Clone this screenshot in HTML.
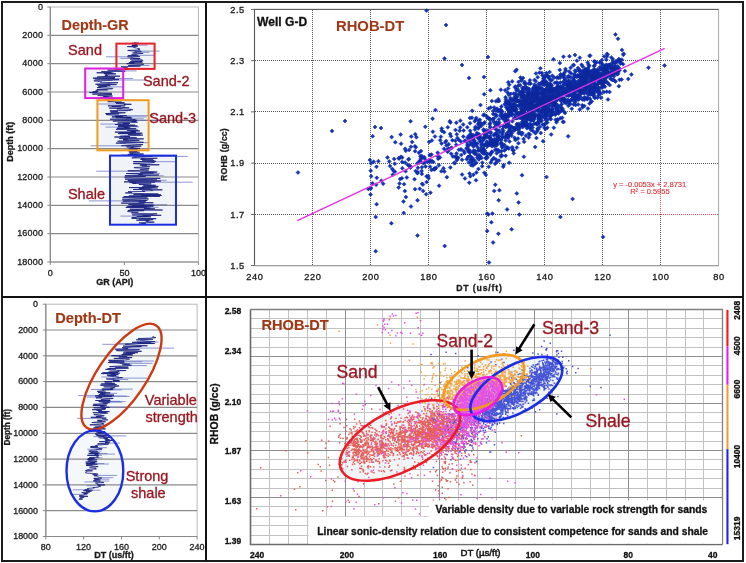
<!DOCTYPE html>
<html><head><meta charset="utf-8"><style>
html,body{margin:0;padding:0;background:#fff;}
body{width:746px;height:563px;overflow:hidden;}
svg{display:block;font-family:'Liberation Sans', Arial, sans-serif;}
text{paint-order:stroke;}
</style></head><body>
<svg width="746" height="563" viewBox="0 0 746 563">
<rect x="50.3" y="7.0" width="148.1" height="255.0" fill="#fff" stroke="#b8b8b8" stroke-width="1"/>
<rect x="116.4" y="43.6" width="38.2" height="25.3" fill="#f0f4f8"/>
<rect x="85.2" y="68.5" width="38" height="29.6" fill="#f0f4f8"/>
<rect x="97.4" y="100.2" width="51.2" height="50.1" fill="#f0f4f8"/>
<rect x="110.0" y="155.6" width="66" height="69.1" fill="#f0f4f8"/>
<line x1="50.3" y1="35.3" x2="198.4" y2="35.3" stroke="#8a8a8a" stroke-width="1.2"/>
<line x1="50.3" y1="63.7" x2="198.4" y2="63.7" stroke="#8a8a8a" stroke-width="1.2"/>
<line x1="50.3" y1="92" x2="198.4" y2="92" stroke="#8a8a8a" stroke-width="1.2"/>
<line x1="50.3" y1="120.3" x2="198.4" y2="120.3" stroke="#8a8a8a" stroke-width="1.2"/>
<line x1="50.3" y1="148.7" x2="198.4" y2="148.7" stroke="#8a8a8a" stroke-width="1.2"/>
<line x1="50.3" y1="177" x2="198.4" y2="177" stroke="#8a8a8a" stroke-width="1.2"/>
<line x1="50.3" y1="205.3" x2="198.4" y2="205.3" stroke="#8a8a8a" stroke-width="1.2"/>
<line x1="50.3" y1="233.7" x2="198.4" y2="233.7" stroke="#8a8a8a" stroke-width="1.2"/>
<line x1="50.3" y1="7.0" x2="50.3" y2="262.0" stroke="#888" stroke-width="1.2"/>
<line x1="50.3" y1="262.0" x2="198.4" y2="262.0" stroke="#888" stroke-width="1.2"/>
<line x1="47.3" y1="7" x2="50.3" y2="7" stroke="#888" stroke-width="1"/>
<text x="43.2" y="9.6" font-size="9" fill="#1a1a1a" stroke="#1a1a1a" stroke-width="0.3" text-anchor="end" letter-spacing="0.2">0</text>
<line x1="47.3" y1="35.3" x2="50.3" y2="35.3" stroke="#888" stroke-width="1"/>
<text x="43.2" y="37.9" font-size="9" fill="#1a1a1a" stroke="#1a1a1a" stroke-width="0.3" text-anchor="end" letter-spacing="0.2">2000</text>
<line x1="47.3" y1="63.7" x2="50.3" y2="63.7" stroke="#888" stroke-width="1"/>
<text x="43.2" y="66.3" font-size="9" fill="#1a1a1a" stroke="#1a1a1a" stroke-width="0.3" text-anchor="end" letter-spacing="0.2">4000</text>
<line x1="47.3" y1="92" x2="50.3" y2="92" stroke="#888" stroke-width="1"/>
<text x="43.2" y="94.6" font-size="9" fill="#1a1a1a" stroke="#1a1a1a" stroke-width="0.3" text-anchor="end" letter-spacing="0.2">6000</text>
<line x1="47.3" y1="120.3" x2="50.3" y2="120.3" stroke="#888" stroke-width="1"/>
<text x="43.2" y="122.9" font-size="9" fill="#1a1a1a" stroke="#1a1a1a" stroke-width="0.3" text-anchor="end" letter-spacing="0.2">8000</text>
<line x1="47.3" y1="148.7" x2="50.3" y2="148.7" stroke="#888" stroke-width="1"/>
<text x="43.2" y="151.3" font-size="9" fill="#1a1a1a" stroke="#1a1a1a" stroke-width="0.3" text-anchor="end" letter-spacing="0.2">10000</text>
<line x1="47.3" y1="177" x2="50.3" y2="177" stroke="#888" stroke-width="1"/>
<text x="43.2" y="179.6" font-size="9" fill="#1a1a1a" stroke="#1a1a1a" stroke-width="0.3" text-anchor="end" letter-spacing="0.2">12000</text>
<line x1="47.3" y1="205.3" x2="50.3" y2="205.3" stroke="#888" stroke-width="1"/>
<text x="43.2" y="207.9" font-size="9" fill="#1a1a1a" stroke="#1a1a1a" stroke-width="0.3" text-anchor="end" letter-spacing="0.2">14000</text>
<line x1="47.3" y1="233.7" x2="50.3" y2="233.7" stroke="#888" stroke-width="1"/>
<text x="43.2" y="236.3" font-size="9" fill="#1a1a1a" stroke="#1a1a1a" stroke-width="0.3" text-anchor="end" letter-spacing="0.2">16000</text>
<line x1="47.3" y1="262" x2="50.3" y2="262" stroke="#888" stroke-width="1"/>
<text x="43.2" y="264.6" font-size="9" fill="#1a1a1a" stroke="#1a1a1a" stroke-width="0.3" text-anchor="end" letter-spacing="0.2">18000</text>
<line x1="50.3" y1="262.0" x2="50.3" y2="265.0" stroke="#888" stroke-width="1"/>
<text x="50.3" y="276.2" font-size="9" fill="#1a1a1a" stroke="#1a1a1a" stroke-width="0.3" text-anchor="middle">0</text>
<line x1="124.4" y1="262.0" x2="124.4" y2="265.0" stroke="#888" stroke-width="1"/>
<text x="124.4" y="276.2" font-size="9" fill="#1a1a1a" stroke="#1a1a1a" stroke-width="0.3" text-anchor="middle">50</text>
<line x1="198.4" y1="262.0" x2="198.4" y2="265.0" stroke="#888" stroke-width="1"/>
<text x="198.4" y="276.2" font-size="9" fill="#1a1a1a" stroke="#1a1a1a" stroke-width="0.3" text-anchor="middle">100</text>
<text x="114.7" y="285" font-size="9" font-weight="bold" fill="#1a1a1a" stroke="#1a1a1a" stroke-width="0.3" text-anchor="middle">GR (API)</text>
<text x="13.2" y="141.7" font-size="9" font-weight="bold" fill="#1a1a1a" stroke="#1a1a1a" stroke-width="0.3" text-anchor="middle" transform="rotate(-90 13.2 141.7)">Depth (ft)</text>
<path fill="none" stroke="#5664b8" stroke-width="0.8" opacity="0.85" d="M136 42.8H132M131.9 45.1H147.4M141 51.1H159.6M136.2 52.3H149.2M137.6 55.3H154.5M127.3 56.8H106M140.2 58.4H120.4M128.3 65.6H149.3M121.4 70.9H136.5M114.8 78.5H133.1M113.7 80H146.7M98.3 86.9H122.9M117.2 100.2H133.1M126.1 104H96.9M109.9 110.8H128M126.9 115.7H153.9M111.9 116.9H146.7M125.8 118.8H143.7M137 120.3H161.6M129 124.1H100.4M117.9 126.8H139M128.6 127.1H105.5M120 142.7H148.1M121.4 145.8H90.7M143.6 154.1H127.2M138.4 154.9H121.4M133.4 156H163.1M152.6 156.4H187.7M133.2 161.7H176.2M135 171.2H96.2M126.2 173.5H160M124.9 175.8H163.7M127.8 180.3H166.5M155 182.2H192.7M129.6 200.9H88.9M128.5 204.7H167.2M125.8 207.3H158.5M148.5 216.1H120.3"/><polyline fill="none" stroke="#151d7c" stroke-width="0.8" stroke-linejoin="bevel" points="134.3,42.4 136,42.8 138.8,43.2 137.9,43.5 136.1,43.9 134.9,44.3 137.3,44.7 131.9,45.1 136.8,45.4 131.9,45.8 138,46.2 127.3,46.6 135.4,47 133.6,47.3 134.6,47.7 136.8,48.1 137.6,48.5 139.7,48.9 137.9,49.2 139.7,49.6 140.2,50 127.7,50.4 131,50.8 141,51.1 141.2,51.5 134.5,51.9 136.2,52.3 136.7,52.7 132.5,53 143.1,53.4 138.1,53.8 136.8,54.2 135.1,54.6 131.4,54.9 137.6,55.3 127.8,55.7 138.8,56.1 139.7,56.5 127.3,56.8 130.8,57.2 132.7,57.6 132.7,58 140.2,58.4 132.1,58.7 130,59.1 139.4,59.5 141.9,59.9 142.9,60.3 143.1,60.6 131.3,61 142.1,61.4 130.2,61.8 142.5,62.2 128.9,62.5 133.3,62.9 134.4,63.3 126.7,63.7 143.7,64.1 143.6,64.4 140.7,64.8 131.3,65.2 128.3,65.6 140.4,66 139.4,66.3 121,66.7 122.4,67.1 125.5,67.5 127.7,67.9 123.8,68.2 121.2,68.6 115.4,69 128.7,69.4 121.5,69.8 107.5,70.1 113.9,70.5 121.4,70.9 125.2,71.3 101.3,71.7 106.1,72 111.4,72.4 96.7,72.8 113.6,73.2 103.9,73.6 116,73.9 106,74.3 106.8,74.7 104.8,75.1 107.6,75.5 105.2,75.8 119.9,76.2 101.9,76.6 97.1,77 115,77.4 112.1,77.7 92.9,78.1 114.8,78.5 94.5,78.9 97,79.3 119,79.6 113.7,80 112.5,80.4 93.9,80.8 97.8,81.2 97.9,81.5 101.4,81.9 100.6,82.3 118,82.7 112.7,83.1 110.6,83.4 104.8,83.8 95.5,84.2 116.5,84.6 97.2,85 98,85.3 110.3,85.7 100.7,86.1 106.8,86.5 98.3,86.9 101.1,87.2 97.1,87.6 104.1,88 112.9,88.4 112.6,88.8 109.6,89.1 96.9,89.5 107.7,89.9 96.1,90.3 95.6,90.7 98,91 98.2,91.4 92.8,91.8 97.2,92.2 89.5,92.6 99.4,92.9 111.9,93.3 102.9,93.7 92.4,94.1 112,94.5 109,94.8 98,95.2 97.7,95.6 112.5,96 103.3,96.4 108.4,96.7 107.5,97.1 99.9,97.5 113.5,97.9 104.4,98.3 109.7,98.6 105.5,99 113.2,99.4 114.2,99.8 117.2,100.2 117,100.5 113.8,100.9 111.5,101.3 107.7,101.7 121.6,102.1 115.2,102.4 124.5,102.8 116,103.2 119.3,103.6 126.1,104 131.4,104.3 123.8,104.7 125.4,105.1 123.8,105.5 107.9,105.9 121,106.2 111.8,106.6 124.6,107 122.8,107.4 129.1,107.8 109.2,108.1 122.3,108.5 116.8,108.9 131.2,109.3 132.8,109.7 129.6,110 130.5,110.4 109.9,110.8 110.6,111.2 117.8,111.6 113.8,111.9 110.6,112.3 125.4,112.7 121.6,113.1 105.5,113.5 119,113.8 111.5,114.2 106,114.6 110.6,115 119.2,115.4 126.9,115.7 114.9,116.1 122.7,116.5 111.9,116.9 130.9,117.3 115.8,117.6 132.1,118 128.1,118.4 125.8,118.8 110.1,119.2 135.2,119.5 133.2,119.9 137,120.3 118.3,120.7 112.9,121.1 136.2,121.4 131.7,121.8 137.5,122.2 121.7,122.6 117.6,123 130,123.3 123,123.7 129,124.1 115.1,124.5 126.9,124.9 135.2,125.2 118.2,125.6 137.4,126 126.5,126.4 117.9,126.8 128.6,127.1 123.9,127.5 130.3,127.9 116.9,128.3 136.2,128.7 119.4,129 116,129.4 132.1,129.8 137.8,130.2 127.2,130.6 139.8,130.9 130.7,131.3 135.8,131.7 114.9,132.1 136,132.5 119.2,132.8 142.4,133.2 118.1,133.6 140.4,134 132.3,134.4 128.1,134.7 142.8,135.1 136.6,135.5 123.4,135.9 119.8,136.3 129.9,136.6 114.4,137 123.6,137.4 136.7,137.8 126.9,138.2 119.2,138.5 143.7,138.9 123,139.3 127.5,139.7 123.4,140.1 139.3,140.4 122.4,140.8 117.5,141.2 129.6,141.6 137.1,142 143.5,142.3 120,142.7 115.9,143.1 122.3,143.5 127.7,143.9 134.5,144.2 143,144.6 138.3,145 131.3,145.4 121.4,145.8 141.2,146.1 137.8,146.5 126.5,146.9 133.5,147.3 130.8,147.7 136.2,148 140,148.4 128.5,148.8 137.3,149.2 132.5,149.6 131,149.9 124.6,150.3 128.5,150.7 133.7,151.1 137.1,151.5 128.8,151.8 139.6,152.2 129.7,152.6 130.1,153 129.9,153.4 136.7,153.7 143.6,154.1 128.2,154.5 138.4,154.9 130.1,155.3 143.9,155.6 133.4,156 152.6,156.4 141.5,156.8 137.4,157.2 134.9,157.5 131.8,157.9 157.3,158.3 141.2,158.7 144.7,159.1 140.4,159.4 153.2,159.8 142.2,160.2 154.1,160.6 153.2,161 155.9,161.3 133.2,161.7 154.7,162.1 154.2,162.5 151,162.9 146.4,163.2 133.3,163.6 140.2,164 140.7,164.4 159.3,164.8 139.8,165.1 146.8,165.5 141.7,165.9 144.9,166.3 149.8,166.7 147.5,167 134,167.4 134.2,167.8 144,168.2 149.3,168.6 145.5,168.9 140.3,169.3 143,169.7 148.7,170.1 133.4,170.5 127.8,170.8 135,171.2 154.1,171.6 157.2,172 156,172.4 140.4,172.7 153.8,173.1 126.2,173.5 133.9,173.9 142.5,174.3 138.6,174.6 158.9,175 151.3,175.4 124.9,175.8 136.9,176.2 145.5,176.5 126.1,176.9 124.5,177.3 125.2,177.7 140.4,178.1 160.2,178.4 141.7,178.8 125,179.2 147.1,179.6 157,180 127.8,180.3 129.2,180.7 160.9,181.1 131.9,181.5 124,181.9 155,182.2 129.5,182.6 135.9,183 132.5,183.4 151.2,183.8 149.6,184.1 138.9,184.5 148.7,184.9 155.7,185.3 143.4,185.7 151,186 158.4,186.4 142.3,186.8 154.6,187.2 129,187.6 157.7,187.9 138.9,188.3 144,188.7 151.5,189.1 133.1,189.5 162.3,189.8 151.4,190.2 152.5,190.6 141.9,191 145.1,191.4 128,191.7 129.6,192.1 131.9,192.5 125.3,192.9 130.8,193.3 144.6,193.6 158.4,194 133.5,194.4 160.9,194.8 140.9,195.2 161.6,195.5 128.9,195.9 160,196.3 123.6,196.7 147.5,197.1 127.8,197.4 122.3,197.8 130.6,198.2 146.7,198.6 148.6,199 137.3,199.3 122.4,199.7 124.5,200.1 147.4,200.5 129.6,200.9 122.7,201.2 145.6,201.6 138.6,202 141,202.4 153.3,202.8 121.1,203.1 139,203.5 144.4,203.9 132.3,204.3 128.5,204.7 153.5,205 153.9,205.4 131.8,205.8 153.3,206.2 127.3,206.6 146.8,206.9 125.8,207.3 146.3,207.7 150.4,208.1 144.2,208.5 154.8,208.8 129.8,209.2 141.8,209.6 162.5,210 127.8,210.4 144.2,210.7 128.1,211.1 127.5,211.5 130.6,211.9 138.3,212.3 132.1,212.6 131.4,213 137.3,213.4 157.1,213.8 152.9,214.2 153,214.5 132.1,214.9 161.2,215.3 142.6,215.7 148.5,216.1 136.9,216.4 151,216.8 137,217.2 131.9,217.6 136.8,218 131.6,218.3 156.2,218.7 138.9,219.1 153.2,219.5 152.6,219.9 136.3,220.2 149.5,220.6 145.5,221 146.3,221.4 149.1,221.8 154.3,222.1 149.8,222.5 138.9,222.9 145.9,223.3 141.3,223.7"/>
<rect x="116.4" y="43.6" width="38.2" height="25.3" fill="none" stroke="#e8202a" stroke-width="2"/>
<rect x="85.2" y="68.5" width="38" height="29.6" fill="none" stroke="#e020e0" stroke-width="2"/>
<rect x="97.4" y="100.2" width="51.2" height="50.1" fill="none" stroke="#f39a1e" stroke-width="2"/>
<rect x="110.0" y="155.6" width="66" height="69.1" fill="none" stroke="#1c2fe0" stroke-width="2"/>
<text x="61.5" y="29.9" font-size="14.4" font-weight="bold" fill="#a03814" stroke="#a03814" stroke-width="0.15">Depth-GR</text>
<text x="68.1" y="54.8" font-size="14.5" fill="#9a1520" stroke="#9a1520" stroke-width="0.3">Sand</text>
<text x="142.9" y="86.2" font-size="14.5" fill="#9a1520" stroke="#9a1520" stroke-width="0.3">Sand-2</text>
<text x="149.3" y="123.1" font-size="14.5" fill="#9a1520" stroke="#9a1520" stroke-width="0.3">Sand-3</text>
<text x="67.9" y="198.6" font-size="14.5" fill="#9a1520" stroke="#9a1520" stroke-width="0.3">Shale</text>
<rect x="45.8" y="304.2" width="151.3" height="232.3" fill="#fff" stroke="#b8b8b8" stroke-width="1"/>
<ellipse cx="121.5" cy="376.6" rx="61.8" ry="24.0" transform="rotate(-55.8 121.5 376.6)" fill="#f5f8fb"/>
<ellipse cx="94.9" cy="470.9" rx="28.4" ry="40.5" transform="rotate(0 94.9 470.9)" fill="#f5f8fb"/>
<line x1="45.8" y1="330" x2="197.1" y2="330" stroke="#8a8a8a" stroke-width="1.2"/>
<line x1="45.8" y1="355.8" x2="197.1" y2="355.8" stroke="#8a8a8a" stroke-width="1.2"/>
<line x1="45.8" y1="381.6" x2="197.1" y2="381.6" stroke="#8a8a8a" stroke-width="1.2"/>
<line x1="45.8" y1="407.4" x2="197.1" y2="407.4" stroke="#8a8a8a" stroke-width="1.2"/>
<line x1="45.8" y1="433.3" x2="197.1" y2="433.3" stroke="#8a8a8a" stroke-width="1.2"/>
<line x1="45.8" y1="459.1" x2="197.1" y2="459.1" stroke="#8a8a8a" stroke-width="1.2"/>
<line x1="45.8" y1="484.9" x2="197.1" y2="484.9" stroke="#8a8a8a" stroke-width="1.2"/>
<line x1="45.8" y1="510.7" x2="197.1" y2="510.7" stroke="#8a8a8a" stroke-width="1.2"/>
<line x1="45.8" y1="304.2" x2="45.8" y2="536.5" stroke="#888" stroke-width="1.2"/>
<line x1="45.8" y1="536.5" x2="197.1" y2="536.5" stroke="#888" stroke-width="1.2"/>
<line x1="42.8" y1="304.2" x2="45.8" y2="304.2" stroke="#888" stroke-width="1"/>
<text x="37.9" y="307" font-size="8.9" fill="#1a1a1a" stroke="#1a1a1a" stroke-width="0.3" text-anchor="end">0</text>
<line x1="42.8" y1="330" x2="45.8" y2="330" stroke="#888" stroke-width="1"/>
<text x="37.9" y="332.8" font-size="8.9" fill="#1a1a1a" stroke="#1a1a1a" stroke-width="0.3" text-anchor="end">2000</text>
<line x1="42.8" y1="355.8" x2="45.8" y2="355.8" stroke="#888" stroke-width="1"/>
<text x="37.9" y="358.6" font-size="8.9" fill="#1a1a1a" stroke="#1a1a1a" stroke-width="0.3" text-anchor="end">4000</text>
<line x1="42.8" y1="381.6" x2="45.8" y2="381.6" stroke="#888" stroke-width="1"/>
<text x="37.9" y="384.4" font-size="8.9" fill="#1a1a1a" stroke="#1a1a1a" stroke-width="0.3" text-anchor="end">6000</text>
<line x1="42.8" y1="407.4" x2="45.8" y2="407.4" stroke="#888" stroke-width="1"/>
<text x="37.9" y="410.2" font-size="8.9" fill="#1a1a1a" stroke="#1a1a1a" stroke-width="0.3" text-anchor="end">8000</text>
<line x1="42.8" y1="433.3" x2="45.8" y2="433.3" stroke="#888" stroke-width="1"/>
<text x="37.9" y="436.1" font-size="8.9" fill="#1a1a1a" stroke="#1a1a1a" stroke-width="0.3" text-anchor="end">10000</text>
<line x1="42.8" y1="459.1" x2="45.8" y2="459.1" stroke="#888" stroke-width="1"/>
<text x="37.9" y="461.9" font-size="8.9" fill="#1a1a1a" stroke="#1a1a1a" stroke-width="0.3" text-anchor="end">12000</text>
<line x1="42.8" y1="484.9" x2="45.8" y2="484.9" stroke="#888" stroke-width="1"/>
<text x="37.9" y="487.7" font-size="8.9" fill="#1a1a1a" stroke="#1a1a1a" stroke-width="0.3" text-anchor="end">14000</text>
<line x1="42.8" y1="510.7" x2="45.8" y2="510.7" stroke="#888" stroke-width="1"/>
<text x="37.9" y="513.5" font-size="8.9" fill="#1a1a1a" stroke="#1a1a1a" stroke-width="0.3" text-anchor="end">16000</text>
<line x1="42.8" y1="536.5" x2="45.8" y2="536.5" stroke="#888" stroke-width="1"/>
<text x="37.9" y="539.3" font-size="8.9" fill="#1a1a1a" stroke="#1a1a1a" stroke-width="0.3" text-anchor="end">18000</text>
<line x1="45.8" y1="536.5" x2="45.8" y2="539.5" stroke="#888" stroke-width="1"/>
<text x="45.8" y="549.6" font-size="9" fill="#1a1a1a" stroke="#1a1a1a" stroke-width="0.3" text-anchor="middle">80</text>
<line x1="83.6" y1="536.5" x2="83.6" y2="539.5" stroke="#888" stroke-width="1"/>
<text x="83.6" y="549.6" font-size="9" fill="#1a1a1a" stroke="#1a1a1a" stroke-width="0.3" text-anchor="middle">120</text>
<line x1="121.5" y1="536.5" x2="121.5" y2="539.5" stroke="#888" stroke-width="1"/>
<text x="121.5" y="549.6" font-size="9" fill="#1a1a1a" stroke="#1a1a1a" stroke-width="0.3" text-anchor="middle">160</text>
<line x1="159.3" y1="536.5" x2="159.3" y2="539.5" stroke="#888" stroke-width="1"/>
<text x="159.3" y="549.6" font-size="9" fill="#1a1a1a" stroke="#1a1a1a" stroke-width="0.3" text-anchor="middle">200</text>
<line x1="197.1" y1="536.5" x2="197.1" y2="539.5" stroke="#888" stroke-width="1"/>
<text x="197.1" y="549.6" font-size="9" fill="#1a1a1a" stroke="#1a1a1a" stroke-width="0.3" text-anchor="middle">240</text>
<text x="114" y="558.4" font-size="9" font-weight="bold" fill="#1a1a1a" stroke="#1a1a1a" stroke-width="0.3" text-anchor="middle">DT (us/ft)</text>
<text x="10.2" y="427.2" font-size="8.2" font-weight="bold" fill="#1a1a1a" stroke="#1a1a1a" stroke-width="0.3" text-anchor="middle" transform="rotate(-90 10.2 427.2)">Depth (ft)</text>
<path fill="none" stroke="#5664b8" stroke-width="0.8" opacity="0.85" d="M136.5 342H158.2M154.5 343.5H117M124.8 344.3H102.4M123.2 348.1H174M124.1 361H153.9M112.8 361.8H142.3M119.8 363.3H152.6M129.1 365.6H146.9M118.5 377H101.3M116.7 378.1H146.9M113.9 379.6H128.2M101.8 389.1H133M113.1 389.5H91M106.6 389.9H121.9M100.2 393.3H117.2M114 395.2H100.7M102.1 395.6H78.2M95.2 396H126.6M112.3 396.4H129.6M99.6 397.1H86.7M98.9 401.3H119.8M98.9 401.7H125.5M101.5 402.1H122M92.9 405.5H106.7M105.7 407H127.2M102 418.4H77M93.6 427.9H105.4M105.1 431.7H85.4M107.3 435.9H126.3M104.3 436.6H93.2M107.7 438.5H99.3M109.1 443.1H119.8M94.5 447.7H106.8M101.8 449.2H87.3M88.8 451.1H101.7M88.7 453.4H107.4M98.4 454.1H114.9M87.4 455.3H102M89.2 457.9H102.3M85.9 463.6H104.2M96.5 464H108.8M97.2 475.4H117.2M99.6 477.7H113.4M94.5 479.2H109.3M93.8 481.1H109.2M100 481.9H84.5M97.6 485.7H86.6M84.7 489.8H72.8M92.7 490.2H100.3M84.9 494.4H72"/><polyline fill="none" stroke="#151d7c" stroke-width="0.8" stroke-linejoin="bevel" points="154,336.7 152.4,337.1 156,337.5 155.2,337.8 148.2,338.2 138.2,338.6 151.5,339 152.9,339.4 136.3,339.7 139.6,340.1 141.7,340.5 146.3,340.9 149.6,341.3 155.1,341.6 136.5,342 132.1,342.4 151.2,342.8 137.8,343.2 154.5,343.5 127,343.9 124.8,344.3 129.9,344.7 134.9,345.1 138.6,345.4 147.4,345.8 123.1,346.2 141.5,346.6 132.5,347 130.4,347.3 122.1,347.7 123.2,348.1 127.9,348.5 128,348.9 114.9,349.2 139.5,349.6 136.2,350 116.4,350.4 116.6,350.8 141.4,351.1 141.4,351.5 125.5,351.9 123.4,352.3 137.8,352.7 126.2,353 134.8,353.4 122.9,353.8 131.5,354.2 121.7,354.6 132.9,354.9 120.2,355.3 111.4,355.7 117.3,356.1 127.1,356.5 119,356.8 118.9,357.2 132.1,357.6 124.1,358 113.9,358.4 129.1,358.7 129.6,359.1 127.8,359.5 125.5,359.9 108.3,360.3 118.7,360.6 124.1,361 109.4,361.4 112.8,361.8 124.4,362.2 107.9,362.5 116.6,362.9 119.8,363.3 124.7,363.7 129.8,364.1 128.4,364.4 122.3,364.8 131.5,365.2 129.1,365.6 121.4,366 114.2,366.3 109.5,366.7 128.2,367.1 119,367.5 115.2,367.9 128.6,368.2 107.6,368.6 115.8,369 105.6,369.4 110.4,369.8 110.2,370.1 126.1,370.5 117.6,370.9 119.2,371.3 114.4,371.7 108.6,372 117.9,372.4 102.4,372.8 119.8,373.2 101.2,373.6 115.5,373.9 111,374.3 118.4,374.7 106.9,375.1 116.2,375.5 107.8,375.8 111.9,376.2 111.9,376.6 118.5,377 118.4,377.4 122.6,377.7 116.7,378.1 115.9,378.5 106.2,378.9 109.1,379.3 113.9,379.6 113,380 119.1,380.4 112.9,380.8 119.9,381.2 104.5,381.5 111.9,381.9 106,382.3 105.5,382.7 104.7,383.1 114.9,383.4 101.4,383.8 100.8,384.2 116.5,384.6 105.1,385 100.4,385.3 118.7,385.7 119.1,386.1 116.1,386.5 103.6,386.9 110.8,387.2 114.9,387.6 114.5,388 110.4,388.4 112.8,388.8 101.8,389.1 113.1,389.5 106.6,389.9 104.2,390.3 101.9,390.7 99.7,391 97.1,391.4 104.4,391.8 106.1,392.2 98,392.6 110.2,392.9 100.2,393.3 102.2,393.7 105.2,394.1 98.8,394.5 108.2,394.8 114,395.2 102.1,395.6 95.2,396 112.3,396.4 98.4,396.7 99.6,397.1 101.8,397.5 95.9,397.9 113.3,398.3 112.3,398.6 105.2,399 102.8,399.4 100.9,399.8 110.2,400.2 95.4,400.5 110.4,400.9 98.9,401.3 98.9,401.7 101.5,402.1 109.2,402.4 109.7,402.8 102.8,403.2 107.5,403.6 97.3,404 93.3,404.3 97.3,404.7 106.8,405.1 92.9,405.5 104.7,405.9 100.2,406.2 103.1,406.6 105.7,407 109.5,407.4 93.6,407.8 100,408.1 105.9,408.5 101.4,408.9 105.3,409.3 92.1,409.7 100.8,410 96.6,410.4 102.1,410.8 98.1,411.2 109.4,411.6 98.9,411.9 106.3,412.3 92.8,412.7 107.8,413.1 103.8,413.5 102.1,413.8 99.9,414.2 93.8,414.6 96.1,415 99.2,415.4 104.3,415.7 102.9,416.1 96,416.5 101.6,416.9 90.8,417.3 100,417.6 106.3,418 102,418.4 102.5,418.8 103.1,419.2 106,419.5 107.8,419.9 97.3,420.3 101.9,420.7 97.6,421.1 102.4,421.4 105.6,421.8 95,422.2 91.8,422.6 101.6,423 103.3,423.3 101.7,423.7 104.2,424.1 93.8,424.5 89.8,424.9 98.9,425.2 99.8,425.6 101.8,426 104.8,426.4 96.6,426.8 94.8,427.1 104,427.5 93.6,427.9 93.3,428.3 104.3,428.7 105.5,429 92.6,429.4 91.8,429.8 101,430.2 93,430.6 93.6,430.9 97.6,431.3 105.1,431.7 96.4,432.1 102.6,432.5 98.2,432.8 103.7,433.2 97.5,433.6 94.9,434 97.5,434.4 96.3,434.7 108.9,435.1 96.6,435.5 107.3,435.9 103.1,436.3 104.3,436.6 98.4,437 110.7,437.4 103.3,437.8 104.2,438.2 107.7,438.5 104.6,438.9 104.8,439.3 109.5,439.7 105.6,440.1 113.3,440.4 105.4,440.8 107.7,441.2 99.2,441.6 110.2,442 108.7,442.3 105,442.7 109.1,443.1 100.2,443.5 97.5,443.9 108.5,444.2 103.5,444.6 99.2,445 96,445.4 95.3,445.8 97.7,446.1 90.6,446.5 97.9,446.9 90.4,447.3 94.5,447.7 98.6,448 98.9,448.4 102.3,448.8 101.8,449.2 96.3,449.6 96.7,449.9 90.7,450.3 90.9,450.7 88.8,451.1 91.8,451.5 97.9,451.8 93.1,452.2 90.5,452.6 99.5,453 88.7,453.4 98,453.7 98.4,454.1 94.6,454.5 98.6,454.9 87.4,455.3 98.4,455.6 98.1,456 96.9,456.4 96.8,456.8 98.7,457.2 90,457.5 89.2,457.9 94.7,458.3 87.9,458.7 93.5,459.1 87.2,459.4 97,459.8 93.7,460.2 88.8,460.6 87.7,461 92.9,461.3 97.2,461.7 85.6,462.1 95.3,462.5 90,462.9 94.8,463.2 85.9,463.6 96.5,464 97.3,464.4 86.2,464.8 92.4,465.1 86.2,465.5 91.8,465.9 95.4,466.3 98.2,466.7 90.6,467 89.5,467.4 90.5,467.8 95.7,468.2 94.6,468.6 96.5,468.9 89.9,469.3 87.4,469.7 86.9,470.1 85.4,470.5 92.6,470.8 86,471.2 86.2,471.6 86.6,472 85.6,472.4 85.3,472.7 87,473.1 93.9,473.5 97.7,473.9 97.9,474.3 92.6,474.6 96,475 97.2,475.4 93.9,475.8 96.9,476.2 97.6,476.5 98.5,476.9 98.7,477.3 99.6,477.7 101.7,478.1 93.6,478.4 98.6,478.8 94.5,479.2 96.8,479.6 100.4,480 97.2,480.3 93.2,480.7 93.8,481.1 98.6,481.5 100,481.9 101.3,482.2 103.9,482.6 95.4,483 96.7,483.4 97.6,483.8 96.9,484.1 99.2,484.5 104.9,484.9 101.5,485.3 97.6,485.7 99.8,486 100.6,486.4 98.6,486.8 98.5,487.2 92.9,487.6 94.4,487.9 88.9,488.3 87.2,488.7 88.9,489.1 85.9,489.5 84.7,489.8 92.7,490.2 83.4,490.6 90.7,491 91.3,491.4 85.9,491.7 89.7,492.1 81.6,492.5 83.4,492.9 88.2,493.3 83.6,493.6 87,494 84.9,494.4 84.5,494.8 83.5,495.2 79.4,495.5 81.1,495.9 88,496.3 79.3,496.7 81.5,497.1 84.2,497.4 80.6,497.8 81.3,498.2 79.5,498.6 82.7,499 81.8,499.3 78.8,499.7"/>
<ellipse cx="121.5" cy="376.6" rx="61.8" ry="24.0" transform="rotate(-55.8 121.5 376.6)" fill="none" stroke="#cc3a14" stroke-width="2.4"/>
<ellipse cx="94.9" cy="470.9" rx="28.4" ry="40.5" transform="rotate(0 94.9 470.9)" fill="none" stroke="#1c2fe0" stroke-width="2.4"/>
<text x="55.3" y="322.8" font-size="14.6" font-weight="bold" fill="#a03814" stroke="#a03814" stroke-width="0.15">Depth-DT</text>
<text x="144.8" y="405" font-size="14.5" fill="#9a1520" stroke="#9a1520" stroke-width="0.3">Variable</text>
<text x="145.4" y="422.4" font-size="14.5" fill="#9a1520" stroke="#9a1520" stroke-width="0.3">strength</text>
<text x="125.7" y="481.1" font-size="14.5" fill="#9a1520" stroke="#9a1520" stroke-width="0.3">Strong</text>
<text x="131" y="498" font-size="14.5" fill="#9a1520" stroke="#9a1520" stroke-width="0.3">shale</text>
<rect x="254.5" y="9.4" width="464.1" height="256.2" fill="#fff" stroke="#a8a8a8" stroke-width="1"/>
<path d="M312.5 10V265.6M370.5 10V265.6M428.5 10V265.6M486.5 10V265.6M544.5 10V265.6M602.5 10V265.6M660.5 10V265.6M255 60.5H718.6M255 111.5H718.6M255 163.5H718.6M255 214.5H718.6" stroke="#585858" stroke-width="1" stroke-dasharray="1 1" fill="none"/>
<path d="M254.5 9.4H718.6" stroke="#555" stroke-width="1" fill="none"/>
<path d="M254.5 265.6H718.6" stroke="#a0a0a0" stroke-width="1.2" fill="none"/>
<path d="M254.5 9.4V265.6" stroke="#555" stroke-width="1.1" fill="none"/>
<text x="244.8" y="12.7" font-size="9.3" fill="#1a1a1a" stroke="#1a1a1a" stroke-width="0.3" text-anchor="end" letter-spacing="0.55">2.5</text>
<text x="244.8" y="63.94" font-size="9.3" fill="#1a1a1a" stroke="#1a1a1a" stroke-width="0.3" text-anchor="end" letter-spacing="0.55">2.3</text>
<text x="244.8" y="115.18" font-size="9.3" fill="#1a1a1a" stroke="#1a1a1a" stroke-width="0.3" text-anchor="end" letter-spacing="0.55">2.1</text>
<text x="244.8" y="166.42" font-size="9.3" fill="#1a1a1a" stroke="#1a1a1a" stroke-width="0.3" text-anchor="end" letter-spacing="0.55">1.9</text>
<text x="244.8" y="217.66" font-size="9.3" fill="#1a1a1a" stroke="#1a1a1a" stroke-width="0.3" text-anchor="end" letter-spacing="0.55">1.7</text>
<text x="244.8" y="268.9" font-size="9.3" fill="#1a1a1a" stroke="#1a1a1a" stroke-width="0.3" text-anchor="end" letter-spacing="0.55">1.5</text>
<text x="254.8" y="279.8" font-size="9.3" fill="#1a1a1a" stroke="#1a1a1a" stroke-width="0.3" text-anchor="middle" letter-spacing="0.55">240</text>
<text x="312.81" y="279.8" font-size="9.3" fill="#1a1a1a" stroke="#1a1a1a" stroke-width="0.3" text-anchor="middle" letter-spacing="0.55">220</text>
<text x="370.82" y="279.8" font-size="9.3" fill="#1a1a1a" stroke="#1a1a1a" stroke-width="0.3" text-anchor="middle" letter-spacing="0.55">200</text>
<text x="428.84" y="279.8" font-size="9.3" fill="#1a1a1a" stroke="#1a1a1a" stroke-width="0.3" text-anchor="middle" letter-spacing="0.55">180</text>
<text x="486.85" y="279.8" font-size="9.3" fill="#1a1a1a" stroke="#1a1a1a" stroke-width="0.3" text-anchor="middle" letter-spacing="0.55">160</text>
<text x="544.86" y="279.8" font-size="9.3" fill="#1a1a1a" stroke="#1a1a1a" stroke-width="0.3" text-anchor="middle" letter-spacing="0.55">140</text>
<text x="602.88" y="279.8" font-size="9.3" fill="#1a1a1a" stroke="#1a1a1a" stroke-width="0.3" text-anchor="middle" letter-spacing="0.55">120</text>
<text x="660.89" y="279.8" font-size="9.3" fill="#1a1a1a" stroke="#1a1a1a" stroke-width="0.3" text-anchor="middle" letter-spacing="0.55">100</text>
<text x="718.9" y="279.8" font-size="9.3" fill="#1a1a1a" stroke="#1a1a1a" stroke-width="0.3" text-anchor="middle" letter-spacing="0.55">80</text>
<path d="M251 9.4H254.5M251 60.64H254.5M251 111.88H254.5M251 163.12H254.5M251 214.36H254.5M251 265.6H254.5" stroke="#666" stroke-width="1" fill="none"/>
<text x="479.5" y="290.5" font-size="8.7" font-weight="bold" fill="#1a1a1a" stroke="#1a1a1a" stroke-width="0.3" text-anchor="middle" letter-spacing="0.85">DT (us/ft)</text>
<text x="227.4" y="154.5" font-size="8.7" font-weight="bold" fill="#1a1a1a" stroke="#1a1a1a" stroke-width="0.3" text-anchor="middle" transform="rotate(-90 227.4 154.5)" letter-spacing="0.15">ROHB (g/cc)</text>
<text x="257.0" y="26.1" font-size="12.1" font-weight="bold" fill="#111" stroke="#111" stroke-width="0.3">Well G-D</text>
<text x="336" y="30.5" font-size="14.8" font-weight="bold" fill="#a03814" stroke="#a03814" stroke-width="0.05">RHOB-DT</text>
<path d="M514.73 116.19l2 2-2 2-2-2zM552.19 86.32l2 2-2 2-2-2zM510.38 112.11l2 2-2 2-2-2zM550.92 109.17l2 2-2 2-2-2zM506.02 97.21l2 2-2 2-2-2zM551.94 100.07l2 2-2 2-2-2zM570.38 98.44l2 2-2 2-2-2zM532.61 98.8l2 2-2 2-2-2zM583.34 74.81l2 2-2 2-2-2zM515.03 95.12l2 2-2 2-2-2zM538.59 101.79l2 2-2 2-2-2zM529.11 103.37l2 2-2 2-2-2zM544.87 106.4l2 2-2 2-2-2zM557.97 93.59l2 2-2 2-2-2zM505.7 124.9l2 2-2 2-2-2zM508.1 111.72l2 2-2 2-2-2zM507.99 114.16l2 2-2 2-2-2zM522.33 110.36l2 2-2 2-2-2zM598.49 71.02l2 2-2 2-2-2zM544.99 78.51l2 2-2 2-2-2zM534.04 111.07l2 2-2 2-2-2zM536.2 106.02l2 2-2 2-2-2zM532.62 88.69l2 2-2 2-2-2zM542.41 86.78l2 2-2 2-2-2zM568.91 78.59l2 2-2 2-2-2zM549.06 94.91l2 2-2 2-2-2zM550.91 85.69l2 2-2 2-2-2zM554.33 90.69l2 2-2 2-2-2zM563.33 96.8l2 2-2 2-2-2zM534.55 90.91l2 2-2 2-2-2zM553.08 99.45l2 2-2 2-2-2zM565.22 82.09l2 2-2 2-2-2zM549.24 101.8l2 2-2 2-2-2zM542.49 100.84l2 2-2 2-2-2zM536.29 92.6l2 2-2 2-2-2zM514.61 105.56l2 2-2 2-2-2zM555.25 112.83l2 2-2 2-2-2zM560.17 104.21l2 2-2 2-2-2zM554.49 101.97l2 2-2 2-2-2zM543.58 108.1l2 2-2 2-2-2zM567.98 81.48l2 2-2 2-2-2zM533.21 129.37l2 2-2 2-2-2zM545.81 109.81l2 2-2 2-2-2zM546.59 80.35l2 2-2 2-2-2zM591.69 99.4l2 2-2 2-2-2zM543.36 107.94l2 2-2 2-2-2zM533.72 89.86l2 2-2 2-2-2zM535.85 106.23l2 2-2 2-2-2zM560.98 99.08l2 2-2 2-2-2zM544.32 115.8l2 2-2 2-2-2zM525.74 116.76l2 2-2 2-2-2zM555.6 87.78l2 2-2 2-2-2zM497.14 106.71l2 2-2 2-2-2zM543.31 104.86l2 2-2 2-2-2zM560.11 75.83l2 2-2 2-2-2zM539.48 108.32l2 2-2 2-2-2zM520.42 75.59l2 2-2 2-2-2zM563.61 119.98l2 2-2 2-2-2zM550.23 81.66l2 2-2 2-2-2zM529.34 107.19l2 2-2 2-2-2zM586.6 85.79l2 2-2 2-2-2zM546.43 117.61l2 2-2 2-2-2zM544.33 122.79l2 2-2 2-2-2zM520.46 101.73l2 2-2 2-2-2zM557.27 110.69l2 2-2 2-2-2zM550.03 98.58l2 2-2 2-2-2zM497.58 109.18l2 2-2 2-2-2zM521.56 100.41l2 2-2 2-2-2zM545.37 91.98l2 2-2 2-2-2zM551.41 94.91l2 2-2 2-2-2zM530.3 105.3l2 2-2 2-2-2zM548.71 106.89l2 2-2 2-2-2zM525.69 102.62l2 2-2 2-2-2zM518.59 131.31l2 2-2 2-2-2zM562.65 86.03l2 2-2 2-2-2zM520.35 91.28l2 2-2 2-2-2zM540.33 101.82l2 2-2 2-2-2zM578.79 84.33l2 2-2 2-2-2zM508.24 80.27l2 2-2 2-2-2zM563.8 90.58l2 2-2 2-2-2zM506.36 117.39l2 2-2 2-2-2zM523.89 154.73l2 2-2 2-2-2zM560.31 97.5l2 2-2 2-2-2zM521.31 78.35l2 2-2 2-2-2zM525.35 84.53l2 2-2 2-2-2zM535.98 71.48l2 2-2 2-2-2zM525.21 122.9l2 2-2 2-2-2zM560.99 72.97l2 2-2 2-2-2zM511.5 124.63l2 2-2 2-2-2zM546.98 82.23l2 2-2 2-2-2zM519.12 99.34l2 2-2 2-2-2zM509.78 103.91l2 2-2 2-2-2zM563.44 97.65l2 2-2 2-2-2zM574.64 81.69l2 2-2 2-2-2zM528.21 91.09l2 2-2 2-2-2zM526.68 87.24l2 2-2 2-2-2zM505.91 124.74l2 2-2 2-2-2zM567.82 97.63l2 2-2 2-2-2zM562.67 91.98l2 2-2 2-2-2zM522.8 108.38l2 2-2 2-2-2zM522.99 91.76l2 2-2 2-2-2zM495.95 99.31l2 2-2 2-2-2zM536.69 102.75l2 2-2 2-2-2zM534.56 121.4l2 2-2 2-2-2zM542.5 106l2 2-2 2-2-2zM554.82 80.85l2 2-2 2-2-2zM502.54 127.08l2 2-2 2-2-2zM529.87 121.98l2 2-2 2-2-2zM547.76 109.38l2 2-2 2-2-2zM539.48 70.64l2 2-2 2-2-2zM546.1 86.97l2 2-2 2-2-2zM519.31 102.82l2 2-2 2-2-2zM555.3 104.16l2 2-2 2-2-2zM546.42 73.2l2 2-2 2-2-2zM512.16 79.38l2 2-2 2-2-2zM537.25 108.7l2 2-2 2-2-2zM522.77 110.58l2 2-2 2-2-2zM545.75 110.34l2 2-2 2-2-2zM515.98 98.94l2 2-2 2-2-2zM530.79 127.64l2 2-2 2-2-2zM556.08 89.88l2 2-2 2-2-2zM540.9 100.28l2 2-2 2-2-2zM538.75 96.83l2 2-2 2-2-2zM522.98 89.76l2 2-2 2-2-2zM532.56 125.4l2 2-2 2-2-2zM546.55 96.95l2 2-2 2-2-2zM532.25 103.62l2 2-2 2-2-2zM539.29 90.54l2 2-2 2-2-2zM541.01 101.97l2 2-2 2-2-2zM517.58 98.75l2 2-2 2-2-2zM511.36 97.87l2 2-2 2-2-2zM540.39 66.35l2 2-2 2-2-2zM527.68 96.46l2 2-2 2-2-2zM524.73 107.63l2 2-2 2-2-2zM557.85 91.81l2 2-2 2-2-2zM530.08 95.32l2 2-2 2-2-2zM538.39 112.47l2 2-2 2-2-2zM522.42 91.54l2 2-2 2-2-2zM506.09 99.75l2 2-2 2-2-2zM515.41 125.83l2 2-2 2-2-2zM541.49 95.15l2 2-2 2-2-2zM560.26 80.54l2 2-2 2-2-2zM554.57 103.35l2 2-2 2-2-2zM498.34 97.17l2 2-2 2-2-2zM523.18 119.53l2 2-2 2-2-2zM554.13 75.55l2 2-2 2-2-2zM553.9 87.32l2 2-2 2-2-2zM525.59 98.27l2 2-2 2-2-2zM520.19 83.31l2 2-2 2-2-2zM510.41 95.94l2 2-2 2-2-2zM556.41 120.27l2 2-2 2-2-2zM586.15 72.83l2 2-2 2-2-2zM501.11 111.74l2 2-2 2-2-2zM528.67 131.82l2 2-2 2-2-2zM542.99 87.66l2 2-2 2-2-2zM556.64 98.72l2 2-2 2-2-2zM502.28 109.48l2 2-2 2-2-2zM531.55 103.35l2 2-2 2-2-2zM536.71 95.98l2 2-2 2-2-2zM536.5 92.67l2 2-2 2-2-2zM527 126.15l2 2-2 2-2-2zM545.18 102.75l2 2-2 2-2-2zM504.79 113.34l2 2-2 2-2-2zM544.72 79.08l2 2-2 2-2-2zM554.81 86.8l2 2-2 2-2-2zM542.95 95.9l2 2-2 2-2-2zM546.54 112.67l2 2-2 2-2-2zM536.63 122.3l2 2-2 2-2-2zM516.19 97.43l2 2-2 2-2-2zM543.86 82.6l2 2-2 2-2-2zM533.77 114.57l2 2-2 2-2-2zM549.59 70.12l2 2-2 2-2-2zM555.62 117.81l2 2-2 2-2-2zM557.45 87.63l2 2-2 2-2-2zM523.01 103l2 2-2 2-2-2zM512.68 108.29l2 2-2 2-2-2zM531.67 101.02l2 2-2 2-2-2zM557.26 87.85l2 2-2 2-2-2zM513.86 125.89l2 2-2 2-2-2zM513.23 105.5l2 2-2 2-2-2zM531.63 98.3l2 2-2 2-2-2zM515.61 107.13l2 2-2 2-2-2zM574.31 74.66l2 2-2 2-2-2zM539.37 114.94l2 2-2 2-2-2zM554.21 103l2 2-2 2-2-2zM541.95 71.04l2 2-2 2-2-2zM520.25 110.16l2 2-2 2-2-2zM552.35 111.2l2 2-2 2-2-2zM543.66 94.12l2 2-2 2-2-2zM535.63 98.26l2 2-2 2-2-2zM544.28 106.43l2 2-2 2-2-2zM525.22 94.82l2 2-2 2-2-2zM525.57 121.04l2 2-2 2-2-2zM565.62 100.81l2 2-2 2-2-2zM556.71 102.79l2 2-2 2-2-2zM539.48 108.53l2 2-2 2-2-2zM514.92 108.08l2 2-2 2-2-2zM525.91 115.77l2 2-2 2-2-2zM524.4 104.95l2 2-2 2-2-2zM550.8 112.76l2 2-2 2-2-2zM515.96 97.44l2 2-2 2-2-2zM545.67 81.19l2 2-2 2-2-2zM541.58 90.51l2 2-2 2-2-2zM524.33 81.33l2 2-2 2-2-2zM546.91 88.98l2 2-2 2-2-2zM529.94 132.52l2 2-2 2-2-2zM568.16 134.36l2 2-2 2-2-2zM541.91 93.42l2 2-2 2-2-2zM546.58 118.22l2 2-2 2-2-2zM537.88 106.34l2 2-2 2-2-2zM540.99 86.09l2 2-2 2-2-2zM535.78 94.16l2 2-2 2-2-2zM516.95 121.97l2 2-2 2-2-2zM549.05 95.91l2 2-2 2-2-2zM508.1 86.39l2 2-2 2-2-2zM544.71 95.56l2 2-2 2-2-2zM503.67 115.33l2 2-2 2-2-2zM506.94 114.26l2 2-2 2-2-2zM540.6 103.74l2 2-2 2-2-2zM541.03 101l2 2-2 2-2-2zM512.29 106.82l2 2-2 2-2-2zM525.03 102.89l2 2-2 2-2-2zM544.42 105.6l2 2-2 2-2-2zM553.45 57.35l2 2-2 2-2-2zM542.57 95.18l2 2-2 2-2-2zM584.23 91.27l2 2-2 2-2-2zM506.7 120.28l2 2-2 2-2-2zM531.37 116.89l2 2-2 2-2-2zM515.39 109.26l2 2-2 2-2-2zM532.99 101.08l2 2-2 2-2-2zM515.14 85.41l2 2-2 2-2-2zM550.06 108.2l2 2-2 2-2-2zM529.3 90.1l2 2-2 2-2-2zM542.86 105.59l2 2-2 2-2-2zM532.59 102.41l2 2-2 2-2-2zM556.85 75.78l2 2-2 2-2-2zM515.28 84.41l2 2-2 2-2-2zM518.77 98.87l2 2-2 2-2-2zM514.06 101.71l2 2-2 2-2-2zM569.12 82.76l2 2-2 2-2-2zM545.49 126.9l2 2-2 2-2-2zM525.64 81.92l2 2-2 2-2-2zM538.69 86.8l2 2-2 2-2-2zM560.55 72.29l2 2-2 2-2-2zM516.44 88l2 2-2 2-2-2zM532.46 88.64l2 2-2 2-2-2zM532.76 97.32l2 2-2 2-2-2zM529.35 117.14l2 2-2 2-2-2zM554.12 93.36l2 2-2 2-2-2zM513.2 96.91l2 2-2 2-2-2zM553.82 125.65l2 2-2 2-2-2zM523.15 96.19l2 2-2 2-2-2zM516.93 94.82l2 2-2 2-2-2zM516.43 107.35l2 2-2 2-2-2zM563.26 88.2l2 2-2 2-2-2zM517.72 87.28l2 2-2 2-2-2zM539.91 98.8l2 2-2 2-2-2zM506.91 99.64l2 2-2 2-2-2zM540.57 112.83l2 2-2 2-2-2zM549.01 97.74l2 2-2 2-2-2zM531.55 107.51l2 2-2 2-2-2zM547.3 125.7l2 2-2 2-2-2zM512.52 106.93l2 2-2 2-2-2zM558.7 86.69l2 2-2 2-2-2zM562.86 87.8l2 2-2 2-2-2zM536.8 95.51l2 2-2 2-2-2zM504.6 102.32l2 2-2 2-2-2zM581.54 88.55l2 2-2 2-2-2zM552.58 106.39l2 2-2 2-2-2zM552.25 107.49l2 2-2 2-2-2zM529.76 100.84l2 2-2 2-2-2zM552.83 88.24l2 2-2 2-2-2zM509.5 110.31l2 2-2 2-2-2zM528.9 112.8l2 2-2 2-2-2zM516.68 95.41l2 2-2 2-2-2zM537.93 121.54l2 2-2 2-2-2zM535.94 103.25l2 2-2 2-2-2zM537.74 104.26l2 2-2 2-2-2zM561.06 108.52l2 2-2 2-2-2zM511.96 131.07l2 2-2 2-2-2zM534.23 97.4l2 2-2 2-2-2zM580.7 77.7l2 2-2 2-2-2zM578.11 94.61l2 2-2 2-2-2zM519.02 115.71l2 2-2 2-2-2zM549.34 93.01l2 2-2 2-2-2zM489.91 117.86l2 2-2 2-2-2zM526.48 90.17l2 2-2 2-2-2zM569.42 81.95l2 2-2 2-2-2zM526.93 101.12l2 2-2 2-2-2zM516.98 99.2l2 2-2 2-2-2zM539.45 103.71l2 2-2 2-2-2zM525.87 104.5l2 2-2 2-2-2zM512.34 119.3l2 2-2 2-2-2zM522.89 110.12l2 2-2 2-2-2zM516.02 103.25l2 2-2 2-2-2zM533.66 85.37l2 2-2 2-2-2zM582.76 78.57l2 2-2 2-2-2zM530.72 93.34l2 2-2 2-2-2zM573.68 102.47l2 2-2 2-2-2zM534.43 82.85l2 2-2 2-2-2zM529.68 112.47l2 2-2 2-2-2zM519.98 92.17l2 2-2 2-2-2zM509.33 102.86l2 2-2 2-2-2zM532.82 93.54l2 2-2 2-2-2zM551.17 132.44l2 2-2 2-2-2zM564.2 73.45l2 2-2 2-2-2zM542.99 98.92l2 2-2 2-2-2zM538.91 114.04l2 2-2 2-2-2zM527.96 100.28l2 2-2 2-2-2zM528.34 103.21l2 2-2 2-2-2zM564.57 98.32l2 2-2 2-2-2zM508.15 107.96l2 2-2 2-2-2zM525.17 117.35l2 2-2 2-2-2zM544.99 109.07l2 2-2 2-2-2zM524.69 79.95l2 2-2 2-2-2zM545.78 99.55l2 2-2 2-2-2zM538.75 81.73l2 2-2 2-2-2zM533.9 92.49l2 2-2 2-2-2zM524.81 111.13l2 2-2 2-2-2zM537.97 87.76l2 2-2 2-2-2zM490.32 88.27l2 2-2 2-2-2zM531.02 118.83l2 2-2 2-2-2zM523 76.01l2 2-2 2-2-2zM521.84 113.46l2 2-2 2-2-2zM574 99.3l2 2-2 2-2-2zM544.02 99.96l2 2-2 2-2-2zM513.46 105.33l2 2-2 2-2-2zM525.56 95.21l2 2-2 2-2-2zM535.12 95.99l2 2-2 2-2-2zM550.02 114.22l2 2-2 2-2-2zM552.31 99.12l2 2-2 2-2-2zM523.36 85.95l2 2-2 2-2-2zM536.72 108.17l2 2-2 2-2-2zM523.48 124.18l2 2-2 2-2-2zM531.63 108.19l2 2-2 2-2-2zM523.09 89.72l2 2-2 2-2-2zM569.15 69.42l2 2-2 2-2-2zM550.51 86.52l2 2-2 2-2-2zM537.03 89.39l2 2-2 2-2-2zM532.97 115.13l2 2-2 2-2-2zM568.5 74.07l2 2-2 2-2-2zM541.22 111.63l2 2-2 2-2-2zM527.78 114.67l2 2-2 2-2-2zM524.28 114.83l2 2-2 2-2-2zM550.73 110.82l2 2-2 2-2-2zM536.58 84.26l2 2-2 2-2-2zM542.79 82.61l2 2-2 2-2-2zM558.29 111.4l2 2-2 2-2-2zM544.39 89.43l2 2-2 2-2-2zM559.56 92.27l2 2-2 2-2-2zM510.44 108.09l2 2-2 2-2-2zM561.37 84.91l2 2-2 2-2-2zM536.5 96.03l2 2-2 2-2-2zM501.24 110.25l2 2-2 2-2-2zM543.88 100.17l2 2-2 2-2-2zM521.36 78.39l2 2-2 2-2-2zM563.05 98.25l2 2-2 2-2-2zM562.36 106.59l2 2-2 2-2-2zM524.33 98.13l2 2-2 2-2-2zM550.86 117.14l2 2-2 2-2-2zM502.73 113.43l2 2-2 2-2-2zM525.37 113.71l2 2-2 2-2-2zM562.27 84.59l2 2-2 2-2-2zM512.67 112.62l2 2-2 2-2-2zM522.39 86.08l2 2-2 2-2-2zM550.05 87.18l2 2-2 2-2-2zM542.01 80.02l2 2-2 2-2-2zM549.2 74.91l2 2-2 2-2-2zM546.41 71.11l2 2-2 2-2-2zM560.25 84.45l2 2-2 2-2-2zM505.17 112.21l2 2-2 2-2-2zM537.16 86.78l2 2-2 2-2-2zM528.05 108.45l2 2-2 2-2-2zM516.52 67.82l2 2-2 2-2-2zM530.09 109.66l2 2-2 2-2-2zM547.01 109.77l2 2-2 2-2-2zM536.43 136.05l2 2-2 2-2-2zM552.87 97.4l2 2-2 2-2-2zM561.7 102.13l2 2-2 2-2-2zM534.65 93.07l2 2-2 2-2-2zM557.72 96.66l2 2-2 2-2-2zM494.16 105.38l2 2-2 2-2-2zM545.46 98.06l2 2-2 2-2-2zM544.73 105.77l2 2-2 2-2-2zM547.17 117.62l2 2-2 2-2-2zM522.67 101.74l2 2-2 2-2-2zM546.09 106.56l2 2-2 2-2-2zM558.87 110.81l2 2-2 2-2-2zM533.13 118.46l2 2-2 2-2-2zM539.36 85.03l2 2-2 2-2-2zM544.46 125.83l2 2-2 2-2-2zM548.44 88.68l2 2-2 2-2-2zM486.49 114.06l2 2-2 2-2-2zM523.05 108.14l2 2-2 2-2-2zM583.89 88.84l2 2-2 2-2-2zM536.99 87.63l2 2-2 2-2-2zM512.34 109.23l2 2-2 2-2-2zM543.07 139.2l2 2-2 2-2-2zM525.05 97.63l2 2-2 2-2-2zM557.87 91.81l2 2-2 2-2-2zM519.37 126.6l2 2-2 2-2-2zM523.01 88.74l2 2-2 2-2-2zM544.7 103.66l2 2-2 2-2-2zM533.28 111.91l2 2-2 2-2-2zM546.92 83.7l2 2-2 2-2-2zM484.18 92.27l2 2-2 2-2-2zM540.09 116.06l2 2-2 2-2-2zM562.45 107.81l2 2-2 2-2-2zM571.37 84.63l2 2-2 2-2-2zM547.96 74.28l2 2-2 2-2-2zM551.19 99.3l2 2-2 2-2-2zM531.86 96.84l2 2-2 2-2-2zM515.53 112.54l2 2-2 2-2-2zM558.34 85.46l2 2-2 2-2-2zM542.57 88.74l2 2-2 2-2-2zM535.48 87.34l2 2-2 2-2-2zM542.04 95.16l2 2-2 2-2-2zM538.78 91.32l2 2-2 2-2-2zM511.89 107.77l2 2-2 2-2-2zM564.09 109.63l2 2-2 2-2-2zM534.07 112.94l2 2-2 2-2-2zM552.51 98.68l2 2-2 2-2-2zM508.22 118.5l2 2-2 2-2-2zM523.81 122.96l2 2-2 2-2-2zM554.26 100.96l2 2-2 2-2-2zM491.08 130.64l2 2-2 2-2-2zM542.52 80.3l2 2-2 2-2-2zM554.85 93.2l2 2-2 2-2-2zM528.73 94.56l2 2-2 2-2-2zM514.34 105.17l2 2-2 2-2-2zM595.75 75.78l2 2-2 2-2-2zM536.52 91.81l2 2-2 2-2-2zM521.33 100.26l2 2-2 2-2-2zM523.79 118.81l2 2-2 2-2-2zM535.45 113.21l2 2-2 2-2-2zM518.97 121.81l2 2-2 2-2-2zM539.03 108.79l2 2-2 2-2-2zM529.31 91.88l2 2-2 2-2-2zM556.7 85.28l2 2-2 2-2-2zM528.5 92.29l2 2-2 2-2-2zM537.82 94.77l2 2-2 2-2-2zM543.19 102.38l2 2-2 2-2-2zM515.42 91.18l2 2-2 2-2-2zM549.1 107.53l2 2-2 2-2-2zM543.16 81.83l2 2-2 2-2-2zM549.54 99.96l2 2-2 2-2-2zM543.67 103.33l2 2-2 2-2-2zM530.98 106.32l2 2-2 2-2-2zM550.94 87.02l2 2-2 2-2-2zM508.07 112.65l2 2-2 2-2-2zM529.94 78.37l2 2-2 2-2-2zM526.26 113.7l2 2-2 2-2-2zM533.64 103.39l2 2-2 2-2-2zM516.87 122.49l2 2-2 2-2-2zM568.3 83.09l2 2-2 2-2-2zM515.93 94.43l2 2-2 2-2-2zM553.49 94.24l2 2-2 2-2-2zM527.34 121.82l2 2-2 2-2-2zM553.74 101.01l2 2-2 2-2-2zM501.99 115.52l2 2-2 2-2-2zM541.4 81.56l2 2-2 2-2-2zM561.25 108.91l2 2-2 2-2-2zM551.82 83.62l2 2-2 2-2-2zM527.54 117.97l2 2-2 2-2-2zM561.43 106.05l2 2-2 2-2-2zM558.3 89.16l2 2-2 2-2-2zM518.36 83.66l2 2-2 2-2-2zM562.99 119.77l2 2-2 2-2-2zM524.67 99.75l2 2-2 2-2-2zM550.32 99.45l2 2-2 2-2-2zM506.15 105.13l2 2-2 2-2-2zM525.86 133.67l2 2-2 2-2-2zM526.89 117.06l2 2-2 2-2-2zM582.52 105.34l2 2-2 2-2-2zM571.76 106.73l2 2-2 2-2-2zM510.68 108.1l2 2-2 2-2-2zM520.62 104.21l2 2-2 2-2-2zM576.93 58.63l2 2-2 2-2-2zM540.05 82.03l2 2-2 2-2-2zM568.35 103.77l2 2-2 2-2-2zM537.25 128.99l2 2-2 2-2-2zM544.34 115.08l2 2-2 2-2-2zM538.95 91.89l2 2-2 2-2-2zM528.14 103.06l2 2-2 2-2-2zM548.41 96.92l2 2-2 2-2-2zM579.85 77.77l2 2-2 2-2-2zM523.31 97.02l2 2-2 2-2-2zM513.59 91.63l2 2-2 2-2-2zM522.08 120.04l2 2-2 2-2-2zM536.24 98.52l2 2-2 2-2-2zM548.33 109.96l2 2-2 2-2-2zM551.81 104.26l2 2-2 2-2-2zM523.97 103.03l2 2-2 2-2-2zM520.72 106.83l2 2-2 2-2-2zM518.48 104.07l2 2-2 2-2-2zM531.53 100.11l2 2-2 2-2-2zM528.33 97.81l2 2-2 2-2-2zM559.09 85.45l2 2-2 2-2-2zM517.8 112.21l2 2-2 2-2-2zM509.59 98.57l2 2-2 2-2-2zM528.75 81.38l2 2-2 2-2-2zM476.32 132.97l2 2-2 2-2-2zM546.8 72.86l2 2-2 2-2-2zM522 115.53l2 2-2 2-2-2zM493.58 108.82l2 2-2 2-2-2zM512.06 109.49l2 2-2 2-2-2zM503.24 128.72l2 2-2 2-2-2zM534.87 105.71l2 2-2 2-2-2zM518.5 79.92l2 2-2 2-2-2zM525.99 87.19l2 2-2 2-2-2zM531.67 91.26l2 2-2 2-2-2zM528.86 101.44l2 2-2 2-2-2zM554.75 102.79l2 2-2 2-2-2zM516.8 109.77l2 2-2 2-2-2zM566.37 93.58l2 2-2 2-2-2zM521.49 106.13l2 2-2 2-2-2zM534.39 114.75l2 2-2 2-2-2zM538.63 104.95l2 2-2 2-2-2zM570.73 65.68l2 2-2 2-2-2zM507.53 90.44l2 2-2 2-2-2zM510.27 124.91l2 2-2 2-2-2zM550.21 116.85l2 2-2 2-2-2zM493.78 108.63l2 2-2 2-2-2zM568.91 99.77l2 2-2 2-2-2zM557.45 102.97l2 2-2 2-2-2zM536.56 100.59l2 2-2 2-2-2zM541.08 110.25l2 2-2 2-2-2zM534.61 106.08l2 2-2 2-2-2zM557.66 75.3l2 2-2 2-2-2zM524.74 114.08l2 2-2 2-2-2zM530.16 101.57l2 2-2 2-2-2zM578.1 87l2 2-2 2-2-2zM533.89 117.15l2 2-2 2-2-2zM577.98 66l2 2-2 2-2-2zM523.88 108.29l2 2-2 2-2-2zM535.43 131.24l2 2-2 2-2-2zM543.88 91.8l2 2-2 2-2-2zM541.1 87.62l2 2-2 2-2-2zM525.06 107.59l2 2-2 2-2-2zM569.46 54.24l2 2-2 2-2-2zM551.16 112.54l2 2-2 2-2-2zM560.28 116.16l2 2-2 2-2-2zM545.34 98.64l2 2-2 2-2-2zM528.96 92.48l2 2-2 2-2-2zM560.81 73.03l2 2-2 2-2-2zM530.87 96.17l2 2-2 2-2-2zM509.28 82.85l2 2-2 2-2-2zM529.47 105.96l2 2-2 2-2-2zM543.21 109.28l2 2-2 2-2-2zM529.51 95.19l2 2-2 2-2-2zM545.38 105.78l2 2-2 2-2-2zM510.75 91.86l2 2-2 2-2-2zM522.12 122.11l2 2-2 2-2-2zM550.28 82.06l2 2-2 2-2-2zM542.57 109.5l2 2-2 2-2-2zM557.77 81.7l2 2-2 2-2-2zM538.92 119.09l2 2-2 2-2-2zM589.96 96.81l2 2-2 2-2-2zM516.69 116.25l2 2-2 2-2-2zM530.01 103l2 2-2 2-2-2zM520.85 101.48l2 2-2 2-2-2zM545.38 121.5l2 2-2 2-2-2zM551.56 99.59l2 2-2 2-2-2zM532.52 92.26l2 2-2 2-2-2zM538.22 117.07l2 2-2 2-2-2zM562.21 115.83l2 2-2 2-2-2zM540.85 98.45l2 2-2 2-2-2zM507.34 119.93l2 2-2 2-2-2zM511.32 133.63l2 2-2 2-2-2zM524.03 106.62l2 2-2 2-2-2zM507.68 107.43l2 2-2 2-2-2zM524.3 122.11l2 2-2 2-2-2zM534.46 85.43l2 2-2 2-2-2zM498.92 117.45l2 2-2 2-2-2zM520.85 92.77l2 2-2 2-2-2zM546.23 93.64l2 2-2 2-2-2zM534.98 93.32l2 2-2 2-2-2zM522.72 100.88l2 2-2 2-2-2zM508.86 122.42l2 2-2 2-2-2zM534.52 77.9l2 2-2 2-2-2zM544.07 113.15l2 2-2 2-2-2zM547.38 113.55l2 2-2 2-2-2zM530.91 103.41l2 2-2 2-2-2zM506.49 102.34l2 2-2 2-2-2zM496.59 107.13l2 2-2 2-2-2zM543.4 104.7l2 2-2 2-2-2zM558.81 92.1l2 2-2 2-2-2zM519.47 114.7l2 2-2 2-2-2zM542.7 122.49l2 2-2 2-2-2zM578.33 94.4l2 2-2 2-2-2zM511.61 105.19l2 2-2 2-2-2zM535.84 91.24l2 2-2 2-2-2zM549.6 104.09l2 2-2 2-2-2zM553.15 96.11l2 2-2 2-2-2zM514.73 99.35l2 2-2 2-2-2zM540.7 117.12l2 2-2 2-2-2zM571.13 98.03l2 2-2 2-2-2zM546.48 105.41l2 2-2 2-2-2zM558.5 108.29l2 2-2 2-2-2zM544.12 75.99l2 2-2 2-2-2zM556.17 96.86l2 2-2 2-2-2zM530.05 111.05l2 2-2 2-2-2zM541.2 97.82l2 2-2 2-2-2zM504.48 117.32l2 2-2 2-2-2zM546.33 95.49l2 2-2 2-2-2zM508.23 120.35l2 2-2 2-2-2zM550.64 96.63l2 2-2 2-2-2zM542.23 93.22l2 2-2 2-2-2zM526.27 112.8l2 2-2 2-2-2zM530.22 106.23l2 2-2 2-2-2zM601.68 80.03l2 2-2 2-2-2zM529.97 81.44l2 2-2 2-2-2zM541.86 108.72l2 2-2 2-2-2zM521.34 104.59l2 2-2 2-2-2zM496.09 127.38l2 2-2 2-2-2zM528.31 114.05l2 2-2 2-2-2zM561.09 87.01l2 2-2 2-2-2zM556.05 95.06l2 2-2 2-2-2zM530.62 99.65l2 2-2 2-2-2zM526.63 123.12l2 2-2 2-2-2zM547.4 81.77l2 2-2 2-2-2zM548.14 85.23l2 2-2 2-2-2zM513.75 127.99l2 2-2 2-2-2zM517.96 125.82l2 2-2 2-2-2zM544.58 109.43l2 2-2 2-2-2zM551.86 109.5l2 2-2 2-2-2zM545.68 104.45l2 2-2 2-2-2zM546.54 111.18l2 2-2 2-2-2zM533.95 115.99l2 2-2 2-2-2zM564.31 86.85l2 2-2 2-2-2zM541.64 91.26l2 2-2 2-2-2zM531.9 106.52l2 2-2 2-2-2zM524.8 94.03l2 2-2 2-2-2zM536.45 103.43l2 2-2 2-2-2zM545.91 106.16l2 2-2 2-2-2zM509.77 132.81l2 2-2 2-2-2zM528.64 93.79l2 2-2 2-2-2zM531.29 109.31l2 2-2 2-2-2zM550.61 89.09l2 2-2 2-2-2zM530.53 81.54l2 2-2 2-2-2zM538.63 98.22l2 2-2 2-2-2zM532.51 114.87l2 2-2 2-2-2zM575.57 96.7l2 2-2 2-2-2zM529.25 125.26l2 2-2 2-2-2zM529.44 103.51l2 2-2 2-2-2zM527.39 111.33l2 2-2 2-2-2zM547.29 97.71l2 2-2 2-2-2zM531.25 101.25l2 2-2 2-2-2zM533.54 115.56l2 2-2 2-2-2zM525.33 103.97l2 2-2 2-2-2zM528.05 94.4l2 2-2 2-2-2zM523.91 86.46l2 2-2 2-2-2zM546.62 103.48l2 2-2 2-2-2zM538.54 121.22l2 2-2 2-2-2zM523.38 114.57l2 2-2 2-2-2zM542.23 90.71l2 2-2 2-2-2zM536.14 113.19l2 2-2 2-2-2zM538.66 103.64l2 2-2 2-2-2zM563.66 91.02l2 2-2 2-2-2zM500.46 107.56l2 2-2 2-2-2zM551.13 92.13l2 2-2 2-2-2zM505.13 88.3l2 2-2 2-2-2zM550.06 115.04l2 2-2 2-2-2zM500.84 87.7l2 2-2 2-2-2zM542.56 90.5l2 2-2 2-2-2zM528.74 99.97l2 2-2 2-2-2zM521.27 113.96l2 2-2 2-2-2zM555.3 96.95l2 2-2 2-2-2zM530.97 117.63l2 2-2 2-2-2zM536.98 108.51l2 2-2 2-2-2zM521.81 116.68l2 2-2 2-2-2zM556.86 108.91l2 2-2 2-2-2zM538.88 105.74l2 2-2 2-2-2zM529.79 116.03l2 2-2 2-2-2zM556.37 106.27l2 2-2 2-2-2zM522.32 90.7l2 2-2 2-2-2zM533.65 99.27l2 2-2 2-2-2zM525.14 114.38l2 2-2 2-2-2zM555.94 97.06l2 2-2 2-2-2zM559.04 95.63l2 2-2 2-2-2zM514.58 103.06l2 2-2 2-2-2zM532.97 111.81l2 2-2 2-2-2zM554.09 94.4l2 2-2 2-2-2zM550.78 82.85l2 2-2 2-2-2zM541.75 118.75l2 2-2 2-2-2zM549.87 108.79l2 2-2 2-2-2zM491.83 98.96l2 2-2 2-2-2zM525.09 119.86l2 2-2 2-2-2zM563.32 79.79l2 2-2 2-2-2zM512.25 98.34l2 2-2 2-2-2zM522.22 115.06l2 2-2 2-2-2zM539.99 124.75l2 2-2 2-2-2zM546 87.02l2 2-2 2-2-2zM539.67 97.21l2 2-2 2-2-2zM555.62 104.17l2 2-2 2-2-2zM534.21 114.02l2 2-2 2-2-2zM546.28 95.04l2 2-2 2-2-2zM544.42 106.35l2 2-2 2-2-2zM526.58 96.28l2 2-2 2-2-2zM559.86 89.91l2 2-2 2-2-2zM527.37 111.36l2 2-2 2-2-2zM508.77 114.57l2 2-2 2-2-2zM508.39 108.19l2 2-2 2-2-2zM498.99 108.65l2 2-2 2-2-2zM551.87 91.14l2 2-2 2-2-2zM522.46 130.99l2 2-2 2-2-2zM532.07 123.04l2 2-2 2-2-2zM518.64 89.34l2 2-2 2-2-2zM568.33 80.05l2 2-2 2-2-2zM556.51 107.6l2 2-2 2-2-2zM511.95 113.32l2 2-2 2-2-2zM528.54 112.78l2 2-2 2-2-2zM529.29 87.09l2 2-2 2-2-2zM541.18 108.99l2 2-2 2-2-2zM533.56 109.84l2 2-2 2-2-2zM525.93 105.1l2 2-2 2-2-2zM543.39 99.55l2 2-2 2-2-2zM564.75 100.44l2 2-2 2-2-2zM555.61 101.65l2 2-2 2-2-2zM533 86.76l2 2-2 2-2-2zM564.99 111.02l2 2-2 2-2-2zM539.03 96.24l2 2-2 2-2-2zM541.76 114.72l2 2-2 2-2-2zM536.39 87.62l2 2-2 2-2-2zM528.97 94.02l2 2-2 2-2-2zM527.77 92.86l2 2-2 2-2-2zM527.61 125.08l2 2-2 2-2-2zM547.32 74.04l2 2-2 2-2-2zM515.61 104.63l2 2-2 2-2-2zM521.76 89.1l2 2-2 2-2-2zM544.32 75.42l2 2-2 2-2-2zM552.72 102.67l2 2-2 2-2-2zM525.95 96.96l2 2-2 2-2-2zM538.07 102.13l2 2-2 2-2-2zM490.68 105.44l2 2-2 2-2-2zM545.49 95.18l2 2-2 2-2-2zM523.31 93.65l2 2-2 2-2-2zM519.12 98.71l2 2-2 2-2-2zM581.6 62.79l2 2-2 2-2-2zM567.18 92.95l2 2-2 2-2-2zM541.18 101.32l2 2-2 2-2-2zM537.46 122.12l2 2-2 2-2-2zM545.5 96.26l2 2-2 2-2-2zM534.95 104.3l2 2-2 2-2-2zM513.32 107.44l2 2-2 2-2-2zM527.81 113.32l2 2-2 2-2-2zM537.69 75.15l2 2-2 2-2-2zM537.19 113.9l2 2-2 2-2-2zM506 99.22l2 2-2 2-2-2zM554.12 90.87l2 2-2 2-2-2zM521.51 91.51l2 2-2 2-2-2zM536.48 93.38l2 2-2 2-2-2zM542.36 103.88l2 2-2 2-2-2zM547.59 91.31l2 2-2 2-2-2zM526.59 105.93l2 2-2 2-2-2zM535.26 103.78l2 2-2 2-2-2zM525.12 103.01l2 2-2 2-2-2zM522.25 99.62l2 2-2 2-2-2zM545.09 112.42l2 2-2 2-2-2zM529.27 112.15l2 2-2 2-2-2zM543.19 99.22l2 2-2 2-2-2zM545.92 88.93l2 2-2 2-2-2zM548.23 99.41l2 2-2 2-2-2zM473.13 135.39l2 2-2 2-2-2zM557.49 117.42l2 2-2 2-2-2zM516.96 111.34l2 2-2 2-2-2zM537.7 87.22l2 2-2 2-2-2zM560.86 95.53l2 2-2 2-2-2zM515.15 94.7l2 2-2 2-2-2zM540.75 130.94l2 2-2 2-2-2zM563.47 54.75l2 2-2 2-2-2zM505.77 124.32l2 2-2 2-2-2zM530.89 94.92l2 2-2 2-2-2zM547.94 96.81l2 2-2 2-2-2zM542.92 101.45l2 2-2 2-2-2zM522.76 125.11l2 2-2 2-2-2zM533.52 117.59l2 2-2 2-2-2zM549.27 95.4l2 2-2 2-2-2zM538.54 99.29l2 2-2 2-2-2zM500.2 113.5l2 2-2 2-2-2zM535.79 79.37l2 2-2 2-2-2zM514.02 126.03l2 2-2 2-2-2zM543.22 76.78l2 2-2 2-2-2zM544.52 96.44l2 2-2 2-2-2zM552.71 88.87l2 2-2 2-2-2zM528.12 94.62l2 2-2 2-2-2zM538.87 98.03l2 2-2 2-2-2zM522.14 102.9l2 2-2 2-2-2zM525.34 114.55l2 2-2 2-2-2zM508.78 92.76l2 2-2 2-2-2zM523.8 121.51l2 2-2 2-2-2zM530.05 112.66l2 2-2 2-2-2zM547.24 88.9l2 2-2 2-2-2zM552.92 100.02l2 2-2 2-2-2zM531.66 93.54l2 2-2 2-2-2zM528.31 87.26l2 2-2 2-2-2zM527.96 96.96l2 2-2 2-2-2zM546.13 100.98l2 2-2 2-2-2zM528.65 116.28l2 2-2 2-2-2zM558.8 91.27l2 2-2 2-2-2zM524.92 113.14l2 2-2 2-2-2zM487.34 115.94l2 2-2 2-2-2zM557.51 118.23l2 2-2 2-2-2zM530.3 124.54l2 2-2 2-2-2zM589.63 101.58l2 2-2 2-2-2zM497.66 134.03l2 2-2 2-2-2zM545.03 110.65l2 2-2 2-2-2zM529.56 95.71l2 2-2 2-2-2zM539.71 119.8l2 2-2 2-2-2zM550.36 90.33l2 2-2 2-2-2zM547.82 107.32l2 2-2 2-2-2zM546.54 95.54l2 2-2 2-2-2zM519.85 98.5l2 2-2 2-2-2zM525 98.67l2 2-2 2-2-2zM498.99 99.1l2 2-2 2-2-2zM546.72 80.72l2 2-2 2-2-2zM511.18 112.1l2 2-2 2-2-2zM569.97 102.37l2 2-2 2-2-2zM522.87 93.06l2 2-2 2-2-2zM521.19 95.54l2 2-2 2-2-2zM528.25 111.25l2 2-2 2-2-2zM511.91 101.65l2 2-2 2-2-2zM531.03 102.99l2 2-2 2-2-2zM517.44 98.92l2 2-2 2-2-2zM510.78 102.56l2 2-2 2-2-2zM544.65 93.64l2 2-2 2-2-2zM480.63 135.45l2 2-2 2-2-2zM530.17 91.8l2 2-2 2-2-2zM515.28 69.22l2 2-2 2-2-2zM510.94 128.77l2 2-2 2-2-2zM587.92 106.62l2 2-2 2-2-2zM522.35 107.97l2 2-2 2-2-2zM544.3 80.25l2 2-2 2-2-2zM565.24 77.38l2 2-2 2-2-2zM536.65 84.9l2 2-2 2-2-2zM542.88 97.57l2 2-2 2-2-2zM550.44 78.36l2 2-2 2-2-2zM545.48 121.61l2 2-2 2-2-2zM515.28 115.59l2 2-2 2-2-2zM541.72 91.5l2 2-2 2-2-2zM538.44 119.35l2 2-2 2-2-2zM560.67 97.26l2 2-2 2-2-2zM535.11 85.81l2 2-2 2-2-2zM547.26 120.45l2 2-2 2-2-2zM548.81 76.27l2 2-2 2-2-2zM493.13 111.96l2 2-2 2-2-2zM536.24 93.3l2 2-2 2-2-2zM532.01 107.61l2 2-2 2-2-2zM554.17 95.39l2 2-2 2-2-2zM552.25 73.74l2 2-2 2-2-2zM547.17 101.64l2 2-2 2-2-2zM514.36 128.45l2 2-2 2-2-2zM497.96 98.89l2 2-2 2-2-2zM593.69 91.84l2 2-2 2-2-2zM550.39 112.98l2 2-2 2-2-2zM551.9 77.95l2 2-2 2-2-2zM552.68 112.57l2 2-2 2-2-2zM533.36 103.26l2 2-2 2-2-2zM531.08 113.47l2 2-2 2-2-2zM522.34 99.29l2 2-2 2-2-2zM507.7 101.44l2 2-2 2-2-2zM542.72 104.4l2 2-2 2-2-2zM523.04 92.56l2 2-2 2-2-2zM544.41 102.03l2 2-2 2-2-2zM557.68 83.97l2 2-2 2-2-2zM530.88 110.52l2 2-2 2-2-2zM564.89 86.77l2 2-2 2-2-2zM529.45 91.07l2 2-2 2-2-2zM533.85 115.15l2 2-2 2-2-2zM558.25 106.07l2 2-2 2-2-2zM509.13 125.25l2 2-2 2-2-2zM521.51 116.05l2 2-2 2-2-2zM490.2 121.14l2 2-2 2-2-2zM525.93 123.43l2 2-2 2-2-2zM545.3 114.73l2 2-2 2-2-2zM538.13 127.36l2 2-2 2-2-2zM537.66 126.62l2 2-2 2-2-2zM521.45 94.2l2 2-2 2-2-2zM551.09 88.39l2 2-2 2-2-2zM527.72 86.18l2 2-2 2-2-2zM530.05 105.39l2 2-2 2-2-2zM524.6 111.81l2 2-2 2-2-2zM496.74 131.87l2 2-2 2-2-2zM536.07 121.47l2 2-2 2-2-2zM525.79 96.66l2 2-2 2-2-2zM528.89 108.21l2 2-2 2-2-2zM544.99 90.36l2 2-2 2-2-2zM523.05 113.11l2 2-2 2-2-2zM542.54 73.62l2 2-2 2-2-2zM512.29 102.76l2 2-2 2-2-2zM575.46 99.69l2 2-2 2-2-2zM554.02 99.47l2 2-2 2-2-2zM520.56 123.94l2 2-2 2-2-2zM523.26 95.9l2 2-2 2-2-2zM565.48 66.98l2 2-2 2-2-2zM563.73 90.84l2 2-2 2-2-2zM519.29 111.36l2 2-2 2-2-2zM520.84 110.74l2 2-2 2-2-2zM517.27 93.23l2 2-2 2-2-2zM584.48 71.28l2 2-2 2-2-2zM603.25 71.41l2 2-2 2-2-2zM593.98 64.22l2 2-2 2-2-2zM559.84 61.1l2 2-2 2-2-2zM605.3 75.13l2 2-2 2-2-2zM572.77 94.12l2 2-2 2-2-2zM607.99 97.47l2 2-2 2-2-2zM595.09 84.41l2 2-2 2-2-2zM600.44 80.53l2 2-2 2-2-2zM586.16 75.94l2 2-2 2-2-2zM603.64 83.44l2 2-2 2-2-2zM565.71 78.66l2 2-2 2-2-2zM593.99 93.33l2 2-2 2-2-2zM578.61 67.28l2 2-2 2-2-2zM603.41 78.98l2 2-2 2-2-2zM619.06 66.28l2 2-2 2-2-2zM616.15 58.98l2 2-2 2-2-2zM602.66 73.45l2 2-2 2-2-2zM568.47 85.57l2 2-2 2-2-2zM612.89 77.99l2 2-2 2-2-2zM586.24 90.41l2 2-2 2-2-2zM605.43 79.4l2 2-2 2-2-2zM593.67 79.28l2 2-2 2-2-2zM574.96 84.51l2 2-2 2-2-2zM587.31 72.36l2 2-2 2-2-2zM584.21 82.39l2 2-2 2-2-2zM595.28 85.67l2 2-2 2-2-2zM570.63 83.43l2 2-2 2-2-2zM590.91 74.08l2 2-2 2-2-2zM591.56 72.93l2 2-2 2-2-2zM605.64 68.6l2 2-2 2-2-2zM573.13 93.14l2 2-2 2-2-2zM606.99 51.84l2 2-2 2-2-2zM586.34 80.49l2 2-2 2-2-2zM609.65 83.11l2 2-2 2-2-2zM579.95 68.02l2 2-2 2-2-2zM602.19 81.96l2 2-2 2-2-2zM595.63 76.23l2 2-2 2-2-2zM584.36 103.91l2 2-2 2-2-2zM563.93 76.03l2 2-2 2-2-2zM604.37 74.1l2 2-2 2-2-2zM599.87 76.88l2 2-2 2-2-2zM619.56 77.79l2 2-2 2-2-2zM583.21 90.82l2 2-2 2-2-2zM563.58 74.32l2 2-2 2-2-2zM605.28 66.88l2 2-2 2-2-2zM554.64 94.52l2 2-2 2-2-2zM579.64 87.79l2 2-2 2-2-2zM584.42 73.44l2 2-2 2-2-2zM579.82 90.17l2 2-2 2-2-2zM574.14 86.78l2 2-2 2-2-2zM574.4 89.72l2 2-2 2-2-2zM617.94 70.42l2 2-2 2-2-2zM607.13 74.38l2 2-2 2-2-2zM572.06 83.68l2 2-2 2-2-2zM590.83 81.9l2 2-2 2-2-2zM580.99 88.17l2 2-2 2-2-2zM577.18 84.75l2 2-2 2-2-2zM583.77 70.13l2 2-2 2-2-2zM603.91 72.08l2 2-2 2-2-2zM589.7 77.97l2 2-2 2-2-2zM550.29 83.46l2 2-2 2-2-2zM577.84 93.24l2 2-2 2-2-2zM581.39 87.93l2 2-2 2-2-2zM569.06 79.95l2 2-2 2-2-2zM584.7 90.65l2 2-2 2-2-2zM561.75 89.71l2 2-2 2-2-2zM594.94 77.1l2 2-2 2-2-2zM590.71 85.18l2 2-2 2-2-2zM588.94 69.08l2 2-2 2-2-2zM595.14 68.32l2 2-2 2-2-2zM588.13 92.75l2 2-2 2-2-2zM631.38 72.48l2 2-2 2-2-2zM591.92 69.86l2 2-2 2-2-2zM582.39 97.47l2 2-2 2-2-2zM588.23 65.82l2 2-2 2-2-2zM614.64 72.07l2 2-2 2-2-2zM610.08 72.55l2 2-2 2-2-2zM551.97 88.99l2 2-2 2-2-2zM585.31 78.74l2 2-2 2-2-2zM609.15 62.79l2 2-2 2-2-2zM586.39 79.28l2 2-2 2-2-2zM582.94 71.63l2 2-2 2-2-2zM559.75 67.9l2 2-2 2-2-2zM592.55 75.01l2 2-2 2-2-2zM587.44 69.34l2 2-2 2-2-2zM584.63 71.43l2 2-2 2-2-2zM573.64 88.98l2 2-2 2-2-2zM600.11 78.89l2 2-2 2-2-2zM586.05 76.32l2 2-2 2-2-2zM614.33 78.49l2 2-2 2-2-2zM574.32 75.18l2 2-2 2-2-2zM595.04 78.78l2 2-2 2-2-2zM582.26 103.34l2 2-2 2-2-2zM552.66 87.74l2 2-2 2-2-2zM595.48 84.92l2 2-2 2-2-2zM557.77 89.11l2 2-2 2-2-2zM615.5 79.47l2 2-2 2-2-2zM584.33 81.13l2 2-2 2-2-2zM575.82 88.5l2 2-2 2-2-2zM564.47 70.87l2 2-2 2-2-2zM564.7 90.5l2 2-2 2-2-2zM571.68 97.2l2 2-2 2-2-2zM611.66 77.4l2 2-2 2-2-2zM602.38 83.04l2 2-2 2-2-2zM595.38 83.81l2 2-2 2-2-2zM598.23 81.67l2 2-2 2-2-2zM569.97 81.28l2 2-2 2-2-2zM575.66 92.69l2 2-2 2-2-2zM593.1 69.21l2 2-2 2-2-2zM570.7 81.71l2 2-2 2-2-2zM601.23 71.78l2 2-2 2-2-2zM581.87 75.4l2 2-2 2-2-2zM592.07 92.26l2 2-2 2-2-2zM576.16 81.27l2 2-2 2-2-2zM617.07 72.24l2 2-2 2-2-2zM574.43 95.73l2 2-2 2-2-2zM570.59 92.51l2 2-2 2-2-2zM545.33 89.66l2 2-2 2-2-2zM600.17 67.72l2 2-2 2-2-2zM577.09 84.68l2 2-2 2-2-2zM586.46 75.36l2 2-2 2-2-2zM584.18 97.86l2 2-2 2-2-2zM612.48 70.7l2 2-2 2-2-2zM568.37 83.27l2 2-2 2-2-2zM585.4 84.89l2 2-2 2-2-2zM611.08 63.32l2 2-2 2-2-2zM588.86 74.6l2 2-2 2-2-2zM587.82 72.64l2 2-2 2-2-2zM598.21 85.24l2 2-2 2-2-2zM580.81 79.34l2 2-2 2-2-2zM585.15 67.98l2 2-2 2-2-2zM611.34 55.46l2 2-2 2-2-2zM579.36 74.76l2 2-2 2-2-2zM609.62 64.33l2 2-2 2-2-2zM587.17 97.32l2 2-2 2-2-2zM583.45 73.85l2 2-2 2-2-2zM588.75 80.55l2 2-2 2-2-2zM575.91 83.01l2 2-2 2-2-2zM587.52 86.13l2 2-2 2-2-2zM603.07 79.89l2 2-2 2-2-2zM589.14 86.08l2 2-2 2-2-2zM589.07 89.53l2 2-2 2-2-2zM592.86 72.77l2 2-2 2-2-2zM601.74 58.32l2 2-2 2-2-2zM570.23 79.87l2 2-2 2-2-2zM581.64 70.43l2 2-2 2-2-2zM562.65 73.11l2 2-2 2-2-2zM587.12 72.22l2 2-2 2-2-2zM624.91 69.07l2 2-2 2-2-2zM575.21 97.54l2 2-2 2-2-2zM593.7 86.58l2 2-2 2-2-2zM575.15 96.06l2 2-2 2-2-2zM603.65 67.8l2 2-2 2-2-2zM573.61 82.25l2 2-2 2-2-2zM600.98 95.74l2 2-2 2-2-2zM621.61 77.48l2 2-2 2-2-2zM583.56 78.06l2 2-2 2-2-2zM592.85 74.2l2 2-2 2-2-2zM580.15 80.79l2 2-2 2-2-2zM600.99 72.34l2 2-2 2-2-2zM590.88 75.24l2 2-2 2-2-2zM583.93 77.86l2 2-2 2-2-2zM608.55 71.63l2 2-2 2-2-2zM610.67 66.83l2 2-2 2-2-2zM599.59 60.58l2 2-2 2-2-2zM581.69 81.46l2 2-2 2-2-2zM577.92 82.71l2 2-2 2-2-2zM573.24 84.45l2 2-2 2-2-2zM577.8 83.82l2 2-2 2-2-2zM579.94 73.41l2 2-2 2-2-2zM581.92 82.19l2 2-2 2-2-2zM568.79 88.99l2 2-2 2-2-2zM606.67 68.17l2 2-2 2-2-2zM598.89 79.84l2 2-2 2-2-2zM580.55 95.04l2 2-2 2-2-2zM623.29 52.84l2 2-2 2-2-2zM618.8 57.94l2 2-2 2-2-2zM604.15 54.39l2 2-2 2-2-2zM606.24 71.82l2 2-2 2-2-2zM565.32 81.93l2 2-2 2-2-2zM568.65 79.65l2 2-2 2-2-2zM593.35 74.87l2 2-2 2-2-2zM548.21 94.79l2 2-2 2-2-2zM595.69 76.3l2 2-2 2-2-2zM607.64 52.52l2 2-2 2-2-2zM592.02 77.48l2 2-2 2-2-2zM594.46 63.4l2 2-2 2-2-2zM567.29 87.18l2 2-2 2-2-2zM582.75 64.43l2 2-2 2-2-2zM593.78 76.31l2 2-2 2-2-2zM590.03 53.47l2 2-2 2-2-2zM592.68 68.49l2 2-2 2-2-2zM583.59 88.51l2 2-2 2-2-2zM614.86 67.91l2 2-2 2-2-2zM591.2 89.92l2 2-2 2-2-2zM573.74 84.3l2 2-2 2-2-2zM576.75 75.06l2 2-2 2-2-2zM598.54 93.37l2 2-2 2-2-2zM593.79 81.07l2 2-2 2-2-2zM591.74 87.96l2 2-2 2-2-2zM587.73 70.87l2 2-2 2-2-2zM594.9 89.41l2 2-2 2-2-2zM591.18 88.91l2 2-2 2-2-2zM594.41 95.21l2 2-2 2-2-2zM594.88 82.03l2 2-2 2-2-2zM586.68 87.58l2 2-2 2-2-2zM579.26 69.2l2 2-2 2-2-2zM588.45 67.46l2 2-2 2-2-2zM613.92 74.4l2 2-2 2-2-2zM590.9 84.21l2 2-2 2-2-2zM553.58 109.71l2 2-2 2-2-2zM580.52 88.91l2 2-2 2-2-2zM621.96 47.89l2 2-2 2-2-2zM582.96 84.66l2 2-2 2-2-2zM588.51 62.87l2 2-2 2-2-2zM579.11 97.28l2 2-2 2-2-2zM580.84 87.66l2 2-2 2-2-2zM563.63 81.89l2 2-2 2-2-2zM560.91 94.33l2 2-2 2-2-2zM606.4 71.33l2 2-2 2-2-2zM584.78 82.86l2 2-2 2-2-2zM594.33 73.36l2 2-2 2-2-2zM603.82 90.1l2 2-2 2-2-2zM620.49 58.42l2 2-2 2-2-2zM575.57 103l2 2-2 2-2-2zM607.77 81.29l2 2-2 2-2-2zM596.7 72.86l2 2-2 2-2-2zM607.34 80.57l2 2-2 2-2-2zM602.42 62.06l2 2-2 2-2-2zM602.83 68.81l2 2-2 2-2-2zM583.9 84.34l2 2-2 2-2-2zM591.2 99.46l2 2-2 2-2-2zM597.86 76.99l2 2-2 2-2-2zM586.12 82.32l2 2-2 2-2-2zM586.72 85.19l2 2-2 2-2-2zM604.58 79.23l2 2-2 2-2-2zM567.53 85.55l2 2-2 2-2-2zM585.05 68.93l2 2-2 2-2-2zM593.51 75.15l2 2-2 2-2-2zM590.46 81.54l2 2-2 2-2-2zM584.19 95.57l2 2-2 2-2-2zM602.23 67.23l2 2-2 2-2-2zM598.1 81.37l2 2-2 2-2-2zM575.06 81.8l2 2-2 2-2-2zM589.63 53.96l2 2-2 2-2-2zM568.97 91.12l2 2-2 2-2-2zM594.44 67.33l2 2-2 2-2-2zM609.51 89.92l2 2-2 2-2-2zM591.28 77.17l2 2-2 2-2-2zM585.6 70.66l2 2-2 2-2-2zM597.38 76.39l2 2-2 2-2-2zM604.9 84.65l2 2-2 2-2-2zM589.43 80.14l2 2-2 2-2-2zM599.56 90.1l2 2-2 2-2-2zM565.64 89.56l2 2-2 2-2-2zM578.96 84.54l2 2-2 2-2-2zM601.34 73.5l2 2-2 2-2-2zM600.28 75.12l2 2-2 2-2-2zM574.79 79.07l2 2-2 2-2-2zM567.64 90.77l2 2-2 2-2-2zM585.18 88.37l2 2-2 2-2-2zM599.96 65.14l2 2-2 2-2-2zM573.61 91.58l2 2-2 2-2-2zM575.39 87l2 2-2 2-2-2zM596.25 71.6l2 2-2 2-2-2zM612.95 60.09l2 2-2 2-2-2zM593.31 72.73l2 2-2 2-2-2zM543.04 98.58l2 2-2 2-2-2zM587.88 84.64l2 2-2 2-2-2zM583.52 74.32l2 2-2 2-2-2zM579.14 80.4l2 2-2 2-2-2zM598.95 71.38l2 2-2 2-2-2zM610.4 76.69l2 2-2 2-2-2zM580.5 92.37l2 2-2 2-2-2zM553.33 95.63l2 2-2 2-2-2zM572.72 85.35l2 2-2 2-2-2zM606.07 70.64l2 2-2 2-2-2zM590.28 90.11l2 2-2 2-2-2zM573.45 78.12l2 2-2 2-2-2zM605.52 76.68l2 2-2 2-2-2zM566.69 90.53l2 2-2 2-2-2zM599.71 72.09l2 2-2 2-2-2zM582.48 82.98l2 2-2 2-2-2zM588.96 72.02l2 2-2 2-2-2zM595.44 60.75l2 2-2 2-2-2zM594.82 96.07l2 2-2 2-2-2zM571.69 86.4l2 2-2 2-2-2zM550.08 89.08l2 2-2 2-2-2zM570.64 87.83l2 2-2 2-2-2zM587.25 96.78l2 2-2 2-2-2zM573.85 85.47l2 2-2 2-2-2zM593.91 82.4l2 2-2 2-2-2zM596.38 60.45l2 2-2 2-2-2zM620.97 60.74l2 2-2 2-2-2zM571.17 71.49l2 2-2 2-2-2zM574.93 68.52l2 2-2 2-2-2zM588.9 73.03l2 2-2 2-2-2zM590.36 70.56l2 2-2 2-2-2zM597.38 95.66l2 2-2 2-2-2zM606.86 71.76l2 2-2 2-2-2zM578.27 97.43l2 2-2 2-2-2zM556.9 80.37l2 2-2 2-2-2zM606.03 64.99l2 2-2 2-2-2zM611.09 73.66l2 2-2 2-2-2zM628.27 77.02l2 2-2 2-2-2zM594.92 69.9l2 2-2 2-2-2zM602.4 85.55l2 2-2 2-2-2zM579.82 55.66l2 2-2 2-2-2zM580.99 78.9l2 2-2 2-2-2zM585.98 76.72l2 2-2 2-2-2zM601.19 60.95l2 2-2 2-2-2zM587.74 60.5l2 2-2 2-2-2zM550.9 86.93l2 2-2 2-2-2zM573.29 77.52l2 2-2 2-2-2zM579.49 88.81l2 2-2 2-2-2zM597.33 75.42l2 2-2 2-2-2zM588.64 72.21l2 2-2 2-2-2zM567.73 75.17l2 2-2 2-2-2zM577.58 73.26l2 2-2 2-2-2zM585.69 86.94l2 2-2 2-2-2zM601.35 85.27l2 2-2 2-2-2zM565.74 68.79l2 2-2 2-2-2zM578.14 102.41l2 2-2 2-2-2zM597.25 70.55l2 2-2 2-2-2zM606.94 66.24l2 2-2 2-2-2zM612.37 63.8l2 2-2 2-2-2zM584.31 87.31l2 2-2 2-2-2zM569.78 86.01l2 2-2 2-2-2zM619.49 68.36l2 2-2 2-2-2zM570.11 85.04l2 2-2 2-2-2zM584.87 73.35l2 2-2 2-2-2zM598.88 85.65l2 2-2 2-2-2zM591.96 85.49l2 2-2 2-2-2zM593.06 77.93l2 2-2 2-2-2zM579.91 91.86l2 2-2 2-2-2zM607.24 65.75l2 2-2 2-2-2zM576.38 89.36l2 2-2 2-2-2zM593.67 86.94l2 2-2 2-2-2zM595.12 74.44l2 2-2 2-2-2zM568.87 93.81l2 2-2 2-2-2zM584.95 68.52l2 2-2 2-2-2zM558.44 75.68l2 2-2 2-2-2zM596 71.14l2 2-2 2-2-2zM533.59 96.24l2 2-2 2-2-2zM577.77 82.74l2 2-2 2-2-2zM587.3 76.13l2 2-2 2-2-2zM603.12 81.54l2 2-2 2-2-2zM590.23 92.78l2 2-2 2-2-2zM582.91 73.24l2 2-2 2-2-2zM585.18 66.84l2 2-2 2-2-2zM579.52 73l2 2-2 2-2-2zM582.05 83.63l2 2-2 2-2-2zM551.6 99.75l2 2-2 2-2-2zM591.21 75.44l2 2-2 2-2-2zM600.24 76.47l2 2-2 2-2-2zM578.72 73.89l2 2-2 2-2-2zM601.99 79.55l2 2-2 2-2-2zM562.58 84.04l2 2-2 2-2-2zM572.71 93.95l2 2-2 2-2-2zM574.56 73.51l2 2-2 2-2-2zM612.85 71.6l2 2-2 2-2-2zM592.44 79.19l2 2-2 2-2-2zM585.31 80.55l2 2-2 2-2-2zM603.34 75.94l2 2-2 2-2-2zM581.2 83.06l2 2-2 2-2-2zM614.81 61.17l2 2-2 2-2-2zM567.98 89.43l2 2-2 2-2-2zM579.8 107.52l2 2-2 2-2-2zM599.66 79l2 2-2 2-2-2zM600.71 91.54l2 2-2 2-2-2zM572 85.97l2 2-2 2-2-2zM566.61 100.67l2 2-2 2-2-2zM593.11 93.2l2 2-2 2-2-2zM579.83 72.94l2 2-2 2-2-2zM579.92 90.3l2 2-2 2-2-2zM576.09 86.96l2 2-2 2-2-2zM574.11 78.73l2 2-2 2-2-2zM585.09 95.61l2 2-2 2-2-2zM572.39 89.28l2 2-2 2-2-2zM597.59 67.4l2 2-2 2-2-2zM570.02 101.53l2 2-2 2-2-2zM613.78 64.47l2 2-2 2-2-2zM572.43 94.43l2 2-2 2-2-2zM584.25 72.9l2 2-2 2-2-2zM573.17 63.3l2 2-2 2-2-2zM570.78 75.5l2 2-2 2-2-2zM569.51 93.09l2 2-2 2-2-2zM598.09 90.19l2 2-2 2-2-2zM543.8 93.34l2 2-2 2-2-2zM579.55 95.38l2 2-2 2-2-2zM604.27 72.39l2 2-2 2-2-2zM586.44 72.49l2 2-2 2-2-2zM578.11 79.3l2 2-2 2-2-2zM555.52 112.04l2 2-2 2-2-2zM606.71 89.8l2 2-2 2-2-2zM608.69 73.85l2 2-2 2-2-2zM594.5 59.82l2 2-2 2-2-2zM575.1 92.97l2 2-2 2-2-2zM575.91 69.22l2 2-2 2-2-2zM582.83 69.08l2 2-2 2-2-2zM593.4 91.14l2 2-2 2-2-2zM568.42 83.76l2 2-2 2-2-2zM596.15 74.76l2 2-2 2-2-2zM587.47 71.08l2 2-2 2-2-2zM573.72 62.94l2 2-2 2-2-2zM589.57 90.27l2 2-2 2-2-2zM569.54 85.72l2 2-2 2-2-2zM603.13 83.32l2 2-2 2-2-2zM602.51 63.6l2 2-2 2-2-2zM587.55 95.7l2 2-2 2-2-2zM581.42 84.62l2 2-2 2-2-2zM572.07 80.03l2 2-2 2-2-2zM539.43 96.4l2 2-2 2-2-2zM549.67 87.15l2 2-2 2-2-2zM577.26 96.69l2 2-2 2-2-2zM600.97 76.54l2 2-2 2-2-2zM574.43 71.94l2 2-2 2-2-2zM592.01 69.03l2 2-2 2-2-2zM589.22 87.18l2 2-2 2-2-2zM584.5 80.16l2 2-2 2-2-2zM575.87 94.43l2 2-2 2-2-2zM598.41 80.63l2 2-2 2-2-2zM606.93 54.43l2 2-2 2-2-2zM590.28 83.81l2 2-2 2-2-2zM593.84 78.94l2 2-2 2-2-2zM589.21 63.63l2 2-2 2-2-2zM590.55 88.64l2 2-2 2-2-2zM585.95 77.85l2 2-2 2-2-2zM594.3 59.16l2 2-2 2-2-2zM599.24 87.94l2 2-2 2-2-2zM580.52 74.42l2 2-2 2-2-2zM594.05 71.6l2 2-2 2-2-2zM575.33 86.27l2 2-2 2-2-2zM564.06 96.36l2 2-2 2-2-2zM566.8 83.46l2 2-2 2-2-2zM598.7 73.44l2 2-2 2-2-2zM596.59 87.83l2 2-2 2-2-2zM618.85 84.16l2 2-2 2-2-2zM582.27 90.18l2 2-2 2-2-2zM564.63 97.34l2 2-2 2-2-2zM605.19 63.78l2 2-2 2-2-2zM597.81 82.14l2 2-2 2-2-2zM582.67 75.19l2 2-2 2-2-2zM606.2 57.66l2 2-2 2-2-2zM593.55 85.23l2 2-2 2-2-2zM596.96 89.62l2 2-2 2-2-2zM612.33 71.81l2 2-2 2-2-2zM617.92 71.87l2 2-2 2-2-2zM567.1 85.47l2 2-2 2-2-2zM592.44 78.51l2 2-2 2-2-2zM605.86 79.54l2 2-2 2-2-2zM600.81 66.54l2 2-2 2-2-2zM616.01 65.37l2 2-2 2-2-2zM623.05 62.18l2 2-2 2-2-2zM616.47 67.53l2 2-2 2-2-2zM605.86 63.44l2 2-2 2-2-2zM611.59 71.12l2 2-2 2-2-2zM613.14 71.44l2 2-2 2-2-2zM610.57 70.43l2 2-2 2-2-2zM614.45 68.99l2 2-2 2-2-2zM613.23 66.69l2 2-2 2-2-2zM611.97 71.98l2 2-2 2-2-2zM613.46 67.93l2 2-2 2-2-2zM615.47 60.75l2 2-2 2-2-2zM607.43 68.33l2 2-2 2-2-2zM619.2 58.27l2 2-2 2-2-2zM604.59 65.43l2 2-2 2-2-2zM608.48 63.25l2 2-2 2-2-2zM608.49 70.39l2 2-2 2-2-2zM605.83 69.24l2 2-2 2-2-2zM604.93 68.8l2 2-2 2-2-2zM612.73 57.07l2 2-2 2-2-2zM613.57 66.65l2 2-2 2-2-2zM612.9 67.11l2 2-2 2-2-2zM613.27 59.98l2 2-2 2-2-2zM613.17 68.73l2 2-2 2-2-2zM618.8 57.1l2 2-2 2-2-2zM606.68 62.77l2 2-2 2-2-2zM610.89 62.13l2 2-2 2-2-2zM607.87 71.78l2 2-2 2-2-2zM623.71 51.68l2 2-2 2-2-2zM621.83 57.68l2 2-2 2-2-2zM617.84 65.23l2 2-2 2-2-2zM620.42 61.52l2 2-2 2-2-2zM607.43 68.26l2 2-2 2-2-2zM616.38 60.35l2 2-2 2-2-2zM615.47 64.74l2 2-2 2-2-2zM614.03 65.49l2 2-2 2-2-2zM618.11 67.13l2 2-2 2-2-2zM610.4 65.57l2 2-2 2-2-2zM597.6 69.23l2 2-2 2-2-2zM604.26 73.05l2 2-2 2-2-2zM604.76 66.68l2 2-2 2-2-2zM617.96 68.04l2 2-2 2-2-2zM619.2 59.21l2 2-2 2-2-2zM616.24 69.19l2 2-2 2-2-2zM607.05 67.71l2 2-2 2-2-2zM603.97 67.31l2 2-2 2-2-2zM617.57 64.2l2 2-2 2-2-2zM609.58 65.05l2 2-2 2-2-2zM517.97 136.57l2 2-2 2-2-2zM476.01 178.31l2 2-2 2-2-2zM477.2 141.55l2 2-2 2-2-2zM473.27 136.83l2 2-2 2-2-2zM488.68 115.93l2 2-2 2-2-2zM484.29 135.5l2 2-2 2-2-2zM519.9 130l2 2-2 2-2-2zM496.8 142.95l2 2-2 2-2-2zM497.29 136.43l2 2-2 2-2-2zM443.49 166.36l2 2-2 2-2-2zM484.07 151.7l2 2-2 2-2-2zM488.09 130.31l2 2-2 2-2-2zM463.3 134.61l2 2-2 2-2-2zM490.27 136.17l2 2-2 2-2-2zM467.33 142.88l2 2-2 2-2-2zM488.11 128.46l2 2-2 2-2-2zM479.76 133.27l2 2-2 2-2-2zM438.92 163.33l2 2-2 2-2-2zM491.72 149.8l2 2-2 2-2-2zM505.15 119.54l2 2-2 2-2-2zM498.19 138.28l2 2-2 2-2-2zM492.11 149.89l2 2-2 2-2-2zM494.1 116.31l2 2-2 2-2-2zM511.61 125.07l2 2-2 2-2-2zM469.44 136.83l2 2-2 2-2-2zM474.91 127.54l2 2-2 2-2-2zM508.15 136.12l2 2-2 2-2-2zM474.24 158.18l2 2-2 2-2-2zM490.54 138.98l2 2-2 2-2-2zM502.73 130.56l2 2-2 2-2-2zM484.01 148.61l2 2-2 2-2-2zM445.18 140.31l2 2-2 2-2-2zM501.38 149.29l2 2-2 2-2-2zM455.16 154.51l2 2-2 2-2-2zM471.98 142.03l2 2-2 2-2-2zM505.63 153.86l2 2-2 2-2-2zM523.55 136.97l2 2-2 2-2-2zM498.28 136.33l2 2-2 2-2-2zM454.11 160.95l2 2-2 2-2-2zM457.39 135.94l2 2-2 2-2-2zM478.51 118.82l2 2-2 2-2-2zM521.6 132.51l2 2-2 2-2-2zM495.29 143.01l2 2-2 2-2-2zM490.56 138.73l2 2-2 2-2-2zM494.63 125.38l2 2-2 2-2-2zM491.74 139.78l2 2-2 2-2-2zM493.35 119.3l2 2-2 2-2-2zM489.5 136.22l2 2-2 2-2-2zM500.49 141.46l2 2-2 2-2-2zM491.9 144.26l2 2-2 2-2-2zM502.01 153.55l2 2-2 2-2-2zM494.56 144.17l2 2-2 2-2-2zM467.59 145.31l2 2-2 2-2-2zM506.06 146.78l2 2-2 2-2-2zM467.78 147.78l2 2-2 2-2-2zM481.18 142.97l2 2-2 2-2-2zM474.52 138.68l2 2-2 2-2-2zM485.43 142.08l2 2-2 2-2-2zM499.22 120.46l2 2-2 2-2-2zM473.03 158.19l2 2-2 2-2-2zM493.79 133.31l2 2-2 2-2-2zM471.11 163.21l2 2-2 2-2-2zM473.01 163.53l2 2-2 2-2-2zM489.45 135.95l2 2-2 2-2-2zM487.59 151.82l2 2-2 2-2-2zM475.63 117.78l2 2-2 2-2-2zM460.3 118.64l2 2-2 2-2-2zM498.58 148.32l2 2-2 2-2-2zM496.5 114.06l2 2-2 2-2-2zM535.21 145l2 2-2 2-2-2zM471.94 115.65l2 2-2 2-2-2zM476.19 160.67l2 2-2 2-2-2zM520.14 115.52l2 2-2 2-2-2zM446.52 143.39l2 2-2 2-2-2zM520.55 123.61l2 2-2 2-2-2zM447.81 125.3l2 2-2 2-2-2zM502.15 144.77l2 2-2 2-2-2zM475.91 141.51l2 2-2 2-2-2zM485.16 134.96l2 2-2 2-2-2zM472.39 137.32l2 2-2 2-2-2zM482.36 160.66l2 2-2 2-2-2zM499.14 149.56l2 2-2 2-2-2zM505.58 95.25l2 2-2 2-2-2zM490.29 152.69l2 2-2 2-2-2zM478.32 134.19l2 2-2 2-2-2zM489.82 129.85l2 2-2 2-2-2zM468.66 143.22l2 2-2 2-2-2zM486.82 139.62l2 2-2 2-2-2zM502.22 132.56l2 2-2 2-2-2zM495.29 182.72l2 2-2 2-2-2zM480.02 138.48l2 2-2 2-2-2zM478.98 132.3l2 2-2 2-2-2zM458.3 155.86l2 2-2 2-2-2zM501.42 104.41l2 2-2 2-2-2zM474.56 151.81l2 2-2 2-2-2zM476.55 152.47l2 2-2 2-2-2zM478.32 126.38l2 2-2 2-2-2zM478.77 135.23l2 2-2 2-2-2zM480.49 103.09l2 2-2 2-2-2zM501.17 153.37l2 2-2 2-2-2zM489.91 141.7l2 2-2 2-2-2zM478.07 148.78l2 2-2 2-2-2zM475.45 124.94l2 2-2 2-2-2zM450.43 120.59l2 2-2 2-2-2zM494.66 138.46l2 2-2 2-2-2zM507.05 133.95l2 2-2 2-2-2zM490.34 117.02l2 2-2 2-2-2zM448.47 148.59l2 2-2 2-2-2zM481.94 147.35l2 2-2 2-2-2zM482.35 138.98l2 2-2 2-2-2zM488.03 142.82l2 2-2 2-2-2zM491.3 142.29l2 2-2 2-2-2zM476.09 143.05l2 2-2 2-2-2zM452.41 138.31l2 2-2 2-2-2zM483.37 147.73l2 2-2 2-2-2zM463.66 128.5l2 2-2 2-2-2zM498.14 121.22l2 2-2 2-2-2zM448.74 142.27l2 2-2 2-2-2zM449.82 119.31l2 2-2 2-2-2zM488.78 164.66l2 2-2 2-2-2zM467.38 135.85l2 2-2 2-2-2zM507.01 131.34l2 2-2 2-2-2zM491.97 158.1l2 2-2 2-2-2zM463.97 149.23l2 2-2 2-2-2zM496.11 138.22l2 2-2 2-2-2zM458.95 138.12l2 2-2 2-2-2zM517.44 123.62l2 2-2 2-2-2zM487.37 155.87l2 2-2 2-2-2zM452.94 154.5l2 2-2 2-2-2zM462.1 172.62l2 2-2 2-2-2zM468.45 149.8l2 2-2 2-2-2zM469.82 149.43l2 2-2 2-2-2zM491.57 137.37l2 2-2 2-2-2zM481.48 145.83l2 2-2 2-2-2zM478.42 135.61l2 2-2 2-2-2zM502.28 145.44l2 2-2 2-2-2zM455.32 138.68l2 2-2 2-2-2zM473.47 150.3l2 2-2 2-2-2zM469.6 171.59l2 2-2 2-2-2zM487.5 141.57l2 2-2 2-2-2zM497.18 123.08l2 2-2 2-2-2zM494.97 141.97l2 2-2 2-2-2zM502.97 115.7l2 2-2 2-2-2zM514.47 135.78l2 2-2 2-2-2zM496.73 151.34l2 2-2 2-2-2zM480.2 139.66l2 2-2 2-2-2zM498.92 128.43l2 2-2 2-2-2zM513.62 148.2l2 2-2 2-2-2zM490.89 140.4l2 2-2 2-2-2zM468.74 133.87l2 2-2 2-2-2zM505.83 114.71l2 2-2 2-2-2zM489.23 143.01l2 2-2 2-2-2zM465.69 138.98l2 2-2 2-2-2zM485.83 172.81l2 2-2 2-2-2zM500.95 154.44l2 2-2 2-2-2zM528.77 135.57l2 2-2 2-2-2zM507.22 123.26l2 2-2 2-2-2zM482.19 164.21l2 2-2 2-2-2zM506.45 114.72l2 2-2 2-2-2zM508.53 134.07l2 2-2 2-2-2zM506.28 145.47l2 2-2 2-2-2zM516.79 116.01l2 2-2 2-2-2zM493.7 155.98l2 2-2 2-2-2zM484.77 149.14l2 2-2 2-2-2zM474.77 119.19l2 2-2 2-2-2zM481.51 155.91l2 2-2 2-2-2zM467.31 125.22l2 2-2 2-2-2zM477.83 145.59l2 2-2 2-2-2zM497.15 140.1l2 2-2 2-2-2zM489.62 122.24l2 2-2 2-2-2zM470.92 135.46l2 2-2 2-2-2zM481.05 149.38l2 2-2 2-2-2zM509.1 125.82l2 2-2 2-2-2zM512.18 145.14l2 2-2 2-2-2zM460.89 139.48l2 2-2 2-2-2zM481.02 121.33l2 2-2 2-2-2zM509.16 100.5l2 2-2 2-2-2zM468.94 160.36l2 2-2 2-2-2zM477.23 155.4l2 2-2 2-2-2zM474.97 161.81l2 2-2 2-2-2zM480.3 154.19l2 2-2 2-2-2zM495.8 112.64l2 2-2 2-2-2zM460.16 125.47l2 2-2 2-2-2zM472 161.13l2 2-2 2-2-2zM491.05 151.09l2 2-2 2-2-2zM518.43 141.15l2 2-2 2-2-2zM497.14 128.54l2 2-2 2-2-2zM481.53 147.44l2 2-2 2-2-2zM508.79 146.5l2 2-2 2-2-2zM490.34 133.9l2 2-2 2-2-2zM495.14 161.79l2 2-2 2-2-2zM503.65 163.06l2 2-2 2-2-2zM479.03 157.25l2 2-2 2-2-2zM495.19 147.92l2 2-2 2-2-2zM475.18 150.77l2 2-2 2-2-2zM483.95 137.16l2 2-2 2-2-2zM456.82 132.36l2 2-2 2-2-2zM484.01 149.89l2 2-2 2-2-2zM492.93 140.99l2 2-2 2-2-2zM484.64 120.35l2 2-2 2-2-2zM506.43 132.03l2 2-2 2-2-2zM470.04 139.6l2 2-2 2-2-2zM505.83 134.21l2 2-2 2-2-2zM469.29 180.78l2 2-2 2-2-2zM470.32 174.34l2 2-2 2-2-2zM496.26 120.29l2 2-2 2-2-2zM516.79 145.54l2 2-2 2-2-2zM509.58 139.54l2 2-2 2-2-2zM494.04 140.14l2 2-2 2-2-2zM478.91 148.13l2 2-2 2-2-2zM509.36 128.02l2 2-2 2-2-2zM513.24 103.91l2 2-2 2-2-2zM478.75 121.15l2 2-2 2-2-2zM456.79 158.23l2 2-2 2-2-2zM477.8 135.92l2 2-2 2-2-2zM466.47 146.16l2 2-2 2-2-2zM456.61 151.41l2 2-2 2-2-2zM470.05 128.85l2 2-2 2-2-2zM483.39 113.2l2 2-2 2-2-2zM496.3 139.92l2 2-2 2-2-2zM497.27 137.39l2 2-2 2-2-2zM499.77 130.15l2 2-2 2-2-2zM469.69 154.12l2 2-2 2-2-2zM470.63 142.28l2 2-2 2-2-2zM483.66 127.44l2 2-2 2-2-2zM495.62 112.48l2 2-2 2-2-2zM508.86 129.42l2 2-2 2-2-2zM524.15 139.83l2 2-2 2-2-2zM500.92 138.15l2 2-2 2-2-2zM480.95 121.84l2 2-2 2-2-2zM471.36 133.03l2 2-2 2-2-2zM473.38 144.58l2 2-2 2-2-2zM473.5 148.66l2 2-2 2-2-2zM479.6 136.45l2 2-2 2-2-2zM496.8 142.74l2 2-2 2-2-2zM460.99 147.54l2 2-2 2-2-2zM539.75 115.65l2 2-2 2-2-2zM490.05 125.11l2 2-2 2-2-2zM513.69 151.31l2 2-2 2-2-2zM496.69 133.59l2 2-2 2-2-2zM476.3 116.03l2 2-2 2-2-2zM495.87 131.3l2 2-2 2-2-2zM496.34 141.52l2 2-2 2-2-2zM503.24 164.87l2 2-2 2-2-2zM499.71 124.18l2 2-2 2-2-2zM501.73 142.98l2 2-2 2-2-2zM496.04 157.62l2 2-2 2-2-2zM470.03 121.21l2 2-2 2-2-2zM470.07 154.05l2 2-2 2-2-2zM470.09 150.44l2 2-2 2-2-2zM462.07 157.77l2 2-2 2-2-2zM477 130.88l2 2-2 2-2-2zM475.39 141.45l2 2-2 2-2-2zM504.84 135.45l2 2-2 2-2-2zM484.23 143.9l2 2-2 2-2-2zM505.74 138.54l2 2-2 2-2-2zM514.26 116.29l2 2-2 2-2-2zM502.5 134.81l2 2-2 2-2-2zM479.16 153.01l2 2-2 2-2-2zM507.79 145.46l2 2-2 2-2-2zM490.49 125.05l2 2-2 2-2-2zM492.32 143.56l2 2-2 2-2-2zM517.65 127.66l2 2-2 2-2-2zM498.97 158.55l2 2-2 2-2-2zM485.51 133.98l2 2-2 2-2-2zM496.7 147.46l2 2-2 2-2-2zM479.86 117.79l2 2-2 2-2-2zM485.69 156.18l2 2-2 2-2-2zM478.76 157.19l2 2-2 2-2-2zM485.36 128.7l2 2-2 2-2-2zM488.69 106.46l2 2-2 2-2-2zM440.21 138.29l2 2-2 2-2-2zM494.88 132.24l2 2-2 2-2-2zM497.88 133.87l2 2-2 2-2-2zM486.25 132.48l2 2-2 2-2-2zM485.71 155.93l2 2-2 2-2-2zM492.94 116.96l2 2-2 2-2-2zM509.23 160.76l2 2-2 2-2-2zM495.03 121.94l2 2-2 2-2-2zM501.63 136.64l2 2-2 2-2-2zM487 155.07l2 2-2 2-2-2zM505.96 123.3l2 2-2 2-2-2zM486.88 134.2l2 2-2 2-2-2zM496.46 160.15l2 2-2 2-2-2zM482.6 150.96l2 2-2 2-2-2zM492.14 139.05l2 2-2 2-2-2zM470.51 157.44l2 2-2 2-2-2zM471.62 158.48l2 2-2 2-2-2zM486.21 142.66l2 2-2 2-2-2zM473.73 133.32l2 2-2 2-2-2zM468.7 148.92l2 2-2 2-2-2zM487.18 144.45l2 2-2 2-2-2zM486.39 152.27l2 2-2 2-2-2zM490.29 140.49l2 2-2 2-2-2zM482.57 141.98l2 2-2 2-2-2zM494.53 125.93l2 2-2 2-2-2zM467.76 155.09l2 2-2 2-2-2zM494.69 137l2 2-2 2-2-2zM483.69 121.85l2 2-2 2-2-2zM469.63 148.28l2 2-2 2-2-2zM479.13 124.93l2 2-2 2-2-2zM484.14 112.52l2 2-2 2-2-2zM502.98 116.65l2 2-2 2-2-2zM470.86 131.82l2 2-2 2-2-2zM461.07 147.45l2 2-2 2-2-2zM451.2 151.8l2 2-2 2-2-2zM488.21 135.03l2 2-2 2-2-2zM478.09 122.31l2 2-2 2-2-2zM446.22 139.07l2 2-2 2-2-2zM507.64 135.23l2 2-2 2-2-2zM464.96 176.43l2 2-2 2-2-2zM504.48 148.43l2 2-2 2-2-2zM512.52 147.95l2 2-2 2-2-2zM457.21 155.23l2 2-2 2-2-2zM484.37 170.78l2 2-2 2-2-2zM499.09 134.35l2 2-2 2-2-2zM469.98 115.91l2 2-2 2-2-2zM483.78 128.82l2 2-2 2-2-2zM515.41 138.04l2 2-2 2-2-2zM483.17 135.9l2 2-2 2-2-2zM503.45 124.27l2 2-2 2-2-2zM507.66 133.54l2 2-2 2-2-2zM483.9 147.16l2 2-2 2-2-2zM508.62 105.56l2 2-2 2-2-2zM504.53 143.12l2 2-2 2-2-2zM490.82 160.59l2 2-2 2-2-2zM501.99 141.37l2 2-2 2-2-2zM472.27 155.78l2 2-2 2-2-2zM466.78 157.26l2 2-2 2-2-2zM519.95 110.94l2 2-2 2-2-2zM455.53 127.97l2 2-2 2-2-2zM434.93 167.04l2 2-2 2-2-2zM400.08 177.05l2 2-2 2-2-2zM408.52 157.62l2 2-2 2-2-2zM446.5 148.59l2 2-2 2-2-2zM437.75 154.31l2 2-2 2-2-2zM446.86 175.13l2 2-2 2-2-2zM429.86 153.06l2 2-2 2-2-2zM434.05 167.46l2 2-2 2-2-2zM425.32 124.81l2 2-2 2-2-2zM430.11 164.69l2 2-2 2-2-2zM481.19 123.92l2 2-2 2-2-2zM415.83 145.37l2 2-2 2-2-2zM416.38 135.16l2 2-2 2-2-2zM410.44 165.46l2 2-2 2-2-2zM394.91 169.68l2 2-2 2-2-2zM422.16 181.87l2 2-2 2-2-2zM476.41 170.4l2 2-2 2-2-2zM436.17 165.69l2 2-2 2-2-2zM475.7 125.62l2 2-2 2-2-2zM459.64 128.78l2 2-2 2-2-2zM441.78 126.51l2 2-2 2-2-2zM419.18 159.49l2 2-2 2-2-2zM411.25 134.57l2 2-2 2-2-2zM429.78 152.96l2 2-2 2-2-2zM464.49 150.97l2 2-2 2-2-2zM383.15 181.69l2 2-2 2-2-2zM451.21 146.07l2 2-2 2-2-2zM405.09 146.87l2 2-2 2-2-2zM415.07 149.19l2 2-2 2-2-2zM420.96 156.53l2 2-2 2-2-2zM450.2 131.98l2 2-2 2-2-2zM429.14 140.01l2 2-2 2-2-2zM441.33 169.18l2 2-2 2-2-2zM409.15 147.91l2 2-2 2-2-2zM429.81 158.06l2 2-2 2-2-2zM417.82 170.21l2 2-2 2-2-2zM434.7 166.46l2 2-2 2-2-2zM404.05 182.13l2 2-2 2-2-2zM450.93 134.31l2 2-2 2-2-2zM472.99 141.22l2 2-2 2-2-2zM394.16 156.88l2 2-2 2-2-2zM408.74 156.88l2 2-2 2-2-2zM425.63 164.51l2 2-2 2-2-2zM422.46 155.86l2 2-2 2-2-2zM395.22 140.29l2 2-2 2-2-2zM405.8 148.73l2 2-2 2-2-2zM432.58 116.64l2 2-2 2-2-2zM435.42 108.06l2 2-2 2-2-2zM424.66 160.28l2 2-2 2-2-2zM398.68 156.19l2 2-2 2-2-2zM440.86 134.68l2 2-2 2-2-2zM427.09 159.64l2 2-2 2-2-2zM434.97 134.45l2 2-2 2-2-2zM456.24 142.71l2 2-2 2-2-2zM441.73 128.79l2 2-2 2-2-2zM451.76 145.8l2 2-2 2-2-2zM441.59 141.6l2 2-2 2-2-2zM447.65 149.82l2 2-2 2-2-2zM403.68 210.99l2 2-2 2-2-2zM417.38 171.13l2 2-2 2-2-2zM421.74 153.95l2 2-2 2-2-2zM426.56 174.29l2 2-2 2-2-2zM454.88 161.14l2 2-2 2-2-2zM398.72 185.61l2 2-2 2-2-2zM410.96 204.56l2 2-2 2-2-2zM444.34 169.54l2 2-2 2-2-2zM429.61 160.02l2 2-2 2-2-2zM426.12 192.26l2 2-2 2-2-2zM428.63 176.24l2 2-2 2-2-2zM410.35 164.32l2 2-2 2-2-2zM419.69 160.57l2 2-2 2-2-2zM421.83 171.89l2 2-2 2-2-2zM432.88 129.67l2 2-2 2-2-2zM410.96 144.78l2 2-2 2-2-2zM444.08 130.2l2 2-2 2-2-2zM439.95 155.38l2 2-2 2-2-2zM415.26 132.26l2 2-2 2-2-2zM464.72 138.86l2 2-2 2-2-2zM450.29 165.49l2 2-2 2-2-2zM400.87 154.83l2 2-2 2-2-2zM478.45 166.91l2 2-2 2-2-2zM410.52 165.35l2 2-2 2-2-2zM448.52 146.43l2 2-2 2-2-2zM461.28 152.88l2 2-2 2-2-2zM431.53 167.95l2 2-2 2-2-2zM426.61 180.08l2 2-2 2-2-2zM422.88 182.57l2 2-2 2-2-2zM472.2 108.82l2 2-2 2-2-2zM456.33 120.71l2 2-2 2-2-2zM439.07 183.69l2 2-2 2-2-2zM456.74 156.22l2 2-2 2-2-2zM438.16 156.7l2 2-2 2-2-2zM437.69 150.73l2 2-2 2-2-2zM414.93 144.28l2 2-2 2-2-2zM466.66 140.09l2 2-2 2-2-2zM475.03 148.82l2 2-2 2-2-2zM431.85 138.57l2 2-2 2-2-2zM423.63 161.35l2 2-2 2-2-2zM424.39 155.24l2 2-2 2-2-2zM376.79 175.86l2 2-2 2-2-2zM420.42 154.13l2 2-2 2-2-2zM412.14 140.1l2 2-2 2-2-2zM419.78 186.87l2 2-2 2-2-2zM405.12 160.6l2 2-2 2-2-2zM409.95 164.32l2 2-2 2-2-2zM430.45 190.64l2 2-2 2-2-2zM415.03 187.16l2 2-2 2-2-2zM421.61 168.99l2 2-2 2-2-2zM484.04 132.09l2 2-2 2-2-2zM410.59 119.25l2 2-2 2-2-2zM420.18 158.51l2 2-2 2-2-2zM433.31 160.01l2 2-2 2-2-2zM399.16 156.54l2 2-2 2-2-2zM444.03 146.66l2 2-2 2-2-2zM434.09 166.79l2 2-2 2-2-2zM432.37 159.13l2 2-2 2-2-2zM405.6 169.19l2 2-2 2-2-2zM403.47 199.52l2 2-2 2-2-2zM423.12 188.88l2 2-2 2-2-2zM417.49 161.37l2 2-2 2-2-2zM458.89 147.71l2 2-2 2-2-2zM431.46 152.6l2 2-2 2-2-2zM418.89 150.76l2 2-2 2-2-2zM401.06 141.7l2 2-2 2-2-2zM420.95 149.02l2 2-2 2-2-2zM473.45 172.66l2 2-2 2-2-2zM463.21 122.51l2 2-2 2-2-2zM420.65 160.07l2 2-2 2-2-2zM405.88 195.07l2 2-2 2-2-2zM407.55 162.78l2 2-2 2-2-2zM425.45 157.69l2 2-2 2-2-2zM393.69 169.08l2 2-2 2-2-2zM392.71 172.86l2 2-2 2-2-2zM381.41 178.69l2 2-2 2-2-2zM389.25 159.45l2 2-2 2-2-2zM390.03 164.12l2 2-2 2-2-2zM376.13 182.66l2 2-2 2-2-2zM404.83 189.1l2 2-2 2-2-2zM401.87 176.33l2 2-2 2-2-2zM394.78 161.74l2 2-2 2-2-2zM376.49 164.84l2 2-2 2-2-2zM372.65 134.19l2 2-2 2-2-2zM387.44 155.47l2 2-2 2-2-2zM406.83 175.48l2 2-2 2-2-2zM399.55 181.49l2 2-2 2-2-2zM417.9 165.87l2 2-2 2-2-2zM392.25 166.94l2 2-2 2-2-2zM428.31 174.02l2 2-2 2-2-2zM400.68 132.57l2 2-2 2-2-2zM376.59 202.15l2 2-2 2-2-2zM414.5 177.22l2 2-2 2-2-2zM402.12 155.61l2 2-2 2-2-2zM402.15 159.88l2 2-2 2-2-2zM421.96 165.34l2 2-2 2-2-2zM378.38 159.14l2 2-2 2-2-2zM415.67 168.97l2 2-2 2-2-2zM402.33 166.29l2 2-2 2-2-2zM373.7 159.76l2 2-2 2-2-2zM391.67 135.11l2 2-2 2-2-2zM371.05 161.32l2 2-2 2-2-2zM371.15 174.17l2 2-2 2-2-2zM372.48 181.22l2 2-2 2-2-2zM370.86 185.91l2 2-2 2-2-2zM368.3 186.89l2 2-2 2-2-2zM370.66 186.68l2 2-2 2-2-2zM370.74 168.78l2 2-2 2-2-2zM369.84 158.08l2 2-2 2-2-2zM370.6 192.5l2 2-2 2-2-2zM375.7 215l2 2-2 2-2-2zM391.4 221.3l2 2-2 2-2-2zM417.5 233.5l2 2-2 2-2-2zM375.7 249.2l2 2-2 2-2-2zM444.7 244l2 2-2 2-2-2zM487.2 211.6l2 2-2 2-2-2zM488.3 212.6l2 2-2 2-2-2zM492.4 211.6l2 2-2 2-2-2zM491.4 220.3l2 2-2 2-2-2zM487.2 229l2 2-2 2-2-2zM498.4 231.8l2 2-2 2-2-2zM493.1 240.5l2 2-2 2-2-2zM489 260.4l2 2-2 2-2-2zM511.6 227.3l2 2-2 2-2-2zM519.3 212.6l2 2-2 2-2-2zM507.1 207.4l2 2-2 2-2-2zM518.6 200.4l2 2-2 2-2-2zM516.8 191.4l2 2-2 2-2-2zM498.7 198.3l2 2-2 2-2-2zM499.4 188.2l2 2-2 2-2-2zM494.2 188.9l2 2-2 2-2-2zM417.5 198.3l2 2-2 2-2-2zM560.4 215l2 2-2 2-2-2zM572.6 196.9l2 2-2 2-2-2zM603 234.9l2 2-2 2-2-2zM546.5 175l2 2-2 2-2-2zM522 173.2l2 2-2 2-2-2zM446 23l2 2-2 2-2-2zM488 55l2 2-2 2-2-2zM462 63l2 2-2 2-2-2zM469 76l2 2-2 2-2-2zM484 75l2 2-2 2-2-2zM575 53l2 2-2 2-2-2zM615.4 32.4l2 2-2 2-2-2zM618 36.8l2 2-2 2-2-2zM426.5 8.6l2 2-2 2-2-2zM298 170.5l2 2-2 2-2-2zM332 129l2 2-2 2-2-2zM345 119l2 2-2 2-2-2zM375 125l2 2-2 2-2-2zM381 126l2 2-2 2-2-2zM444.5 56.5l2 2-2 2-2-2zM648.5 65.7l2 2-2 2-2-2zM664.5 63.5l2 2-2 2-2-2z" fill="#1336c0" stroke="#0c2696" stroke-width="0.5"/>
<line x1="297.3" y1="220.7" x2="664.7" y2="48.4" stroke="#e82ee8" stroke-width="1.3"/>
<text x="649.7" y="187.2" font-size="7.5" fill="#e02a30" stroke="#e02a30" stroke-width="0.1" text-anchor="middle">y = -0.0053x + 2.8731</text>
<path d="M660.5 190V214M625 214.5H718" stroke="#e85050" stroke-width="1" stroke-dasharray="1 1" fill="none"/>
<text x="649.9" y="194.4" font-size="7.5" fill="#e02a30" stroke="#e02a30" stroke-width="0.1" text-anchor="middle">R² = 0.5955</text>
<rect x="250.5" y="309.5" width="472.0" height="235.0" fill="#fff"/>
<path d="M269.5 309.5V544.5M288.5 309.5V544.5M307.5 309.5V544.5M326.5 309.5V544.5M364.5 309.5V544.5M382.5 309.5V544.5M401.5 309.5V544.5M420.5 309.5V544.5M458.5 309.5V544.5M477.5 309.5V544.5M496.5 309.5V544.5M515.5 309.5V544.5M552.5 309.5V544.5M571.5 309.5V544.5M590.5 309.5V544.5M609.5 309.5V544.5M647.5 309.5V544.5M666.5 309.5V544.5M685.5 309.5V544.5M703.5 309.5V544.5M250.5 318.5H722.5M250.5 328.5H722.5M250.5 337.5H722.5M250.5 347.5H722.5M250.5 365.5H722.5M250.5 375.5H722.5M250.5 384.5H722.5M250.5 394.5H722.5M250.5 412.5H722.5M250.5 422.5H722.5M250.5 431.5H722.5M250.5 441.5H722.5M250.5 459.5H722.5M250.5 469.5H722.5M250.5 478.5H722.5M250.5 488.5H722.5M250.5 506.5H722.5M250.5 516.5H722.5M250.5 525.5H722.5M250.5 535.5H722.5" stroke="#c2c2c2" stroke-width="1" fill="none"/>
<path d="M345.5 309.5V544.5M439.5 309.5V544.5M534.5 309.5V544.5M628.5 309.5V544.5M250.5 356.5H722.5M250.5 403.5H722.5M250.5 450.5H722.5M250.5 497.5H722.5" stroke="#8e8e8e" stroke-width="1" fill="none"/>
<path d="M250.5 309.5H722.5V544.5" stroke="#808080" stroke-width="1.3" fill="none"/>
<path d="M250.5 309.5V544.5H722.5" stroke="#6a6a6a" stroke-width="1.6" fill="none"/>
<ellipse cx="399.9" cy="440.5" rx="65.5" ry="30.5" transform="rotate(-27 399.9 440.5)" fill="#eef2f6" opacity="0.8"/>
<ellipse cx="483.8" cy="382.3" rx="43.6" ry="22.2" transform="rotate(-26.1 483.8 382.3)" fill="#eef2f6" opacity="0.8"/>
<ellipse cx="516.3" cy="389.0" rx="50.8" ry="23.5" transform="rotate(-29 516.3 389.0)" fill="#eef2f6" opacity="0.8"/>
<ellipse cx="477.9" cy="396.2" rx="26.6" ry="15.3" transform="rotate(-30.8 477.9 396.2)" fill="#eef2f6" opacity="0.8"/>
<ellipse cx="477.9" cy="396.2" rx="26.6" ry="15.3" transform="rotate(-30.8 477.9 396.2)" fill="#ec8cea" opacity="0.8"/>
<path d="M362.9 433.8h1.5v1.5h-1.5zM405.8 453.9h1.5v1.5h-1.5zM428.1 429h1.5v1.5h-1.5zM379.3 443.3h1.5v1.5h-1.5zM418.7 440.3h1.5v1.5h-1.5zM376 447h1.5v1.5h-1.5zM446.2 404.1h1.5v1.5h-1.5zM417.5 434.8h1.5v1.5h-1.5zM413.1 451h1.5v1.5h-1.5zM396.7 454.2h1.5v1.5h-1.5zM366.9 441.4h1.5v1.5h-1.5zM407.3 445.5h1.5v1.5h-1.5zM379.3 447.9h1.5v1.5h-1.5zM374.1 437.5h1.5v1.5h-1.5zM451.5 413h1.5v1.5h-1.5zM420.9 423.8h1.5v1.5h-1.5zM357.6 451.8h1.5v1.5h-1.5zM376.6 433.8h1.5v1.5h-1.5zM392.2 448.1h1.5v1.5h-1.5zM394.3 438.7h1.5v1.5h-1.5zM361.9 456.9h1.5v1.5h-1.5zM447.1 425.2h1.5v1.5h-1.5zM405.2 428.8h1.5v1.5h-1.5zM406.6 430.7h1.5v1.5h-1.5zM373.7 453h1.5v1.5h-1.5zM444.8 437h1.5v1.5h-1.5zM384.3 444.1h1.5v1.5h-1.5zM431.7 419.2h1.5v1.5h-1.5zM411.8 414.6h1.5v1.5h-1.5zM442.6 443.3h1.5v1.5h-1.5zM438.7 415.6h1.5v1.5h-1.5zM400.4 442.9h1.5v1.5h-1.5zM441.4 429.8h1.5v1.5h-1.5zM430.4 417.6h1.5v1.5h-1.5zM439.3 429.6h1.5v1.5h-1.5zM379.6 446.1h1.5v1.5h-1.5zM359.1 467.4h1.5v1.5h-1.5zM447.5 413h1.5v1.5h-1.5zM380.9 439.4h1.5v1.5h-1.5zM427.9 431.3h1.5v1.5h-1.5zM433.1 408.1h1.5v1.5h-1.5zM409.2 441.2h1.5v1.5h-1.5zM438.4 439.2h1.5v1.5h-1.5zM379.2 441.6h1.5v1.5h-1.5zM421.3 431.2h1.5v1.5h-1.5zM402.8 420.9h1.5v1.5h-1.5zM412.9 444.6h1.5v1.5h-1.5zM449 421.3h1.5v1.5h-1.5zM362.4 448.9h1.5v1.5h-1.5zM405.6 452.1h1.5v1.5h-1.5zM423.3 440.5h1.5v1.5h-1.5zM381.7 442.7h1.5v1.5h-1.5zM372.3 454.2h1.5v1.5h-1.5zM421.7 430.7h1.5v1.5h-1.5zM424.7 418.2h1.5v1.5h-1.5zM435.7 428.5h1.5v1.5h-1.5zM356.8 442.7h1.5v1.5h-1.5zM427.1 446.3h1.5v1.5h-1.5zM387.6 443.5h1.5v1.5h-1.5zM384.2 436.7h1.5v1.5h-1.5zM391.4 432.1h1.5v1.5h-1.5zM356.1 442h1.5v1.5h-1.5zM428.4 428.1h1.5v1.5h-1.5zM416.6 430.9h1.5v1.5h-1.5zM355.8 423.3h1.5v1.5h-1.5zM389.8 470h1.5v1.5h-1.5zM364.4 448.9h1.5v1.5h-1.5zM431 418h1.5v1.5h-1.5zM420.2 434h1.5v1.5h-1.5zM392.1 438.5h1.5v1.5h-1.5zM393.1 442.6h1.5v1.5h-1.5zM399.5 453.8h1.5v1.5h-1.5zM430.4 418.1h1.5v1.5h-1.5zM374.1 452.4h1.5v1.5h-1.5zM416.6 432.1h1.5v1.5h-1.5zM394 440h1.5v1.5h-1.5zM438.7 412.9h1.5v1.5h-1.5zM419.7 414.4h1.5v1.5h-1.5zM419 425.3h1.5v1.5h-1.5zM442.2 435.6h1.5v1.5h-1.5zM444.2 418.6h1.5v1.5h-1.5zM353.2 458.3h1.5v1.5h-1.5zM396.7 448.8h1.5v1.5h-1.5zM362.6 471h1.5v1.5h-1.5zM424.8 432h1.5v1.5h-1.5zM445.4 418.6h1.5v1.5h-1.5zM378.7 431.1h1.5v1.5h-1.5zM380.5 440h1.5v1.5h-1.5zM377.3 438.7h1.5v1.5h-1.5zM425.1 444.1h1.5v1.5h-1.5zM377.2 460.6h1.5v1.5h-1.5zM395.1 444.4h1.5v1.5h-1.5zM384 450.9h1.5v1.5h-1.5zM388.9 464.9h1.5v1.5h-1.5zM353 427.7h1.5v1.5h-1.5zM427.4 431.6h1.5v1.5h-1.5zM348.5 441.3h1.5v1.5h-1.5zM380.9 443.3h1.5v1.5h-1.5zM362.4 458.2h1.5v1.5h-1.5zM441.2 430.6h1.5v1.5h-1.5zM430.5 417.9h1.5v1.5h-1.5zM360.6 457.8h1.5v1.5h-1.5zM412.9 452.5h1.5v1.5h-1.5zM441.2 416.8h1.5v1.5h-1.5zM351.6 448.4h1.5v1.5h-1.5zM437.7 410h1.5v1.5h-1.5zM379 450.1h1.5v1.5h-1.5zM407.5 427.5h1.5v1.5h-1.5zM432.3 435.9h1.5v1.5h-1.5zM389.1 454.3h1.5v1.5h-1.5zM442.9 427.7h1.5v1.5h-1.5zM400.6 431.3h1.5v1.5h-1.5zM380.1 443.9h1.5v1.5h-1.5zM395.7 425h1.5v1.5h-1.5zM378.4 457.9h1.5v1.5h-1.5zM403.1 445.3h1.5v1.5h-1.5zM423.2 430.7h1.5v1.5h-1.5zM435.9 430.8h1.5v1.5h-1.5zM381.1 439.6h1.5v1.5h-1.5zM365.2 435.2h1.5v1.5h-1.5zM368.4 430.9h1.5v1.5h-1.5zM440 420.3h1.5v1.5h-1.5zM432 421.6h1.5v1.5h-1.5zM446.3 423.2h1.5v1.5h-1.5zM450.9 416.8h1.5v1.5h-1.5zM352.6 461.7h1.5v1.5h-1.5zM409.2 420.1h1.5v1.5h-1.5zM371 439.9h1.5v1.5h-1.5zM452.8 458.6h1.5v1.5h-1.5zM404.3 419.6h1.5v1.5h-1.5zM440.2 430h1.5v1.5h-1.5zM397.5 449.8h1.5v1.5h-1.5zM433.4 432.8h1.5v1.5h-1.5zM351.6 456.9h1.5v1.5h-1.5zM351.5 444.4h1.5v1.5h-1.5zM365.4 441.3h1.5v1.5h-1.5zM439.6 426.5h1.5v1.5h-1.5zM372.7 451.6h1.5v1.5h-1.5zM425.5 415.7h1.5v1.5h-1.5zM374.8 448.6h1.5v1.5h-1.5zM403.7 449.3h1.5v1.5h-1.5zM405.9 440.2h1.5v1.5h-1.5zM408.7 419.2h1.5v1.5h-1.5zM428.8 429.4h1.5v1.5h-1.5zM397.1 438.7h1.5v1.5h-1.5zM394.1 422.5h1.5v1.5h-1.5zM376.6 460.5h1.5v1.5h-1.5zM432.2 429.3h1.5v1.5h-1.5zM388.4 429.8h1.5v1.5h-1.5zM396.3 447.9h1.5v1.5h-1.5zM404.3 417h1.5v1.5h-1.5zM426.6 436h1.5v1.5h-1.5zM427 407.4h1.5v1.5h-1.5zM372 427.2h1.5v1.5h-1.5zM361 461.7h1.5v1.5h-1.5zM366.2 439.5h1.5v1.5h-1.5zM421.3 438.8h1.5v1.5h-1.5zM366.5 446.8h1.5v1.5h-1.5zM370.1 436.9h1.5v1.5h-1.5zM416.5 438.1h1.5v1.5h-1.5zM372.9 450.5h1.5v1.5h-1.5zM402.8 451.7h1.5v1.5h-1.5zM424.3 433.2h1.5v1.5h-1.5zM408.3 439.5h1.5v1.5h-1.5zM447.2 435.4h1.5v1.5h-1.5zM415 440.6h1.5v1.5h-1.5zM422.7 422.8h1.5v1.5h-1.5zM409 453.1h1.5v1.5h-1.5zM348.9 442.3h1.5v1.5h-1.5zM367.9 439h1.5v1.5h-1.5zM358.3 449.1h1.5v1.5h-1.5zM432.5 437h1.5v1.5h-1.5zM376.3 445.9h1.5v1.5h-1.5zM358.2 434.6h1.5v1.5h-1.5zM379.7 451.2h1.5v1.5h-1.5zM360.4 458h1.5v1.5h-1.5zM367.6 434h1.5v1.5h-1.5zM364.1 461.2h1.5v1.5h-1.5zM366.1 459.6h1.5v1.5h-1.5zM427.8 428.1h1.5v1.5h-1.5zM353.7 458.5h1.5v1.5h-1.5zM442.8 440.2h1.5v1.5h-1.5zM347.1 451.9h1.5v1.5h-1.5zM426.3 427.3h1.5v1.5h-1.5zM456.8 435.2h1.5v1.5h-1.5zM425.7 418.1h1.5v1.5h-1.5zM368.4 458.9h1.5v1.5h-1.5zM415.3 445.4h1.5v1.5h-1.5zM357.8 453.2h1.5v1.5h-1.5zM382 425.7h1.5v1.5h-1.5zM367.3 451h1.5v1.5h-1.5zM416.3 435.8h1.5v1.5h-1.5zM390 432h1.5v1.5h-1.5zM416 424.8h1.5v1.5h-1.5zM407.3 440.8h1.5v1.5h-1.5zM402.5 445.6h1.5v1.5h-1.5zM372.6 439.2h1.5v1.5h-1.5zM374.9 445.7h1.5v1.5h-1.5zM439.3 440.1h1.5v1.5h-1.5zM370.2 436.3h1.5v1.5h-1.5zM421.6 430h1.5v1.5h-1.5zM371.1 434.4h1.5v1.5h-1.5zM418.1 433.8h1.5v1.5h-1.5zM441.4 421.7h1.5v1.5h-1.5zM417 417.6h1.5v1.5h-1.5zM449.4 418.9h1.5v1.5h-1.5zM452.4 432.4h1.5v1.5h-1.5zM454 432.1h1.5v1.5h-1.5zM416.2 441.3h1.5v1.5h-1.5zM423.9 420h1.5v1.5h-1.5zM432.9 413h1.5v1.5h-1.5zM438.6 425.6h1.5v1.5h-1.5zM411.5 432.1h1.5v1.5h-1.5zM414 440.2h1.5v1.5h-1.5zM385.9 448.8h1.5v1.5h-1.5zM367.3 446.4h1.5v1.5h-1.5zM396.7 435.2h1.5v1.5h-1.5zM421.3 439.8h1.5v1.5h-1.5zM377.1 449.1h1.5v1.5h-1.5zM391.1 450.4h1.5v1.5h-1.5zM363.2 460.5h1.5v1.5h-1.5zM438.3 426.2h1.5v1.5h-1.5zM416 448.1h1.5v1.5h-1.5zM440.9 433.7h1.5v1.5h-1.5zM445.5 437.1h1.5v1.5h-1.5zM437.2 445.4h1.5v1.5h-1.5zM352.2 455.6h1.5v1.5h-1.5zM387.3 443.2h1.5v1.5h-1.5zM437.8 439.4h1.5v1.5h-1.5zM407.8 419.2h1.5v1.5h-1.5zM421.2 447.1h1.5v1.5h-1.5zM363.6 443.4h1.5v1.5h-1.5zM380.5 452.9h1.5v1.5h-1.5zM431.8 415.5h1.5v1.5h-1.5zM427.4 439.3h1.5v1.5h-1.5zM377.3 452.2h1.5v1.5h-1.5zM463.8 433.9h1.5v1.5h-1.5zM439.2 430.9h1.5v1.5h-1.5zM435.9 441.1h1.5v1.5h-1.5zM452.7 407.8h1.5v1.5h-1.5zM356.4 437.6h1.5v1.5h-1.5zM448.4 435.9h1.5v1.5h-1.5zM362.1 432.1h1.5v1.5h-1.5zM355.5 454.8h1.5v1.5h-1.5zM414 431.1h1.5v1.5h-1.5zM450.8 421.5h1.5v1.5h-1.5zM408.7 445.9h1.5v1.5h-1.5zM387.4 447.2h1.5v1.5h-1.5zM372.7 461.6h1.5v1.5h-1.5zM384.5 451.2h1.5v1.5h-1.5zM366.1 451.4h1.5v1.5h-1.5zM377.8 453.8h1.5v1.5h-1.5zM362 447h1.5v1.5h-1.5zM362.4 454.9h1.5v1.5h-1.5zM389 459.6h1.5v1.5h-1.5zM412.1 437.3h1.5v1.5h-1.5zM421.8 444.8h1.5v1.5h-1.5zM419.4 428.6h1.5v1.5h-1.5zM417.2 429.4h1.5v1.5h-1.5zM423.5 429.4h1.5v1.5h-1.5zM450.2 433.4h1.5v1.5h-1.5zM375.7 433.2h1.5v1.5h-1.5zM407.5 443.5h1.5v1.5h-1.5zM432.5 417.4h1.5v1.5h-1.5zM367.2 472.5h1.5v1.5h-1.5zM365.4 443h1.5v1.5h-1.5zM391.1 430.7h1.5v1.5h-1.5zM433.3 439.5h1.5v1.5h-1.5zM388 426.5h1.5v1.5h-1.5zM374 434.2h1.5v1.5h-1.5zM354.8 459.4h1.5v1.5h-1.5zM358.7 420.2h1.5v1.5h-1.5zM436.4 412.9h1.5v1.5h-1.5zM391.3 428.5h1.5v1.5h-1.5zM357.2 456.6h1.5v1.5h-1.5zM385.2 443.1h1.5v1.5h-1.5zM422.2 429.6h1.5v1.5h-1.5zM370.9 461.2h1.5v1.5h-1.5zM373.3 438.4h1.5v1.5h-1.5zM406.7 420.5h1.5v1.5h-1.5zM366.1 441.2h1.5v1.5h-1.5zM400.7 426.5h1.5v1.5h-1.5zM365.9 458.3h1.5v1.5h-1.5zM401 438.9h1.5v1.5h-1.5zM363.8 439.6h1.5v1.5h-1.5zM392.4 454.7h1.5v1.5h-1.5zM383.4 435.8h1.5v1.5h-1.5zM405.4 440.7h1.5v1.5h-1.5zM390.1 446.9h1.5v1.5h-1.5zM409.4 429.4h1.5v1.5h-1.5zM407.2 444h1.5v1.5h-1.5zM385.2 413.3h1.5v1.5h-1.5zM406.9 445.4h1.5v1.5h-1.5zM402.2 441.3h1.5v1.5h-1.5zM383.9 426h1.5v1.5h-1.5zM430.4 417h1.5v1.5h-1.5zM391.6 437.1h1.5v1.5h-1.5zM428.8 422h1.5v1.5h-1.5zM402.8 455h1.5v1.5h-1.5zM390.6 417h1.5v1.5h-1.5zM428.9 436.3h1.5v1.5h-1.5zM447.9 420.9h1.5v1.5h-1.5zM385.5 424.5h1.5v1.5h-1.5zM373.1 453.5h1.5v1.5h-1.5zM363.8 462.4h1.5v1.5h-1.5zM446.1 421.4h1.5v1.5h-1.5zM434.2 426.8h1.5v1.5h-1.5zM378.7 461.3h1.5v1.5h-1.5zM355.5 442.6h1.5v1.5h-1.5zM366.4 437.3h1.5v1.5h-1.5zM444.1 424.7h1.5v1.5h-1.5zM441.1 420.7h1.5v1.5h-1.5zM428.4 446.1h1.5v1.5h-1.5zM444.6 426h1.5v1.5h-1.5zM375.9 450.9h1.5v1.5h-1.5zM367.7 442.9h1.5v1.5h-1.5zM404.3 426.6h1.5v1.5h-1.5zM410.7 431h1.5v1.5h-1.5zM357.5 444.9h1.5v1.5h-1.5zM454.4 415.5h1.5v1.5h-1.5zM438.7 439.1h1.5v1.5h-1.5zM390.2 448.4h1.5v1.5h-1.5zM398.8 435.9h1.5v1.5h-1.5zM417.9 452.4h1.5v1.5h-1.5zM403.2 431.9h1.5v1.5h-1.5zM415.1 411.5h1.5v1.5h-1.5zM413 448.5h1.5v1.5h-1.5zM354.5 440.9h1.5v1.5h-1.5zM430.1 439.8h1.5v1.5h-1.5zM372.2 446.8h1.5v1.5h-1.5zM435.4 436.2h1.5v1.5h-1.5zM433.9 427.4h1.5v1.5h-1.5zM418.4 414.6h1.5v1.5h-1.5zM380.7 445.6h1.5v1.5h-1.5zM371.8 446.4h1.5v1.5h-1.5zM441.3 441.8h1.5v1.5h-1.5zM378.5 453.1h1.5v1.5h-1.5zM406 416.5h1.5v1.5h-1.5zM363.4 445.1h1.5v1.5h-1.5zM378.9 440.3h1.5v1.5h-1.5zM384.3 445.5h1.5v1.5h-1.5zM425 453.9h1.5v1.5h-1.5zM424.2 454.6h1.5v1.5h-1.5zM439.2 446.1h1.5v1.5h-1.5zM364.7 455.8h1.5v1.5h-1.5zM449 434.2h1.5v1.5h-1.5zM372.1 439h1.5v1.5h-1.5zM437 438.6h1.5v1.5h-1.5zM442.5 438.8h1.5v1.5h-1.5zM410.9 429.6h1.5v1.5h-1.5zM417.2 438.5h1.5v1.5h-1.5zM346.6 443.5h1.5v1.5h-1.5zM438.5 440.1h1.5v1.5h-1.5zM389.3 437.3h1.5v1.5h-1.5zM400.3 443.3h1.5v1.5h-1.5zM367.6 437.2h1.5v1.5h-1.5zM347.5 454.5h1.5v1.5h-1.5zM448.3 428.2h1.5v1.5h-1.5zM446.2 427.1h1.5v1.5h-1.5zM371.6 448h1.5v1.5h-1.5zM358.9 462.9h1.5v1.5h-1.5zM392.8 454h1.5v1.5h-1.5zM391.3 428.7h1.5v1.5h-1.5zM422.4 429.4h1.5v1.5h-1.5zM429.7 417.7h1.5v1.5h-1.5zM412.6 437h1.5v1.5h-1.5zM438.8 410.6h1.5v1.5h-1.5zM423.6 420.7h1.5v1.5h-1.5zM400.8 436.8h1.5v1.5h-1.5zM381.3 434.3h1.5v1.5h-1.5zM402.6 427.1h1.5v1.5h-1.5zM417.9 419.3h1.5v1.5h-1.5zM353.8 449.8h1.5v1.5h-1.5zM390 451.8h1.5v1.5h-1.5zM367.4 442.3h1.5v1.5h-1.5zM364.1 425h1.5v1.5h-1.5zM354.3 442.9h1.5v1.5h-1.5zM415.1 434.4h1.5v1.5h-1.5zM361.3 440.3h1.5v1.5h-1.5zM420.2 443.8h1.5v1.5h-1.5zM448.7 441.6h1.5v1.5h-1.5zM441.8 425.7h1.5v1.5h-1.5zM416.5 448h1.5v1.5h-1.5zM376.5 433.6h1.5v1.5h-1.5zM450.4 419.5h1.5v1.5h-1.5zM369.2 453.9h1.5v1.5h-1.5zM426.8 443.6h1.5v1.5h-1.5zM398.8 451.8h1.5v1.5h-1.5zM397.2 437.6h1.5v1.5h-1.5zM437.1 418.9h1.5v1.5h-1.5zM351.7 435.6h1.5v1.5h-1.5zM382.7 429.8h1.5v1.5h-1.5zM361.2 441h1.5v1.5h-1.5zM395.3 417.7h1.5v1.5h-1.5zM436.2 442.7h1.5v1.5h-1.5zM362.3 444.1h1.5v1.5h-1.5zM434 413.5h1.5v1.5h-1.5zM433.1 437.8h1.5v1.5h-1.5zM362 453.3h1.5v1.5h-1.5zM435.3 444.8h1.5v1.5h-1.5zM410.7 436.4h1.5v1.5h-1.5zM394.1 436.9h1.5v1.5h-1.5zM449.3 432.8h1.5v1.5h-1.5zM379.7 448.9h1.5v1.5h-1.5zM442 430.6h1.5v1.5h-1.5zM408.7 436.4h1.5v1.5h-1.5zM404.3 439.8h1.5v1.5h-1.5zM393.2 428.4h1.5v1.5h-1.5zM390 433.3h1.5v1.5h-1.5zM412.2 447.7h1.5v1.5h-1.5zM397.1 420.9h1.5v1.5h-1.5zM434.3 427.8h1.5v1.5h-1.5zM445 428.8h1.5v1.5h-1.5zM402.9 424.6h1.5v1.5h-1.5zM433.3 433.6h1.5v1.5h-1.5zM365.9 432.5h1.5v1.5h-1.5zM371.2 446h1.5v1.5h-1.5zM390.6 443h1.5v1.5h-1.5zM360.6 436.4h1.5v1.5h-1.5zM414.5 431.3h1.5v1.5h-1.5zM371.2 431.5h1.5v1.5h-1.5zM395.3 450.1h1.5v1.5h-1.5zM453 416h1.5v1.5h-1.5zM451.1 425.7h1.5v1.5h-1.5zM438.3 439.8h1.5v1.5h-1.5zM402.5 435h1.5v1.5h-1.5zM373 466.2h1.5v1.5h-1.5zM445.2 445.9h1.5v1.5h-1.5zM385.1 428.3h1.5v1.5h-1.5zM437.1 427.8h1.5v1.5h-1.5zM408 426.8h1.5v1.5h-1.5zM432.2 432.1h1.5v1.5h-1.5zM391.5 451.9h1.5v1.5h-1.5zM440.2 417.2h1.5v1.5h-1.5zM368.8 455.9h1.5v1.5h-1.5zM398.4 439.1h1.5v1.5h-1.5zM352.8 425.8h1.5v1.5h-1.5zM382.7 451.4h1.5v1.5h-1.5zM408.2 434.6h1.5v1.5h-1.5zM377.6 438.5h1.5v1.5h-1.5zM418.7 432.2h1.5v1.5h-1.5zM349.2 428h1.5v1.5h-1.5zM420.1 433.1h1.5v1.5h-1.5zM408.8 441h1.5v1.5h-1.5zM350.7 449.6h1.5v1.5h-1.5zM381.5 446.2h1.5v1.5h-1.5zM367.5 467.3h1.5v1.5h-1.5zM351.4 439.4h1.5v1.5h-1.5zM414 461.2h1.5v1.5h-1.5zM431.1 435.4h1.5v1.5h-1.5zM452.7 440.9h1.5v1.5h-1.5zM408.3 430.1h1.5v1.5h-1.5zM414.6 437.8h1.5v1.5h-1.5zM388.7 444.9h1.5v1.5h-1.5zM419.8 440.3h1.5v1.5h-1.5zM393.2 436.6h1.5v1.5h-1.5zM399.3 446.2h1.5v1.5h-1.5zM360 445h1.5v1.5h-1.5zM418.2 445.5h1.5v1.5h-1.5zM463.1 437.3h1.5v1.5h-1.5zM447.7 426.1h1.5v1.5h-1.5zM401.8 436.9h1.5v1.5h-1.5zM426.5 425.4h1.5v1.5h-1.5zM414.3 437.5h1.5v1.5h-1.5zM406.1 450.4h1.5v1.5h-1.5zM411.6 457.5h1.5v1.5h-1.5zM351.4 442.6h1.5v1.5h-1.5zM437 420.5h1.5v1.5h-1.5zM374.2 428.4h1.5v1.5h-1.5zM437.7 414.9h1.5v1.5h-1.5zM437.9 419.2h1.5v1.5h-1.5zM412.5 450h1.5v1.5h-1.5zM408.7 419h1.5v1.5h-1.5zM430.8 438.2h1.5v1.5h-1.5zM360.5 453.3h1.5v1.5h-1.5zM381.2 437.6h1.5v1.5h-1.5zM447.7 416.4h1.5v1.5h-1.5zM377.4 454.7h1.5v1.5h-1.5zM414.4 432.7h1.5v1.5h-1.5zM360.3 446.2h1.5v1.5h-1.5zM452.2 449.6h1.5v1.5h-1.5zM390.4 428.2h1.5v1.5h-1.5zM432.3 434.8h1.5v1.5h-1.5zM433.1 437.5h1.5v1.5h-1.5zM441.3 413.4h1.5v1.5h-1.5zM386.3 445.3h1.5v1.5h-1.5zM438.2 429.3h1.5v1.5h-1.5zM344.2 461.5h1.5v1.5h-1.5zM360.9 456.2h1.5v1.5h-1.5zM422 436.7h1.5v1.5h-1.5zM422.2 427.9h1.5v1.5h-1.5zM353.9 463.2h1.5v1.5h-1.5zM364.2 458.5h1.5v1.5h-1.5zM427.4 431.1h1.5v1.5h-1.5zM408.9 437.5h1.5v1.5h-1.5zM358.7 446.8h1.5v1.5h-1.5zM399.1 431.5h1.5v1.5h-1.5zM389.1 427.6h1.5v1.5h-1.5zM357.2 441.3h1.5v1.5h-1.5zM434.7 427.7h1.5v1.5h-1.5zM357 449h1.5v1.5h-1.5zM450.3 436.7h1.5v1.5h-1.5zM436 435.8h1.5v1.5h-1.5zM362.9 453.1h1.5v1.5h-1.5zM406.5 454.6h1.5v1.5h-1.5zM389.4 435.7h1.5v1.5h-1.5zM441.7 437.3h1.5v1.5h-1.5zM442.7 418.4h1.5v1.5h-1.5zM456.3 418.4h1.5v1.5h-1.5zM380.5 450.3h1.5v1.5h-1.5zM371 450.2h1.5v1.5h-1.5zM450.5 443.1h1.5v1.5h-1.5zM449.4 422.8h1.5v1.5h-1.5zM373 437.3h1.5v1.5h-1.5zM375.3 459h1.5v1.5h-1.5zM364.3 450.8h1.5v1.5h-1.5zM408.3 449.7h1.5v1.5h-1.5zM369.8 434.6h1.5v1.5h-1.5zM382.4 432.7h1.5v1.5h-1.5zM366.7 441.9h1.5v1.5h-1.5zM403.5 434.9h1.5v1.5h-1.5zM385.6 444.6h1.5v1.5h-1.5zM368.5 429.9h1.5v1.5h-1.5zM455.9 432.2h1.5v1.5h-1.5zM429.2 431.9h1.5v1.5h-1.5zM418 421.9h1.5v1.5h-1.5zM394.7 446.7h1.5v1.5h-1.5zM435.4 448.4h1.5v1.5h-1.5zM381.7 445.1h1.5v1.5h-1.5zM443.4 416.9h1.5v1.5h-1.5zM402.8 446.2h1.5v1.5h-1.5zM437.4 435.9h1.5v1.5h-1.5zM355 453h1.5v1.5h-1.5zM442 406h1.5v1.5h-1.5zM367.9 452.3h1.5v1.5h-1.5zM352.8 443.9h1.5v1.5h-1.5zM360.8 465.4h1.5v1.5h-1.5zM363.4 439.1h1.5v1.5h-1.5zM391.8 432.4h1.5v1.5h-1.5zM439.3 415.1h1.5v1.5h-1.5zM362.7 469.8h1.5v1.5h-1.5zM375.2 440.5h1.5v1.5h-1.5zM417.2 412.8h1.5v1.5h-1.5zM419.7 444.1h1.5v1.5h-1.5zM412.9 429.7h1.5v1.5h-1.5zM380.9 447.3h1.5v1.5h-1.5zM413 418.8h1.5v1.5h-1.5zM412.7 453.8h1.5v1.5h-1.5zM428 439.7h1.5v1.5h-1.5zM434.9 425.7h1.5v1.5h-1.5zM436.7 420.9h1.5v1.5h-1.5zM422.3 421.3h1.5v1.5h-1.5zM446.3 424.7h1.5v1.5h-1.5zM417.1 412.8h1.5v1.5h-1.5zM432.5 422.2h1.5v1.5h-1.5zM402.1 439.3h1.5v1.5h-1.5zM360.9 439.5h1.5v1.5h-1.5zM440.7 415.4h1.5v1.5h-1.5zM410.9 435.6h1.5v1.5h-1.5zM395.9 441.6h1.5v1.5h-1.5zM406.6 441.3h1.5v1.5h-1.5zM354.6 454.9h1.5v1.5h-1.5zM391 424.2h1.5v1.5h-1.5zM430.9 417.6h1.5v1.5h-1.5zM359.8 455.6h1.5v1.5h-1.5zM380.2 435.8h1.5v1.5h-1.5zM387.5 455.6h1.5v1.5h-1.5zM449.8 418.8h1.5v1.5h-1.5zM420 419.9h1.5v1.5h-1.5zM416.1 424.2h1.5v1.5h-1.5zM430.6 446.5h1.5v1.5h-1.5zM414.5 447.2h1.5v1.5h-1.5zM432.2 431.9h1.5v1.5h-1.5zM432.8 427.9h1.5v1.5h-1.5zM379.4 444h1.5v1.5h-1.5zM362.4 445.2h1.5v1.5h-1.5zM399.2 426.1h1.5v1.5h-1.5zM453.5 429.5h1.5v1.5h-1.5zM355.3 441.3h1.5v1.5h-1.5zM360.4 424.7h1.5v1.5h-1.5zM434.5 421.9h1.5v1.5h-1.5zM410.3 452.1h1.5v1.5h-1.5zM378.1 447.7h1.5v1.5h-1.5zM421.3 423.9h1.5v1.5h-1.5zM370 458h1.5v1.5h-1.5zM394.2 434.6h1.5v1.5h-1.5zM410.9 417.5h1.5v1.5h-1.5zM403.3 446.1h1.5v1.5h-1.5zM383.3 456.7h1.5v1.5h-1.5zM400.3 438.9h1.5v1.5h-1.5zM385 442.4h1.5v1.5h-1.5zM411.3 415.9h1.5v1.5h-1.5zM416.2 447.8h1.5v1.5h-1.5zM381.5 451.7h1.5v1.5h-1.5zM378.8 462.7h1.5v1.5h-1.5zM365.4 444h1.5v1.5h-1.5zM433.3 438.7h1.5v1.5h-1.5zM367.5 445.7h1.5v1.5h-1.5zM442.9 426.8h1.5v1.5h-1.5zM404.3 434h1.5v1.5h-1.5zM359.2 460.3h1.5v1.5h-1.5zM411.3 435.7h1.5v1.5h-1.5zM357.3 443.8h1.5v1.5h-1.5zM359.9 455.2h1.5v1.5h-1.5zM411.9 438.3h1.5v1.5h-1.5zM410.9 431.5h1.5v1.5h-1.5zM373.8 455.4h1.5v1.5h-1.5zM380.1 436.9h1.5v1.5h-1.5zM402 427.8h1.5v1.5h-1.5zM379 449.5h1.5v1.5h-1.5zM426.1 445.3h1.5v1.5h-1.5zM421.2 420.7h1.5v1.5h-1.5zM376 433.7h1.5v1.5h-1.5zM355.1 451.6h1.5v1.5h-1.5zM364.6 472.7h1.5v1.5h-1.5zM415.7 438.9h1.5v1.5h-1.5zM387.1 437.9h1.5v1.5h-1.5zM436.1 417.1h1.5v1.5h-1.5zM406.2 448.6h1.5v1.5h-1.5zM436.8 425.5h1.5v1.5h-1.5zM444.5 430.5h1.5v1.5h-1.5zM391.1 435.8h1.5v1.5h-1.5zM422.1 427.9h1.5v1.5h-1.5zM438.8 435h1.5v1.5h-1.5zM375 459.9h1.5v1.5h-1.5zM454.7 436.1h1.5v1.5h-1.5zM416.5 431.1h1.5v1.5h-1.5zM366.2 450h1.5v1.5h-1.5zM406.7 444.4h1.5v1.5h-1.5zM378.2 447.7h1.5v1.5h-1.5zM395.1 425.3h1.5v1.5h-1.5zM399.1 446.5h1.5v1.5h-1.5zM421 436.2h1.5v1.5h-1.5zM419 425.2h1.5v1.5h-1.5zM446.4 424.9h1.5v1.5h-1.5zM368.7 447h1.5v1.5h-1.5zM399.8 430.2h1.5v1.5h-1.5zM438.5 446.3h1.5v1.5h-1.5zM360.8 450.2h1.5v1.5h-1.5zM416.5 435.4h1.5v1.5h-1.5zM395.5 433h1.5v1.5h-1.5zM433.1 418.6h1.5v1.5h-1.5zM423.8 423h1.5v1.5h-1.5zM399.9 447.9h1.5v1.5h-1.5zM396.9 450.6h1.5v1.5h-1.5zM371.4 438.2h1.5v1.5h-1.5zM358.7 446h1.5v1.5h-1.5zM395.5 441h1.5v1.5h-1.5zM452.6 432.7h1.5v1.5h-1.5zM447.7 428.2h1.5v1.5h-1.5zM400.6 438.4h1.5v1.5h-1.5zM407.8 449h1.5v1.5h-1.5zM366.8 433.9h1.5v1.5h-1.5zM350.5 429.3h1.5v1.5h-1.5zM458.4 426h1.5v1.5h-1.5zM381.6 448.2h1.5v1.5h-1.5zM354.3 445.8h1.5v1.5h-1.5zM444.2 434.3h1.5v1.5h-1.5zM409.5 436h1.5v1.5h-1.5zM400.8 441.1h1.5v1.5h-1.5zM367.5 465.1h1.5v1.5h-1.5zM364.3 442h1.5v1.5h-1.5zM429.6 408.4h1.5v1.5h-1.5zM394.5 437.3h1.5v1.5h-1.5zM414.9 428.3h1.5v1.5h-1.5zM353.6 443h1.5v1.5h-1.5zM371.5 445.4h1.5v1.5h-1.5zM380.5 447.1h1.5v1.5h-1.5zM433.7 414.5h1.5v1.5h-1.5zM398.7 431.8h1.5v1.5h-1.5zM411.4 435.8h1.5v1.5h-1.5zM362.6 425.3h1.5v1.5h-1.5zM416.2 450.9h1.5v1.5h-1.5zM359.5 445.5h1.5v1.5h-1.5zM441.5 396.3h1.5v1.5h-1.5zM395.9 429.9h1.5v1.5h-1.5zM422.4 428.9h1.5v1.5h-1.5zM434.6 425.2h1.5v1.5h-1.5zM381.1 442.3h1.5v1.5h-1.5zM385 439h1.5v1.5h-1.5zM399.7 448.7h1.5v1.5h-1.5zM426.8 406.6h1.5v1.5h-1.5zM449.3 442.2h1.5v1.5h-1.5zM416.1 424.7h1.5v1.5h-1.5zM433.5 419.1h1.5v1.5h-1.5zM362.1 452h1.5v1.5h-1.5zM421.4 434.1h1.5v1.5h-1.5zM382.6 443.1h1.5v1.5h-1.5zM400.4 436h1.5v1.5h-1.5zM367.6 443.9h1.5v1.5h-1.5zM408.1 424.4h1.5v1.5h-1.5zM440.9 414.4h1.5v1.5h-1.5zM408.2 427.4h1.5v1.5h-1.5zM375.6 444.2h1.5v1.5h-1.5zM348.2 451h1.5v1.5h-1.5zM431.9 425h1.5v1.5h-1.5zM397.7 446.5h1.5v1.5h-1.5zM399.6 428.5h1.5v1.5h-1.5zM451.3 436.5h1.5v1.5h-1.5zM417 412h1.5v1.5h-1.5zM355.5 446.7h1.5v1.5h-1.5zM383.2 456.9h1.5v1.5h-1.5zM435.3 423.6h1.5v1.5h-1.5zM422.7 433.1h1.5v1.5h-1.5zM401 439.9h1.5v1.5h-1.5zM382.8 447h1.5v1.5h-1.5zM380.7 425.5h1.5v1.5h-1.5zM381.2 426.6h1.5v1.5h-1.5zM369.6 465.9h1.5v1.5h-1.5zM359.9 438.5h1.5v1.5h-1.5zM429.2 410.9h1.5v1.5h-1.5zM358.7 426.9h1.5v1.5h-1.5zM419.9 431.1h1.5v1.5h-1.5zM401.3 435.4h1.5v1.5h-1.5zM387.8 450.4h1.5v1.5h-1.5zM392.1 439.4h1.5v1.5h-1.5zM404.2 432.3h1.5v1.5h-1.5zM380.1 434.7h1.5v1.5h-1.5zM437.2 412.6h1.5v1.5h-1.5zM388.7 440.6h1.5v1.5h-1.5zM415.4 447.9h1.5v1.5h-1.5zM426.1 424.4h1.5v1.5h-1.5zM397.1 446.2h1.5v1.5h-1.5zM420.3 432.5h1.5v1.5h-1.5zM418.8 430.5h1.5v1.5h-1.5zM359.7 441.2h1.5v1.5h-1.5zM403 436h1.5v1.5h-1.5zM413.8 442.2h1.5v1.5h-1.5zM445.6 415.7h1.5v1.5h-1.5zM428.7 452.6h1.5v1.5h-1.5zM344.3 445.2h1.5v1.5h-1.5zM438.1 424.1h1.5v1.5h-1.5zM410.4 424.8h1.5v1.5h-1.5zM416.7 437.3h1.5v1.5h-1.5zM363.7 456.8h1.5v1.5h-1.5zM362.3 432.2h1.5v1.5h-1.5zM394.5 448.7h1.5v1.5h-1.5zM439.1 413.5h1.5v1.5h-1.5zM390.1 429.6h1.5v1.5h-1.5zM388.4 431.6h1.5v1.5h-1.5zM362.7 452.5h1.5v1.5h-1.5zM426.5 435.3h1.5v1.5h-1.5zM360.7 441.6h1.5v1.5h-1.5zM392.7 453h1.5v1.5h-1.5zM429.2 426.8h1.5v1.5h-1.5zM402.3 421.4h1.5v1.5h-1.5zM356.6 446.6h1.5v1.5h-1.5zM351.3 433.3h1.5v1.5h-1.5zM387.3 439.2h1.5v1.5h-1.5zM418.5 415.9h1.5v1.5h-1.5zM401.6 431.9h1.5v1.5h-1.5zM356.4 454.1h1.5v1.5h-1.5zM375.7 448.6h1.5v1.5h-1.5zM419.9 416.8h1.5v1.5h-1.5zM382.6 442.3h1.5v1.5h-1.5zM408.9 424.2h1.5v1.5h-1.5zM353.9 451.4h1.5v1.5h-1.5zM424.6 428.3h1.5v1.5h-1.5zM408.9 423.5h1.5v1.5h-1.5zM364.4 443h1.5v1.5h-1.5zM403.6 454.3h1.5v1.5h-1.5zM389.4 460.6h1.5v1.5h-1.5zM362.5 469.5h1.5v1.5h-1.5zM420.7 437.3h1.5v1.5h-1.5zM418.2 401.6h1.5v1.5h-1.5zM445.3 421h1.5v1.5h-1.5zM427.7 435h1.5v1.5h-1.5zM359.1 449.6h1.5v1.5h-1.5zM422 458.4h1.5v1.5h-1.5zM360.7 431.1h1.5v1.5h-1.5zM360 435.7h1.5v1.5h-1.5zM392.2 444.7h1.5v1.5h-1.5zM442.2 414.5h1.5v1.5h-1.5zM403 448.4h1.5v1.5h-1.5zM432.1 418.5h1.5v1.5h-1.5zM404.2 434.4h1.5v1.5h-1.5zM396.1 422.6h1.5v1.5h-1.5zM373.8 438.4h1.5v1.5h-1.5zM431.4 454.1h1.5v1.5h-1.5zM415.8 430.9h1.5v1.5h-1.5zM410.9 436.9h1.5v1.5h-1.5zM398.8 449.1h1.5v1.5h-1.5zM382.8 469.9h1.5v1.5h-1.5zM388.3 435h1.5v1.5h-1.5zM356.5 438.9h1.5v1.5h-1.5zM437.1 429.2h1.5v1.5h-1.5zM416.9 449.2h1.5v1.5h-1.5zM374.2 448.3h1.5v1.5h-1.5zM353.4 460.3h1.5v1.5h-1.5zM370.8 454.5h1.5v1.5h-1.5zM375.4 429.8h1.5v1.5h-1.5zM354.5 430.7h1.5v1.5h-1.5zM352.6 451.6h1.5v1.5h-1.5zM388.6 448.6h1.5v1.5h-1.5zM369.4 435.6h1.5v1.5h-1.5zM355.1 445.8h1.5v1.5h-1.5zM424.1 423.3h1.5v1.5h-1.5zM381.8 415.7h1.5v1.5h-1.5zM403.1 430.7h1.5v1.5h-1.5zM396.4 449.6h1.5v1.5h-1.5zM380.7 445h1.5v1.5h-1.5zM361.2 440.8h1.5v1.5h-1.5zM451.1 433.7h1.5v1.5h-1.5zM437.4 432.8h1.5v1.5h-1.5zM428.9 434.3h1.5v1.5h-1.5zM353.5 439.8h1.5v1.5h-1.5zM437.5 425.1h1.5v1.5h-1.5zM417.3 441.6h1.5v1.5h-1.5zM401.3 438.4h1.5v1.5h-1.5zM384.8 456.8h1.5v1.5h-1.5zM453.5 418.9h1.5v1.5h-1.5zM436.4 434.5h1.5v1.5h-1.5zM416.4 437.1h1.5v1.5h-1.5zM350.3 441.8h1.5v1.5h-1.5zM352.6 440.4h1.5v1.5h-1.5zM385.3 432.7h1.5v1.5h-1.5zM369.2 450.9h1.5v1.5h-1.5zM437.7 437.5h1.5v1.5h-1.5zM427.2 432.4h1.5v1.5h-1.5zM366.3 456.8h1.5v1.5h-1.5zM434.8 428h1.5v1.5h-1.5zM399.2 426.2h1.5v1.5h-1.5zM370.4 427h1.5v1.5h-1.5zM374.2 441.6h1.5v1.5h-1.5zM368.8 461.6h1.5v1.5h-1.5zM400.1 443.9h1.5v1.5h-1.5zM392.6 434.4h1.5v1.5h-1.5zM448.7 436h1.5v1.5h-1.5zM441.1 416.3h1.5v1.5h-1.5zM433.7 422.6h1.5v1.5h-1.5zM397.2 433.2h1.5v1.5h-1.5zM400.1 435.3h1.5v1.5h-1.5zM392.7 444.9h1.5v1.5h-1.5zM434.1 435.7h1.5v1.5h-1.5zM400.7 432.3h1.5v1.5h-1.5zM383.6 470.9h1.5v1.5h-1.5zM352.3 448.5h1.5v1.5h-1.5zM374.5 432h1.5v1.5h-1.5zM418.9 442.8h1.5v1.5h-1.5zM439.9 439.5h1.5v1.5h-1.5zM408.6 420.7h1.5v1.5h-1.5zM431.4 443.5h1.5v1.5h-1.5zM449 432h1.5v1.5h-1.5zM396.6 448.3h1.5v1.5h-1.5zM436.1 417.4h1.5v1.5h-1.5zM446.1 415.8h1.5v1.5h-1.5zM423.9 424h1.5v1.5h-1.5zM356.4 458.4h1.5v1.5h-1.5zM362.8 460.3h1.5v1.5h-1.5zM427.7 432.2h1.5v1.5h-1.5zM411.6 444.6h1.5v1.5h-1.5zM367.9 458.3h1.5v1.5h-1.5zM415.4 426h1.5v1.5h-1.5zM382.1 459.9h1.5v1.5h-1.5zM378.5 449.5h1.5v1.5h-1.5zM352.5 456.5h1.5v1.5h-1.5zM363.7 444.5h1.5v1.5h-1.5zM385 459.6h1.5v1.5h-1.5zM432.6 417.7h1.5v1.5h-1.5zM418.4 435.4h1.5v1.5h-1.5zM450 408.6h1.5v1.5h-1.5zM353.9 418.4h1.5v1.5h-1.5zM380.6 470.4h1.5v1.5h-1.5zM382.6 455h1.5v1.5h-1.5zM380.7 437.2h1.5v1.5h-1.5zM369.8 439.8h1.5v1.5h-1.5zM415.5 430.7h1.5v1.5h-1.5zM374.3 446.4h1.5v1.5h-1.5zM423.3 432h1.5v1.5h-1.5zM355.3 438.1h1.5v1.5h-1.5zM369.9 424.4h1.5v1.5h-1.5zM363.2 461.6h1.5v1.5h-1.5zM432.1 440.7h1.5v1.5h-1.5zM383.3 455.2h1.5v1.5h-1.5zM399.9 420.8h1.5v1.5h-1.5zM442.6 423.7h1.5v1.5h-1.5zM392.7 437.3h1.5v1.5h-1.5zM349.7 439.5h1.5v1.5h-1.5zM421.1 429h1.5v1.5h-1.5zM394.2 447.1h1.5v1.5h-1.5zM404.3 438.9h1.5v1.5h-1.5zM407.6 421.9h1.5v1.5h-1.5zM404.2 442.9h1.5v1.5h-1.5zM382.7 438.1h1.5v1.5h-1.5zM429.4 422.9h1.5v1.5h-1.5zM415.4 436.8h1.5v1.5h-1.5zM428.4 433.3h1.5v1.5h-1.5zM448.1 420.6h1.5v1.5h-1.5zM435.6 436.9h1.5v1.5h-1.5zM379.9 444.6h1.5v1.5h-1.5zM360.3 457.3h1.5v1.5h-1.5zM383 444.3h1.5v1.5h-1.5zM382.6 445.9h1.5v1.5h-1.5zM388.4 413.7h1.5v1.5h-1.5zM445.4 444.9h1.5v1.5h-1.5zM446.4 430.9h1.5v1.5h-1.5zM422.1 425.6h1.5v1.5h-1.5zM441.4 432.8h1.5v1.5h-1.5zM400.2 432h1.5v1.5h-1.5zM431.2 431.8h1.5v1.5h-1.5zM385.7 423.1h1.5v1.5h-1.5zM431.8 420.3h1.5v1.5h-1.5zM398.3 458h1.5v1.5h-1.5zM400.1 433.4h1.5v1.5h-1.5zM428.1 426.5h1.5v1.5h-1.5zM398.6 433.6h1.5v1.5h-1.5zM388.2 433.8h1.5v1.5h-1.5zM356.5 460.1h1.5v1.5h-1.5zM376.7 442.6h1.5v1.5h-1.5zM399.2 428.1h1.5v1.5h-1.5zM424.6 435.7h1.5v1.5h-1.5zM435.5 437.4h1.5v1.5h-1.5zM363 449.9h1.5v1.5h-1.5zM418.5 444h1.5v1.5h-1.5zM404.7 430.4h1.5v1.5h-1.5zM400.4 448h1.5v1.5h-1.5zM387.8 462.4h1.5v1.5h-1.5zM400.2 446.6h1.5v1.5h-1.5zM390.3 449.4h1.5v1.5h-1.5zM403.6 431.3h1.5v1.5h-1.5zM433.5 421.9h1.5v1.5h-1.5zM358.6 459.2h1.5v1.5h-1.5zM436.5 429.4h1.5v1.5h-1.5zM407.4 412.7h1.5v1.5h-1.5zM412.4 446.5h1.5v1.5h-1.5zM403.6 441.2h1.5v1.5h-1.5zM443.2 446.5h1.5v1.5h-1.5zM417.2 433.3h1.5v1.5h-1.5zM456.4 436.9h1.5v1.5h-1.5zM356.8 445.6h1.5v1.5h-1.5zM410.2 421h1.5v1.5h-1.5zM451.3 448.8h1.5v1.5h-1.5zM418.5 434.4h1.5v1.5h-1.5zM377.5 450.5h1.5v1.5h-1.5zM366.9 465.9h1.5v1.5h-1.5zM423.1 436.5h1.5v1.5h-1.5zM361.3 451.4h1.5v1.5h-1.5zM369.1 445.4h1.5v1.5h-1.5zM437.8 429.5h1.5v1.5h-1.5zM348.1 447h1.5v1.5h-1.5zM436.2 441.7h1.5v1.5h-1.5zM387.6 439.7h1.5v1.5h-1.5zM380.6 434.8h1.5v1.5h-1.5zM371.8 447.6h1.5v1.5h-1.5zM392.4 433.1h1.5v1.5h-1.5zM374.6 446.5h1.5v1.5h-1.5zM362.8 445.3h1.5v1.5h-1.5zM365.6 456.1h1.5v1.5h-1.5zM429 433.4h1.5v1.5h-1.5zM410 430.2h1.5v1.5h-1.5zM430.2 434h1.5v1.5h-1.5zM408.5 403.3h1.5v1.5h-1.5zM369 422.3h1.5v1.5h-1.5zM403.2 431.7h1.5v1.5h-1.5zM380 447h1.5v1.5h-1.5zM362.6 458.5h1.5v1.5h-1.5zM397.6 436.7h1.5v1.5h-1.5zM424.5 421.7h1.5v1.5h-1.5zM366.5 453.9h1.5v1.5h-1.5zM392.2 435.1h1.5v1.5h-1.5zM367.9 426h1.5v1.5h-1.5zM372.6 440.4h1.5v1.5h-1.5zM376.1 444h1.5v1.5h-1.5zM451.9 446.1h1.5v1.5h-1.5zM440.2 430.1h1.5v1.5h-1.5zM381.5 441h1.5v1.5h-1.5zM380.4 452.5h1.5v1.5h-1.5zM444.6 434.2h1.5v1.5h-1.5zM421 432.4h1.5v1.5h-1.5zM388.1 447.7h1.5v1.5h-1.5zM375.4 435.4h1.5v1.5h-1.5zM398.6 451.9h1.5v1.5h-1.5zM389.4 441.3h1.5v1.5h-1.5zM427 415.6h1.5v1.5h-1.5zM394.2 437.6h1.5v1.5h-1.5zM415 421.2h1.5v1.5h-1.5zM397.7 421.2h1.5v1.5h-1.5zM399.6 447.2h1.5v1.5h-1.5zM417.3 432h1.5v1.5h-1.5zM410.2 433.1h1.5v1.5h-1.5zM411.7 419.1h1.5v1.5h-1.5zM399.1 421.2h1.5v1.5h-1.5zM379.9 444.2h1.5v1.5h-1.5zM370.4 448.8h1.5v1.5h-1.5zM442.8 418.2h1.5v1.5h-1.5zM425.9 435.6h1.5v1.5h-1.5zM414 437.1h1.5v1.5h-1.5zM430.2 429.7h1.5v1.5h-1.5zM372 454.6h1.5v1.5h-1.5zM424.6 427.7h1.5v1.5h-1.5zM372.5 438.3h1.5v1.5h-1.5zM393.9 421.4h1.5v1.5h-1.5zM429.3 435.5h1.5v1.5h-1.5zM435.1 440h1.5v1.5h-1.5zM382.8 426.3h1.5v1.5h-1.5zM382 450.2h1.5v1.5h-1.5zM370.9 442.3h1.5v1.5h-1.5zM430.1 415.4h1.5v1.5h-1.5zM392.8 454.1h1.5v1.5h-1.5zM384.1 454h1.5v1.5h-1.5zM434.9 425.6h1.5v1.5h-1.5zM427.2 433.6h1.5v1.5h-1.5zM452.4 428.2h1.5v1.5h-1.5zM436 405.7h1.5v1.5h-1.5zM442.9 421.1h1.5v1.5h-1.5zM454.8 425.4h1.5v1.5h-1.5zM424.3 432.9h1.5v1.5h-1.5zM434.3 434.9h1.5v1.5h-1.5zM443.2 422.9h1.5v1.5h-1.5zM451 422h1.5v1.5h-1.5zM422.4 417h1.5v1.5h-1.5zM441.9 444.9h1.5v1.5h-1.5zM437.5 426.4h1.5v1.5h-1.5zM429.3 437.7h1.5v1.5h-1.5zM407.8 427.9h1.5v1.5h-1.5zM441.6 419h1.5v1.5h-1.5zM453.7 422.3h1.5v1.5h-1.5zM426.3 421.8h1.5v1.5h-1.5zM414.7 427h1.5v1.5h-1.5zM434.5 418.4h1.5v1.5h-1.5zM428.2 438h1.5v1.5h-1.5zM426.3 437.8h1.5v1.5h-1.5zM387.3 435.1h1.5v1.5h-1.5zM443.8 425.8h1.5v1.5h-1.5zM417.3 441.4h1.5v1.5h-1.5zM429.8 433.8h1.5v1.5h-1.5zM445 444.2h1.5v1.5h-1.5zM427.6 432.3h1.5v1.5h-1.5zM421.5 429.4h1.5v1.5h-1.5zM448.8 415.2h1.5v1.5h-1.5zM445.5 427h1.5v1.5h-1.5zM443.9 430.4h1.5v1.5h-1.5zM436.1 411.8h1.5v1.5h-1.5zM442.9 419.5h1.5v1.5h-1.5zM412.6 430.7h1.5v1.5h-1.5zM434.3 452.6h1.5v1.5h-1.5zM454.5 442.3h1.5v1.5h-1.5zM443.2 442.3h1.5v1.5h-1.5zM427.3 431.8h1.5v1.5h-1.5zM433.2 417.7h1.5v1.5h-1.5zM484 436h1.5v1.5h-1.5zM442.6 416.3h1.5v1.5h-1.5zM461.7 430.4h1.5v1.5h-1.5zM470.5 423.7h1.5v1.5h-1.5zM431.1 413.7h1.5v1.5h-1.5zM448.7 417.5h1.5v1.5h-1.5zM422.3 440.1h1.5v1.5h-1.5zM419.1 440.8h1.5v1.5h-1.5zM419.7 421.6h1.5v1.5h-1.5zM406.7 439.4h1.5v1.5h-1.5zM465.6 422h1.5v1.5h-1.5zM434.5 437.3h1.5v1.5h-1.5zM426.5 420.8h1.5v1.5h-1.5zM428.8 434.3h1.5v1.5h-1.5zM425.1 421.8h1.5v1.5h-1.5zM428.7 440h1.5v1.5h-1.5zM392.7 431.5h1.5v1.5h-1.5zM421 427.5h1.5v1.5h-1.5zM442.5 432h1.5v1.5h-1.5zM437.8 433.8h1.5v1.5h-1.5zM429.1 421.7h1.5v1.5h-1.5zM429.7 435.9h1.5v1.5h-1.5zM423.1 412.9h1.5v1.5h-1.5zM426.3 424.9h1.5v1.5h-1.5zM425.2 433.5h1.5v1.5h-1.5zM431.6 434.9h1.5v1.5h-1.5zM409.3 437.7h1.5v1.5h-1.5zM406 436.2h1.5v1.5h-1.5zM444.8 412.9h1.5v1.5h-1.5zM414.4 441.8h1.5v1.5h-1.5zM410.8 428h1.5v1.5h-1.5zM430.5 412.6h1.5v1.5h-1.5zM407.2 442.3h1.5v1.5h-1.5zM405.5 444.1h1.5v1.5h-1.5zM405.8 444.7h1.5v1.5h-1.5zM462.3 437h1.5v1.5h-1.5zM477.8 424.7h1.5v1.5h-1.5zM430.7 426.1h1.5v1.5h-1.5zM430.6 437.6h1.5v1.5h-1.5zM422.8 435.8h1.5v1.5h-1.5zM443.9 436.2h1.5v1.5h-1.5zM427.5 422.9h1.5v1.5h-1.5zM436.9 429.6h1.5v1.5h-1.5zM474.3 418.6h1.5v1.5h-1.5zM426.5 425.2h1.5v1.5h-1.5zM433.7 428.5h1.5v1.5h-1.5zM435.1 428.3h1.5v1.5h-1.5zM434.9 432.5h1.5v1.5h-1.5zM431.5 423.6h1.5v1.5h-1.5zM421.8 438.8h1.5v1.5h-1.5zM405.2 429.9h1.5v1.5h-1.5zM424.3 429.8h1.5v1.5h-1.5zM454.8 428.1h1.5v1.5h-1.5zM416.4 439h1.5v1.5h-1.5zM442 431.5h1.5v1.5h-1.5zM461.9 407.9h1.5v1.5h-1.5zM426.5 440.4h1.5v1.5h-1.5zM450.1 413.7h1.5v1.5h-1.5zM425 445.5h1.5v1.5h-1.5zM431.4 435.1h1.5v1.5h-1.5zM443.1 421.6h1.5v1.5h-1.5zM460.7 416.2h1.5v1.5h-1.5zM397.6 435.9h1.5v1.5h-1.5zM418.1 440.1h1.5v1.5h-1.5zM433.4 430.6h1.5v1.5h-1.5zM425.3 434.5h1.5v1.5h-1.5zM422.1 441.1h1.5v1.5h-1.5zM421 446.5h1.5v1.5h-1.5zM432.9 419.2h1.5v1.5h-1.5zM386.9 437.9h1.5v1.5h-1.5zM415.2 435.4h1.5v1.5h-1.5zM430.5 428h1.5v1.5h-1.5zM432.7 436.1h1.5v1.5h-1.5zM428.8 430.9h1.5v1.5h-1.5zM430.2 414.6h1.5v1.5h-1.5zM400.6 445.1h1.5v1.5h-1.5zM417.5 435.6h1.5v1.5h-1.5zM446.2 431.1h1.5v1.5h-1.5zM420.8 445.6h1.5v1.5h-1.5zM434.3 425.3h1.5v1.5h-1.5zM413 434.8h1.5v1.5h-1.5zM420.9 440.1h1.5v1.5h-1.5zM446.3 423.4h1.5v1.5h-1.5zM417.5 441.3h1.5v1.5h-1.5zM446.7 417.5h1.5v1.5h-1.5zM446 424.4h1.5v1.5h-1.5zM433.3 412.4h1.5v1.5h-1.5zM470.5 401.9h1.5v1.5h-1.5zM419.6 432.4h1.5v1.5h-1.5zM409.6 434.4h1.5v1.5h-1.5zM453.7 431.7h1.5v1.5h-1.5zM428.4 423.8h1.5v1.5h-1.5zM428.5 444.9h1.5v1.5h-1.5zM465.4 419.8h1.5v1.5h-1.5zM426.7 420.4h1.5v1.5h-1.5zM418.4 431.9h1.5v1.5h-1.5zM434.4 422.8h1.5v1.5h-1.5zM431.1 429.4h1.5v1.5h-1.5zM466.9 423.5h1.5v1.5h-1.5zM438.3 428.1h1.5v1.5h-1.5zM428.8 419.4h1.5v1.5h-1.5zM455.9 436.8h1.5v1.5h-1.5zM446.8 431.7h1.5v1.5h-1.5zM413.6 421.1h1.5v1.5h-1.5zM421.9 423.1h1.5v1.5h-1.5zM441.5 431.8h1.5v1.5h-1.5zM413.9 432h1.5v1.5h-1.5zM427.1 457.4h1.5v1.5h-1.5zM427 410h1.5v1.5h-1.5zM445 448h1.5v1.5h-1.5zM448.8 421h1.5v1.5h-1.5zM466.5 409h1.5v1.5h-1.5zM441.3 424h1.5v1.5h-1.5zM434.1 432.3h1.5v1.5h-1.5zM437.4 424.9h1.5v1.5h-1.5zM429.1 430.9h1.5v1.5h-1.5zM431.8 411.3h1.5v1.5h-1.5zM441.1 423.2h1.5v1.5h-1.5zM444.4 439.7h1.5v1.5h-1.5zM424.1 431.5h1.5v1.5h-1.5zM418.8 428.1h1.5v1.5h-1.5zM421.7 418.6h1.5v1.5h-1.5zM426.5 436.3h1.5v1.5h-1.5zM467.1 423.7h1.5v1.5h-1.5zM453.1 423.4h1.5v1.5h-1.5zM409.9 417h1.5v1.5h-1.5zM400.4 417.6h1.5v1.5h-1.5zM452.5 420.7h1.5v1.5h-1.5zM425.8 432h1.5v1.5h-1.5zM429.8 433.7h1.5v1.5h-1.5zM417.1 431.5h1.5v1.5h-1.5zM456.6 412.4h1.5v1.5h-1.5zM423.6 431.5h1.5v1.5h-1.5zM404.6 436h1.5v1.5h-1.5zM438.4 422.7h1.5v1.5h-1.5zM456.3 423.9h1.5v1.5h-1.5zM431.3 432.9h1.5v1.5h-1.5zM431.3 440.7h1.5v1.5h-1.5zM446.6 439.5h1.5v1.5h-1.5zM420.6 423.2h1.5v1.5h-1.5zM421.2 438.4h1.5v1.5h-1.5zM418.9 434.6h1.5v1.5h-1.5zM427.5 424.3h1.5v1.5h-1.5zM415.8 438.8h1.5v1.5h-1.5zM426.1 433.5h1.5v1.5h-1.5zM433.8 422.2h1.5v1.5h-1.5zM431.6 446.8h1.5v1.5h-1.5zM442.1 416.4h1.5v1.5h-1.5zM434.2 426.8h1.5v1.5h-1.5zM464 429.9h1.5v1.5h-1.5zM427.1 424.1h1.5v1.5h-1.5zM456.2 419.1h1.5v1.5h-1.5zM439.1 420.3h1.5v1.5h-1.5zM432.9 426.7h1.5v1.5h-1.5zM404.7 453.3h1.5v1.5h-1.5zM439.4 427.3h1.5v1.5h-1.5zM432.8 437.5h1.5v1.5h-1.5zM441 418.8h1.5v1.5h-1.5zM458.8 418.9h1.5v1.5h-1.5zM444.2 434.2h1.5v1.5h-1.5zM436.9 433.8h1.5v1.5h-1.5zM432.4 442h1.5v1.5h-1.5zM459.6 419.4h1.5v1.5h-1.5zM424.5 439.8h1.5v1.5h-1.5zM422.6 436.9h1.5v1.5h-1.5zM424.4 423.4h1.5v1.5h-1.5zM423.4 437.1h1.5v1.5h-1.5zM445.3 450.6h1.5v1.5h-1.5zM475.5 419.7h1.5v1.5h-1.5zM421.1 421.6h1.5v1.5h-1.5zM418.3 420.3h1.5v1.5h-1.5zM433.3 433h1.5v1.5h-1.5zM451 421.5h1.5v1.5h-1.5zM429.9 411h1.5v1.5h-1.5zM433.4 432.7h1.5v1.5h-1.5zM446 415.5h1.5v1.5h-1.5zM425.4 433.1h1.5v1.5h-1.5zM432.2 428.1h1.5v1.5h-1.5zM433.6 407.5h1.5v1.5h-1.5zM424.4 438.5h1.5v1.5h-1.5zM433.1 425.6h1.5v1.5h-1.5zM438.2 446.5h1.5v1.5h-1.5zM431 443.4h1.5v1.5h-1.5zM410.1 429.2h1.5v1.5h-1.5zM436.9 436.4h1.5v1.5h-1.5zM410.7 453.3h1.5v1.5h-1.5zM449.8 435.3h1.5v1.5h-1.5zM432.7 404.4h1.5v1.5h-1.5zM438 431.7h1.5v1.5h-1.5zM405 431.5h1.5v1.5h-1.5zM413.4 424.7h1.5v1.5h-1.5zM404.6 445.6h1.5v1.5h-1.5zM410.2 437.1h1.5v1.5h-1.5zM454 426.1h1.5v1.5h-1.5zM440.3 431.3h1.5v1.5h-1.5zM441.7 424.2h1.5v1.5h-1.5zM454.8 410.8h1.5v1.5h-1.5zM448.3 435.2h1.5v1.5h-1.5zM438.5 428.7h1.5v1.5h-1.5zM431 429.4h1.5v1.5h-1.5zM410.9 418.7h1.5v1.5h-1.5zM441.3 450.3h1.5v1.5h-1.5zM429.4 429h1.5v1.5h-1.5zM433 437.2h1.5v1.5h-1.5zM438.1 438.1h1.5v1.5h-1.5zM450 433.9h1.5v1.5h-1.5zM428.5 421.7h1.5v1.5h-1.5zM452.3 430.3h1.5v1.5h-1.5zM427.3 438.1h1.5v1.5h-1.5zM424.9 417.6h1.5v1.5h-1.5zM455.8 430.3h1.5v1.5h-1.5zM448.3 418.1h1.5v1.5h-1.5zM429.9 437.4h1.5v1.5h-1.5zM421 440.1h1.5v1.5h-1.5zM398.4 433.4h1.5v1.5h-1.5zM449.4 432.6h1.5v1.5h-1.5zM415.3 426.4h1.5v1.5h-1.5zM410.3 418.7h1.5v1.5h-1.5zM429.9 431h1.5v1.5h-1.5zM415.6 433.5h1.5v1.5h-1.5zM459.5 429.1h1.5v1.5h-1.5zM431.2 430.6h1.5v1.5h-1.5zM414.9 429h1.5v1.5h-1.5zM430.5 444h1.5v1.5h-1.5zM422.2 451.7h1.5v1.5h-1.5zM437 438.3h1.5v1.5h-1.5zM416.5 434.2h1.5v1.5h-1.5zM411.5 430.2h1.5v1.5h-1.5zM434.7 420.8h1.5v1.5h-1.5zM432.5 420.8h1.5v1.5h-1.5zM428.7 432.1h1.5v1.5h-1.5zM412.7 443.7h1.5v1.5h-1.5zM436.3 418.2h1.5v1.5h-1.5zM447.6 418.4h1.5v1.5h-1.5zM415.2 436.5h1.5v1.5h-1.5zM421.7 426.6h1.5v1.5h-1.5zM443.2 443h1.5v1.5h-1.5zM453.6 437.1h1.5v1.5h-1.5zM411.5 419.3h1.5v1.5h-1.5zM429 423.7h1.5v1.5h-1.5zM416.6 426.2h1.5v1.5h-1.5zM416.4 421.9h1.5v1.5h-1.5zM414.6 438.3h1.5v1.5h-1.5zM431.9 437.6h1.5v1.5h-1.5zM448.2 427.2h1.5v1.5h-1.5zM425.2 414.4h1.5v1.5h-1.5zM422.5 425.8h1.5v1.5h-1.5zM460 427.3h1.5v1.5h-1.5zM451.6 419h1.5v1.5h-1.5zM433.1 427.6h1.5v1.5h-1.5zM441.2 416.7h1.5v1.5h-1.5zM417.1 444.9h1.5v1.5h-1.5zM468.7 422.1h1.5v1.5h-1.5zM459.7 423.8h1.5v1.5h-1.5zM470.5 428.6h1.5v1.5h-1.5zM447.8 421.3h1.5v1.5h-1.5zM430.4 420.8h1.5v1.5h-1.5zM442.1 440.9h1.5v1.5h-1.5zM410 438.9h1.5v1.5h-1.5zM398.2 443h1.5v1.5h-1.5zM424.5 436.8h1.5v1.5h-1.5zM434.8 414.9h1.5v1.5h-1.5zM427.7 431h1.5v1.5h-1.5zM435.2 435.5h1.5v1.5h-1.5zM465.9 414h1.5v1.5h-1.5zM438.7 436.8h1.5v1.5h-1.5zM432.3 434.9h1.5v1.5h-1.5zM438.4 423.3h1.5v1.5h-1.5zM430.1 420h1.5v1.5h-1.5zM402.9 440.1h1.5v1.5h-1.5zM424.5 435.3h1.5v1.5h-1.5zM420.4 450.9h1.5v1.5h-1.5zM438 433.8h1.5v1.5h-1.5zM434.7 433.7h1.5v1.5h-1.5zM428.3 425.9h1.5v1.5h-1.5zM425.9 437.5h1.5v1.5h-1.5zM425.5 437.3h1.5v1.5h-1.5zM444.6 424.5h1.5v1.5h-1.5zM446.4 422.4h1.5v1.5h-1.5zM433.3 415.3h1.5v1.5h-1.5zM443 426.8h1.5v1.5h-1.5zM463.7 429.7h1.5v1.5h-1.5zM402.8 438.4h1.5v1.5h-1.5zM435.2 447.3h1.5v1.5h-1.5zM449 430.4h1.5v1.5h-1.5zM418.2 419.6h1.5v1.5h-1.5zM424.4 438.2h1.5v1.5h-1.5zM424.4 409.2h1.5v1.5h-1.5zM431.1 431.9h1.5v1.5h-1.5zM441.5 438.3h1.5v1.5h-1.5zM425.5 440h1.5v1.5h-1.5zM439.5 434h1.5v1.5h-1.5zM417.2 428.4h1.5v1.5h-1.5zM432.7 431.3h1.5v1.5h-1.5zM416.2 441.3h1.5v1.5h-1.5zM433.5 444.4h1.5v1.5h-1.5zM426.2 427.7h1.5v1.5h-1.5zM421.4 437.9h1.5v1.5h-1.5zM392.9 429.7h1.5v1.5h-1.5zM430.6 432.8h1.5v1.5h-1.5zM398.2 434.7h1.5v1.5h-1.5zM434.9 430h1.5v1.5h-1.5zM409.5 448h1.5v1.5h-1.5zM424.5 424.6h1.5v1.5h-1.5zM443.8 421.3h1.5v1.5h-1.5zM446.3 427.3h1.5v1.5h-1.5zM436.8 429.6h1.5v1.5h-1.5zM427 440.6h1.5v1.5h-1.5zM401.1 450.3h1.5v1.5h-1.5zM407 436.9h1.5v1.5h-1.5zM465.2 421.4h1.5v1.5h-1.5zM427.6 445.4h1.5v1.5h-1.5zM448.3 433h1.5v1.5h-1.5zM452.2 438.3h1.5v1.5h-1.5zM402.9 452.4h1.5v1.5h-1.5zM435.3 422.6h1.5v1.5h-1.5zM434.2 445.4h1.5v1.5h-1.5zM429.6 437.3h1.5v1.5h-1.5zM462 423.2h1.5v1.5h-1.5zM425.2 425.6h1.5v1.5h-1.5zM442.4 426.2h1.5v1.5h-1.5zM433.7 438.5h1.5v1.5h-1.5zM433.7 431h1.5v1.5h-1.5zM441.6 446.3h1.5v1.5h-1.5zM441.3 436.7h1.5v1.5h-1.5zM433 426.6h1.5v1.5h-1.5zM404.8 433.3h1.5v1.5h-1.5zM458.8 431.8h1.5v1.5h-1.5zM421.6 425.9h1.5v1.5h-1.5zM449 418.3h1.5v1.5h-1.5zM452.4 413h1.5v1.5h-1.5zM431.9 435.4h1.5v1.5h-1.5zM440 428.7h1.5v1.5h-1.5zM456.8 430.4h1.5v1.5h-1.5zM441.9 440h1.5v1.5h-1.5zM440.7 427.8h1.5v1.5h-1.5zM440.5 430.5h1.5v1.5h-1.5zM414.9 436.7h1.5v1.5h-1.5zM447.6 447h1.5v1.5h-1.5zM434.7 424.7h1.5v1.5h-1.5zM419.8 427.4h1.5v1.5h-1.5zM427.6 425.2h1.5v1.5h-1.5zM431.2 435.8h1.5v1.5h-1.5zM416.6 430.5h1.5v1.5h-1.5zM411.9 447.7h1.5v1.5h-1.5zM436.8 425.9h1.5v1.5h-1.5zM451.1 430.6h1.5v1.5h-1.5zM429.5 435.6h1.5v1.5h-1.5zM410.3 426.2h1.5v1.5h-1.5zM423 447.4h1.5v1.5h-1.5zM455.8 436.5h1.5v1.5h-1.5zM414.2 428.3h1.5v1.5h-1.5zM424.2 420.6h1.5v1.5h-1.5zM426.3 436.8h1.5v1.5h-1.5zM412.6 429.2h1.5v1.5h-1.5zM435.4 421.7h1.5v1.5h-1.5zM422.4 433.6h1.5v1.5h-1.5zM407.3 435.8h1.5v1.5h-1.5zM432.4 435.7h1.5v1.5h-1.5zM435.5 421.3h1.5v1.5h-1.5zM423.6 443.2h1.5v1.5h-1.5zM440.4 411h1.5v1.5h-1.5zM408.7 422.7h1.5v1.5h-1.5zM444.3 430.2h1.5v1.5h-1.5zM433.3 420.9h1.5v1.5h-1.5zM424.8 459.1h1.5v1.5h-1.5zM426 438.1h1.5v1.5h-1.5zM449.3 427.7h1.5v1.5h-1.5zM455.8 446.4h1.5v1.5h-1.5zM443.2 419.2h1.5v1.5h-1.5zM421.4 434.7h1.5v1.5h-1.5zM433.1 429.3h1.5v1.5h-1.5zM439.3 428h1.5v1.5h-1.5zM434.2 436h1.5v1.5h-1.5zM436.1 423.2h1.5v1.5h-1.5zM418.8 422.3h1.5v1.5h-1.5zM431.2 428.8h1.5v1.5h-1.5zM445.5 420.3h1.5v1.5h-1.5zM456.3 430.8h1.5v1.5h-1.5zM422.7 425.5h1.5v1.5h-1.5zM427.1 421.4h1.5v1.5h-1.5zM414.9 433.8h1.5v1.5h-1.5zM433.8 412.3h1.5v1.5h-1.5zM416.2 451.4h1.5v1.5h-1.5zM438.6 414.7h1.5v1.5h-1.5zM424.2 423h1.5v1.5h-1.5zM406.4 430h1.5v1.5h-1.5zM427.8 421.2h1.5v1.5h-1.5zM451.3 425.3h1.5v1.5h-1.5zM428.5 438.8h1.5v1.5h-1.5zM424.1 440.9h1.5v1.5h-1.5zM404.2 437.5h1.5v1.5h-1.5zM428.3 421.7h1.5v1.5h-1.5zM439.9 422.5h1.5v1.5h-1.5zM413.2 424.9h1.5v1.5h-1.5zM413.2 443.6h1.5v1.5h-1.5zM451 416.5h1.5v1.5h-1.5zM425.9 434h1.5v1.5h-1.5zM423.2 420.4h1.5v1.5h-1.5zM427.5 430.9h1.5v1.5h-1.5zM439.6 428.5h1.5v1.5h-1.5zM479.4 426.1h1.5v1.5h-1.5zM405.7 447.2h1.5v1.5h-1.5zM409.9 446.7h1.5v1.5h-1.5zM442 428.1h1.5v1.5h-1.5zM427.1 419.5h1.5v1.5h-1.5zM431.3 434.1h1.5v1.5h-1.5zM442.6 417.7h1.5v1.5h-1.5zM413.2 433h1.5v1.5h-1.5zM434.7 424.4h1.5v1.5h-1.5zM431.5 438.5h1.5v1.5h-1.5zM421.9 432.6h1.5v1.5h-1.5zM430.6 434.2h1.5v1.5h-1.5zM431.7 428.9h1.5v1.5h-1.5zM439 430.8h1.5v1.5h-1.5zM435.8 424.5h1.5v1.5h-1.5zM420.1 442.5h1.5v1.5h-1.5zM422.9 423.4h1.5v1.5h-1.5zM425.3 432.9h1.5v1.5h-1.5zM476.4 425.2h1.5v1.5h-1.5zM406.4 436.7h1.5v1.5h-1.5zM449 434.7h1.5v1.5h-1.5zM430.2 418.8h1.5v1.5h-1.5zM469.1 408.2h1.5v1.5h-1.5zM440.5 433.1h1.5v1.5h-1.5zM424.7 434.2h1.5v1.5h-1.5zM420 433.5h1.5v1.5h-1.5zM440.4 431h1.5v1.5h-1.5zM444.4 427.7h1.5v1.5h-1.5zM416 442.1h1.5v1.5h-1.5zM461.3 427.6h1.5v1.5h-1.5zM434.1 414.6h1.5v1.5h-1.5zM425.7 433.4h1.5v1.5h-1.5zM440.3 434.8h1.5v1.5h-1.5zM389.9 418h1.5v1.5h-1.5zM443.1 444.8h1.5v1.5h-1.5zM452.2 414.3h1.5v1.5h-1.5zM430.8 444.2h1.5v1.5h-1.5zM431.3 413.1h1.5v1.5h-1.5zM439.9 401.3h1.5v1.5h-1.5zM432.3 420h1.5v1.5h-1.5zM432.8 434.4h1.5v1.5h-1.5zM416.1 447.3h1.5v1.5h-1.5zM461.1 435.6h1.5v1.5h-1.5zM432.9 425h1.5v1.5h-1.5zM436.2 416h1.5v1.5h-1.5zM435.3 439.8h1.5v1.5h-1.5zM418.1 430.3h1.5v1.5h-1.5zM426.1 432.1h1.5v1.5h-1.5zM422.6 446.7h1.5v1.5h-1.5zM413.3 415.9h1.5v1.5h-1.5zM415.5 440h1.5v1.5h-1.5zM419.8 452h1.5v1.5h-1.5zM428.8 417.6h1.5v1.5h-1.5zM431.9 444h1.5v1.5h-1.5zM442.1 419.2h1.5v1.5h-1.5zM446 428.9h1.5v1.5h-1.5zM431 431.9h1.5v1.5h-1.5zM442.2 432.9h1.5v1.5h-1.5zM408.3 411.7h1.5v1.5h-1.5zM449.9 421.9h1.5v1.5h-1.5zM447.2 418.3h1.5v1.5h-1.5zM436.8 441.5h1.5v1.5h-1.5zM407.4 449.9h1.5v1.5h-1.5zM431.1 432.1h1.5v1.5h-1.5zM451.7 431.9h1.5v1.5h-1.5zM415.4 430.3h1.5v1.5h-1.5zM439.7 413.8h1.5v1.5h-1.5zM427.2 424h1.5v1.5h-1.5zM414.6 423h1.5v1.5h-1.5zM436.1 429.9h1.5v1.5h-1.5zM412.1 440.6h1.5v1.5h-1.5zM434.7 436.8h1.5v1.5h-1.5zM435.6 441.4h1.5v1.5h-1.5zM435.7 427.1h1.5v1.5h-1.5zM420.4 436.3h1.5v1.5h-1.5zM426.7 432.3h1.5v1.5h-1.5zM428.3 416.6h1.5v1.5h-1.5zM427.3 430.3h1.5v1.5h-1.5zM443.4 430.8h1.5v1.5h-1.5zM443.6 428.9h1.5v1.5h-1.5zM400.3 426.2h1.5v1.5h-1.5zM440.5 429.5h1.5v1.5h-1.5zM410.9 443.2h1.5v1.5h-1.5zM444.3 433.9h1.5v1.5h-1.5zM472 433.8h1.5v1.5h-1.5zM415.5 438.2h1.5v1.5h-1.5zM439.8 433.2h1.5v1.5h-1.5zM422.1 431.3h1.5v1.5h-1.5zM434.3 431.3h1.5v1.5h-1.5zM447.1 435h1.5v1.5h-1.5zM424.7 437.7h1.5v1.5h-1.5zM428.5 434h1.5v1.5h-1.5zM432.3 445.8h1.5v1.5h-1.5zM403.6 435h1.5v1.5h-1.5zM452.6 447.3h1.5v1.5h-1.5zM440.1 426.3h1.5v1.5h-1.5zM423.5 450.4h1.5v1.5h-1.5zM439 439.7h1.5v1.5h-1.5zM429.4 427.4h1.5v1.5h-1.5zM400.8 441.4h1.5v1.5h-1.5zM402.8 427.7h1.5v1.5h-1.5zM437.7 418.7h1.5v1.5h-1.5zM456.3 432.7h1.5v1.5h-1.5zM451.2 415.8h1.5v1.5h-1.5zM433.4 414.7h1.5v1.5h-1.5zM423.1 437.1h1.5v1.5h-1.5zM446.5 435.6h1.5v1.5h-1.5zM425.8 412.4h1.5v1.5h-1.5zM410.4 425.3h1.5v1.5h-1.5zM427.1 436h1.5v1.5h-1.5zM418.1 437.3h1.5v1.5h-1.5zM428.3 443.3h1.5v1.5h-1.5zM422 432.7h1.5v1.5h-1.5zM450.6 415.5h1.5v1.5h-1.5zM428.2 428.9h1.5v1.5h-1.5zM394 427.7h1.5v1.5h-1.5zM468.1 434.6h1.5v1.5h-1.5zM447.9 432h1.5v1.5h-1.5zM451.9 441h1.5v1.5h-1.5zM411.4 449.3h1.5v1.5h-1.5zM426.6 433.1h1.5v1.5h-1.5zM423.7 431.1h1.5v1.5h-1.5zM426.7 438.5h1.5v1.5h-1.5zM442.7 432.9h1.5v1.5h-1.5zM433.2 421.3h1.5v1.5h-1.5zM468.1 413.7h1.5v1.5h-1.5zM455 425.2h1.5v1.5h-1.5zM430.3 424h1.5v1.5h-1.5zM436.6 434.9h1.5v1.5h-1.5zM432.5 425.6h1.5v1.5h-1.5zM412 429h1.5v1.5h-1.5zM455.3 424.2h1.5v1.5h-1.5zM424.5 422.8h1.5v1.5h-1.5zM414 443.4h1.5v1.5h-1.5zM422.7 440.7h1.5v1.5h-1.5zM459.1 420.6h1.5v1.5h-1.5zM414.9 438h1.5v1.5h-1.5zM447 425.5h1.5v1.5h-1.5zM437.1 433.6h1.5v1.5h-1.5zM405.2 445.3h1.5v1.5h-1.5zM440 423.3h1.5v1.5h-1.5zM434.6 430.5h1.5v1.5h-1.5zM402.9 441.3h1.5v1.5h-1.5zM456.3 417.8h1.5v1.5h-1.5zM454.8 421.1h1.5v1.5h-1.5zM423.3 437h1.5v1.5h-1.5zM393.9 437.9h1.5v1.5h-1.5zM429.6 436.1h1.5v1.5h-1.5zM453.3 421.1h1.5v1.5h-1.5zM426.5 419.2h1.5v1.5h-1.5zM433.4 429.2h1.5v1.5h-1.5zM402.9 444.5h1.5v1.5h-1.5zM416.9 431.1h1.5v1.5h-1.5zM438.9 422.2h1.5v1.5h-1.5zM437.1 413.8h1.5v1.5h-1.5zM431.4 413.8h1.5v1.5h-1.5zM442 431.7h1.5v1.5h-1.5zM418.7 454.8h1.5v1.5h-1.5zM443.6 415.5h1.5v1.5h-1.5zM447.1 428.2h1.5v1.5h-1.5zM431.8 443.8h1.5v1.5h-1.5zM440.2 422h1.5v1.5h-1.5zM419.7 433.4h1.5v1.5h-1.5zM452.4 425.1h1.5v1.5h-1.5zM470.9 427h1.5v1.5h-1.5zM423.7 445.5h1.5v1.5h-1.5zM410.6 427.2h1.5v1.5h-1.5zM429.4 431.9h1.5v1.5h-1.5zM435.1 441.3h1.5v1.5h-1.5zM423.2 426.6h1.5v1.5h-1.5zM427.3 419.2h1.5v1.5h-1.5zM416.6 415.4h1.5v1.5h-1.5zM395.9 447.5h1.5v1.5h-1.5zM445 427.8h1.5v1.5h-1.5zM454.1 429h1.5v1.5h-1.5zM448.3 428.2h1.5v1.5h-1.5zM462.2 422.6h1.5v1.5h-1.5zM409.4 427.2h1.5v1.5h-1.5zM424.7 435h1.5v1.5h-1.5zM435.9 442.3h1.5v1.5h-1.5zM436.9 417.3h1.5v1.5h-1.5zM425.8 439.9h1.5v1.5h-1.5zM436.2 408.5h1.5v1.5h-1.5zM427.2 428.2h1.5v1.5h-1.5zM422.4 441.6h1.5v1.5h-1.5zM426.9 440.6h1.5v1.5h-1.5zM430.2 433.1h1.5v1.5h-1.5zM417.2 451.7h1.5v1.5h-1.5zM456.5 430.2h1.5v1.5h-1.5zM443.5 439.2h1.5v1.5h-1.5zM446.6 431.9h1.5v1.5h-1.5zM421.8 443.6h1.5v1.5h-1.5zM452.7 431h1.5v1.5h-1.5zM425.3 425.7h1.5v1.5h-1.5zM467.4 424.3h1.5v1.5h-1.5zM419.1 435.6h1.5v1.5h-1.5zM431.7 423.8h1.5v1.5h-1.5zM454.9 419.2h1.5v1.5h-1.5zM433 429.8h1.5v1.5h-1.5zM426.4 434.2h1.5v1.5h-1.5zM406.3 443.6h1.5v1.5h-1.5zM414.7 439.7h1.5v1.5h-1.5zM447.4 425h1.5v1.5h-1.5zM442.8 415.9h1.5v1.5h-1.5zM444.7 431h1.5v1.5h-1.5zM429 434.6h1.5v1.5h-1.5zM404.3 428.5h1.5v1.5h-1.5zM437.9 407.4h1.5v1.5h-1.5zM456.6 425h1.5v1.5h-1.5zM347.8 441.9h1.5v1.5h-1.5zM358.3 443.8h1.5v1.5h-1.5zM362.3 454.4h1.5v1.5h-1.5zM355.4 448.6h1.5v1.5h-1.5zM356.6 429h1.5v1.5h-1.5zM356.1 444.7h1.5v1.5h-1.5zM342.3 437.7h1.5v1.5h-1.5zM354.5 426.2h1.5v1.5h-1.5zM341.9 462h1.5v1.5h-1.5zM367.4 452.9h1.5v1.5h-1.5zM371.3 458.9h1.5v1.5h-1.5zM373 457.8h1.5v1.5h-1.5zM355.7 438.7h1.5v1.5h-1.5zM345.2 430.5h1.5v1.5h-1.5zM351 431.7h1.5v1.5h-1.5zM375.3 442.9h1.5v1.5h-1.5zM357.5 450.4h1.5v1.5h-1.5zM351.4 435.7h1.5v1.5h-1.5zM360.7 446.2h1.5v1.5h-1.5zM360.2 440h1.5v1.5h-1.5zM364 457.8h1.5v1.5h-1.5zM353.1 441.7h1.5v1.5h-1.5zM346.4 437.3h1.5v1.5h-1.5zM345.3 453.5h1.5v1.5h-1.5zM359.6 450.4h1.5v1.5h-1.5zM344.2 442.8h1.5v1.5h-1.5zM352.7 441.6h1.5v1.5h-1.5zM367 458.4h1.5v1.5h-1.5zM346 438.3h1.5v1.5h-1.5zM363.1 435.4h1.5v1.5h-1.5zM357.7 454.1h1.5v1.5h-1.5zM364 451.9h1.5v1.5h-1.5zM355.4 439h1.5v1.5h-1.5zM353.3 454.2h1.5v1.5h-1.5zM356.7 450.8h1.5v1.5h-1.5zM350.3 439.8h1.5v1.5h-1.5zM379.6 449.4h1.5v1.5h-1.5zM345.9 425.1h1.5v1.5h-1.5zM364.3 444.4h1.5v1.5h-1.5zM338.9 442h1.5v1.5h-1.5zM374.2 443.6h1.5v1.5h-1.5zM327.9 440.5h1.5v1.5h-1.5zM354.2 444.5h1.5v1.5h-1.5zM348.9 459.5h1.5v1.5h-1.5zM346.6 451.9h1.5v1.5h-1.5zM344 443h1.5v1.5h-1.5zM362.2 446.2h1.5v1.5h-1.5zM361.7 431.2h1.5v1.5h-1.5zM353.6 448.2h1.5v1.5h-1.5zM357 439.7h1.5v1.5h-1.5zM365.3 455.4h1.5v1.5h-1.5zM354.5 451.8h1.5v1.5h-1.5zM355.9 452.3h1.5v1.5h-1.5zM372.8 436.8h1.5v1.5h-1.5zM366.1 441.2h1.5v1.5h-1.5zM366.7 445.4h1.5v1.5h-1.5zM348.4 454.5h1.5v1.5h-1.5zM338.4 435h1.5v1.5h-1.5zM352.9 445.6h1.5v1.5h-1.5zM337.8 436.6h1.5v1.5h-1.5zM365.7 451.7h1.5v1.5h-1.5zM354.1 438.4h1.5v1.5h-1.5zM346.3 449.8h1.5v1.5h-1.5zM354.5 449h1.5v1.5h-1.5zM362.1 454.8h1.5v1.5h-1.5zM359.3 446.6h1.5v1.5h-1.5zM370.4 438.3h1.5v1.5h-1.5zM366 460.6h1.5v1.5h-1.5zM359.6 422.7h1.5v1.5h-1.5zM364 435.1h1.5v1.5h-1.5zM360.8 454.6h1.5v1.5h-1.5zM348.2 455.2h1.5v1.5h-1.5zM351.2 458.8h1.5v1.5h-1.5zM349.9 441.9h1.5v1.5h-1.5zM358 448.3h1.5v1.5h-1.5zM369.6 446.5h1.5v1.5h-1.5zM359.9 441.5h1.5v1.5h-1.5zM343.5 448.7h1.5v1.5h-1.5zM360.8 468.1h1.5v1.5h-1.5zM375.6 449h1.5v1.5h-1.5zM339.3 423.1h1.5v1.5h-1.5zM341 458h1.5v1.5h-1.5zM364.4 451.1h1.5v1.5h-1.5zM359.5 435.3h1.5v1.5h-1.5zM345.5 451.5h1.5v1.5h-1.5zM339.4 433.5h1.5v1.5h-1.5zM346.3 447.6h1.5v1.5h-1.5zM355.8 446.6h1.5v1.5h-1.5zM357.4 440.8h1.5v1.5h-1.5zM353.3 443.5h1.5v1.5h-1.5zM352 436.4h1.5v1.5h-1.5zM358.6 451.9h1.5v1.5h-1.5zM344.6 460.1h1.5v1.5h-1.5zM359.1 437.9h1.5v1.5h-1.5zM359.7 462.4h1.5v1.5h-1.5zM352.6 442h1.5v1.5h-1.5zM354.4 444.8h1.5v1.5h-1.5zM356.9 450.3h1.5v1.5h-1.5zM358 448.2h1.5v1.5h-1.5zM351.9 448.8h1.5v1.5h-1.5zM443.8 415.4h1.5v1.5h-1.5zM397.1 432.4h1.5v1.5h-1.5zM432 447.3h1.5v1.5h-1.5zM347.6 445h1.5v1.5h-1.5zM416.2 436.9h1.5v1.5h-1.5zM346.7 465.8h1.5v1.5h-1.5zM328.8 464.4h1.5v1.5h-1.5zM384.6 452.4h1.5v1.5h-1.5zM406.7 416.9h1.5v1.5h-1.5zM446.6 437.5h1.5v1.5h-1.5zM377.4 447.4h1.5v1.5h-1.5zM353.4 490.3h1.5v1.5h-1.5zM339.8 437.5h1.5v1.5h-1.5zM356.3 434.8h1.5v1.5h-1.5zM427.3 404.2h1.5v1.5h-1.5zM345.2 459.3h1.5v1.5h-1.5zM379.4 444.8h1.5v1.5h-1.5zM401 448.4h1.5v1.5h-1.5zM437.2 447.6h1.5v1.5h-1.5zM424 445.5h1.5v1.5h-1.5zM387.5 452.9h1.5v1.5h-1.5zM345.8 418.8h1.5v1.5h-1.5zM372.1 461.6h1.5v1.5h-1.5zM433.9 441h1.5v1.5h-1.5zM458.1 396.9h1.5v1.5h-1.5zM423.2 406h1.5v1.5h-1.5zM444.5 427.8h1.5v1.5h-1.5zM386.2 460.2h1.5v1.5h-1.5zM443.4 406.6h1.5v1.5h-1.5zM398.9 432.1h1.5v1.5h-1.5zM317.5 463.8h1.5v1.5h-1.5zM359.4 471.2h1.5v1.5h-1.5zM459 425.5h1.5v1.5h-1.5zM351.1 469.1h1.5v1.5h-1.5zM363.1 433.2h1.5v1.5h-1.5zM337.2 476.3h1.5v1.5h-1.5zM412 438.4h1.5v1.5h-1.5zM416.1 446h1.5v1.5h-1.5zM367.8 465.3h1.5v1.5h-1.5zM454.9 459.5h1.5v1.5h-1.5zM380.5 440.1h1.5v1.5h-1.5zM436.4 412.1h1.5v1.5h-1.5zM419 425.2h1.5v1.5h-1.5zM377.9 434.9h1.5v1.5h-1.5zM371 408.3h1.5v1.5h-1.5zM452.5 418.8h1.5v1.5h-1.5zM461.4 442.2h1.5v1.5h-1.5zM437.1 420.3h1.5v1.5h-1.5zM384.1 466.2h1.5v1.5h-1.5zM415.5 453h1.5v1.5h-1.5zM378.2 469.9h1.5v1.5h-1.5zM343.3 460.7h1.5v1.5h-1.5zM319.6 466.1h1.5v1.5h-1.5zM495.7 417.4h1.5v1.5h-1.5zM476.6 425h1.5v1.5h-1.5zM348.1 433.8h1.5v1.5h-1.5zM372.4 447h1.5v1.5h-1.5zM334 481h1.5v1.5h-1.5zM384.3 453.6h1.5v1.5h-1.5zM371.3 471.3h1.5v1.5h-1.5zM429.2 436.2h1.5v1.5h-1.5zM386 450.2h1.5v1.5h-1.5zM398.1 446.9h1.5v1.5h-1.5zM438.2 457.7h1.5v1.5h-1.5zM451.8 429.6h1.5v1.5h-1.5zM412.8 464.9h1.5v1.5h-1.5zM417.7 462.2h1.5v1.5h-1.5zM399.5 420.5h1.5v1.5h-1.5zM401.4 447.4h1.5v1.5h-1.5zM384.9 419.7h1.5v1.5h-1.5zM402.5 448.7h1.5v1.5h-1.5zM489.4 418.3h1.5v1.5h-1.5zM382 430.7h1.5v1.5h-1.5zM364.8 437.7h1.5v1.5h-1.5zM429.6 420.8h1.5v1.5h-1.5zM425.7 443.7h1.5v1.5h-1.5zM398.8 439.9h1.5v1.5h-1.5zM349.3 444.5h1.5v1.5h-1.5zM391 469.5h1.5v1.5h-1.5zM397.6 441.4h1.5v1.5h-1.5zM402 452.1h1.5v1.5h-1.5zM373.2 472.1h1.5v1.5h-1.5zM417.1 474.5h1.5v1.5h-1.5zM407.6 450.4h1.5v1.5h-1.5zM451.9 415.5h1.5v1.5h-1.5zM456.3 399.8h1.5v1.5h-1.5zM366.4 473.5h1.5v1.5h-1.5zM453.1 409.2h1.5v1.5h-1.5zM418.6 442.1h1.5v1.5h-1.5zM367.2 443.1h1.5v1.5h-1.5zM381.7 444.1h1.5v1.5h-1.5zM415.7 442.1h1.5v1.5h-1.5zM306.9 452.3h1.5v1.5h-1.5zM382.8 412.1h1.5v1.5h-1.5zM341.1 463.9h1.5v1.5h-1.5zM384 447.6h1.5v1.5h-1.5zM420.1 463.5h1.5v1.5h-1.5zM470.9 406.5h1.5v1.5h-1.5zM403.6 466.8h1.5v1.5h-1.5zM434.5 439.5h1.5v1.5h-1.5zM488 425.1h1.5v1.5h-1.5zM427.2 446.3h1.5v1.5h-1.5zM436.6 423.6h1.5v1.5h-1.5zM430.4 450.2h1.5v1.5h-1.5zM376.9 453.1h1.5v1.5h-1.5zM395.5 432.5h1.5v1.5h-1.5zM441.5 433.3h1.5v1.5h-1.5zM393.1 483.3h1.5v1.5h-1.5zM331.5 489.5h1.5v1.5h-1.5zM362.2 468.7h1.5v1.5h-1.5zM410.9 418.3h1.5v1.5h-1.5zM399.8 480.4h1.5v1.5h-1.5zM432.8 406.4h1.5v1.5h-1.5zM442.5 421.8h1.5v1.5h-1.5zM401.6 435.3h1.5v1.5h-1.5zM458.6 433.8h1.5v1.5h-1.5zM396.3 436.2h1.5v1.5h-1.5zM375.2 449.6h1.5v1.5h-1.5zM440.2 446.3h1.5v1.5h-1.5zM324.7 447.6h1.5v1.5h-1.5zM448 448.3h1.5v1.5h-1.5zM404.1 475.5h1.5v1.5h-1.5zM357.4 461.4h1.5v1.5h-1.5zM520.6 435.1h1.5v1.5h-1.5zM351.8 463.8h1.5v1.5h-1.5zM388.2 466.5h1.5v1.5h-1.5zM423.4 453.3h1.5v1.5h-1.5zM393.7 459h1.5v1.5h-1.5zM397.1 439.6h1.5v1.5h-1.5zM390.4 443.3h1.5v1.5h-1.5zM355.7 453.1h1.5v1.5h-1.5zM444.6 405.8h1.5v1.5h-1.5zM378.3 452.2h1.5v1.5h-1.5zM365.5 452.2h1.5v1.5h-1.5zM299.1 486.1h1.5v1.5h-1.5zM352.3 452.7h1.5v1.5h-1.5zM435.3 434h1.5v1.5h-1.5zM425.1 442.2h1.5v1.5h-1.5zM355.3 444.7h1.5v1.5h-1.5zM375.9 447.5h1.5v1.5h-1.5zM461.8 446.2h1.5v1.5h-1.5zM398.2 444.2h1.5v1.5h-1.5zM363.4 461h1.5v1.5h-1.5zM403.9 468.4h1.5v1.5h-1.5zM390.5 412.2h1.5v1.5h-1.5zM424.1 408h1.5v1.5h-1.5zM398 407.7h1.5v1.5h-1.5zM438.5 428.4h1.5v1.5h-1.5zM343.3 426.8h1.5v1.5h-1.5zM376 430.3h1.5v1.5h-1.5zM470.8 431h1.5v1.5h-1.5zM397.2 464.4h1.5v1.5h-1.5zM362.8 483.1h1.5v1.5h-1.5zM325.3 442.5h1.5v1.5h-1.5zM402.8 408.3h1.5v1.5h-1.5zM348.7 455.6h1.5v1.5h-1.5zM413.1 446.2h1.5v1.5h-1.5zM427 429.3h1.5v1.5h-1.5zM348.6 501.4h1.5v1.5h-1.5zM447.5 425.4h1.5v1.5h-1.5zM489.4 399.8h1.5v1.5h-1.5zM427.6 435.9h1.5v1.5h-1.5zM436.7 411.8h1.5v1.5h-1.5zM447.7 431.7h1.5v1.5h-1.5zM454.5 436.1h1.5v1.5h-1.5zM429.5 471.1h1.5v1.5h-1.5zM448.8 396.7h1.5v1.5h-1.5zM341.9 467.8h1.5v1.5h-1.5zM385.8 454.6h1.5v1.5h-1.5zM445.4 402.8h1.5v1.5h-1.5zM413.1 417.1h1.5v1.5h-1.5zM404 432.2h1.5v1.5h-1.5zM368.7 446.6h1.5v1.5h-1.5zM331.7 500.6h1.5v1.5h-1.5zM370.5 459.6h1.5v1.5h-1.5zM470.7 429.7h1.5v1.5h-1.5zM332.7 479.8h1.5v1.5h-1.5zM406 431.2h1.5v1.5h-1.5zM410.6 431.7h1.5v1.5h-1.5zM403.4 469.2h1.5v1.5h-1.5zM450.1 428.8h1.5v1.5h-1.5zM432.5 426.8h1.5v1.5h-1.5zM476.3 418.3h1.5v1.5h-1.5zM401.7 429.9h1.5v1.5h-1.5zM433.7 446h1.5v1.5h-1.5zM355.6 450h1.5v1.5h-1.5zM408 443.7h1.5v1.5h-1.5zM455.1 432.4h1.5v1.5h-1.5zM403.3 438.5h1.5v1.5h-1.5zM360 467.4h1.5v1.5h-1.5zM372.1 449.5h1.5v1.5h-1.5zM375 441.8h1.5v1.5h-1.5zM410.8 443.4h1.5v1.5h-1.5zM401.6 455.5h1.5v1.5h-1.5zM293.7 488.5h1.5v1.5h-1.5zM385.6 431.1h1.5v1.5h-1.5zM346.9 453h1.5v1.5h-1.5zM463.5 386.4h1.5v1.5h-1.5zM410.8 440.8h1.5v1.5h-1.5zM453.7 406.7h1.5v1.5h-1.5zM459.5 437.9h1.5v1.5h-1.5zM441.4 439.8h1.5v1.5h-1.5zM452.2 447.4h1.5v1.5h-1.5zM449.6 429.8h1.5v1.5h-1.5zM449.6 440h1.5v1.5h-1.5zM451 432.5h1.5v1.5h-1.5zM454.9 434.1h1.5v1.5h-1.5zM461.8 429.3h1.5v1.5h-1.5zM442 438.4h1.5v1.5h-1.5zM462.6 434.1h1.5v1.5h-1.5zM448.3 448h1.5v1.5h-1.5zM441.9 422.7h1.5v1.5h-1.5zM450.1 436.7h1.5v1.5h-1.5zM461.9 435.3h1.5v1.5h-1.5zM473.5 430.4h1.5v1.5h-1.5zM451.4 433.9h1.5v1.5h-1.5zM461 438.7h1.5v1.5h-1.5zM454.8 434.8h1.5v1.5h-1.5zM461.9 425.8h1.5v1.5h-1.5zM463.7 422.6h1.5v1.5h-1.5zM450.8 415.6h1.5v1.5h-1.5zM447.8 438h1.5v1.5h-1.5zM459 434.7h1.5v1.5h-1.5zM448 430.8h1.5v1.5h-1.5zM455.7 439.8h1.5v1.5h-1.5zM457.3 413.1h1.5v1.5h-1.5zM453.4 442.4h1.5v1.5h-1.5zM463.2 443.2h1.5v1.5h-1.5zM452.6 431.6h1.5v1.5h-1.5zM457.9 423.7h1.5v1.5h-1.5zM460.7 436.1h1.5v1.5h-1.5zM460 420.3h1.5v1.5h-1.5zM458.4 443.2h1.5v1.5h-1.5zM453 422.3h1.5v1.5h-1.5zM450.5 428.7h1.5v1.5h-1.5zM468.3 417.9h1.5v1.5h-1.5zM462.4 431.2h1.5v1.5h-1.5zM457.1 424.5h1.5v1.5h-1.5zM459.4 425.2h1.5v1.5h-1.5zM472.7 434.9h1.5v1.5h-1.5zM454.4 452.3h1.5v1.5h-1.5zM446.4 421h1.5v1.5h-1.5zM456.6 424.6h1.5v1.5h-1.5zM453.9 445.2h1.5v1.5h-1.5zM460.5 434.3h1.5v1.5h-1.5zM462.9 431.1h1.5v1.5h-1.5zM460.9 452.4h1.5v1.5h-1.5zM465.5 438.3h1.5v1.5h-1.5zM456.9 443.2h1.5v1.5h-1.5zM456.8 442.7h1.5v1.5h-1.5zM465.3 431.8h1.5v1.5h-1.5zM443.1 416.7h1.5v1.5h-1.5zM444.1 440.1h1.5v1.5h-1.5zM451.5 427.3h1.5v1.5h-1.5zM449 418.1h1.5v1.5h-1.5zM444.9 427.4h1.5v1.5h-1.5zM459.8 408.2h1.5v1.5h-1.5zM451.3 414.3h1.5v1.5h-1.5zM454.3 435.7h1.5v1.5h-1.5zM453.5 417.6h1.5v1.5h-1.5zM455 426.1h1.5v1.5h-1.5zM456.1 424.5h1.5v1.5h-1.5zM450 431.6h1.5v1.5h-1.5zM446.9 438.6h1.5v1.5h-1.5zM446.2 448.7h1.5v1.5h-1.5zM466.6 437.9h1.5v1.5h-1.5zM458 413.7h1.5v1.5h-1.5zM458.5 437h1.5v1.5h-1.5zM465.7 427.3h1.5v1.5h-1.5zM458.7 431.3h1.5v1.5h-1.5zM456.2 428.8h1.5v1.5h-1.5zM458.7 424.7h1.5v1.5h-1.5zM461.6 430.6h1.5v1.5h-1.5zM451.7 420.7h1.5v1.5h-1.5zM465.2 430.1h1.5v1.5h-1.5zM447.3 435.4h1.5v1.5h-1.5zM458.7 433.1h1.5v1.5h-1.5zM459.9 417.1h1.5v1.5h-1.5zM443.8 421.3h1.5v1.5h-1.5zM441.7 431.1h1.5v1.5h-1.5zM453.6 417.6h1.5v1.5h-1.5zM461.9 445.7h1.5v1.5h-1.5zM450.8 426.1h1.5v1.5h-1.5zM448.3 440.1h1.5v1.5h-1.5zM458.6 418.7h1.5v1.5h-1.5zM452.9 424.9h1.5v1.5h-1.5zM466.7 418.7h1.5v1.5h-1.5zM440.5 427.6h1.5v1.5h-1.5zM456.3 419.8h1.5v1.5h-1.5zM449.1 441.4h1.5v1.5h-1.5zM444 497.4h1.5v1.5h-1.5zM443.3 507.4h1.5v1.5h-1.5zM445.9 526.5h1.5v1.5h-1.5zM441.3 512.1h1.5v1.5h-1.5zM437.1 520.9h1.5v1.5h-1.5zM435.7 469.8h1.5v1.5h-1.5zM444.5 458.8h1.5v1.5h-1.5zM440.7 478.7h1.5v1.5h-1.5zM434.9 470.9h1.5v1.5h-1.5zM444.7 514.9h1.5v1.5h-1.5zM443 526.9h1.5v1.5h-1.5zM440.3 479.8h1.5v1.5h-1.5zM441.3 512.9h1.5v1.5h-1.5zM443.9 441.3h1.5v1.5h-1.5zM443.3 446.9h1.5v1.5h-1.5zM435.8 460.4h1.5v1.5h-1.5zM441.8 449.2h1.5v1.5h-1.5zM438.5 532.3h1.5v1.5h-1.5zM445.3 453.4h1.5v1.5h-1.5zM441.2 444.1h1.5v1.5h-1.5zM439.3 441.1h1.5v1.5h-1.5zM434.9 489.2h1.5v1.5h-1.5zM440.2 451.4h1.5v1.5h-1.5zM444.5 525.7h1.5v1.5h-1.5zM436.3 540.3h1.5v1.5h-1.5zM441.9 471.5h1.5v1.5h-1.5zM447.5 521.4h1.5v1.5h-1.5zM441.4 517.5h1.5v1.5h-1.5zM438.1 511.4h1.5v1.5h-1.5zM442.7 468h1.5v1.5h-1.5zM436.9 455.7h1.5v1.5h-1.5zM447.3 487.9h1.5v1.5h-1.5zM440.4 527.1h1.5v1.5h-1.5zM443.7 460.9h1.5v1.5h-1.5zM441.4 465.7h1.5v1.5h-1.5zM438.8 481.1h1.5v1.5h-1.5zM444.6 467.4h1.5v1.5h-1.5zM444.4 470h1.5v1.5h-1.5zM444.7 457.6h1.5v1.5h-1.5zM439.7 504.7h1.5v1.5h-1.5zM438.1 534.6h1.5v1.5h-1.5zM437.3 485.1h1.5v1.5h-1.5zM438.4 509.8h1.5v1.5h-1.5zM435.7 503.7h1.5v1.5h-1.5zM437.6 503.2h1.5v1.5h-1.5zM441.7 445.6h1.5v1.5h-1.5zM444.5 445.8h1.5v1.5h-1.5zM431.8 480.6h1.5v1.5h-1.5zM441.5 492.6h1.5v1.5h-1.5zM437.2 537.7h1.5v1.5h-1.5zM448 526.7h1.5v1.5h-1.5zM435 529.9h1.5v1.5h-1.5zM442.5 540.7h1.5v1.5h-1.5zM445.2 514.7h1.5v1.5h-1.5zM444.1 510.8h1.5v1.5h-1.5zM442.1 477.2h1.5v1.5h-1.5zM437.8 490.2h1.5v1.5h-1.5zM439.1 534.7h1.5v1.5h-1.5zM444.7 461.1h1.5v1.5h-1.5zM445.2 499.2h1.5v1.5h-1.5zM441.5 519.4h1.5v1.5h-1.5zM444.6 462.7h1.5v1.5h-1.5zM443.7 462h1.5v1.5h-1.5zM445.4 441.5h1.5v1.5h-1.5zM441.6 486.6h1.5v1.5h-1.5zM441.3 476.6h1.5v1.5h-1.5zM443.9 445.4h1.5v1.5h-1.5zM444.8 443.3h1.5v1.5h-1.5zM442.8 521.8h1.5v1.5h-1.5zM445.2 478.9h1.5v1.5h-1.5zM435.8 518.2h1.5v1.5h-1.5zM447.4 466.3h1.5v1.5h-1.5zM439.2 508.4h1.5v1.5h-1.5zM442 515.5h1.5v1.5h-1.5zM442.2 440.4h1.5v1.5h-1.5zM446.9 446.1h1.5v1.5h-1.5zM436.6 474.8h1.5v1.5h-1.5zM444.6 461.4h1.5v1.5h-1.5zM444 453.7h1.5v1.5h-1.5zM435.6 508.1h1.5v1.5h-1.5zM451.2 537.2h1.5v1.5h-1.5zM432.7 499.6h1.5v1.5h-1.5zM444.6 441.6h1.5v1.5h-1.5zM445.8 517.2h1.5v1.5h-1.5zM445.9 480.5h1.5v1.5h-1.5zM440.8 538.5h1.5v1.5h-1.5zM436.3 454.7h1.5v1.5h-1.5zM448 496.8h1.5v1.5h-1.5zM441 454.3h1.5v1.5h-1.5zM441.9 467.5h1.5v1.5h-1.5zM462.5 442.1h1.5v1.5h-1.5zM450.9 453.4h1.5v1.5h-1.5zM460.5 464.3h1.5v1.5h-1.5zM449.2 472.1h1.5v1.5h-1.5zM471.2 473.6h1.5v1.5h-1.5zM455.5 446.6h1.5v1.5h-1.5zM456.9 435.2h1.5v1.5h-1.5zM454.7 479.2h1.5v1.5h-1.5zM457.8 447.6h1.5v1.5h-1.5zM455.7 450.3h1.5v1.5h-1.5zM457.5 469.7h1.5v1.5h-1.5zM455.9 481.6h1.5v1.5h-1.5zM445.2 436.1h1.5v1.5h-1.5zM456.7 450.2h1.5v1.5h-1.5zM469.5 444.8h1.5v1.5h-1.5zM472.6 449h1.5v1.5h-1.5zM465.3 449.8h1.5v1.5h-1.5zM469 444.5h1.5v1.5h-1.5zM461.9 449.6h1.5v1.5h-1.5zM465.5 441.4h1.5v1.5h-1.5zM458.7 438h1.5v1.5h-1.5zM468.6 454.8h1.5v1.5h-1.5zM469.4 439.6h1.5v1.5h-1.5zM453 440.9h1.5v1.5h-1.5zM471.1 444.5h1.5v1.5h-1.5zM455.8 453.1h1.5v1.5h-1.5zM469.7 461.4h1.5v1.5h-1.5zM455.7 470.5h1.5v1.5h-1.5zM456.5 443.1h1.5v1.5h-1.5zM455.2 442.9h1.5v1.5h-1.5zM460.9 455.1h1.5v1.5h-1.5zM472 484.4h1.5v1.5h-1.5zM464.4 452.3h1.5v1.5h-1.5zM451.7 467.9h1.5v1.5h-1.5zM468.8 440.7h1.5v1.5h-1.5zM459.5 469.2h1.5v1.5h-1.5zM451.4 462.9h1.5v1.5h-1.5zM460.8 437.4h1.5v1.5h-1.5zM474.1 462h1.5v1.5h-1.5zM456.3 475.3h1.5v1.5h-1.5zM473.7 474.4h1.5v1.5h-1.5zM457.3 459.2h1.5v1.5h-1.5zM461.4 471.6h1.5v1.5h-1.5zM464.4 467.6h1.5v1.5h-1.5zM461.6 477.6h1.5v1.5h-1.5zM461.8 476.3h1.5v1.5h-1.5zM458.2 483.5h1.5v1.5h-1.5zM473 453.9h1.5v1.5h-1.5zM454.4 449.1h1.5v1.5h-1.5zM470.1 468.8h1.5v1.5h-1.5zM473 442.7h1.5v1.5h-1.5zM457.6 454.6h1.5v1.5h-1.5zM459.2 450.6h1.5v1.5h-1.5zM471 440.1h1.5v1.5h-1.5zM463.2 482h1.5v1.5h-1.5zM469.4 481h1.5v1.5h-1.5zM455.6 477.6h1.5v1.5h-1.5zM449.7 481h1.5v1.5h-1.5zM470.7 461.3h1.5v1.5h-1.5zM456.8 455.8h1.5v1.5h-1.5zM447.1 467.9h1.5v1.5h-1.5zM448.4 463.6h1.5v1.5h-1.5zM451.6 457.4h1.5v1.5h-1.5zM469.6 460.1h1.5v1.5h-1.5zM454.2 450.7h1.5v1.5h-1.5zM464.4 446.6h1.5v1.5h-1.5zM473.2 435.5h1.5v1.5h-1.5zM459.4 447.2h1.5v1.5h-1.5zM467.6 442.7h1.5v1.5h-1.5zM446.9 479.9h1.5v1.5h-1.5zM414.6 468h1.5v1.5h-1.5zM366.2 448.3h1.5v1.5h-1.5zM435.3 452.4h1.5v1.5h-1.5zM387.2 536.8h1.5v1.5h-1.5zM387.2 477.8h1.5v1.5h-1.5zM320.9 439.5h1.5v1.5h-1.5zM361.5 524.3h1.5v1.5h-1.5zM326.7 506.1h1.5v1.5h-1.5zM329.4 425.6h1.5v1.5h-1.5zM349.3 432.2h1.5v1.5h-1.5zM358.3 495.8h1.5v1.5h-1.5zM323.2 523.4h1.5v1.5h-1.5zM439.5 503.3h1.5v1.5h-1.5zM421.5 456h1.5v1.5h-1.5zM347.4 499.4h1.5v1.5h-1.5zM378.9 521.4h1.5v1.5h-1.5zM403.3 458.4h1.5v1.5h-1.5zM406.5 446.2h1.5v1.5h-1.5zM439 454.7h1.5v1.5h-1.5zM406.6 457.2h1.5v1.5h-1.5zM346.3 436.8h1.5v1.5h-1.5zM373.4 479.9h1.5v1.5h-1.5zM424.4 516.1h1.5v1.5h-1.5zM425.7 461.8h1.5v1.5h-1.5zM408.6 519.4h1.5v1.5h-1.5zM331.2 533.3h1.5v1.5h-1.5zM436 443.3h1.5v1.5h-1.5zM403.4 456.1h1.5v1.5h-1.5zM355.9 430.1h1.5v1.5h-1.5zM397.8 497.1h1.5v1.5h-1.5zM403.2 444.1h1.5v1.5h-1.5zM394.7 500.5h1.5v1.5h-1.5zM354.7 534.5h1.5v1.5h-1.5zM365.5 430.6h1.5v1.5h-1.5zM435.2 449.1h1.5v1.5h-1.5zM320.4 470.3h1.5v1.5h-1.5zM327.7 456.8h1.5v1.5h-1.5zM378 502.9h1.5v1.5h-1.5zM368.5 426.8h1.5v1.5h-1.5zM325 479.7h1.5v1.5h-1.5zM260 467h1.5v1.5h-1.5zM297 472h1.5v1.5h-1.5zM256 508h1.5v1.5h-1.5zM295 509h1.5v1.5h-1.5zM322 510h1.5v1.5h-1.5zM285 450h1.5v1.5h-1.5zM305 440h1.5v1.5h-1.5z" fill="#e4605a"/>
<path d="M529.9 385.3h1.5v1.5h-1.5zM516 404.7h1.5v1.5h-1.5zM513.2 381.7h1.5v1.5h-1.5zM491.6 418.1h1.5v1.5h-1.5zM516.5 397.1h1.5v1.5h-1.5zM520 386.2h1.5v1.5h-1.5zM498.2 393.4h1.5v1.5h-1.5zM526.8 385h1.5v1.5h-1.5zM535.5 380.9h1.5v1.5h-1.5zM515.2 394.2h1.5v1.5h-1.5zM533.8 373.6h1.5v1.5h-1.5zM499.6 412.8h1.5v1.5h-1.5zM501.6 392.2h1.5v1.5h-1.5zM482.6 404.8h1.5v1.5h-1.5zM508.3 398.4h1.5v1.5h-1.5zM538.3 379.9h1.5v1.5h-1.5zM530.2 382.4h1.5v1.5h-1.5zM545.7 367.9h1.5v1.5h-1.5zM508 402.1h1.5v1.5h-1.5zM519.4 390.6h1.5v1.5h-1.5zM525.6 390.1h1.5v1.5h-1.5zM501.4 399h1.5v1.5h-1.5zM525.7 383.9h1.5v1.5h-1.5zM483.4 408.1h1.5v1.5h-1.5zM502.1 396.8h1.5v1.5h-1.5zM492.1 409.4h1.5v1.5h-1.5zM529.2 390.1h1.5v1.5h-1.5zM562.6 367.6h1.5v1.5h-1.5zM514.7 393.1h1.5v1.5h-1.5zM508.9 392.8h1.5v1.5h-1.5zM481.5 400.3h1.5v1.5h-1.5zM544.7 370.5h1.5v1.5h-1.5zM514.2 393h1.5v1.5h-1.5zM528.6 385.2h1.5v1.5h-1.5zM498.5 406.3h1.5v1.5h-1.5zM533.1 389h1.5v1.5h-1.5zM492.8 402.5h1.5v1.5h-1.5zM483.2 406.7h1.5v1.5h-1.5zM456.5 428h1.5v1.5h-1.5zM511.3 394.4h1.5v1.5h-1.5zM536.2 371.6h1.5v1.5h-1.5zM533.3 385.3h1.5v1.5h-1.5zM510.6 386.4h1.5v1.5h-1.5zM516.7 397.6h1.5v1.5h-1.5zM524.1 392.4h1.5v1.5h-1.5zM517.5 397.9h1.5v1.5h-1.5zM543.4 382h1.5v1.5h-1.5zM455.6 429h1.5v1.5h-1.5zM471.6 410.1h1.5v1.5h-1.5zM504.1 393.3h1.5v1.5h-1.5zM525.3 379.1h1.5v1.5h-1.5zM539.3 377.1h1.5v1.5h-1.5zM494.9 404.5h1.5v1.5h-1.5zM528.4 386.8h1.5v1.5h-1.5zM516.5 401.9h1.5v1.5h-1.5zM501.3 407.1h1.5v1.5h-1.5zM532.2 381.6h1.5v1.5h-1.5zM532.3 383.3h1.5v1.5h-1.5zM542.7 379.1h1.5v1.5h-1.5zM534.6 377.7h1.5v1.5h-1.5zM523.2 391h1.5v1.5h-1.5zM551.8 384.8h1.5v1.5h-1.5zM533.4 385.9h1.5v1.5h-1.5zM524.8 395.8h1.5v1.5h-1.5zM485.9 404.3h1.5v1.5h-1.5zM510.5 401.9h1.5v1.5h-1.5zM503 407.1h1.5v1.5h-1.5zM521.2 378.1h1.5v1.5h-1.5zM549.6 368.9h1.5v1.5h-1.5zM514.1 391.1h1.5v1.5h-1.5zM520.1 400.4h1.5v1.5h-1.5zM512.9 387.8h1.5v1.5h-1.5zM518.5 400.6h1.5v1.5h-1.5zM524.8 382.2h1.5v1.5h-1.5zM548.5 371.1h1.5v1.5h-1.5zM522.6 382.9h1.5v1.5h-1.5zM529.8 385.8h1.5v1.5h-1.5zM559.5 368.7h1.5v1.5h-1.5zM522.2 400.7h1.5v1.5h-1.5zM541.8 376.6h1.5v1.5h-1.5zM487.9 413.3h1.5v1.5h-1.5zM478 418.2h1.5v1.5h-1.5zM530.1 384h1.5v1.5h-1.5zM518.8 389.4h1.5v1.5h-1.5zM498.3 404h1.5v1.5h-1.5zM456.4 438.6h1.5v1.5h-1.5zM482.7 410.8h1.5v1.5h-1.5zM512.2 393.8h1.5v1.5h-1.5zM498.5 398.4h1.5v1.5h-1.5zM492.1 406.7h1.5v1.5h-1.5zM517.9 405.6h1.5v1.5h-1.5zM550.3 370.6h1.5v1.5h-1.5zM552.1 364.6h1.5v1.5h-1.5zM552.6 374.3h1.5v1.5h-1.5zM505.6 390.5h1.5v1.5h-1.5zM548.5 384.2h1.5v1.5h-1.5zM540.4 381.4h1.5v1.5h-1.5zM495.4 409.6h1.5v1.5h-1.5zM550.3 370.6h1.5v1.5h-1.5zM504.8 397h1.5v1.5h-1.5zM551.5 362.5h1.5v1.5h-1.5zM519.7 404.3h1.5v1.5h-1.5zM506.2 407.3h1.5v1.5h-1.5zM477.5 421.5h1.5v1.5h-1.5zM484.4 420.6h1.5v1.5h-1.5zM514.3 383.3h1.5v1.5h-1.5zM495.9 404.1h1.5v1.5h-1.5zM536.3 384.8h1.5v1.5h-1.5zM517 392.4h1.5v1.5h-1.5zM481.3 416.5h1.5v1.5h-1.5zM463.4 424.2h1.5v1.5h-1.5zM491.8 417h1.5v1.5h-1.5zM524.9 408.5h1.5v1.5h-1.5zM516.6 395.1h1.5v1.5h-1.5zM502.4 405.6h1.5v1.5h-1.5zM514.7 399.9h1.5v1.5h-1.5zM457.4 420.3h1.5v1.5h-1.5zM510.2 395h1.5v1.5h-1.5zM506.8 407.6h1.5v1.5h-1.5zM553.1 375h1.5v1.5h-1.5zM512.9 402h1.5v1.5h-1.5zM507.8 402.8h1.5v1.5h-1.5zM501.9 409.1h1.5v1.5h-1.5zM507.8 395.8h1.5v1.5h-1.5zM540.3 378.6h1.5v1.5h-1.5zM501.2 382h1.5v1.5h-1.5zM502.4 396h1.5v1.5h-1.5zM488.1 413.4h1.5v1.5h-1.5zM491.6 410h1.5v1.5h-1.5zM526.5 375.6h1.5v1.5h-1.5zM476 414.7h1.5v1.5h-1.5zM510.9 396.3h1.5v1.5h-1.5zM521.7 394.6h1.5v1.5h-1.5zM521.7 395.3h1.5v1.5h-1.5zM491.4 397.4h1.5v1.5h-1.5zM512.9 404.6h1.5v1.5h-1.5zM537.5 384.2h1.5v1.5h-1.5zM496.2 408.6h1.5v1.5h-1.5zM497.3 389h1.5v1.5h-1.5zM534.7 411.1h1.5v1.5h-1.5zM552.2 367.8h1.5v1.5h-1.5zM507.7 395.4h1.5v1.5h-1.5zM536.2 392.2h1.5v1.5h-1.5zM505.2 405.6h1.5v1.5h-1.5zM527.9 381.2h1.5v1.5h-1.5zM532.9 395.1h1.5v1.5h-1.5zM485.7 411.7h1.5v1.5h-1.5zM529.2 392.3h1.5v1.5h-1.5zM559.5 361.8h1.5v1.5h-1.5zM512.1 400.1h1.5v1.5h-1.5zM530.8 373.2h1.5v1.5h-1.5zM494.8 399.1h1.5v1.5h-1.5zM476.8 420.6h1.5v1.5h-1.5zM545.9 368.3h1.5v1.5h-1.5zM455 421.9h1.5v1.5h-1.5zM494.5 402.4h1.5v1.5h-1.5zM506.5 398.2h1.5v1.5h-1.5zM548 372.8h1.5v1.5h-1.5zM497.6 401h1.5v1.5h-1.5zM539.3 381.9h1.5v1.5h-1.5zM477.8 419.5h1.5v1.5h-1.5zM522.8 394.9h1.5v1.5h-1.5zM520.3 391.4h1.5v1.5h-1.5zM507.3 408.2h1.5v1.5h-1.5zM474.9 427.4h1.5v1.5h-1.5zM505 417.2h1.5v1.5h-1.5zM511.6 400.8h1.5v1.5h-1.5zM511.5 401.5h1.5v1.5h-1.5zM527.6 387.5h1.5v1.5h-1.5zM538.2 385.1h1.5v1.5h-1.5zM512.8 393.2h1.5v1.5h-1.5zM532.3 378.5h1.5v1.5h-1.5zM498 406.7h1.5v1.5h-1.5zM517.4 388.5h1.5v1.5h-1.5zM489.2 415.9h1.5v1.5h-1.5zM480.2 405.6h1.5v1.5h-1.5zM516.1 401.5h1.5v1.5h-1.5zM543.8 385h1.5v1.5h-1.5zM540.8 373.6h1.5v1.5h-1.5zM522.3 379.4h1.5v1.5h-1.5zM484.6 412.3h1.5v1.5h-1.5zM513.6 391.8h1.5v1.5h-1.5zM464 420.4h1.5v1.5h-1.5zM486.1 395h1.5v1.5h-1.5zM536.8 389.1h1.5v1.5h-1.5zM550.6 389.1h1.5v1.5h-1.5zM556.3 362.4h1.5v1.5h-1.5zM514.1 406.3h1.5v1.5h-1.5zM525.4 382.5h1.5v1.5h-1.5zM487.6 407.6h1.5v1.5h-1.5zM515.9 388.1h1.5v1.5h-1.5zM489.7 400.8h1.5v1.5h-1.5zM538.7 378.5h1.5v1.5h-1.5zM469.4 409.1h1.5v1.5h-1.5zM532.4 371.7h1.5v1.5h-1.5zM488.8 412.6h1.5v1.5h-1.5zM520 380.3h1.5v1.5h-1.5zM536.1 370.9h1.5v1.5h-1.5zM528.9 379.8h1.5v1.5h-1.5zM531.5 394h1.5v1.5h-1.5zM506.8 400.7h1.5v1.5h-1.5zM487.7 410.5h1.5v1.5h-1.5zM517.5 397.5h1.5v1.5h-1.5zM510.7 386.5h1.5v1.5h-1.5zM473.1 417.5h1.5v1.5h-1.5zM519.1 399.4h1.5v1.5h-1.5zM504.7 399.9h1.5v1.5h-1.5zM533.2 399.4h1.5v1.5h-1.5zM534.1 376.3h1.5v1.5h-1.5zM543.5 386h1.5v1.5h-1.5zM517 398.4h1.5v1.5h-1.5zM508.4 387.1h1.5v1.5h-1.5zM549.7 385h1.5v1.5h-1.5zM496.2 393.6h1.5v1.5h-1.5zM507.7 400.2h1.5v1.5h-1.5zM508 404.5h1.5v1.5h-1.5zM481.1 409.6h1.5v1.5h-1.5zM516.8 394.5h1.5v1.5h-1.5zM538 383.2h1.5v1.5h-1.5zM504.5 395.2h1.5v1.5h-1.5zM509.5 405.6h1.5v1.5h-1.5zM488.8 415.5h1.5v1.5h-1.5zM528.1 386h1.5v1.5h-1.5zM528.3 381.2h1.5v1.5h-1.5zM524 394.2h1.5v1.5h-1.5zM516.3 385.3h1.5v1.5h-1.5zM509.2 400.9h1.5v1.5h-1.5zM512.2 407.1h1.5v1.5h-1.5zM515.2 389h1.5v1.5h-1.5zM532 388.2h1.5v1.5h-1.5zM529.4 392.5h1.5v1.5h-1.5zM520.3 393.9h1.5v1.5h-1.5zM489.6 402h1.5v1.5h-1.5zM520.8 384.5h1.5v1.5h-1.5zM510.1 393.2h1.5v1.5h-1.5zM529.9 393.6h1.5v1.5h-1.5zM556.6 378.4h1.5v1.5h-1.5zM464.8 415.3h1.5v1.5h-1.5zM504.4 408.2h1.5v1.5h-1.5zM498 394.4h1.5v1.5h-1.5zM504.5 404.8h1.5v1.5h-1.5zM547.6 374.3h1.5v1.5h-1.5zM515.2 397.2h1.5v1.5h-1.5zM481.4 407.9h1.5v1.5h-1.5zM546.7 382.1h1.5v1.5h-1.5zM512.1 393.3h1.5v1.5h-1.5zM544 388.4h1.5v1.5h-1.5zM495 402.9h1.5v1.5h-1.5zM534.1 388.6h1.5v1.5h-1.5zM517.8 395.7h1.5v1.5h-1.5zM490.3 417.9h1.5v1.5h-1.5zM522.2 394.6h1.5v1.5h-1.5zM533.4 392h1.5v1.5h-1.5zM517.3 402.7h1.5v1.5h-1.5zM500.8 402.2h1.5v1.5h-1.5zM502.5 397.9h1.5v1.5h-1.5zM476.2 404.8h1.5v1.5h-1.5zM479.8 398.9h1.5v1.5h-1.5zM509 391.2h1.5v1.5h-1.5zM507.8 400.7h1.5v1.5h-1.5zM528.8 379.2h1.5v1.5h-1.5zM519.7 395.4h1.5v1.5h-1.5zM456.4 430.9h1.5v1.5h-1.5zM514.6 407.6h1.5v1.5h-1.5zM554.1 373.4h1.5v1.5h-1.5zM537.5 394.4h1.5v1.5h-1.5zM536.9 381h1.5v1.5h-1.5zM523.9 394.1h1.5v1.5h-1.5zM524.2 393.5h1.5v1.5h-1.5zM464.8 426.7h1.5v1.5h-1.5zM546 360.6h1.5v1.5h-1.5zM508.3 393.2h1.5v1.5h-1.5zM507.7 395.7h1.5v1.5h-1.5zM504.9 404.5h1.5v1.5h-1.5zM512.5 403.4h1.5v1.5h-1.5zM499.5 397.3h1.5v1.5h-1.5zM545.2 387.4h1.5v1.5h-1.5zM487 417h1.5v1.5h-1.5zM504.5 393h1.5v1.5h-1.5zM525.6 399.7h1.5v1.5h-1.5zM492.8 398.4h1.5v1.5h-1.5zM545.8 358.5h1.5v1.5h-1.5zM504.5 396.6h1.5v1.5h-1.5zM506.2 403.4h1.5v1.5h-1.5zM517.3 394.9h1.5v1.5h-1.5zM493.9 392.1h1.5v1.5h-1.5zM491.1 414.5h1.5v1.5h-1.5zM485 413.3h1.5v1.5h-1.5zM513.5 388.1h1.5v1.5h-1.5zM509.3 388h1.5v1.5h-1.5zM514.4 400.6h1.5v1.5h-1.5zM542.2 385.7h1.5v1.5h-1.5zM536.8 363.2h1.5v1.5h-1.5zM515.5 405.3h1.5v1.5h-1.5zM557.1 377.5h1.5v1.5h-1.5zM540.4 384.1h1.5v1.5h-1.5zM493.1 390.4h1.5v1.5h-1.5zM556.1 373.5h1.5v1.5h-1.5zM528.2 393.3h1.5v1.5h-1.5zM543 383.3h1.5v1.5h-1.5zM545.5 384.6h1.5v1.5h-1.5zM507.6 399.3h1.5v1.5h-1.5zM515.8 386.5h1.5v1.5h-1.5zM486.8 414.3h1.5v1.5h-1.5zM496.3 409h1.5v1.5h-1.5zM571.8 365.7h1.5v1.5h-1.5zM495.2 404.6h1.5v1.5h-1.5zM505.8 395.8h1.5v1.5h-1.5zM521 389.5h1.5v1.5h-1.5zM518.4 397.7h1.5v1.5h-1.5zM490.3 415.2h1.5v1.5h-1.5zM527.8 385.2h1.5v1.5h-1.5zM532.3 388h1.5v1.5h-1.5zM458.1 428.2h1.5v1.5h-1.5zM517.8 385.1h1.5v1.5h-1.5zM502.2 410h1.5v1.5h-1.5zM515.2 401.2h1.5v1.5h-1.5zM491.1 409.4h1.5v1.5h-1.5zM512.9 398.3h1.5v1.5h-1.5zM526.1 396.2h1.5v1.5h-1.5zM510.4 401.6h1.5v1.5h-1.5zM518.8 389.8h1.5v1.5h-1.5zM493.5 402h1.5v1.5h-1.5zM522.3 379.2h1.5v1.5h-1.5zM521.7 384.7h1.5v1.5h-1.5zM537.5 385h1.5v1.5h-1.5zM511.3 398.9h1.5v1.5h-1.5zM498.3 394.4h1.5v1.5h-1.5zM510.9 371.5h1.5v1.5h-1.5zM509.7 416.7h1.5v1.5h-1.5zM497.1 404.8h1.5v1.5h-1.5zM517.5 388.3h1.5v1.5h-1.5zM493.7 404.4h1.5v1.5h-1.5zM557.1 367.8h1.5v1.5h-1.5zM538.8 373.1h1.5v1.5h-1.5zM555.7 361.7h1.5v1.5h-1.5zM524.4 386.3h1.5v1.5h-1.5zM522.7 403.6h1.5v1.5h-1.5zM530.4 374.4h1.5v1.5h-1.5zM520.1 392.9h1.5v1.5h-1.5zM529.2 386.2h1.5v1.5h-1.5zM547.1 363.5h1.5v1.5h-1.5zM507.4 392h1.5v1.5h-1.5zM501.7 406.9h1.5v1.5h-1.5zM533.6 391.9h1.5v1.5h-1.5zM524.9 387.2h1.5v1.5h-1.5zM502.7 400.9h1.5v1.5h-1.5zM511.4 399.4h1.5v1.5h-1.5zM523.8 382.3h1.5v1.5h-1.5zM498.2 391.1h1.5v1.5h-1.5zM565.8 371.9h1.5v1.5h-1.5zM487.2 402.9h1.5v1.5h-1.5zM495.6 414.6h1.5v1.5h-1.5zM521 386.9h1.5v1.5h-1.5zM516.8 399.3h1.5v1.5h-1.5zM528.3 379.2h1.5v1.5h-1.5zM505.9 395.3h1.5v1.5h-1.5zM511.6 396.3h1.5v1.5h-1.5zM523.2 393.3h1.5v1.5h-1.5zM519.9 382.4h1.5v1.5h-1.5zM517.4 392.6h1.5v1.5h-1.5zM546.1 377.6h1.5v1.5h-1.5zM544.1 373.4h1.5v1.5h-1.5zM546.4 377.2h1.5v1.5h-1.5zM508.6 399.6h1.5v1.5h-1.5zM516.3 390.9h1.5v1.5h-1.5zM527.3 389.7h1.5v1.5h-1.5zM529.3 370.5h1.5v1.5h-1.5zM495.8 393.1h1.5v1.5h-1.5zM546.5 367.2h1.5v1.5h-1.5zM517 398.5h1.5v1.5h-1.5zM526.9 393h1.5v1.5h-1.5zM521.6 392.5h1.5v1.5h-1.5zM510.6 402.3h1.5v1.5h-1.5zM520.1 390.2h1.5v1.5h-1.5zM526.5 387.9h1.5v1.5h-1.5zM538.2 377.9h1.5v1.5h-1.5zM525.1 396.2h1.5v1.5h-1.5zM531.4 382.3h1.5v1.5h-1.5zM532.6 382.4h1.5v1.5h-1.5zM492.4 414.1h1.5v1.5h-1.5zM521.5 381.9h1.5v1.5h-1.5zM513.2 382.2h1.5v1.5h-1.5zM544.8 368.5h1.5v1.5h-1.5zM497.6 396.3h1.5v1.5h-1.5zM478 406.9h1.5v1.5h-1.5zM609.3 334.6h1.5v1.5h-1.5zM520.7 376.6h1.5v1.5h-1.5zM548.1 370.4h1.5v1.5h-1.5zM540.6 379.3h1.5v1.5h-1.5zM535.9 389.7h1.5v1.5h-1.5zM548.2 391.6h1.5v1.5h-1.5zM510.8 393.2h1.5v1.5h-1.5zM528.8 387.2h1.5v1.5h-1.5zM465.8 413.5h1.5v1.5h-1.5zM490 419.3h1.5v1.5h-1.5zM489.2 411.9h1.5v1.5h-1.5zM512.4 402h1.5v1.5h-1.5zM531.3 407.5h1.5v1.5h-1.5zM526.6 392.5h1.5v1.5h-1.5zM486.5 398.3h1.5v1.5h-1.5zM465.6 406.6h1.5v1.5h-1.5zM506.9 402.3h1.5v1.5h-1.5zM531.2 390.9h1.5v1.5h-1.5zM487.8 420.3h1.5v1.5h-1.5zM538.3 381.2h1.5v1.5h-1.5zM525 387.6h1.5v1.5h-1.5zM530.7 382.6h1.5v1.5h-1.5zM501.3 390.7h1.5v1.5h-1.5zM511.4 393.6h1.5v1.5h-1.5zM486.9 406.3h1.5v1.5h-1.5zM499.4 404.7h1.5v1.5h-1.5zM481.3 414.4h1.5v1.5h-1.5zM522.1 392.2h1.5v1.5h-1.5zM526.7 380.5h1.5v1.5h-1.5zM502.1 389.4h1.5v1.5h-1.5zM503 401.7h1.5v1.5h-1.5zM498.6 400h1.5v1.5h-1.5zM527.7 393.4h1.5v1.5h-1.5zM522 383.5h1.5v1.5h-1.5zM505.2 390.7h1.5v1.5h-1.5zM532.6 382.6h1.5v1.5h-1.5zM499.3 404.1h1.5v1.5h-1.5zM531.4 383.5h1.5v1.5h-1.5zM491.2 404.9h1.5v1.5h-1.5zM500.8 402.9h1.5v1.5h-1.5zM514.2 392.2h1.5v1.5h-1.5zM479.1 417.2h1.5v1.5h-1.5zM499.9 408.9h1.5v1.5h-1.5zM521.3 378.2h1.5v1.5h-1.5zM528.2 377.5h1.5v1.5h-1.5zM562 356.5h1.5v1.5h-1.5zM514.5 399.9h1.5v1.5h-1.5zM497.6 403.4h1.5v1.5h-1.5zM512.4 385.5h1.5v1.5h-1.5zM534 383.3h1.5v1.5h-1.5zM495.9 413.2h1.5v1.5h-1.5zM546.6 380.1h1.5v1.5h-1.5zM511.2 396.1h1.5v1.5h-1.5zM527.3 384.2h1.5v1.5h-1.5zM518.8 398.2h1.5v1.5h-1.5zM523.6 386.2h1.5v1.5h-1.5zM529.6 377.8h1.5v1.5h-1.5zM508.9 395.8h1.5v1.5h-1.5zM506 398.3h1.5v1.5h-1.5zM554.9 363.8h1.5v1.5h-1.5zM492.2 398.7h1.5v1.5h-1.5zM512.8 392.1h1.5v1.5h-1.5zM482.2 418h1.5v1.5h-1.5zM507.7 405h1.5v1.5h-1.5zM522.1 381.4h1.5v1.5h-1.5zM519.5 386.9h1.5v1.5h-1.5zM499.9 416.5h1.5v1.5h-1.5zM508.3 398.1h1.5v1.5h-1.5zM537.8 387.8h1.5v1.5h-1.5zM509.4 387.9h1.5v1.5h-1.5zM541.6 375.4h1.5v1.5h-1.5zM444.6 429.4h1.5v1.5h-1.5zM524.2 378.9h1.5v1.5h-1.5zM513.2 407.2h1.5v1.5h-1.5zM491.5 405.1h1.5v1.5h-1.5zM553 365.6h1.5v1.5h-1.5zM513.1 401.6h1.5v1.5h-1.5zM545.4 380.2h1.5v1.5h-1.5zM522.9 397.4h1.5v1.5h-1.5zM521.4 369.4h1.5v1.5h-1.5zM510.2 399.2h1.5v1.5h-1.5zM529.1 390.3h1.5v1.5h-1.5zM539.3 377.5h1.5v1.5h-1.5zM530.3 375.8h1.5v1.5h-1.5zM523.7 388.3h1.5v1.5h-1.5zM488.2 419.5h1.5v1.5h-1.5zM533.3 398.3h1.5v1.5h-1.5zM521.8 377.5h1.5v1.5h-1.5zM548.8 372.6h1.5v1.5h-1.5zM522.9 377.9h1.5v1.5h-1.5zM504.3 407.3h1.5v1.5h-1.5zM518.6 387.6h1.5v1.5h-1.5zM547.6 374.6h1.5v1.5h-1.5zM482.3 410.6h1.5v1.5h-1.5zM538.5 383.5h1.5v1.5h-1.5zM525 390.5h1.5v1.5h-1.5zM516.6 383h1.5v1.5h-1.5zM515.3 393.7h1.5v1.5h-1.5zM467.5 417.8h1.5v1.5h-1.5zM508.4 399.6h1.5v1.5h-1.5zM507.1 408.2h1.5v1.5h-1.5zM553.7 367h1.5v1.5h-1.5zM526.5 386.4h1.5v1.5h-1.5zM496.8 407.2h1.5v1.5h-1.5zM491.1 418.9h1.5v1.5h-1.5zM548.9 377.2h1.5v1.5h-1.5zM479.8 403.7h1.5v1.5h-1.5zM541 379.5h1.5v1.5h-1.5zM538.8 387.4h1.5v1.5h-1.5zM547.8 376.1h1.5v1.5h-1.5zM501.3 388.9h1.5v1.5h-1.5zM507.6 389.3h1.5v1.5h-1.5zM525.3 375.3h1.5v1.5h-1.5zM535.2 364.1h1.5v1.5h-1.5zM460.4 422.2h1.5v1.5h-1.5zM502 404.7h1.5v1.5h-1.5zM522.6 392.1h1.5v1.5h-1.5zM539.9 378.5h1.5v1.5h-1.5zM461.8 430.8h1.5v1.5h-1.5zM523.5 375.1h1.5v1.5h-1.5zM546.6 361h1.5v1.5h-1.5zM521.3 398.3h1.5v1.5h-1.5zM519.1 379.6h1.5v1.5h-1.5zM543.8 369.3h1.5v1.5h-1.5zM497.9 403.6h1.5v1.5h-1.5zM544.8 374.7h1.5v1.5h-1.5zM516.6 406.8h1.5v1.5h-1.5zM524 385.2h1.5v1.5h-1.5zM534.4 392.7h1.5v1.5h-1.5zM490.3 410.8h1.5v1.5h-1.5zM528.6 388.9h1.5v1.5h-1.5zM469.6 412.6h1.5v1.5h-1.5zM484.3 403.2h1.5v1.5h-1.5zM532.4 391.9h1.5v1.5h-1.5zM503.6 403h1.5v1.5h-1.5zM488.5 408.2h1.5v1.5h-1.5zM521.2 405.6h1.5v1.5h-1.5zM505 392.9h1.5v1.5h-1.5zM487.2 406.2h1.5v1.5h-1.5zM536.1 386.2h1.5v1.5h-1.5zM513.2 396.4h1.5v1.5h-1.5zM528.6 382.3h1.5v1.5h-1.5zM495.8 401.4h1.5v1.5h-1.5zM480.9 409.5h1.5v1.5h-1.5zM514 400h1.5v1.5h-1.5zM517.8 397.1h1.5v1.5h-1.5zM491.9 411.6h1.5v1.5h-1.5zM485.1 407.1h1.5v1.5h-1.5zM518.3 395h1.5v1.5h-1.5zM534.4 381.3h1.5v1.5h-1.5zM519.6 397.3h1.5v1.5h-1.5zM531.5 383.8h1.5v1.5h-1.5zM514.9 391.7h1.5v1.5h-1.5zM543.9 368.6h1.5v1.5h-1.5zM561.4 367.9h1.5v1.5h-1.5zM510.1 391.7h1.5v1.5h-1.5zM499.4 406.7h1.5v1.5h-1.5zM492.6 400.3h1.5v1.5h-1.5zM509.7 401.6h1.5v1.5h-1.5zM553.6 382.6h1.5v1.5h-1.5zM513.4 392.6h1.5v1.5h-1.5zM530.6 392.4h1.5v1.5h-1.5zM518.8 393.8h1.5v1.5h-1.5zM545.5 376.5h1.5v1.5h-1.5zM516.1 386.5h1.5v1.5h-1.5zM498.8 401.4h1.5v1.5h-1.5zM520 404.2h1.5v1.5h-1.5zM494.6 410.8h1.5v1.5h-1.5zM511.3 387.7h1.5v1.5h-1.5zM494.1 400.4h1.5v1.5h-1.5zM543.1 380.4h1.5v1.5h-1.5zM515.9 398.1h1.5v1.5h-1.5zM519.8 384.7h1.5v1.5h-1.5zM547.2 377.2h1.5v1.5h-1.5zM497.9 405.5h1.5v1.5h-1.5zM486.5 425.2h1.5v1.5h-1.5zM523.7 391.7h1.5v1.5h-1.5zM524.3 398.3h1.5v1.5h-1.5zM543 387.1h1.5v1.5h-1.5zM509.9 407.9h1.5v1.5h-1.5zM509.2 390.8h1.5v1.5h-1.5zM503.1 406.4h1.5v1.5h-1.5zM484.1 410h1.5v1.5h-1.5zM498.6 404.1h1.5v1.5h-1.5zM511.4 389.7h1.5v1.5h-1.5zM538.2 382.5h1.5v1.5h-1.5zM500.2 400.8h1.5v1.5h-1.5zM517 401.5h1.5v1.5h-1.5zM518.4 398h1.5v1.5h-1.5zM509 392.7h1.5v1.5h-1.5zM513.3 395.7h1.5v1.5h-1.5zM482.5 412.1h1.5v1.5h-1.5zM455 426.7h1.5v1.5h-1.5zM489.6 395.6h1.5v1.5h-1.5zM536.9 385.8h1.5v1.5h-1.5zM510.1 393.5h1.5v1.5h-1.5zM505.2 389.7h1.5v1.5h-1.5zM520.8 390.2h1.5v1.5h-1.5zM480.7 409.5h1.5v1.5h-1.5zM508.1 401.1h1.5v1.5h-1.5zM533.4 378.1h1.5v1.5h-1.5zM547.1 383.3h1.5v1.5h-1.5zM512.5 388.5h1.5v1.5h-1.5zM486.7 415.5h1.5v1.5h-1.5zM519.6 388.6h1.5v1.5h-1.5zM509.1 404.4h1.5v1.5h-1.5zM495.6 398.7h1.5v1.5h-1.5zM518.5 386.4h1.5v1.5h-1.5zM530.1 383.2h1.5v1.5h-1.5zM522.6 388.9h1.5v1.5h-1.5zM513 402h1.5v1.5h-1.5zM500.7 409.4h1.5v1.5h-1.5zM519.2 403.5h1.5v1.5h-1.5zM489.2 400.8h1.5v1.5h-1.5zM503.9 398.9h1.5v1.5h-1.5zM524.9 395.3h1.5v1.5h-1.5zM517.3 392.1h1.5v1.5h-1.5zM501.3 409.5h1.5v1.5h-1.5zM529.8 375.3h1.5v1.5h-1.5zM552.1 375.9h1.5v1.5h-1.5zM478.6 412h1.5v1.5h-1.5zM499.1 402.7h1.5v1.5h-1.5zM514.2 385.9h1.5v1.5h-1.5zM520.2 375.9h1.5v1.5h-1.5zM486.3 409h1.5v1.5h-1.5zM507 397.7h1.5v1.5h-1.5zM508.1 391.5h1.5v1.5h-1.5zM496 400.2h1.5v1.5h-1.5zM475.1 410.4h1.5v1.5h-1.5zM540 381.8h1.5v1.5h-1.5zM505.1 408.1h1.5v1.5h-1.5zM475.7 415.4h1.5v1.5h-1.5zM531.5 388h1.5v1.5h-1.5zM551.5 369.1h1.5v1.5h-1.5zM456.9 415h1.5v1.5h-1.5zM537.7 375.9h1.5v1.5h-1.5zM491.9 401.8h1.5v1.5h-1.5zM473.3 420.5h1.5v1.5h-1.5zM543.1 380.2h1.5v1.5h-1.5zM513.7 402.7h1.5v1.5h-1.5zM495.7 398.3h1.5v1.5h-1.5zM536.3 370.1h1.5v1.5h-1.5zM520.6 394.5h1.5v1.5h-1.5zM506.9 414.9h1.5v1.5h-1.5zM518.6 397.8h1.5v1.5h-1.5zM518.7 396.3h1.5v1.5h-1.5zM532.8 390h1.5v1.5h-1.5zM518.2 385.1h1.5v1.5h-1.5zM518.2 382.2h1.5v1.5h-1.5zM504.9 399.8h1.5v1.5h-1.5zM519.6 389.5h1.5v1.5h-1.5zM528.1 392.4h1.5v1.5h-1.5zM523.7 388.1h1.5v1.5h-1.5zM488 420.1h1.5v1.5h-1.5zM521.2 398.6h1.5v1.5h-1.5zM524.3 386.4h1.5v1.5h-1.5zM527.9 385.1h1.5v1.5h-1.5zM515.6 385.5h1.5v1.5h-1.5zM502.8 392.8h1.5v1.5h-1.5zM526 399.6h1.5v1.5h-1.5zM533.1 379.2h1.5v1.5h-1.5zM494.5 399.4h1.5v1.5h-1.5zM487.4 401.9h1.5v1.5h-1.5zM496.1 411.9h1.5v1.5h-1.5zM523.4 398.9h1.5v1.5h-1.5zM536.3 383.2h1.5v1.5h-1.5zM485.8 399.2h1.5v1.5h-1.5zM505.3 398h1.5v1.5h-1.5zM503.8 398.6h1.5v1.5h-1.5zM518.7 398.1h1.5v1.5h-1.5zM473.6 419.5h1.5v1.5h-1.5zM519.8 392.4h1.5v1.5h-1.5zM494.6 409.4h1.5v1.5h-1.5zM479.7 405.5h1.5v1.5h-1.5zM543.2 378.8h1.5v1.5h-1.5zM530.9 380.3h1.5v1.5h-1.5zM488.8 416.4h1.5v1.5h-1.5zM523.8 396.8h1.5v1.5h-1.5zM535.6 380.2h1.5v1.5h-1.5zM496.8 404.6h1.5v1.5h-1.5zM473.3 423h1.5v1.5h-1.5zM492.1 400.9h1.5v1.5h-1.5zM504.1 394.6h1.5v1.5h-1.5zM539.9 374.2h1.5v1.5h-1.5zM503.6 389.9h1.5v1.5h-1.5zM506.8 390.1h1.5v1.5h-1.5zM487.8 392.1h1.5v1.5h-1.5zM532.6 377.7h1.5v1.5h-1.5zM532.8 393.3h1.5v1.5h-1.5zM536.1 379.3h1.5v1.5h-1.5zM495.6 404.2h1.5v1.5h-1.5zM547.6 361.2h1.5v1.5h-1.5zM509 389.5h1.5v1.5h-1.5zM538.9 367.6h1.5v1.5h-1.5zM509.7 405.9h1.5v1.5h-1.5zM532.2 366.4h1.5v1.5h-1.5zM528.3 378.9h1.5v1.5h-1.5zM508.3 398.2h1.5v1.5h-1.5zM516.8 390.8h1.5v1.5h-1.5zM529 387.5h1.5v1.5h-1.5zM490.3 409.4h1.5v1.5h-1.5zM525.4 397.9h1.5v1.5h-1.5zM534.2 371.1h1.5v1.5h-1.5zM520.6 382.2h1.5v1.5h-1.5zM517.5 373.7h1.5v1.5h-1.5zM492.5 394.1h1.5v1.5h-1.5zM498.7 399.3h1.5v1.5h-1.5zM504.6 391.2h1.5v1.5h-1.5zM533.3 379h1.5v1.5h-1.5zM514.2 389.2h1.5v1.5h-1.5zM464.1 424.7h1.5v1.5h-1.5zM510.9 398.2h1.5v1.5h-1.5zM514.8 391.9h1.5v1.5h-1.5zM517.9 405.2h1.5v1.5h-1.5zM512.8 398.6h1.5v1.5h-1.5zM540.1 379.2h1.5v1.5h-1.5zM526.8 388.3h1.5v1.5h-1.5zM528.3 380.1h1.5v1.5h-1.5zM516.9 392.6h1.5v1.5h-1.5zM495.6 404.1h1.5v1.5h-1.5zM529 388.3h1.5v1.5h-1.5zM513.7 403.3h1.5v1.5h-1.5zM534.5 380.6h1.5v1.5h-1.5zM530.5 373.8h1.5v1.5h-1.5zM518.2 383.1h1.5v1.5h-1.5zM548.9 372.9h1.5v1.5h-1.5zM513.1 394.5h1.5v1.5h-1.5zM535.6 375h1.5v1.5h-1.5zM527 378.9h1.5v1.5h-1.5zM498 408.5h1.5v1.5h-1.5zM513 398.6h1.5v1.5h-1.5zM525.8 400.3h1.5v1.5h-1.5zM501.4 412.3h1.5v1.5h-1.5zM465.3 408.9h1.5v1.5h-1.5zM485 424h1.5v1.5h-1.5zM544.1 373.3h1.5v1.5h-1.5zM519.2 388.6h1.5v1.5h-1.5zM510.4 391.6h1.5v1.5h-1.5zM548.6 372.2h1.5v1.5h-1.5zM520 398.2h1.5v1.5h-1.5zM509.7 398.1h1.5v1.5h-1.5zM504.4 406.8h1.5v1.5h-1.5zM548.2 388.3h1.5v1.5h-1.5zM505 412.7h1.5v1.5h-1.5zM507.9 400.8h1.5v1.5h-1.5zM535.5 378.4h1.5v1.5h-1.5zM543.1 374.5h1.5v1.5h-1.5zM497 404.4h1.5v1.5h-1.5zM533.1 378.9h1.5v1.5h-1.5zM518.7 397.1h1.5v1.5h-1.5zM513.1 392h1.5v1.5h-1.5zM542.4 369.9h1.5v1.5h-1.5zM513 408.3h1.5v1.5h-1.5zM493.8 417.4h1.5v1.5h-1.5zM531.4 386.6h1.5v1.5h-1.5zM505.6 400.4h1.5v1.5h-1.5zM512.9 395.1h1.5v1.5h-1.5zM461.9 434.8h1.5v1.5h-1.5zM551.8 364.6h1.5v1.5h-1.5zM540 372.5h1.5v1.5h-1.5zM537.2 385.2h1.5v1.5h-1.5zM531 387.9h1.5v1.5h-1.5zM505.8 407.3h1.5v1.5h-1.5zM524.7 389.6h1.5v1.5h-1.5zM489 406.9h1.5v1.5h-1.5zM481.8 403.4h1.5v1.5h-1.5zM516.7 380.3h1.5v1.5h-1.5zM488.6 394.3h1.5v1.5h-1.5zM503.6 399.1h1.5v1.5h-1.5zM515.4 378.5h1.5v1.5h-1.5zM517.9 399.2h1.5v1.5h-1.5zM542.1 384h1.5v1.5h-1.5zM528 381.5h1.5v1.5h-1.5zM501.4 403.9h1.5v1.5h-1.5zM502.5 404.4h1.5v1.5h-1.5zM500.3 398.1h1.5v1.5h-1.5zM514.2 389h1.5v1.5h-1.5zM503.8 399.6h1.5v1.5h-1.5zM499.6 406.1h1.5v1.5h-1.5zM511.7 375.1h1.5v1.5h-1.5zM520.2 386.5h1.5v1.5h-1.5zM537.1 382.7h1.5v1.5h-1.5zM475.7 408.4h1.5v1.5h-1.5zM510.7 400.7h1.5v1.5h-1.5zM533.4 390.5h1.5v1.5h-1.5zM566.3 373.1h1.5v1.5h-1.5zM533.6 399.3h1.5v1.5h-1.5zM497.8 397.1h1.5v1.5h-1.5zM478.1 398.1h1.5v1.5h-1.5zM538.1 385.9h1.5v1.5h-1.5zM513.8 396.4h1.5v1.5h-1.5zM510.9 394.1h1.5v1.5h-1.5zM498 399.8h1.5v1.5h-1.5zM520.6 382.7h1.5v1.5h-1.5zM491.6 407.4h1.5v1.5h-1.5zM516.3 386.4h1.5v1.5h-1.5zM508.1 405.1h1.5v1.5h-1.5zM494.4 402.2h1.5v1.5h-1.5zM516.2 391.8h1.5v1.5h-1.5zM518.2 394.8h1.5v1.5h-1.5zM469.4 412h1.5v1.5h-1.5zM543 371.8h1.5v1.5h-1.5zM508.2 397h1.5v1.5h-1.5zM517 401.2h1.5v1.5h-1.5zM479.8 405h1.5v1.5h-1.5zM485.9 410.1h1.5v1.5h-1.5zM500.7 401.1h1.5v1.5h-1.5zM495.8 398.5h1.5v1.5h-1.5zM507.4 395h1.5v1.5h-1.5zM481.5 406.7h1.5v1.5h-1.5zM481.9 402h1.5v1.5h-1.5zM531.2 388h1.5v1.5h-1.5zM501.8 404.3h1.5v1.5h-1.5zM509.7 392.5h1.5v1.5h-1.5zM549.4 361.8h1.5v1.5h-1.5zM505.7 396.5h1.5v1.5h-1.5zM515.8 388.6h1.5v1.5h-1.5zM527.8 394.6h1.5v1.5h-1.5zM458.4 424.7h1.5v1.5h-1.5zM517 401.2h1.5v1.5h-1.5zM546.5 364.7h1.5v1.5h-1.5zM507.3 389.5h1.5v1.5h-1.5zM510.4 389.7h1.5v1.5h-1.5zM511.1 396.9h1.5v1.5h-1.5zM507 403.2h1.5v1.5h-1.5zM513.9 393.3h1.5v1.5h-1.5zM473.2 429.7h1.5v1.5h-1.5zM510.3 383.6h1.5v1.5h-1.5zM485.8 409.9h1.5v1.5h-1.5zM527.8 384.6h1.5v1.5h-1.5zM507 393.9h1.5v1.5h-1.5zM510.2 399.5h1.5v1.5h-1.5zM516.7 390.9h1.5v1.5h-1.5zM511.7 384.9h1.5v1.5h-1.5zM509.7 382.8h1.5v1.5h-1.5zM488.4 417.9h1.5v1.5h-1.5zM520.6 392.5h1.5v1.5h-1.5zM516.9 387.4h1.5v1.5h-1.5zM514.4 399.8h1.5v1.5h-1.5zM552.8 375.8h1.5v1.5h-1.5zM496.5 403.3h1.5v1.5h-1.5zM472.1 412.1h1.5v1.5h-1.5zM490.3 402.4h1.5v1.5h-1.5zM481.2 410.3h1.5v1.5h-1.5zM474.5 413.2h1.5v1.5h-1.5zM485.2 416.6h1.5v1.5h-1.5zM533.9 389.6h1.5v1.5h-1.5zM546.5 368.4h1.5v1.5h-1.5zM493.6 402.5h1.5v1.5h-1.5zM543.9 372.1h1.5v1.5h-1.5zM542.6 373.5h1.5v1.5h-1.5zM497 406.1h1.5v1.5h-1.5zM519.6 388.7h1.5v1.5h-1.5zM506.2 396.6h1.5v1.5h-1.5zM544.3 377.7h1.5v1.5h-1.5zM543.3 389.2h1.5v1.5h-1.5zM505.2 400h1.5v1.5h-1.5zM557.5 368.7h1.5v1.5h-1.5zM520.8 394.7h1.5v1.5h-1.5zM478.1 415.8h1.5v1.5h-1.5zM495.1 401.9h1.5v1.5h-1.5zM497.1 403.6h1.5v1.5h-1.5zM527.6 386.6h1.5v1.5h-1.5zM512.5 393.1h1.5v1.5h-1.5zM550.4 383.9h1.5v1.5h-1.5zM503 390.7h1.5v1.5h-1.5zM524.6 392.4h1.5v1.5h-1.5zM500 404.6h1.5v1.5h-1.5zM516.1 388.2h1.5v1.5h-1.5zM505.7 396.8h1.5v1.5h-1.5zM515.6 388.5h1.5v1.5h-1.5zM523.3 389.3h1.5v1.5h-1.5zM530.6 375.7h1.5v1.5h-1.5zM483.1 413.1h1.5v1.5h-1.5zM507.7 398.9h1.5v1.5h-1.5zM521.1 406.4h1.5v1.5h-1.5zM529.3 388.4h1.5v1.5h-1.5zM557.8 367.9h1.5v1.5h-1.5zM515.3 394.7h1.5v1.5h-1.5zM527.1 386.3h1.5v1.5h-1.5zM498.9 422.3h1.5v1.5h-1.5zM529.7 381.7h1.5v1.5h-1.5zM577.3 367.7h1.5v1.5h-1.5zM521.1 397.9h1.5v1.5h-1.5zM543.9 373.4h1.5v1.5h-1.5zM548.9 362.7h1.5v1.5h-1.5zM521.2 378.2h1.5v1.5h-1.5zM563.1 366.4h1.5v1.5h-1.5zM506.9 400.9h1.5v1.5h-1.5zM484.6 395.4h1.5v1.5h-1.5zM521.5 389.5h1.5v1.5h-1.5zM524.5 396.9h1.5v1.5h-1.5zM524.8 392h1.5v1.5h-1.5zM514.5 398.4h1.5v1.5h-1.5zM510.9 387.6h1.5v1.5h-1.5zM456.2 434.8h1.5v1.5h-1.5zM489.5 401.9h1.5v1.5h-1.5zM515.5 400.2h1.5v1.5h-1.5zM497.7 404.5h1.5v1.5h-1.5zM514.8 398.8h1.5v1.5h-1.5zM500.3 409h1.5v1.5h-1.5zM485.6 413.9h1.5v1.5h-1.5zM565.5 368h1.5v1.5h-1.5zM505.1 392.6h1.5v1.5h-1.5zM481.8 415.6h1.5v1.5h-1.5zM475.8 416.3h1.5v1.5h-1.5zM515.7 396.7h1.5v1.5h-1.5zM505.8 389.8h1.5v1.5h-1.5zM500.6 408.2h1.5v1.5h-1.5zM530.3 381.5h1.5v1.5h-1.5zM473.5 405.8h1.5v1.5h-1.5zM502.5 408.3h1.5v1.5h-1.5zM491.2 424.7h1.5v1.5h-1.5zM489.1 408.7h1.5v1.5h-1.5zM556.9 350.1h1.5v1.5h-1.5zM543.5 372.1h1.5v1.5h-1.5zM512.4 386.6h1.5v1.5h-1.5zM521 388.7h1.5v1.5h-1.5zM505.3 389.6h1.5v1.5h-1.5zM495.4 412.5h1.5v1.5h-1.5zM508.2 404.4h1.5v1.5h-1.5zM513.1 390.3h1.5v1.5h-1.5zM515.9 395h1.5v1.5h-1.5zM541.3 378.1h1.5v1.5h-1.5zM520.3 397.5h1.5v1.5h-1.5zM495.1 413.8h1.5v1.5h-1.5zM496.6 404.7h1.5v1.5h-1.5zM461.4 420.2h1.5v1.5h-1.5zM499.1 415.7h1.5v1.5h-1.5zM551.5 365.2h1.5v1.5h-1.5zM511.2 401.2h1.5v1.5h-1.5zM552.8 368.1h1.5v1.5h-1.5zM546.6 378.7h1.5v1.5h-1.5zM532.3 389.1h1.5v1.5h-1.5zM484 405.3h1.5v1.5h-1.5zM526 396.7h1.5v1.5h-1.5zM556.2 362.9h1.5v1.5h-1.5zM511.1 401.1h1.5v1.5h-1.5zM543.8 371.8h1.5v1.5h-1.5zM512.6 385.8h1.5v1.5h-1.5zM548.3 380.7h1.5v1.5h-1.5zM478.3 415.3h1.5v1.5h-1.5zM505.9 390.1h1.5v1.5h-1.5zM540.8 374.5h1.5v1.5h-1.5zM547.2 386.5h1.5v1.5h-1.5zM535.8 369.3h1.5v1.5h-1.5zM544.8 375.4h1.5v1.5h-1.5zM518.9 400.5h1.5v1.5h-1.5zM503.1 393h1.5v1.5h-1.5zM489.8 401.1h1.5v1.5h-1.5zM502.4 388.3h1.5v1.5h-1.5zM525.3 397.8h1.5v1.5h-1.5zM531.9 399.7h1.5v1.5h-1.5zM520 391.7h1.5v1.5h-1.5zM494.7 394.7h1.5v1.5h-1.5zM540.4 381.3h1.5v1.5h-1.5zM533.6 379.1h1.5v1.5h-1.5zM519.1 391.4h1.5v1.5h-1.5zM507 395.4h1.5v1.5h-1.5zM517.4 394.5h1.5v1.5h-1.5zM561.5 360.7h1.5v1.5h-1.5zM536.6 377.5h1.5v1.5h-1.5zM467.1 420.2h1.5v1.5h-1.5zM503 394.5h1.5v1.5h-1.5zM519.8 407.5h1.5v1.5h-1.5zM526.6 380.7h1.5v1.5h-1.5zM504.4 409h1.5v1.5h-1.5zM495.5 412.7h1.5v1.5h-1.5zM507.8 397.5h1.5v1.5h-1.5zM522.2 403.6h1.5v1.5h-1.5zM524.1 391.4h1.5v1.5h-1.5zM506.7 400.8h1.5v1.5h-1.5zM525.5 384.6h1.5v1.5h-1.5zM534.1 378.7h1.5v1.5h-1.5zM505.9 397.8h1.5v1.5h-1.5zM549.5 366.2h1.5v1.5h-1.5zM493.3 404.9h1.5v1.5h-1.5zM459.5 419.6h1.5v1.5h-1.5zM520 396.3h1.5v1.5h-1.5zM507.1 402.6h1.5v1.5h-1.5zM497.5 398.9h1.5v1.5h-1.5zM533.9 371.4h1.5v1.5h-1.5zM493.1 403.4h1.5v1.5h-1.5zM545.4 375.9h1.5v1.5h-1.5zM538.1 383.2h1.5v1.5h-1.5zM536.5 375.6h1.5v1.5h-1.5zM555.9 369.1h1.5v1.5h-1.5zM529.1 367.4h1.5v1.5h-1.5zM536.4 374.1h1.5v1.5h-1.5zM514.7 407.7h1.5v1.5h-1.5zM557.6 372.5h1.5v1.5h-1.5zM541 376.6h1.5v1.5h-1.5zM508.5 398.3h1.5v1.5h-1.5zM488.7 413.6h1.5v1.5h-1.5zM535.5 384.6h1.5v1.5h-1.5zM532.5 393.9h1.5v1.5h-1.5zM500 402h1.5v1.5h-1.5zM517 393.5h1.5v1.5h-1.5zM482.7 413.8h1.5v1.5h-1.5zM519.2 372.9h1.5v1.5h-1.5zM506.7 407.7h1.5v1.5h-1.5zM495 410h1.5v1.5h-1.5zM521.3 386.6h1.5v1.5h-1.5zM508.9 393.4h1.5v1.5h-1.5zM489 405.3h1.5v1.5h-1.5zM500.4 399.8h1.5v1.5h-1.5zM492.1 403.9h1.5v1.5h-1.5zM521.4 400.7h1.5v1.5h-1.5zM504.2 400.5h1.5v1.5h-1.5zM524.5 393.3h1.5v1.5h-1.5zM488.2 405.8h1.5v1.5h-1.5zM493.5 414.8h1.5v1.5h-1.5zM498.6 418.6h1.5v1.5h-1.5zM537.6 377.3h1.5v1.5h-1.5zM542.5 363.3h1.5v1.5h-1.5zM538.8 387.7h1.5v1.5h-1.5zM557.9 362.1h1.5v1.5h-1.5zM534 383.1h1.5v1.5h-1.5zM541 376.2h1.5v1.5h-1.5zM554.2 361.6h1.5v1.5h-1.5zM532.3 385.4h1.5v1.5h-1.5zM536.5 386.8h1.5v1.5h-1.5zM539.3 375.5h1.5v1.5h-1.5zM539.8 378.2h1.5v1.5h-1.5zM548.7 362.4h1.5v1.5h-1.5zM529.8 381.5h1.5v1.5h-1.5zM547.2 377.2h1.5v1.5h-1.5zM531.3 370.1h1.5v1.5h-1.5zM546.9 376.8h1.5v1.5h-1.5zM556.9 362.6h1.5v1.5h-1.5zM543.4 375.8h1.5v1.5h-1.5zM538.7 365.7h1.5v1.5h-1.5zM544.1 372h1.5v1.5h-1.5zM536.3 379.6h1.5v1.5h-1.5zM529.4 370.2h1.5v1.5h-1.5zM549.2 366.6h1.5v1.5h-1.5zM543.9 375.4h1.5v1.5h-1.5zM538.2 377h1.5v1.5h-1.5zM542.7 376.4h1.5v1.5h-1.5zM539.4 366.6h1.5v1.5h-1.5zM538.4 361.1h1.5v1.5h-1.5zM547.7 370.4h1.5v1.5h-1.5zM556 349.9h1.5v1.5h-1.5zM541.4 360h1.5v1.5h-1.5zM542.6 378.8h1.5v1.5h-1.5zM548.9 356.3h1.5v1.5h-1.5zM549.1 356.8h1.5v1.5h-1.5zM553.4 367.7h1.5v1.5h-1.5zM555.1 367.6h1.5v1.5h-1.5zM536.4 364.1h1.5v1.5h-1.5zM546.8 385.2h1.5v1.5h-1.5zM542.5 365.3h1.5v1.5h-1.5zM537.6 382.2h1.5v1.5h-1.5zM511.9 387.2h1.5v1.5h-1.5zM552.7 365.5h1.5v1.5h-1.5zM551.3 375h1.5v1.5h-1.5zM534.9 387.2h1.5v1.5h-1.5zM548.7 372.2h1.5v1.5h-1.5zM530.9 379.4h1.5v1.5h-1.5zM555 363.8h1.5v1.5h-1.5zM519.9 386.1h1.5v1.5h-1.5zM544.4 367.9h1.5v1.5h-1.5zM546.6 369.1h1.5v1.5h-1.5zM538.7 378.4h1.5v1.5h-1.5zM538.7 381.2h1.5v1.5h-1.5zM538.6 373h1.5v1.5h-1.5zM530.9 365.8h1.5v1.5h-1.5zM536.7 370.9h1.5v1.5h-1.5zM551.8 363.5h1.5v1.5h-1.5zM566.5 370.5h1.5v1.5h-1.5zM543.3 367.5h1.5v1.5h-1.5zM551.3 367.3h1.5v1.5h-1.5zM548.7 368.8h1.5v1.5h-1.5zM548 361.9h1.5v1.5h-1.5zM550 367.8h1.5v1.5h-1.5zM552.1 370.9h1.5v1.5h-1.5zM553.6 376h1.5v1.5h-1.5zM544.4 382.8h1.5v1.5h-1.5zM544.9 369.8h1.5v1.5h-1.5zM542.5 372.9h1.5v1.5h-1.5zM550.6 364h1.5v1.5h-1.5zM554.9 362.1h1.5v1.5h-1.5zM546 376.3h1.5v1.5h-1.5zM528.7 376.9h1.5v1.5h-1.5zM546.7 369.7h1.5v1.5h-1.5zM544.8 367.8h1.5v1.5h-1.5zM552.8 370h1.5v1.5h-1.5zM530.6 387.2h1.5v1.5h-1.5zM540.7 373.3h1.5v1.5h-1.5zM545.3 371.5h1.5v1.5h-1.5zM541.9 362h1.5v1.5h-1.5zM552.7 369.2h1.5v1.5h-1.5zM542.4 363.7h1.5v1.5h-1.5zM536.3 371.9h1.5v1.5h-1.5zM541.1 374.4h1.5v1.5h-1.5zM552.3 375h1.5v1.5h-1.5zM550 376.5h1.5v1.5h-1.5zM557 363.5h1.5v1.5h-1.5zM535.4 384.6h1.5v1.5h-1.5zM544.5 364.6h1.5v1.5h-1.5zM539.9 371.4h1.5v1.5h-1.5zM546.7 358.8h1.5v1.5h-1.5zM553.8 365.5h1.5v1.5h-1.5zM534.2 376.1h1.5v1.5h-1.5zM544.2 375.5h1.5v1.5h-1.5zM539 367.1h1.5v1.5h-1.5zM542.2 363.2h1.5v1.5h-1.5zM547.6 364.7h1.5v1.5h-1.5zM545.7 374h1.5v1.5h-1.5zM540.3 371.6h1.5v1.5h-1.5zM552.8 356.2h1.5v1.5h-1.5zM545 365.1h1.5v1.5h-1.5zM542.5 368.9h1.5v1.5h-1.5zM553.6 369.6h1.5v1.5h-1.5zM524.7 377.6h1.5v1.5h-1.5zM547.1 360.4h1.5v1.5h-1.5zM555.9 365.8h1.5v1.5h-1.5zM530.9 369h1.5v1.5h-1.5zM543.5 375.9h1.5v1.5h-1.5zM547.7 375.7h1.5v1.5h-1.5zM549.9 367h1.5v1.5h-1.5zM537.9 378.4h1.5v1.5h-1.5zM545.1 376.7h1.5v1.5h-1.5zM540.5 385h1.5v1.5h-1.5zM552.9 360h1.5v1.5h-1.5zM529.3 371.6h1.5v1.5h-1.5zM541.1 384.4h1.5v1.5h-1.5zM557.1 373.9h1.5v1.5h-1.5zM549.6 374.2h1.5v1.5h-1.5zM540.2 371.4h1.5v1.5h-1.5zM547.2 375.9h1.5v1.5h-1.5zM535 373.8h1.5v1.5h-1.5zM540.4 374.2h1.5v1.5h-1.5zM536.1 387.7h1.5v1.5h-1.5zM537.1 369.6h1.5v1.5h-1.5zM531.7 375.8h1.5v1.5h-1.5zM535.9 368.9h1.5v1.5h-1.5zM553.7 361.5h1.5v1.5h-1.5zM543.2 373.4h1.5v1.5h-1.5zM548.8 365.1h1.5v1.5h-1.5zM534.7 371.2h1.5v1.5h-1.5zM534.1 372.7h1.5v1.5h-1.5zM556 365.7h1.5v1.5h-1.5zM555.1 371.8h1.5v1.5h-1.5zM534.1 367.7h1.5v1.5h-1.5zM541.8 376.6h1.5v1.5h-1.5zM535.1 391.5h1.5v1.5h-1.5zM539.4 374.8h1.5v1.5h-1.5zM535.6 372.5h1.5v1.5h-1.5zM549.8 373.7h1.5v1.5h-1.5zM543.9 371.5h1.5v1.5h-1.5zM524.5 385.2h1.5v1.5h-1.5zM546.7 369.4h1.5v1.5h-1.5zM550.3 367.7h1.5v1.5h-1.5zM547.1 371.8h1.5v1.5h-1.5zM557 368.8h1.5v1.5h-1.5zM558.2 356.5h1.5v1.5h-1.5zM551.4 370.4h1.5v1.5h-1.5zM541.7 373.8h1.5v1.5h-1.5zM538.2 373.8h1.5v1.5h-1.5zM535.2 375.7h1.5v1.5h-1.5zM532.5 380h1.5v1.5h-1.5zM549.6 369.4h1.5v1.5h-1.5zM544.2 361.3h1.5v1.5h-1.5zM542.2 374.2h1.5v1.5h-1.5zM545.2 364.5h1.5v1.5h-1.5zM535 372.4h1.5v1.5h-1.5zM543 365.8h1.5v1.5h-1.5zM535.6 389.3h1.5v1.5h-1.5zM546.6 371.6h1.5v1.5h-1.5zM552.2 379.7h1.5v1.5h-1.5zM550.5 373.3h1.5v1.5h-1.5zM546.2 372.9h1.5v1.5h-1.5zM549.9 362.1h1.5v1.5h-1.5zM542.5 378.7h1.5v1.5h-1.5zM542.2 366.9h1.5v1.5h-1.5zM534.2 373.1h1.5v1.5h-1.5zM535.6 380.7h1.5v1.5h-1.5zM531.7 383.5h1.5v1.5h-1.5zM548.5 372h1.5v1.5h-1.5zM530.5 372.2h1.5v1.5h-1.5zM533.3 380.3h1.5v1.5h-1.5zM525.8 381.1h1.5v1.5h-1.5zM536.1 379.2h1.5v1.5h-1.5zM540.2 371.2h1.5v1.5h-1.5zM542.9 372.2h1.5v1.5h-1.5zM550.5 362.5h1.5v1.5h-1.5zM542.8 375.8h1.5v1.5h-1.5zM545.5 371.3h1.5v1.5h-1.5zM537.8 368.5h1.5v1.5h-1.5zM554.6 365.5h1.5v1.5h-1.5zM548.4 367.9h1.5v1.5h-1.5zM536 367.6h1.5v1.5h-1.5zM550.8 365.7h1.5v1.5h-1.5zM548.2 372.7h1.5v1.5h-1.5zM548.8 363.4h1.5v1.5h-1.5zM539.1 360.6h1.5v1.5h-1.5zM548.4 361.4h1.5v1.5h-1.5zM552.2 361.1h1.5v1.5h-1.5zM533.6 385.1h1.5v1.5h-1.5zM541.6 373.5h1.5v1.5h-1.5zM527.1 380.2h1.5v1.5h-1.5zM532 372h1.5v1.5h-1.5zM540.6 373.1h1.5v1.5h-1.5zM549.5 372.6h1.5v1.5h-1.5zM544.1 375h1.5v1.5h-1.5zM553.6 366.5h1.5v1.5h-1.5zM536 377h1.5v1.5h-1.5zM547.3 372.3h1.5v1.5h-1.5zM526 385.9h1.5v1.5h-1.5zM555.7 351.1h1.5v1.5h-1.5zM551 366.9h1.5v1.5h-1.5zM534.6 377.8h1.5v1.5h-1.5zM544.8 362.7h1.5v1.5h-1.5zM555.4 359.8h1.5v1.5h-1.5zM537.5 393.7h1.5v1.5h-1.5zM548.7 372.5h1.5v1.5h-1.5zM543.8 373.1h1.5v1.5h-1.5zM560.3 366.7h1.5v1.5h-1.5zM538 374.3h1.5v1.5h-1.5zM544.5 370.1h1.5v1.5h-1.5zM554.1 376h1.5v1.5h-1.5zM545 367.7h1.5v1.5h-1.5zM539.4 378.8h1.5v1.5h-1.5zM560.8 350.4h1.5v1.5h-1.5zM538.2 363.2h1.5v1.5h-1.5zM532.4 380.2h1.5v1.5h-1.5zM544.5 366.9h1.5v1.5h-1.5zM552.6 363.4h1.5v1.5h-1.5zM555.6 362.4h1.5v1.5h-1.5zM543.7 365.3h1.5v1.5h-1.5zM531.4 393.2h1.5v1.5h-1.5zM535 388.3h1.5v1.5h-1.5zM548.7 362h1.5v1.5h-1.5zM548.3 366.7h1.5v1.5h-1.5zM539.2 384.4h1.5v1.5h-1.5zM522.3 379.9h1.5v1.5h-1.5zM533.4 376.1h1.5v1.5h-1.5zM541.3 376.9h1.5v1.5h-1.5zM547.2 368.4h1.5v1.5h-1.5zM551.6 359.7h1.5v1.5h-1.5zM561.3 362.7h1.5v1.5h-1.5zM543.6 366.3h1.5v1.5h-1.5zM531 380.9h1.5v1.5h-1.5zM550.2 367.9h1.5v1.5h-1.5zM528.1 375.9h1.5v1.5h-1.5zM540.9 373.9h1.5v1.5h-1.5zM549.4 372.8h1.5v1.5h-1.5zM538.5 375.1h1.5v1.5h-1.5zM546 366h1.5v1.5h-1.5zM545.3 374.3h1.5v1.5h-1.5zM536.4 373.8h1.5v1.5h-1.5zM528.7 375.2h1.5v1.5h-1.5zM542 376.9h1.5v1.5h-1.5zM532.5 364.2h1.5v1.5h-1.5zM534.4 365.5h1.5v1.5h-1.5zM545.8 361.9h1.5v1.5h-1.5zM540.7 375.3h1.5v1.5h-1.5zM548.3 361.8h1.5v1.5h-1.5zM543.4 367.6h1.5v1.5h-1.5zM542.5 375.8h1.5v1.5h-1.5zM532.6 376h1.5v1.5h-1.5zM541.1 366.8h1.5v1.5h-1.5zM546.3 373.5h1.5v1.5h-1.5zM527.6 379.8h1.5v1.5h-1.5zM547.6 361.8h1.5v1.5h-1.5zM539.1 376.5h1.5v1.5h-1.5zM534 373h1.5v1.5h-1.5zM545.1 374.4h1.5v1.5h-1.5zM546.7 367.6h1.5v1.5h-1.5zM540.6 368.1h1.5v1.5h-1.5zM539.4 369.5h1.5v1.5h-1.5zM543.3 375.8h1.5v1.5h-1.5zM545.1 378.8h1.5v1.5h-1.5zM551.6 371h1.5v1.5h-1.5zM536.9 377.7h1.5v1.5h-1.5zM523.7 374.5h1.5v1.5h-1.5zM552.4 369.9h1.5v1.5h-1.5zM549.2 363.3h1.5v1.5h-1.5zM539.3 368h1.5v1.5h-1.5zM552.4 368.6h1.5v1.5h-1.5zM540.7 375.6h1.5v1.5h-1.5zM538 374h1.5v1.5h-1.5zM540.1 369.9h1.5v1.5h-1.5zM541 368.1h1.5v1.5h-1.5zM534.6 366.1h1.5v1.5h-1.5zM539.3 374.6h1.5v1.5h-1.5zM557.2 359.4h1.5v1.5h-1.5zM531.3 374.9h1.5v1.5h-1.5zM543.9 375.1h1.5v1.5h-1.5zM543.8 371.5h1.5v1.5h-1.5zM531.2 376.4h1.5v1.5h-1.5zM538.4 382.3h1.5v1.5h-1.5zM534.1 378h1.5v1.5h-1.5zM533.7 367.8h1.5v1.5h-1.5zM554.6 371.1h1.5v1.5h-1.5zM551 373h1.5v1.5h-1.5zM555.1 366.7h1.5v1.5h-1.5zM541 383.4h1.5v1.5h-1.5zM537.2 369.6h1.5v1.5h-1.5zM549.8 379.2h1.5v1.5h-1.5zM545.6 377.4h1.5v1.5h-1.5zM541.7 376.8h1.5v1.5h-1.5zM541.2 375.7h1.5v1.5h-1.5zM547.3 380h1.5v1.5h-1.5zM545.2 375.6h1.5v1.5h-1.5zM547.3 364.9h1.5v1.5h-1.5zM551.4 366.6h1.5v1.5h-1.5zM543.5 386.9h1.5v1.5h-1.5zM534.1 377.4h1.5v1.5h-1.5zM552 369.9h1.5v1.5h-1.5zM549.7 358h1.5v1.5h-1.5zM532.3 375.5h1.5v1.5h-1.5zM536.3 373.8h1.5v1.5h-1.5zM500.4 400.3h1.5v1.5h-1.5zM489.5 417.1h1.5v1.5h-1.5zM498.2 401.2h1.5v1.5h-1.5zM511.3 398h1.5v1.5h-1.5zM493.5 404.1h1.5v1.5h-1.5zM497.3 401h1.5v1.5h-1.5zM493.9 408.8h1.5v1.5h-1.5zM487.7 407.8h1.5v1.5h-1.5zM491.2 402.6h1.5v1.5h-1.5zM486 416.6h1.5v1.5h-1.5zM491.6 401.5h1.5v1.5h-1.5zM483.1 405.4h1.5v1.5h-1.5zM495.6 408.4h1.5v1.5h-1.5zM487.6 406.2h1.5v1.5h-1.5zM498.1 403.3h1.5v1.5h-1.5zM512.2 394.4h1.5v1.5h-1.5zM497.1 413.2h1.5v1.5h-1.5zM470.5 410h1.5v1.5h-1.5zM501 402.9h1.5v1.5h-1.5zM505.9 411.5h1.5v1.5h-1.5zM484.2 416.4h1.5v1.5h-1.5zM488.3 398h1.5v1.5h-1.5zM485.1 410.9h1.5v1.5h-1.5zM507.9 392.1h1.5v1.5h-1.5zM481.1 416.6h1.5v1.5h-1.5zM494.8 414.9h1.5v1.5h-1.5zM487.7 407h1.5v1.5h-1.5zM504.4 405.7h1.5v1.5h-1.5zM483.3 407.3h1.5v1.5h-1.5zM492.7 417.4h1.5v1.5h-1.5zM469.8 426.9h1.5v1.5h-1.5zM488.9 406.5h1.5v1.5h-1.5zM478.4 419h1.5v1.5h-1.5zM482.9 423h1.5v1.5h-1.5zM489.3 411.6h1.5v1.5h-1.5zM507.4 398.3h1.5v1.5h-1.5zM514.5 390.6h1.5v1.5h-1.5zM496 400.3h1.5v1.5h-1.5zM488 415.5h1.5v1.5h-1.5zM491.6 403.9h1.5v1.5h-1.5zM513.5 395h1.5v1.5h-1.5zM483.2 417.2h1.5v1.5h-1.5zM489.8 411.5h1.5v1.5h-1.5zM476.8 426.2h1.5v1.5h-1.5zM482.9 412.6h1.5v1.5h-1.5zM517.2 397.3h1.5v1.5h-1.5zM481.5 418.1h1.5v1.5h-1.5zM493.4 403.6h1.5v1.5h-1.5zM508.8 392h1.5v1.5h-1.5zM504.6 410.5h1.5v1.5h-1.5zM508 397.3h1.5v1.5h-1.5zM474.6 420.9h1.5v1.5h-1.5zM483.6 413.2h1.5v1.5h-1.5zM482.6 407.2h1.5v1.5h-1.5zM493.7 411.6h1.5v1.5h-1.5zM491.2 419.5h1.5v1.5h-1.5zM496.3 406.7h1.5v1.5h-1.5zM487.1 409.4h1.5v1.5h-1.5zM516.1 394.5h1.5v1.5h-1.5zM488.8 402.9h1.5v1.5h-1.5zM490.9 417.4h1.5v1.5h-1.5zM494.9 409.3h1.5v1.5h-1.5zM480.7 405.2h1.5v1.5h-1.5zM506.4 399.3h1.5v1.5h-1.5zM487.6 411.7h1.5v1.5h-1.5zM514 397.8h1.5v1.5h-1.5zM500.4 406.7h1.5v1.5h-1.5zM501.9 412.1h1.5v1.5h-1.5zM484.6 401.2h1.5v1.5h-1.5zM483.3 418.4h1.5v1.5h-1.5zM488.4 397.2h1.5v1.5h-1.5zM492.7 398.6h1.5v1.5h-1.5zM503 422.7h1.5v1.5h-1.5zM486 412.4h1.5v1.5h-1.5zM494 418.6h1.5v1.5h-1.5zM492.7 407.7h1.5v1.5h-1.5zM527.6 402.4h1.5v1.5h-1.5zM490 394.6h1.5v1.5h-1.5zM501 398h1.5v1.5h-1.5zM468.9 420.8h1.5v1.5h-1.5zM472.9 405.7h1.5v1.5h-1.5zM462 405.1h1.5v1.5h-1.5zM486.8 414.6h1.5v1.5h-1.5zM507.8 408.1h1.5v1.5h-1.5zM496.9 405.5h1.5v1.5h-1.5zM485.5 402.8h1.5v1.5h-1.5zM487.8 413.6h1.5v1.5h-1.5zM489.4 401.9h1.5v1.5h-1.5zM500.5 394.1h1.5v1.5h-1.5zM491.4 413.6h1.5v1.5h-1.5zM475.1 404.8h1.5v1.5h-1.5zM490.4 426.8h1.5v1.5h-1.5zM484.5 420.1h1.5v1.5h-1.5zM488.5 395.3h1.5v1.5h-1.5zM484.3 403.8h1.5v1.5h-1.5zM489.4 412.5h1.5v1.5h-1.5zM489.1 407.8h1.5v1.5h-1.5zM501 409.4h1.5v1.5h-1.5zM500.3 414.2h1.5v1.5h-1.5zM498.4 408h1.5v1.5h-1.5zM503.6 406.1h1.5v1.5h-1.5zM479.7 402.6h1.5v1.5h-1.5zM485.5 417.5h1.5v1.5h-1.5zM478.5 422.5h1.5v1.5h-1.5zM470.6 408.3h1.5v1.5h-1.5zM496.3 404.3h1.5v1.5h-1.5zM503.9 407.4h1.5v1.5h-1.5zM488.4 400.9h1.5v1.5h-1.5zM467.5 417.3h1.5v1.5h-1.5zM510.6 391.5h1.5v1.5h-1.5zM492.2 404.7h1.5v1.5h-1.5zM500.4 415.3h1.5v1.5h-1.5zM477 411.6h1.5v1.5h-1.5zM480.4 402.9h1.5v1.5h-1.5zM477.8 416.1h1.5v1.5h-1.5zM489.1 411.9h1.5v1.5h-1.5zM482.1 394.5h1.5v1.5h-1.5zM496.2 401.8h1.5v1.5h-1.5zM492.4 402.2h1.5v1.5h-1.5zM487.3 416.1h1.5v1.5h-1.5zM505.8 405.5h1.5v1.5h-1.5zM500.2 405.9h1.5v1.5h-1.5zM478.7 413.8h1.5v1.5h-1.5zM500.6 411.2h1.5v1.5h-1.5zM473.8 407.2h1.5v1.5h-1.5zM500.7 391h1.5v1.5h-1.5zM482 412.7h1.5v1.5h-1.5zM492.4 404.6h1.5v1.5h-1.5zM483.1 421.4h1.5v1.5h-1.5zM482.2 410.2h1.5v1.5h-1.5zM479.4 412.7h1.5v1.5h-1.5zM477 417.7h1.5v1.5h-1.5zM493.4 408.2h1.5v1.5h-1.5zM495.9 414.8h1.5v1.5h-1.5zM492.2 405.6h1.5v1.5h-1.5zM504.5 398.9h1.5v1.5h-1.5zM470.6 410.3h1.5v1.5h-1.5zM488.9 414.8h1.5v1.5h-1.5zM463.5 418.2h1.5v1.5h-1.5zM474.2 426.9h1.5v1.5h-1.5zM486.5 409.4h1.5v1.5h-1.5zM500.5 409.2h1.5v1.5h-1.5zM482.9 403.3h1.5v1.5h-1.5zM507.2 391.1h1.5v1.5h-1.5zM478.1 408.2h1.5v1.5h-1.5zM490.9 410.7h1.5v1.5h-1.5zM475.2 409h1.5v1.5h-1.5zM491.3 416.3h1.5v1.5h-1.5zM486.4 401.2h1.5v1.5h-1.5zM487.8 421h1.5v1.5h-1.5zM508 394.4h1.5v1.5h-1.5zM489.2 409h1.5v1.5h-1.5zM476.9 422.3h1.5v1.5h-1.5zM495.2 407.3h1.5v1.5h-1.5zM489.3 409.7h1.5v1.5h-1.5zM498.1 399.5h1.5v1.5h-1.5zM502.6 416.7h1.5v1.5h-1.5zM488.5 399.3h1.5v1.5h-1.5zM502.8 405.9h1.5v1.5h-1.5zM471 415.9h1.5v1.5h-1.5zM501.8 396.7h1.5v1.5h-1.5zM489 412.8h1.5v1.5h-1.5zM472.1 415.3h1.5v1.5h-1.5zM493.9 421.9h1.5v1.5h-1.5zM513.5 401.5h1.5v1.5h-1.5zM504.8 395.4h1.5v1.5h-1.5zM497.8 404.9h1.5v1.5h-1.5zM484.5 403.3h1.5v1.5h-1.5zM465.2 418.5h1.5v1.5h-1.5zM503.9 390.1h1.5v1.5h-1.5zM500.1 410.3h1.5v1.5h-1.5zM489.7 403.8h1.5v1.5h-1.5zM516.7 396.1h1.5v1.5h-1.5zM519.7 391.5h1.5v1.5h-1.5zM484 413.6h1.5v1.5h-1.5zM490.6 406.9h1.5v1.5h-1.5zM482.6 406.1h1.5v1.5h-1.5zM500.1 402.7h1.5v1.5h-1.5zM507.4 411.8h1.5v1.5h-1.5zM512.1 407h1.5v1.5h-1.5zM480.7 415h1.5v1.5h-1.5zM501.1 408.1h1.5v1.5h-1.5zM510.5 396.9h1.5v1.5h-1.5zM473.5 417.9h1.5v1.5h-1.5zM492.5 400.5h1.5v1.5h-1.5zM514 396.2h1.5v1.5h-1.5zM497.1 402.4h1.5v1.5h-1.5zM504.8 404.3h1.5v1.5h-1.5zM501.8 402.7h1.5v1.5h-1.5zM488.4 416.7h1.5v1.5h-1.5zM498.5 416.7h1.5v1.5h-1.5zM489.7 416.7h1.5v1.5h-1.5zM498.4 392.9h1.5v1.5h-1.5zM512.1 412.2h1.5v1.5h-1.5zM497.1 408h1.5v1.5h-1.5zM463.1 426.2h1.5v1.5h-1.5zM509.5 387.9h1.5v1.5h-1.5zM499.4 407h1.5v1.5h-1.5zM511.7 396.6h1.5v1.5h-1.5zM455.5 412h1.5v1.5h-1.5zM486.8 404.6h1.5v1.5h-1.5zM505.1 400.6h1.5v1.5h-1.5zM516.3 402.5h1.5v1.5h-1.5zM500.1 390.9h1.5v1.5h-1.5zM464.9 422.6h1.5v1.5h-1.5zM487.8 404.8h1.5v1.5h-1.5zM501.2 394.3h1.5v1.5h-1.5zM508.9 391.6h1.5v1.5h-1.5zM510.7 402.7h1.5v1.5h-1.5zM473.6 424.1h1.5v1.5h-1.5zM511.4 402.5h1.5v1.5h-1.5zM501.7 406.7h1.5v1.5h-1.5zM504.7 406h1.5v1.5h-1.5zM483.2 413.4h1.5v1.5h-1.5zM500.6 391.4h1.5v1.5h-1.5zM495.6 395.3h1.5v1.5h-1.5zM492.6 403.8h1.5v1.5h-1.5zM478.5 419.2h1.5v1.5h-1.5zM489.8 409.9h1.5v1.5h-1.5zM489.3 406.7h1.5v1.5h-1.5zM507.2 409.7h1.5v1.5h-1.5zM494 403.8h1.5v1.5h-1.5zM491.1 410.4h1.5v1.5h-1.5zM482.4 405h1.5v1.5h-1.5zM507 396h1.5v1.5h-1.5zM508.8 408.1h1.5v1.5h-1.5zM504 404.6h1.5v1.5h-1.5zM505.2 385.6h1.5v1.5h-1.5zM492.2 412h1.5v1.5h-1.5zM477.5 413.4h1.5v1.5h-1.5zM474.8 424.4h1.5v1.5h-1.5zM473.7 412.1h1.5v1.5h-1.5zM487.1 403.1h1.5v1.5h-1.5zM494.2 413h1.5v1.5h-1.5zM500.7 404.8h1.5v1.5h-1.5zM491.8 408.4h1.5v1.5h-1.5zM490.9 408.1h1.5v1.5h-1.5zM486.8 404.6h1.5v1.5h-1.5zM500.5 405.4h1.5v1.5h-1.5zM508.3 395.4h1.5v1.5h-1.5zM497.7 390.4h1.5v1.5h-1.5zM494.7 405.4h1.5v1.5h-1.5zM509.7 406.2h1.5v1.5h-1.5zM491.9 409.9h1.5v1.5h-1.5zM502.8 400.3h1.5v1.5h-1.5zM467.6 408.3h1.5v1.5h-1.5zM483 408.8h1.5v1.5h-1.5zM488.7 414.5h1.5v1.5h-1.5zM462.7 429.3h1.5v1.5h-1.5zM502.7 397.5h1.5v1.5h-1.5zM491.5 413.1h1.5v1.5h-1.5zM491.6 423.8h1.5v1.5h-1.5zM484.2 411.6h1.5v1.5h-1.5zM491.7 412.2h1.5v1.5h-1.5zM485 413.2h1.5v1.5h-1.5zM493.4 409.8h1.5v1.5h-1.5zM466.2 422.7h1.5v1.5h-1.5zM509.2 397.9h1.5v1.5h-1.5zM503.7 406.2h1.5v1.5h-1.5zM482.4 429.7h1.5v1.5h-1.5zM478.7 419.5h1.5v1.5h-1.5zM493.8 400.8h1.5v1.5h-1.5zM468.2 409.5h1.5v1.5h-1.5zM501 392.4h1.5v1.5h-1.5zM475.4 415.4h1.5v1.5h-1.5zM476.5 412.3h1.5v1.5h-1.5zM493.6 413.5h1.5v1.5h-1.5zM478.9 413h1.5v1.5h-1.5zM497.9 405.4h1.5v1.5h-1.5zM494.1 422.8h1.5v1.5h-1.5zM478.6 418.3h1.5v1.5h-1.5zM465.9 411.6h1.5v1.5h-1.5zM510.5 400.5h1.5v1.5h-1.5zM492.7 400.6h1.5v1.5h-1.5zM499.2 400.5h1.5v1.5h-1.5zM498.1 412.7h1.5v1.5h-1.5zM484.3 408h1.5v1.5h-1.5zM495.2 407.6h1.5v1.5h-1.5zM513.1 408.3h1.5v1.5h-1.5zM487.5 409.4h1.5v1.5h-1.5zM484.1 414.9h1.5v1.5h-1.5zM497.4 399.4h1.5v1.5h-1.5zM467.1 414.2h1.5v1.5h-1.5zM494.8 407.4h1.5v1.5h-1.5zM490.5 392.4h1.5v1.5h-1.5zM510.1 405.8h1.5v1.5h-1.5zM487.3 409.8h1.5v1.5h-1.5zM509.5 389.6h1.5v1.5h-1.5zM473.4 421.8h1.5v1.5h-1.5zM499.5 401.3h1.5v1.5h-1.5zM504.9 411h1.5v1.5h-1.5zM494.1 409h1.5v1.5h-1.5zM490.3 407.5h1.5v1.5h-1.5zM480.4 418.2h1.5v1.5h-1.5zM492.7 405.7h1.5v1.5h-1.5zM509.6 401.3h1.5v1.5h-1.5zM502.2 410.4h1.5v1.5h-1.5zM489.6 394.7h1.5v1.5h-1.5zM507.1 402.4h1.5v1.5h-1.5zM482 412.1h1.5v1.5h-1.5zM493.8 407.8h1.5v1.5h-1.5zM496.3 405.5h1.5v1.5h-1.5zM484.3 410.2h1.5v1.5h-1.5zM500.9 403.2h1.5v1.5h-1.5zM511 403.2h1.5v1.5h-1.5zM482 406.7h1.5v1.5h-1.5zM478.6 413.8h1.5v1.5h-1.5zM500.7 402.9h1.5v1.5h-1.5zM500.6 400h1.5v1.5h-1.5zM487.9 408.1h1.5v1.5h-1.5zM469.6 417.3h1.5v1.5h-1.5zM505 413.4h1.5v1.5h-1.5zM486.9 406.2h1.5v1.5h-1.5zM484.7 399.6h1.5v1.5h-1.5zM486.4 400.6h1.5v1.5h-1.5zM485.6 420.7h1.5v1.5h-1.5zM493.7 403.9h1.5v1.5h-1.5zM487.9 412.1h1.5v1.5h-1.5zM506.4 391.9h1.5v1.5h-1.5zM480.7 400.1h1.5v1.5h-1.5zM460.1 425.5h1.5v1.5h-1.5zM475.6 460.4h1.5v1.5h-1.5zM469.8 422.6h1.5v1.5h-1.5zM470.9 441.6h1.5v1.5h-1.5zM468 410.4h1.5v1.5h-1.5zM477.6 420.1h1.5v1.5h-1.5zM453.4 421.3h1.5v1.5h-1.5zM449.9 425.9h1.5v1.5h-1.5zM450.9 430.1h1.5v1.5h-1.5zM457.9 444.8h1.5v1.5h-1.5zM459.7 458.4h1.5v1.5h-1.5zM474.8 414.9h1.5v1.5h-1.5zM456.4 403.8h1.5v1.5h-1.5zM450.9 439.6h1.5v1.5h-1.5zM487.5 435.9h1.5v1.5h-1.5zM463.5 424.1h1.5v1.5h-1.5zM489.2 451.5h1.5v1.5h-1.5zM450 442.7h1.5v1.5h-1.5zM462.2 412.2h1.5v1.5h-1.5zM442.1 435.4h1.5v1.5h-1.5zM463.1 444.1h1.5v1.5h-1.5zM472 432h1.5v1.5h-1.5zM450 424.7h1.5v1.5h-1.5zM489.6 428.3h1.5v1.5h-1.5zM476.5 433.7h1.5v1.5h-1.5zM492.1 410.4h1.5v1.5h-1.5zM472.1 447.2h1.5v1.5h-1.5zM469.8 427.3h1.5v1.5h-1.5zM471.3 445.2h1.5v1.5h-1.5zM477.6 408.7h1.5v1.5h-1.5zM454.2 419.9h1.5v1.5h-1.5zM475.9 461.1h1.5v1.5h-1.5zM492.9 414.8h1.5v1.5h-1.5zM439.4 438.7h1.5v1.5h-1.5zM454.5 447.7h1.5v1.5h-1.5zM462.4 436.2h1.5v1.5h-1.5zM450.1 459.1h1.5v1.5h-1.5zM483.5 432.1h1.5v1.5h-1.5zM463.6 445.8h1.5v1.5h-1.5zM482.9 427.7h1.5v1.5h-1.5zM460.6 427.3h1.5v1.5h-1.5zM469.4 410.1h1.5v1.5h-1.5zM478.7 431h1.5v1.5h-1.5zM471.7 440.3h1.5v1.5h-1.5zM485.7 442h1.5v1.5h-1.5zM472.3 398.4h1.5v1.5h-1.5zM481 425.9h1.5v1.5h-1.5zM490.1 418.9h1.5v1.5h-1.5zM474.1 431.2h1.5v1.5h-1.5zM488.1 426h1.5v1.5h-1.5zM446.4 425.4h1.5v1.5h-1.5zM432.7 466.7h1.5v1.5h-1.5zM472.9 438.1h1.5v1.5h-1.5zM486.3 438h1.5v1.5h-1.5zM455.6 443.2h1.5v1.5h-1.5zM475.7 415.2h1.5v1.5h-1.5zM459.9 429.7h1.5v1.5h-1.5zM452 435.6h1.5v1.5h-1.5zM463.5 430.6h1.5v1.5h-1.5zM497.2 412.8h1.5v1.5h-1.5zM472 410.7h1.5v1.5h-1.5zM480.5 443.1h1.5v1.5h-1.5zM456.3 438.9h1.5v1.5h-1.5zM459.1 450.9h1.5v1.5h-1.5zM466.7 415.2h1.5v1.5h-1.5zM474.9 436.1h1.5v1.5h-1.5zM474.1 414.8h1.5v1.5h-1.5zM476.7 412.7h1.5v1.5h-1.5zM448.8 413.2h1.5v1.5h-1.5zM455.1 441.3h1.5v1.5h-1.5zM461.7 446.6h1.5v1.5h-1.5zM455.4 441.2h1.5v1.5h-1.5zM473.6 410h1.5v1.5h-1.5zM443.8 441.4h1.5v1.5h-1.5zM470.6 438.7h1.5v1.5h-1.5zM445.2 433.3h1.5v1.5h-1.5zM476.1 427.1h1.5v1.5h-1.5zM470.9 450.3h1.5v1.5h-1.5zM473.2 413.5h1.5v1.5h-1.5zM491 415h1.5v1.5h-1.5zM477 404.6h1.5v1.5h-1.5zM458.1 433.4h1.5v1.5h-1.5zM465.2 449.3h1.5v1.5h-1.5zM475.1 418.3h1.5v1.5h-1.5zM458 424.5h1.5v1.5h-1.5zM496.5 422.5h1.5v1.5h-1.5zM465.9 455.9h1.5v1.5h-1.5zM468.8 435h1.5v1.5h-1.5zM491.4 409h1.5v1.5h-1.5zM469.5 444.3h1.5v1.5h-1.5zM493.7 443.9h1.5v1.5h-1.5zM475.5 407.5h1.5v1.5h-1.5zM470.5 422h1.5v1.5h-1.5zM483.3 420h1.5v1.5h-1.5zM461.8 427h1.5v1.5h-1.5zM468 440.3h1.5v1.5h-1.5zM461.4 424.4h1.5v1.5h-1.5zM464 450.7h1.5v1.5h-1.5zM447.7 414.1h1.5v1.5h-1.5zM435.2 419.9h1.5v1.5h-1.5zM490.7 413.1h1.5v1.5h-1.5zM488.1 427.7h1.5v1.5h-1.5zM455.2 442.3h1.5v1.5h-1.5zM449.4 421.2h1.5v1.5h-1.5zM450.5 434.4h1.5v1.5h-1.5zM489.1 422.5h1.5v1.5h-1.5zM494.6 431.6h1.5v1.5h-1.5zM466.2 433h1.5v1.5h-1.5zM466.4 443h1.5v1.5h-1.5zM485.5 413h1.5v1.5h-1.5zM450.1 441.1h1.5v1.5h-1.5zM482.4 404.3h1.5v1.5h-1.5zM471.2 421.5h1.5v1.5h-1.5zM471 432.7h1.5v1.5h-1.5zM467.7 432.3h1.5v1.5h-1.5zM478.2 431.3h1.5v1.5h-1.5zM486.2 412.3h1.5v1.5h-1.5zM450.3 426.7h1.5v1.5h-1.5zM454.9 432.7h1.5v1.5h-1.5zM484.6 429.7h1.5v1.5h-1.5zM474.6 412h1.5v1.5h-1.5zM467.9 406h1.5v1.5h-1.5zM459.5 428.5h1.5v1.5h-1.5zM470.3 435.7h1.5v1.5h-1.5zM474.4 434h1.5v1.5h-1.5zM451.8 437.4h1.5v1.5h-1.5zM469.6 429.7h1.5v1.5h-1.5zM449.1 419.9h1.5v1.5h-1.5zM481.9 397.5h1.5v1.5h-1.5zM465 438.1h1.5v1.5h-1.5zM462.8 437.9h1.5v1.5h-1.5zM467.4 408.3h1.5v1.5h-1.5zM488 421.3h1.5v1.5h-1.5zM472.9 409.1h1.5v1.5h-1.5zM477 437.9h1.5v1.5h-1.5zM448.4 440.8h1.5v1.5h-1.5zM447.5 429.1h1.5v1.5h-1.5zM460.9 420.5h1.5v1.5h-1.5zM447.1 430h1.5v1.5h-1.5zM496.6 423.8h1.5v1.5h-1.5zM465.8 435h1.5v1.5h-1.5zM471.3 427.1h1.5v1.5h-1.5zM489.8 451.3h1.5v1.5h-1.5zM462.7 425.7h1.5v1.5h-1.5zM468.4 414.3h1.5v1.5h-1.5zM466 412.1h1.5v1.5h-1.5zM463 447.7h1.5v1.5h-1.5zM483.6 412.3h1.5v1.5h-1.5zM497.9 413.4h1.5v1.5h-1.5zM481 427.6h1.5v1.5h-1.5zM452.2 441.7h1.5v1.5h-1.5zM455.6 419.1h1.5v1.5h-1.5zM450.9 414.1h1.5v1.5h-1.5zM458.7 428.5h1.5v1.5h-1.5zM465.9 428h1.5v1.5h-1.5zM456.7 430.5h1.5v1.5h-1.5zM469 420.6h1.5v1.5h-1.5zM499.4 412.2h1.5v1.5h-1.5zM476.4 403.3h1.5v1.5h-1.5zM446.4 454.1h1.5v1.5h-1.5zM452.3 422.6h1.5v1.5h-1.5zM467.2 417.5h1.5v1.5h-1.5zM489 408.3h1.5v1.5h-1.5zM458.2 426.9h1.5v1.5h-1.5zM492.3 424h1.5v1.5h-1.5zM457 448h1.5v1.5h-1.5zM484.1 426.4h1.5v1.5h-1.5zM479.7 430.4h1.5v1.5h-1.5zM470.3 429.5h1.5v1.5h-1.5zM431.9 417h1.5v1.5h-1.5zM542.9 359.4h1.5v1.5h-1.5zM543.4 340.3h1.5v1.5h-1.5zM546.1 347.8h1.5v1.5h-1.5zM541.1 353.7h1.5v1.5h-1.5zM545.1 348.8h1.5v1.5h-1.5zM546.6 354.2h1.5v1.5h-1.5zM540.9 345.8h1.5v1.5h-1.5zM546.9 358.4h1.5v1.5h-1.5zM545.6 349.3h1.5v1.5h-1.5zM549.5 342.4h1.5v1.5h-1.5zM478.3 401.9h1.5v1.5h-1.5zM501 358.6h1.5v1.5h-1.5zM539.3 379.6h1.5v1.5h-1.5zM487.7 387.6h1.5v1.5h-1.5zM430.9 397.4h1.5v1.5h-1.5zM486.3 411.3h1.5v1.5h-1.5zM495 351.7h1.5v1.5h-1.5zM531.2 375.5h1.5v1.5h-1.5zM445.4 351.4h1.5v1.5h-1.5zM454.9 352.8h1.5v1.5h-1.5zM556.1 354.2h1.5v1.5h-1.5zM477.4 354.9h1.5v1.5h-1.5zM557.2 395.7h1.5v1.5h-1.5zM495.1 364.1h1.5v1.5h-1.5zM437.9 395.2h1.5v1.5h-1.5zM524.5 401.8h1.5v1.5h-1.5zM537.3 353.3h1.5v1.5h-1.5zM556.1 413.2h1.5v1.5h-1.5zM525.6 384.5h1.5v1.5h-1.5zM490.3 361.2h1.5v1.5h-1.5zM478.2 373.2h1.5v1.5h-1.5zM513.1 349.5h1.5v1.5h-1.5zM522.2 406h1.5v1.5h-1.5zM452.5 399h1.5v1.5h-1.5zM546.4 397.5h1.5v1.5h-1.5zM532.1 352.3h1.5v1.5h-1.5zM499.6 354.3h1.5v1.5h-1.5zM556 377.2h1.5v1.5h-1.5zM503 353.2h1.5v1.5h-1.5zM445.9 417.3h1.5v1.5h-1.5zM501.8 413.6h1.5v1.5h-1.5zM511.9 407.5h1.5v1.5h-1.5zM555.3 361.8h1.5v1.5h-1.5zM438.1 413.8h1.5v1.5h-1.5zM538.9 408.9h1.5v1.5h-1.5zM430.3 353.8h1.5v1.5h-1.5zM459.8 412.4h1.5v1.5h-1.5zM466.9 366.9h1.5v1.5h-1.5zM503.2 361.7h1.5v1.5h-1.5zM557.7 352.7h1.5v1.5h-1.5zM491.6 385.8h1.5v1.5h-1.5zM554.5 363.5h1.5v1.5h-1.5zM522.6 410h1.5v1.5h-1.5zM433.4 418.8h1.5v1.5h-1.5zM524.4 408h1.5v1.5h-1.5zM439.4 382h1.5v1.5h-1.5zM511 377.2h1.5v1.5h-1.5zM468.3 414.9h1.5v1.5h-1.5zM497 351.8h1.5v1.5h-1.5zM497.6 391.5h1.5v1.5h-1.5zM608.7 368.8h1.5v1.5h-1.5zM600.2 386.7h1.5v1.5h-1.5zM589.5 385.6h1.5v1.5h-1.5zM575 372h1.5v1.5h-1.5zM568 360h1.5v1.5h-1.5z" fill="#4656d6"/>
<path d="M490.1 376.3h1.5v1.5h-1.5zM446.4 374.4h1.5v1.5h-1.5zM431 381h1.5v1.5h-1.5zM483.6 388.7h1.5v1.5h-1.5zM424.4 410.3h1.5v1.5h-1.5zM473 399.5h1.5v1.5h-1.5zM435.9 411.2h1.5v1.5h-1.5zM472.3 382.5h1.5v1.5h-1.5zM488.1 370.3h1.5v1.5h-1.5zM473.9 366.4h1.5v1.5h-1.5zM461 382.5h1.5v1.5h-1.5zM463.8 396h1.5v1.5h-1.5zM447.6 395.5h1.5v1.5h-1.5zM459.9 381.2h1.5v1.5h-1.5zM444.5 401.2h1.5v1.5h-1.5zM449.6 394.8h1.5v1.5h-1.5zM446.7 391.2h1.5v1.5h-1.5zM488.7 371.6h1.5v1.5h-1.5zM455.8 393.3h1.5v1.5h-1.5zM455.4 391.5h1.5v1.5h-1.5zM423.3 400.8h1.5v1.5h-1.5zM473.8 400.2h1.5v1.5h-1.5zM464.9 401.9h1.5v1.5h-1.5zM467.4 382.8h1.5v1.5h-1.5zM459.2 380.6h1.5v1.5h-1.5zM463.6 390.4h1.5v1.5h-1.5zM449.1 395.4h1.5v1.5h-1.5zM484.8 390.7h1.5v1.5h-1.5zM472.5 389.3h1.5v1.5h-1.5zM428 387h1.5v1.5h-1.5zM472.3 395h1.5v1.5h-1.5zM464 383.8h1.5v1.5h-1.5zM457.9 390.1h1.5v1.5h-1.5zM465.6 378.6h1.5v1.5h-1.5zM476.4 385.9h1.5v1.5h-1.5zM480.2 390.6h1.5v1.5h-1.5zM480.5 387.7h1.5v1.5h-1.5zM457.6 380.1h1.5v1.5h-1.5zM465.1 407.7h1.5v1.5h-1.5zM458.7 385.5h1.5v1.5h-1.5zM448.5 391.5h1.5v1.5h-1.5zM470.2 398.3h1.5v1.5h-1.5zM470.8 383.7h1.5v1.5h-1.5zM456.4 394.6h1.5v1.5h-1.5zM458 409.2h1.5v1.5h-1.5zM461.4 372.8h1.5v1.5h-1.5zM444.3 389.6h1.5v1.5h-1.5zM465 388.5h1.5v1.5h-1.5zM451.2 393h1.5v1.5h-1.5zM460.1 391.5h1.5v1.5h-1.5zM467.8 379.1h1.5v1.5h-1.5zM458.7 392.2h1.5v1.5h-1.5zM489.7 369.2h1.5v1.5h-1.5zM434.3 384.4h1.5v1.5h-1.5zM462.7 392h1.5v1.5h-1.5zM462.3 390.1h1.5v1.5h-1.5zM479.4 388.5h1.5v1.5h-1.5zM481 395.3h1.5v1.5h-1.5zM440.9 394.2h1.5v1.5h-1.5zM450.7 382.7h1.5v1.5h-1.5zM472.8 395h1.5v1.5h-1.5zM424.5 402.4h1.5v1.5h-1.5zM458 384.9h1.5v1.5h-1.5zM494.7 376.7h1.5v1.5h-1.5zM466.6 390.7h1.5v1.5h-1.5zM442.6 404.7h1.5v1.5h-1.5zM456.8 397h1.5v1.5h-1.5zM452.9 388.3h1.5v1.5h-1.5zM505.6 350.6h1.5v1.5h-1.5zM473.9 392.6h1.5v1.5h-1.5zM470.7 383.9h1.5v1.5h-1.5zM449.3 392.9h1.5v1.5h-1.5zM496.2 384.4h1.5v1.5h-1.5zM490.3 376.9h1.5v1.5h-1.5zM458.7 375.1h1.5v1.5h-1.5zM437.3 389.7h1.5v1.5h-1.5zM510.8 381.9h1.5v1.5h-1.5zM487.2 376.7h1.5v1.5h-1.5zM447.3 383.1h1.5v1.5h-1.5zM478.5 395.7h1.5v1.5h-1.5zM474.5 385.3h1.5v1.5h-1.5zM434.3 396.5h1.5v1.5h-1.5zM458.6 390.9h1.5v1.5h-1.5zM463.5 380h1.5v1.5h-1.5zM494.3 385.7h1.5v1.5h-1.5zM448.1 396.8h1.5v1.5h-1.5zM507.1 366.2h1.5v1.5h-1.5zM446.6 392.7h1.5v1.5h-1.5zM455.5 389.1h1.5v1.5h-1.5zM454.5 383.8h1.5v1.5h-1.5zM447.8 406.3h1.5v1.5h-1.5zM487.5 381.3h1.5v1.5h-1.5zM482 381.1h1.5v1.5h-1.5zM461.4 391.2h1.5v1.5h-1.5zM453.1 394.9h1.5v1.5h-1.5zM460.7 382.4h1.5v1.5h-1.5zM473.6 385.1h1.5v1.5h-1.5zM469.9 387.4h1.5v1.5h-1.5zM500.3 379h1.5v1.5h-1.5zM491.6 383.2h1.5v1.5h-1.5zM477.7 387h1.5v1.5h-1.5zM429.1 409h1.5v1.5h-1.5zM487.6 380h1.5v1.5h-1.5zM455.7 381h1.5v1.5h-1.5zM468.9 390.8h1.5v1.5h-1.5zM449.4 383.3h1.5v1.5h-1.5zM468.7 392.8h1.5v1.5h-1.5zM455.6 391.9h1.5v1.5h-1.5zM504.7 376.2h1.5v1.5h-1.5zM476.1 370.4h1.5v1.5h-1.5zM475.9 384.3h1.5v1.5h-1.5zM457.5 382.4h1.5v1.5h-1.5zM461.5 394.1h1.5v1.5h-1.5zM477 386.1h1.5v1.5h-1.5zM480.6 376.8h1.5v1.5h-1.5zM476.5 393.4h1.5v1.5h-1.5zM483 377.8h1.5v1.5h-1.5zM459.9 389.6h1.5v1.5h-1.5zM501.6 379.2h1.5v1.5h-1.5zM446.6 393.1h1.5v1.5h-1.5zM449.8 382.6h1.5v1.5h-1.5zM465.7 378.9h1.5v1.5h-1.5zM474.9 375.1h1.5v1.5h-1.5zM475.4 380.7h1.5v1.5h-1.5zM479.3 369.1h1.5v1.5h-1.5zM504 385.4h1.5v1.5h-1.5zM457.6 389.9h1.5v1.5h-1.5zM447.8 390h1.5v1.5h-1.5zM493.7 376.8h1.5v1.5h-1.5zM474.8 382.6h1.5v1.5h-1.5zM472.7 395.2h1.5v1.5h-1.5zM473.9 373.8h1.5v1.5h-1.5zM470.3 389.4h1.5v1.5h-1.5zM487.5 377.7h1.5v1.5h-1.5zM484.7 375.4h1.5v1.5h-1.5zM440.4 375.1h1.5v1.5h-1.5zM438.4 389.5h1.5v1.5h-1.5zM448.4 393h1.5v1.5h-1.5zM474 391.9h1.5v1.5h-1.5zM449.9 390.1h1.5v1.5h-1.5zM480.7 390.5h1.5v1.5h-1.5zM470.1 369.2h1.5v1.5h-1.5zM471.4 386.7h1.5v1.5h-1.5zM481.8 374.3h1.5v1.5h-1.5zM484 394.2h1.5v1.5h-1.5zM448 397.2h1.5v1.5h-1.5zM502.6 367.9h1.5v1.5h-1.5zM489.7 384h1.5v1.5h-1.5zM437.1 405.9h1.5v1.5h-1.5zM443.2 391.5h1.5v1.5h-1.5zM446.4 380h1.5v1.5h-1.5zM500.8 371.5h1.5v1.5h-1.5zM473.5 383.4h1.5v1.5h-1.5zM476.5 376.8h1.5v1.5h-1.5zM464 389.5h1.5v1.5h-1.5zM464 376.2h1.5v1.5h-1.5zM476.6 395.3h1.5v1.5h-1.5zM461.3 377.6h1.5v1.5h-1.5zM487.3 379.3h1.5v1.5h-1.5zM458.7 384.8h1.5v1.5h-1.5zM451.3 380h1.5v1.5h-1.5zM488 399.1h1.5v1.5h-1.5zM461.9 388.7h1.5v1.5h-1.5zM438.2 399.3h1.5v1.5h-1.5zM471.8 394.9h1.5v1.5h-1.5zM455.1 387.5h1.5v1.5h-1.5zM442.9 375.7h1.5v1.5h-1.5zM472.6 374.9h1.5v1.5h-1.5zM473.9 382h1.5v1.5h-1.5zM444 385.4h1.5v1.5h-1.5zM468 387.2h1.5v1.5h-1.5zM459.2 379.8h1.5v1.5h-1.5zM469.9 376.3h1.5v1.5h-1.5zM455.3 382h1.5v1.5h-1.5zM456.5 379.6h1.5v1.5h-1.5zM465.6 378h1.5v1.5h-1.5zM431.4 378.2h1.5v1.5h-1.5zM470.7 379.3h1.5v1.5h-1.5zM436.4 399.1h1.5v1.5h-1.5zM443 385.5h1.5v1.5h-1.5zM448.2 386.7h1.5v1.5h-1.5zM453.2 385.2h1.5v1.5h-1.5zM444.7 404.4h1.5v1.5h-1.5zM466.7 383.6h1.5v1.5h-1.5zM448.6 402h1.5v1.5h-1.5zM474.2 376.3h1.5v1.5h-1.5zM501 369.1h1.5v1.5h-1.5zM462.6 384.6h1.5v1.5h-1.5zM464.1 382.8h1.5v1.5h-1.5zM467.6 380.4h1.5v1.5h-1.5zM436.4 392.8h1.5v1.5h-1.5zM424.5 399h1.5v1.5h-1.5zM464.4 375h1.5v1.5h-1.5zM445.9 380.7h1.5v1.5h-1.5zM454.7 389.2h1.5v1.5h-1.5zM461.9 381.5h1.5v1.5h-1.5zM447.1 396.8h1.5v1.5h-1.5zM431 393.4h1.5v1.5h-1.5zM415.2 388.8h1.5v1.5h-1.5zM482.8 390h1.5v1.5h-1.5zM517.5 387.8h1.5v1.5h-1.5zM447.4 397.8h1.5v1.5h-1.5zM512.4 395.5h1.5v1.5h-1.5zM508.2 369.3h1.5v1.5h-1.5zM471 380.7h1.5v1.5h-1.5zM481.3 390.9h1.5v1.5h-1.5zM500.8 387.8h1.5v1.5h-1.5zM442.2 412.1h1.5v1.5h-1.5zM440.7 405.1h1.5v1.5h-1.5zM459.1 383h1.5v1.5h-1.5zM486.9 376.4h1.5v1.5h-1.5zM455.5 384h1.5v1.5h-1.5zM463.4 386h1.5v1.5h-1.5zM456 393.4h1.5v1.5h-1.5zM439.8 371.5h1.5v1.5h-1.5zM463.8 382.8h1.5v1.5h-1.5zM453.8 381h1.5v1.5h-1.5zM451.3 393.8h1.5v1.5h-1.5zM452.1 391.5h1.5v1.5h-1.5zM475.1 400.6h1.5v1.5h-1.5zM480.4 376.4h1.5v1.5h-1.5zM467.9 385.9h1.5v1.5h-1.5zM439.1 401.5h1.5v1.5h-1.5zM478.5 383.5h1.5v1.5h-1.5zM499.2 380.8h1.5v1.5h-1.5zM460.7 397.5h1.5v1.5h-1.5zM457.7 381.6h1.5v1.5h-1.5zM465.9 393.2h1.5v1.5h-1.5zM493.3 375.8h1.5v1.5h-1.5zM464.9 385h1.5v1.5h-1.5zM455.4 389.9h1.5v1.5h-1.5zM475.6 375.6h1.5v1.5h-1.5zM451 398.5h1.5v1.5h-1.5zM472.7 390.4h1.5v1.5h-1.5zM441.1 396.7h1.5v1.5h-1.5zM465.7 394.3h1.5v1.5h-1.5zM486.1 373.5h1.5v1.5h-1.5zM460.8 371.6h1.5v1.5h-1.5zM463.2 377.8h1.5v1.5h-1.5zM493.3 368.6h1.5v1.5h-1.5zM475.4 359.9h1.5v1.5h-1.5zM468 382.5h1.5v1.5h-1.5zM475.6 391.1h1.5v1.5h-1.5zM454 371.1h1.5v1.5h-1.5zM463 391.3h1.5v1.5h-1.5zM435.8 399.5h1.5v1.5h-1.5zM480 394.6h1.5v1.5h-1.5zM446.8 380.9h1.5v1.5h-1.5zM475.2 381.4h1.5v1.5h-1.5zM455 397.8h1.5v1.5h-1.5zM465.6 384.7h1.5v1.5h-1.5zM449.1 387.7h1.5v1.5h-1.5zM438.1 388.1h1.5v1.5h-1.5zM458.3 393.4h1.5v1.5h-1.5zM438.4 395.5h1.5v1.5h-1.5zM471 391.2h1.5v1.5h-1.5zM429 396h1.5v1.5h-1.5zM451.7 396.2h1.5v1.5h-1.5zM461.1 389h1.5v1.5h-1.5zM459.4 379.7h1.5v1.5h-1.5zM472.9 391.3h1.5v1.5h-1.5zM466.5 370h1.5v1.5h-1.5zM470.9 397.5h1.5v1.5h-1.5zM433.6 394h1.5v1.5h-1.5zM458.5 381.2h1.5v1.5h-1.5zM450.5 382.7h1.5v1.5h-1.5zM468.6 381.9h1.5v1.5h-1.5zM461.1 390.4h1.5v1.5h-1.5zM465.6 380.2h1.5v1.5h-1.5zM446.6 380h1.5v1.5h-1.5zM446.3 384.1h1.5v1.5h-1.5zM427.6 403.9h1.5v1.5h-1.5zM466.9 382.3h1.5v1.5h-1.5zM457.1 386.7h1.5v1.5h-1.5zM459.2 394.8h1.5v1.5h-1.5zM492.4 393h1.5v1.5h-1.5zM501 366.7h1.5v1.5h-1.5zM446.6 387.3h1.5v1.5h-1.5zM474.7 382.9h1.5v1.5h-1.5zM490.5 382.3h1.5v1.5h-1.5zM455.8 381.8h1.5v1.5h-1.5zM469.7 390h1.5v1.5h-1.5zM471.1 378.1h1.5v1.5h-1.5zM460.9 395.4h1.5v1.5h-1.5zM477.1 384.7h1.5v1.5h-1.5zM445.3 398.6h1.5v1.5h-1.5zM464.2 394.3h1.5v1.5h-1.5zM468.1 396.1h1.5v1.5h-1.5zM486.9 388h1.5v1.5h-1.5zM484.1 380.3h1.5v1.5h-1.5zM452 398.2h1.5v1.5h-1.5zM451.6 390.5h1.5v1.5h-1.5zM463 399.5h1.5v1.5h-1.5zM504.6 370.2h1.5v1.5h-1.5zM457.5 387.5h1.5v1.5h-1.5zM489.4 370.7h1.5v1.5h-1.5zM459.9 376.8h1.5v1.5h-1.5zM480.7 369.2h1.5v1.5h-1.5zM454.8 388.1h1.5v1.5h-1.5zM460.9 381.4h1.5v1.5h-1.5zM483.5 376h1.5v1.5h-1.5zM483.6 395.3h1.5v1.5h-1.5zM459.4 402.6h1.5v1.5h-1.5zM448 394.8h1.5v1.5h-1.5zM512.5 366.6h1.5v1.5h-1.5zM488.3 372.1h1.5v1.5h-1.5zM467.4 382.8h1.5v1.5h-1.5zM480.8 384.7h1.5v1.5h-1.5zM474.7 388.6h1.5v1.5h-1.5zM470.7 395.2h1.5v1.5h-1.5zM446 396.4h1.5v1.5h-1.5zM421.2 398h1.5v1.5h-1.5zM460.3 389.7h1.5v1.5h-1.5zM474.5 387.8h1.5v1.5h-1.5zM462.3 384.3h1.5v1.5h-1.5zM478 378.4h1.5v1.5h-1.5zM468.7 392.7h1.5v1.5h-1.5zM460.6 383.7h1.5v1.5h-1.5zM483.2 398.5h1.5v1.5h-1.5zM451.1 383.5h1.5v1.5h-1.5zM437.6 388h1.5v1.5h-1.5zM501.3 363.1h1.5v1.5h-1.5zM432.1 403.9h1.5v1.5h-1.5zM472.1 379.8h1.5v1.5h-1.5zM446.6 385.1h1.5v1.5h-1.5zM460.8 391h1.5v1.5h-1.5zM488.9 382.6h1.5v1.5h-1.5zM451.1 396.7h1.5v1.5h-1.5zM469.6 393.4h1.5v1.5h-1.5zM432.9 403.8h1.5v1.5h-1.5zM445.8 396.6h1.5v1.5h-1.5zM464.7 387.6h1.5v1.5h-1.5zM476.1 393.8h1.5v1.5h-1.5zM447 382h1.5v1.5h-1.5zM443.6 384.9h1.5v1.5h-1.5zM467.8 380.4h1.5v1.5h-1.5zM467 383.7h1.5v1.5h-1.5zM476.5 381.2h1.5v1.5h-1.5zM494.8 370.6h1.5v1.5h-1.5zM486.9 385.5h1.5v1.5h-1.5zM441.3 394.1h1.5v1.5h-1.5zM461.8 399.3h1.5v1.5h-1.5zM454.1 388.3h1.5v1.5h-1.5zM446.8 391.9h1.5v1.5h-1.5zM463.5 385.3h1.5v1.5h-1.5zM492.7 380.3h1.5v1.5h-1.5zM491.9 379.2h1.5v1.5h-1.5zM493.7 384.2h1.5v1.5h-1.5zM478.6 372.9h1.5v1.5h-1.5zM468.5 379.8h1.5v1.5h-1.5zM459.8 393.9h1.5v1.5h-1.5zM487.1 379.5h1.5v1.5h-1.5zM445.9 397.3h1.5v1.5h-1.5zM431.9 416.1h1.5v1.5h-1.5zM472.7 377h1.5v1.5h-1.5zM475.5 387.2h1.5v1.5h-1.5zM498.5 366.2h1.5v1.5h-1.5zM484.3 378.7h1.5v1.5h-1.5zM455.8 383.5h1.5v1.5h-1.5zM485.8 385h1.5v1.5h-1.5zM456.8 386.5h1.5v1.5h-1.5zM478.6 381.6h1.5v1.5h-1.5zM449 387.8h1.5v1.5h-1.5zM482.6 368.8h1.5v1.5h-1.5zM460.4 405.7h1.5v1.5h-1.5zM480.9 372h1.5v1.5h-1.5zM451.9 400.7h1.5v1.5h-1.5zM419.6 391.1h1.5v1.5h-1.5zM434.6 410.8h1.5v1.5h-1.5zM441.4 389h1.5v1.5h-1.5zM472.8 373.4h1.5v1.5h-1.5zM451.1 378.5h1.5v1.5h-1.5zM476.4 380.6h1.5v1.5h-1.5zM472.2 389.5h1.5v1.5h-1.5zM485.2 382.1h1.5v1.5h-1.5zM468.1 378.8h1.5v1.5h-1.5zM480.8 380.5h1.5v1.5h-1.5zM484.6 364.7h1.5v1.5h-1.5zM522.4 362.2h1.5v1.5h-1.5zM434.2 397.2h1.5v1.5h-1.5zM499.7 371h1.5v1.5h-1.5zM466.4 395.2h1.5v1.5h-1.5zM458.2 378.9h1.5v1.5h-1.5zM436.9 411.5h1.5v1.5h-1.5zM461.9 383.9h1.5v1.5h-1.5zM470.7 387.2h1.5v1.5h-1.5zM464.4 360.2h1.5v1.5h-1.5zM471.2 401.6h1.5v1.5h-1.5zM480.4 377.1h1.5v1.5h-1.5zM467.2 378.2h1.5v1.5h-1.5zM509.6 364.3h1.5v1.5h-1.5zM450.8 397.5h1.5v1.5h-1.5zM488.5 393.3h1.5v1.5h-1.5zM466.5 393.9h1.5v1.5h-1.5zM455.3 386.3h1.5v1.5h-1.5zM462.2 384.3h1.5v1.5h-1.5zM460.7 388.5h1.5v1.5h-1.5zM464 382.3h1.5v1.5h-1.5zM468.7 381.7h1.5v1.5h-1.5zM502.5 364.5h1.5v1.5h-1.5zM491.3 391.4h1.5v1.5h-1.5zM494.5 393h1.5v1.5h-1.5zM462.6 381.8h1.5v1.5h-1.5zM465 386.3h1.5v1.5h-1.5zM457.1 388.4h1.5v1.5h-1.5zM492.2 376.1h1.5v1.5h-1.5zM483.4 373.9h1.5v1.5h-1.5zM449.7 381.4h1.5v1.5h-1.5zM429 398.5h1.5v1.5h-1.5zM482.9 366h1.5v1.5h-1.5zM450.6 389.5h1.5v1.5h-1.5zM469.7 397.3h1.5v1.5h-1.5zM476.7 387.5h1.5v1.5h-1.5zM483.2 385.3h1.5v1.5h-1.5zM445.2 396.8h1.5v1.5h-1.5zM448 386.4h1.5v1.5h-1.5zM471.2 391.4h1.5v1.5h-1.5zM444.2 393.3h1.5v1.5h-1.5zM444.3 394h1.5v1.5h-1.5zM453.9 394.4h1.5v1.5h-1.5zM440.7 381.2h1.5v1.5h-1.5zM445 391.2h1.5v1.5h-1.5zM485.9 373.4h1.5v1.5h-1.5zM456.9 383.5h1.5v1.5h-1.5zM467.5 391h1.5v1.5h-1.5zM495.3 375.5h1.5v1.5h-1.5zM445.2 383.9h1.5v1.5h-1.5zM501.2 369.5h1.5v1.5h-1.5zM482.9 368.5h1.5v1.5h-1.5zM460.9 396.7h1.5v1.5h-1.5zM500.7 379.1h1.5v1.5h-1.5zM469.7 389.2h1.5v1.5h-1.5zM476.9 369h1.5v1.5h-1.5zM467.3 381.8h1.5v1.5h-1.5zM450.3 385h1.5v1.5h-1.5zM458.6 394.9h1.5v1.5h-1.5zM477 373.6h1.5v1.5h-1.5zM449.2 391.3h1.5v1.5h-1.5zM448.1 396.9h1.5v1.5h-1.5zM459.8 388.4h1.5v1.5h-1.5zM481.2 388.4h1.5v1.5h-1.5zM463.8 370.4h1.5v1.5h-1.5zM449.6 377.1h1.5v1.5h-1.5zM452 393.8h1.5v1.5h-1.5zM475.5 389.4h1.5v1.5h-1.5zM487.3 383.6h1.5v1.5h-1.5zM461.1 366.2h1.5v1.5h-1.5zM447.6 398.9h1.5v1.5h-1.5zM464.6 385.2h1.5v1.5h-1.5zM444.8 402.6h1.5v1.5h-1.5zM467.6 377.3h1.5v1.5h-1.5zM485.1 383h1.5v1.5h-1.5zM483.5 384.2h1.5v1.5h-1.5zM462.5 380.4h1.5v1.5h-1.5zM436.6 392.5h1.5v1.5h-1.5zM497.7 372.3h1.5v1.5h-1.5zM464.9 383.7h1.5v1.5h-1.5zM454.5 394.2h1.5v1.5h-1.5zM488.7 387h1.5v1.5h-1.5zM461.4 394.3h1.5v1.5h-1.5zM470.4 390.7h1.5v1.5h-1.5zM495.3 370.4h1.5v1.5h-1.5zM493.4 387.8h1.5v1.5h-1.5zM446.8 390h1.5v1.5h-1.5zM466.9 375.3h1.5v1.5h-1.5zM489.8 376.5h1.5v1.5h-1.5zM448.8 403.6h1.5v1.5h-1.5zM492 397.8h1.5v1.5h-1.5zM461.9 395.8h1.5v1.5h-1.5zM490 382.4h1.5v1.5h-1.5zM508.4 377.8h1.5v1.5h-1.5zM474.2 397.5h1.5v1.5h-1.5zM478.9 373.7h1.5v1.5h-1.5zM470.8 388.4h1.5v1.5h-1.5zM501.2 372.5h1.5v1.5h-1.5zM425 394h1.5v1.5h-1.5zM454.7 400.4h1.5v1.5h-1.5zM445.4 384.6h1.5v1.5h-1.5zM474.3 369.8h1.5v1.5h-1.5zM471.6 393.3h1.5v1.5h-1.5zM470.9 384.7h1.5v1.5h-1.5zM480.2 379.9h1.5v1.5h-1.5zM509.5 386.1h1.5v1.5h-1.5zM498.4 377.7h1.5v1.5h-1.5zM482 384.8h1.5v1.5h-1.5zM509.5 373.1h1.5v1.5h-1.5zM471 386.6h1.5v1.5h-1.5zM521.1 372.8h1.5v1.5h-1.5zM504.4 374.2h1.5v1.5h-1.5zM514.5 373.6h1.5v1.5h-1.5zM523 370.1h1.5v1.5h-1.5zM477.8 382.3h1.5v1.5h-1.5zM503.7 376.1h1.5v1.5h-1.5zM517.5 384.6h1.5v1.5h-1.5zM477 384.4h1.5v1.5h-1.5zM502.8 369.7h1.5v1.5h-1.5zM469.2 384.2h1.5v1.5h-1.5zM469.2 390h1.5v1.5h-1.5zM524.3 377.5h1.5v1.5h-1.5zM497.3 377.6h1.5v1.5h-1.5zM510.4 381.6h1.5v1.5h-1.5zM488.9 378.9h1.5v1.5h-1.5zM476.9 384.3h1.5v1.5h-1.5zM498.2 382.8h1.5v1.5h-1.5zM510.5 371.3h1.5v1.5h-1.5zM501.1 371.2h1.5v1.5h-1.5zM513.5 370.3h1.5v1.5h-1.5zM505.7 381.4h1.5v1.5h-1.5zM502.3 384.3h1.5v1.5h-1.5zM490.4 383.5h1.5v1.5h-1.5zM518.8 376.4h1.5v1.5h-1.5zM472.2 381.1h1.5v1.5h-1.5zM481.2 388.5h1.5v1.5h-1.5zM513.4 377.3h1.5v1.5h-1.5zM523 366.7h1.5v1.5h-1.5zM483.1 398.8h1.5v1.5h-1.5zM504.8 370.2h1.5v1.5h-1.5zM482 389.2h1.5v1.5h-1.5zM506.3 377.5h1.5v1.5h-1.5zM505.5 377.3h1.5v1.5h-1.5zM491.8 379.9h1.5v1.5h-1.5zM484.3 380.8h1.5v1.5h-1.5zM528.7 376.7h1.5v1.5h-1.5zM520.7 369.5h1.5v1.5h-1.5zM464.7 389.4h1.5v1.5h-1.5zM494.7 387.5h1.5v1.5h-1.5zM494 386.1h1.5v1.5h-1.5zM521.4 366.2h1.5v1.5h-1.5zM475.4 387.2h1.5v1.5h-1.5zM491.4 378.6h1.5v1.5h-1.5zM469.2 382.4h1.5v1.5h-1.5zM525.7 376.1h1.5v1.5h-1.5zM489.5 384.5h1.5v1.5h-1.5zM519.7 380.8h1.5v1.5h-1.5zM529 379.9h1.5v1.5h-1.5zM487.7 378.4h1.5v1.5h-1.5zM504.7 372.1h1.5v1.5h-1.5zM502.6 386.8h1.5v1.5h-1.5zM503 386.1h1.5v1.5h-1.5zM500.5 371.1h1.5v1.5h-1.5zM497.5 381.4h1.5v1.5h-1.5zM484.1 386.2h1.5v1.5h-1.5zM522.8 372.8h1.5v1.5h-1.5zM508.8 381.3h1.5v1.5h-1.5zM473.8 386.5h1.5v1.5h-1.5zM475.8 389h1.5v1.5h-1.5zM502.3 387.5h1.5v1.5h-1.5zM478.3 378.2h1.5v1.5h-1.5zM472.7 395.5h1.5v1.5h-1.5zM502 381.5h1.5v1.5h-1.5zM472.1 386.8h1.5v1.5h-1.5zM505.2 378h1.5v1.5h-1.5zM471.7 386h1.5v1.5h-1.5zM507.3 377h1.5v1.5h-1.5zM503.6 371.8h1.5v1.5h-1.5zM486.5 381.9h1.5v1.5h-1.5zM507.8 377.4h1.5v1.5h-1.5zM495.9 387.6h1.5v1.5h-1.5zM522.1 374.1h1.5v1.5h-1.5zM484.6 386.9h1.5v1.5h-1.5zM529.3 372.5h1.5v1.5h-1.5zM490.8 391.9h1.5v1.5h-1.5zM523.5 364.8h1.5v1.5h-1.5zM518.4 367.3h1.5v1.5h-1.5zM522.8 381.3h1.5v1.5h-1.5zM484.8 383.3h1.5v1.5h-1.5zM495.1 380.6h1.5v1.5h-1.5zM470.3 394.4h1.5v1.5h-1.5zM498.5 384.3h1.5v1.5h-1.5zM466.5 388.1h1.5v1.5h-1.5zM503.7 382.7h1.5v1.5h-1.5zM493.3 384.3h1.5v1.5h-1.5zM500 374.7h1.5v1.5h-1.5zM518.9 368h1.5v1.5h-1.5zM511.7 384.4h1.5v1.5h-1.5zM468.5 378.5h1.5v1.5h-1.5zM510.6 380.7h1.5v1.5h-1.5zM508.4 382.1h1.5v1.5h-1.5zM493.7 380.8h1.5v1.5h-1.5zM484.6 379h1.5v1.5h-1.5zM511.9 375.9h1.5v1.5h-1.5zM479.3 393.4h1.5v1.5h-1.5zM517.1 379.4h1.5v1.5h-1.5zM512.3 379.9h1.5v1.5h-1.5zM499.9 381.2h1.5v1.5h-1.5zM470.4 388.2h1.5v1.5h-1.5zM501.4 371.8h1.5v1.5h-1.5zM480.4 380.7h1.5v1.5h-1.5zM513.8 374.3h1.5v1.5h-1.5zM472.6 395.1h1.5v1.5h-1.5zM527 365.6h1.5v1.5h-1.5zM482.1 387.5h1.5v1.5h-1.5zM501.9 374.7h1.5v1.5h-1.5zM512 378.6h1.5v1.5h-1.5zM503.8 375.7h1.5v1.5h-1.5zM511 385.9h1.5v1.5h-1.5zM503.3 375.2h1.5v1.5h-1.5zM498.4 375h1.5v1.5h-1.5zM501.4 373h1.5v1.5h-1.5zM510.6 374.2h1.5v1.5h-1.5zM508.8 387.1h1.5v1.5h-1.5zM481 390.6h1.5v1.5h-1.5zM499.9 377.9h1.5v1.5h-1.5zM495.3 373.9h1.5v1.5h-1.5zM498.2 383.7h1.5v1.5h-1.5zM479.2 382.1h1.5v1.5h-1.5zM493.9 377.9h1.5v1.5h-1.5zM510.1 375h1.5v1.5h-1.5zM510.8 374.1h1.5v1.5h-1.5zM494.1 374.6h1.5v1.5h-1.5zM481.4 385.8h1.5v1.5h-1.5zM520.2 377.5h1.5v1.5h-1.5zM460.3 394.9h1.5v1.5h-1.5zM486 386.9h1.5v1.5h-1.5zM511.9 377h1.5v1.5h-1.5zM478.3 395.1h1.5v1.5h-1.5zM473.4 383.9h1.5v1.5h-1.5zM514.6 373.5h1.5v1.5h-1.5zM467.3 388.4h1.5v1.5h-1.5zM511.3 373.6h1.5v1.5h-1.5zM513.4 378.4h1.5v1.5h-1.5zM478.2 389.1h1.5v1.5h-1.5zM487.6 376.9h1.5v1.5h-1.5zM475.1 385.3h1.5v1.5h-1.5zM480.7 383.6h1.5v1.5h-1.5zM516.6 376.1h1.5v1.5h-1.5zM480.7 386.2h1.5v1.5h-1.5zM511.4 379.1h1.5v1.5h-1.5zM473.8 390.3h1.5v1.5h-1.5zM499.7 376.1h1.5v1.5h-1.5zM516.5 371.4h1.5v1.5h-1.5zM464.4 388h1.5v1.5h-1.5zM474.8 391.5h1.5v1.5h-1.5zM513.2 378.1h1.5v1.5h-1.5zM501.1 374.4h1.5v1.5h-1.5zM484.3 384.6h1.5v1.5h-1.5zM518 381.4h1.5v1.5h-1.5zM525.9 376.5h1.5v1.5h-1.5zM520.9 372.5h1.5v1.5h-1.5zM502.2 375.4h1.5v1.5h-1.5zM503.8 381.7h1.5v1.5h-1.5zM477.9 387.3h1.5v1.5h-1.5zM480.8 382.2h1.5v1.5h-1.5zM517.5 376.1h1.5v1.5h-1.5zM526.3 372.9h1.5v1.5h-1.5zM479.3 386.5h1.5v1.5h-1.5zM501.4 384.9h1.5v1.5h-1.5zM477.9 386.9h1.5v1.5h-1.5zM481.8 386.3h1.5v1.5h-1.5zM478.9 384.9h1.5v1.5h-1.5zM504.6 381.7h1.5v1.5h-1.5zM520.9 375.7h1.5v1.5h-1.5zM466.1 385.7h1.5v1.5h-1.5zM515.5 371.4h1.5v1.5h-1.5zM470.8 383.5h1.5v1.5h-1.5zM470.3 382.4h1.5v1.5h-1.5zM503.4 376.9h1.5v1.5h-1.5zM512.3 374.9h1.5v1.5h-1.5zM486.2 383.2h1.5v1.5h-1.5zM514.8 362.5h1.5v1.5h-1.5zM499.2 376.8h1.5v1.5h-1.5zM493.3 377.1h1.5v1.5h-1.5zM473.7 391.6h1.5v1.5h-1.5zM498.6 388.4h1.5v1.5h-1.5zM502.9 382.6h1.5v1.5h-1.5zM502.7 383.9h1.5v1.5h-1.5zM508.8 375.5h1.5v1.5h-1.5zM493.5 387.1h1.5v1.5h-1.5zM490.7 384.3h1.5v1.5h-1.5zM485.4 385.4h1.5v1.5h-1.5zM509.7 373.7h1.5v1.5h-1.5zM514.8 370h1.5v1.5h-1.5zM488.1 386.4h1.5v1.5h-1.5zM521.8 381.2h1.5v1.5h-1.5zM484.3 378.9h1.5v1.5h-1.5zM484.6 377.6h1.5v1.5h-1.5zM473 385.2h1.5v1.5h-1.5zM500.7 374.5h1.5v1.5h-1.5zM471.1 393.4h1.5v1.5h-1.5zM508.2 370.6h1.5v1.5h-1.5zM501.5 374.6h1.5v1.5h-1.5zM505.4 378.1h1.5v1.5h-1.5zM497.8 379.1h1.5v1.5h-1.5zM484.8 386h1.5v1.5h-1.5zM495.2 379.3h1.5v1.5h-1.5zM476.8 380.7h1.5v1.5h-1.5zM507.5 369.1h1.5v1.5h-1.5zM517.5 383.8h1.5v1.5h-1.5zM482.6 384.5h1.5v1.5h-1.5zM494.7 381.3h1.5v1.5h-1.5zM482.5 381.6h1.5v1.5h-1.5zM503.4 380h1.5v1.5h-1.5zM464.8 385.6h1.5v1.5h-1.5zM510.2 371.2h1.5v1.5h-1.5zM495.7 380.8h1.5v1.5h-1.5zM496.2 373.8h1.5v1.5h-1.5zM502.3 371h1.5v1.5h-1.5zM513 376.3h1.5v1.5h-1.5zM488.1 377.2h1.5v1.5h-1.5zM484.6 379.8h1.5v1.5h-1.5zM467.1 387.9h1.5v1.5h-1.5zM483.2 381.8h1.5v1.5h-1.5zM476.1 388.8h1.5v1.5h-1.5zM484.2 379.3h1.5v1.5h-1.5zM494.1 388.1h1.5v1.5h-1.5zM477.7 390.7h1.5v1.5h-1.5zM524.4 380.2h1.5v1.5h-1.5zM478.6 381.1h1.5v1.5h-1.5zM482.5 389h1.5v1.5h-1.5zM509.7 379.2h1.5v1.5h-1.5zM489.2 383.9h1.5v1.5h-1.5zM491.6 381.4h1.5v1.5h-1.5zM515.5 371.1h1.5v1.5h-1.5zM502.1 372.9h1.5v1.5h-1.5zM504.3 384.2h1.5v1.5h-1.5zM511.3 382.3h1.5v1.5h-1.5zM468.1 388h1.5v1.5h-1.5zM469.2 388h1.5v1.5h-1.5zM510.7 380.3h1.5v1.5h-1.5zM500.3 368.8h1.5v1.5h-1.5zM516.8 382.7h1.5v1.5h-1.5zM486.9 379.7h1.5v1.5h-1.5zM468.2 383.1h1.5v1.5h-1.5zM496 377.2h1.5v1.5h-1.5zM488.2 386.7h1.5v1.5h-1.5zM510.8 384.8h1.5v1.5h-1.5zM504.3 379.7h1.5v1.5h-1.5zM525.5 373.6h1.5v1.5h-1.5zM489.8 381.6h1.5v1.5h-1.5zM503.6 376.7h1.5v1.5h-1.5zM475.1 385.8h1.5v1.5h-1.5zM467.9 390h1.5v1.5h-1.5zM509.2 376.4h1.5v1.5h-1.5zM493.8 376.2h1.5v1.5h-1.5zM468.4 387.1h1.5v1.5h-1.5zM496.3 377.5h1.5v1.5h-1.5zM504.6 378.2h1.5v1.5h-1.5zM479.7 378.7h1.5v1.5h-1.5zM503.4 374.9h1.5v1.5h-1.5zM489.1 380.8h1.5v1.5h-1.5zM514.5 377.2h1.5v1.5h-1.5zM484.3 383h1.5v1.5h-1.5zM505.1 378.6h1.5v1.5h-1.5zM471.9 388.3h1.5v1.5h-1.5zM476 389h1.5v1.5h-1.5zM479 384h1.5v1.5h-1.5zM480.6 384.5h1.5v1.5h-1.5zM508.4 371.9h1.5v1.5h-1.5zM491.9 396.2h1.5v1.5h-1.5zM509.4 379.6h1.5v1.5h-1.5zM497.1 374.2h1.5v1.5h-1.5zM494.7 379.7h1.5v1.5h-1.5zM508.6 378.8h1.5v1.5h-1.5zM499.9 377.1h1.5v1.5h-1.5zM520.5 365.1h1.5v1.5h-1.5zM511.1 380.8h1.5v1.5h-1.5zM503.4 378.2h1.5v1.5h-1.5zM495.7 374.8h1.5v1.5h-1.5zM523.5 361.2h1.5v1.5h-1.5zM503.1 394.2h1.5v1.5h-1.5zM488.9 378.2h1.5v1.5h-1.5zM470 384.2h1.5v1.5h-1.5zM507.5 378.4h1.5v1.5h-1.5zM521 372.8h1.5v1.5h-1.5zM481.4 380.7h1.5v1.5h-1.5zM508 378.3h1.5v1.5h-1.5zM523.1 377.5h1.5v1.5h-1.5zM479.9 381.4h1.5v1.5h-1.5zM494.7 375.5h1.5v1.5h-1.5zM519.8 376.6h1.5v1.5h-1.5zM511.9 376.4h1.5v1.5h-1.5zM518.2 363.7h1.5v1.5h-1.5zM471.1 387h1.5v1.5h-1.5zM478 382.8h1.5v1.5h-1.5zM477.8 381.2h1.5v1.5h-1.5zM476.1 389.1h1.5v1.5h-1.5zM521.6 373.6h1.5v1.5h-1.5zM520.9 361.8h1.5v1.5h-1.5zM507.9 373h1.5v1.5h-1.5zM518.2 376.6h1.5v1.5h-1.5zM467.7 384h1.5v1.5h-1.5zM513.5 378.5h1.5v1.5h-1.5zM492.8 387.1h1.5v1.5h-1.5zM493 388h1.5v1.5h-1.5zM505.6 380.2h1.5v1.5h-1.5zM514.4 374.4h1.5v1.5h-1.5zM525 378.2h1.5v1.5h-1.5zM520.7 369.7h1.5v1.5h-1.5zM471.3 390.6h1.5v1.5h-1.5zM483 381.4h1.5v1.5h-1.5zM507.3 377.2h1.5v1.5h-1.5zM524.1 376h1.5v1.5h-1.5zM519.7 376.9h1.5v1.5h-1.5zM514.1 372.7h1.5v1.5h-1.5zM497.7 375.6h1.5v1.5h-1.5zM491.9 389.3h1.5v1.5h-1.5zM514.9 374h1.5v1.5h-1.5zM480.6 388.2h1.5v1.5h-1.5zM473.2 386.1h1.5v1.5h-1.5zM493.1 379h1.5v1.5h-1.5zM495.4 371h1.5v1.5h-1.5zM495 378.4h1.5v1.5h-1.5zM482.1 392h1.5v1.5h-1.5zM482.3 390.2h1.5v1.5h-1.5zM474 382.7h1.5v1.5h-1.5zM480.8 389.8h1.5v1.5h-1.5zM526.5 373.8h1.5v1.5h-1.5zM481.7 388.2h1.5v1.5h-1.5zM471.6 383.5h1.5v1.5h-1.5zM510.2 374.7h1.5v1.5h-1.5zM506.9 364.1h1.5v1.5h-1.5zM472.6 362.2h1.5v1.5h-1.5zM485 369.7h1.5v1.5h-1.5zM476.6 368.8h1.5v1.5h-1.5zM472.9 374.4h1.5v1.5h-1.5zM495 351.2h1.5v1.5h-1.5zM469.2 382.7h1.5v1.5h-1.5zM493.9 371.8h1.5v1.5h-1.5zM501.7 361.4h1.5v1.5h-1.5zM460.3 387.3h1.5v1.5h-1.5zM491 372.7h1.5v1.5h-1.5zM445.2 380.9h1.5v1.5h-1.5zM470.2 375.8h1.5v1.5h-1.5zM472.5 383h1.5v1.5h-1.5zM482 375h1.5v1.5h-1.5zM482.9 373.6h1.5v1.5h-1.5zM483.3 373.9h1.5v1.5h-1.5zM464.4 377.5h1.5v1.5h-1.5zM478.2 366.6h1.5v1.5h-1.5zM478.8 365.9h1.5v1.5h-1.5zM487.8 365.2h1.5v1.5h-1.5zM476.4 368h1.5v1.5h-1.5zM458.2 379.9h1.5v1.5h-1.5zM494.4 360.9h1.5v1.5h-1.5zM484.9 364.2h1.5v1.5h-1.5zM495.8 371h1.5v1.5h-1.5zM493.1 365.4h1.5v1.5h-1.5zM495.7 358.9h1.5v1.5h-1.5zM476 372.9h1.5v1.5h-1.5zM486.8 365.8h1.5v1.5h-1.5zM487.9 363.7h1.5v1.5h-1.5zM477.5 371h1.5v1.5h-1.5zM468.6 373h1.5v1.5h-1.5zM485.9 367.2h1.5v1.5h-1.5zM475.7 375.8h1.5v1.5h-1.5zM490.7 370.3h1.5v1.5h-1.5zM479.2 366.1h1.5v1.5h-1.5zM497 354.9h1.5v1.5h-1.5zM488.2 359.2h1.5v1.5h-1.5zM491 365.2h1.5v1.5h-1.5zM478.3 376.2h1.5v1.5h-1.5zM480.6 358.1h1.5v1.5h-1.5zM491 367.3h1.5v1.5h-1.5zM466.6 373.1h1.5v1.5h-1.5zM486.2 359h1.5v1.5h-1.5zM486.1 367h1.5v1.5h-1.5zM479.9 361.5h1.5v1.5h-1.5zM505.5 357.8h1.5v1.5h-1.5zM476.6 375.8h1.5v1.5h-1.5zM488.9 362.7h1.5v1.5h-1.5zM500.4 358.9h1.5v1.5h-1.5zM466 378.8h1.5v1.5h-1.5zM481.3 363.3h1.5v1.5h-1.5zM473.7 367.7h1.5v1.5h-1.5zM485.5 376.1h1.5v1.5h-1.5zM479.9 373h1.5v1.5h-1.5zM485.1 378.4h1.5v1.5h-1.5zM478.7 365.9h1.5v1.5h-1.5zM475.5 376.9h1.5v1.5h-1.5zM497.9 359.6h1.5v1.5h-1.5zM471.8 363.9h1.5v1.5h-1.5zM503.3 366.1h1.5v1.5h-1.5zM450 379.4h1.5v1.5h-1.5zM494.9 365.1h1.5v1.5h-1.5zM486.1 367.6h1.5v1.5h-1.5zM503.5 353.8h1.5v1.5h-1.5zM473.8 381.5h1.5v1.5h-1.5zM486.1 380.3h1.5v1.5h-1.5zM507.7 354.9h1.5v1.5h-1.5zM478.3 373.2h1.5v1.5h-1.5zM464.1 373.2h1.5v1.5h-1.5zM483 371.3h1.5v1.5h-1.5zM489.7 369.4h1.5v1.5h-1.5zM474.2 364h1.5v1.5h-1.5zM463 377.3h1.5v1.5h-1.5zM466.1 384.3h1.5v1.5h-1.5zM503.9 354.8h1.5v1.5h-1.5zM499.5 359.3h1.5v1.5h-1.5zM467.6 376.1h1.5v1.5h-1.5zM496.5 384.9h1.5v1.5h-1.5zM451.6 390.8h1.5v1.5h-1.5zM449.9 389.5h1.5v1.5h-1.5zM447.9 380.4h1.5v1.5h-1.5zM444.4 362.7h1.5v1.5h-1.5zM446.1 377.1h1.5v1.5h-1.5zM436.9 395.1h1.5v1.5h-1.5zM435.2 374.8h1.5v1.5h-1.5zM449.2 386.8h1.5v1.5h-1.5zM435.6 390.2h1.5v1.5h-1.5zM438.8 383.6h1.5v1.5h-1.5zM431.9 374.7h1.5v1.5h-1.5zM446.3 387.1h1.5v1.5h-1.5zM423.3 378.1h1.5v1.5h-1.5zM425.7 388.5h1.5v1.5h-1.5zM440.8 398.9h1.5v1.5h-1.5zM444.4 369.8h1.5v1.5h-1.5zM450.7 373.1h1.5v1.5h-1.5zM431 388.8h1.5v1.5h-1.5zM421.2 363.7h1.5v1.5h-1.5zM444.4 383.7h1.5v1.5h-1.5zM448.9 376.5h1.5v1.5h-1.5zM449.8 368.7h1.5v1.5h-1.5zM442.8 400.7h1.5v1.5h-1.5zM444.1 394.4h1.5v1.5h-1.5zM420.4 371.4h1.5v1.5h-1.5zM438 362.7h1.5v1.5h-1.5zM420.5 363.7h1.5v1.5h-1.5zM441.1 388.5h1.5v1.5h-1.5zM431.1 364.5h1.5v1.5h-1.5zM431.7 362.7h1.5v1.5h-1.5zM452 397.5h1.5v1.5h-1.5zM435.6 375.1h1.5v1.5h-1.5zM424.7 375.1h1.5v1.5h-1.5zM432.2 367.3h1.5v1.5h-1.5zM427.8 398.2h1.5v1.5h-1.5zM433.3 366h1.5v1.5h-1.5zM446.3 382h1.5v1.5h-1.5zM436.4 389.4h1.5v1.5h-1.5zM435.3 400.2h1.5v1.5h-1.5zM427.5 400.9h1.5v1.5h-1.5zM439.8 397.4h1.5v1.5h-1.5zM439.1 373.2h1.5v1.5h-1.5zM450.1 376.5h1.5v1.5h-1.5zM431.9 376.8h1.5v1.5h-1.5zM440.5 398.8h1.5v1.5h-1.5zM431 362.1h1.5v1.5h-1.5zM421.6 390.1h1.5v1.5h-1.5zM422.9 384.2h1.5v1.5h-1.5zM444.9 367.5h1.5v1.5h-1.5zM430 362.4h1.5v1.5h-1.5zM423.7 400.9h1.5v1.5h-1.5zM451.4 376.6h1.5v1.5h-1.5zM449.7 398.4h1.5v1.5h-1.5zM442.5 363.3h1.5v1.5h-1.5zM427.1 393.7h1.5v1.5h-1.5zM448.6 380.6h1.5v1.5h-1.5zM433.1 373h1.5v1.5h-1.5zM440 386.8h1.5v1.5h-1.5zM421.6 401.8h1.5v1.5h-1.5zM444.4 383.1h1.5v1.5h-1.5zM389.8 317.8h1.5v1.5h-1.5zM338.4 330.4h1.5v1.5h-1.5zM412.4 343.2h1.5v1.5h-1.5zM416.5 316.5h1.5v1.5h-1.5zM376.8 324.2h1.5v1.5h-1.5zM389.8 342.5h1.5v1.5h-1.5zM389.4 334.4h1.5v1.5h-1.5zM408.7 359.4h1.5v1.5h-1.5zM590.2 367.9h1.5v1.5h-1.5z" fill="#f0a848"/>
<path d="M463.2 403.8h1.5v1.5h-1.5zM483.5 397.8h1.5v1.5h-1.5zM498 384.9h1.5v1.5h-1.5zM460.3 410.4h1.5v1.5h-1.5zM492.5 397.1h1.5v1.5h-1.5zM479.9 407.2h1.5v1.5h-1.5zM482.6 394.2h1.5v1.5h-1.5zM458 401h1.5v1.5h-1.5zM481.3 391.8h1.5v1.5h-1.5zM476.2 389.5h1.5v1.5h-1.5zM482.8 394.9h1.5v1.5h-1.5zM489 402.8h1.5v1.5h-1.5zM466.2 394.3h1.5v1.5h-1.5zM490 386.5h1.5v1.5h-1.5zM481.7 400.1h1.5v1.5h-1.5zM476 411.3h1.5v1.5h-1.5zM464.2 389.8h1.5v1.5h-1.5zM480.7 398.8h1.5v1.5h-1.5zM484.1 389.2h1.5v1.5h-1.5zM462.8 405h1.5v1.5h-1.5zM472.2 398.1h1.5v1.5h-1.5zM488 393.6h1.5v1.5h-1.5zM470.5 384.8h1.5v1.5h-1.5zM468.4 396h1.5v1.5h-1.5zM497.6 395h1.5v1.5h-1.5zM483 392.4h1.5v1.5h-1.5zM480.5 402.2h1.5v1.5h-1.5zM472.2 397h1.5v1.5h-1.5zM484.2 382.1h1.5v1.5h-1.5zM478.1 399.6h1.5v1.5h-1.5zM484.4 400.9h1.5v1.5h-1.5zM481.4 398.4h1.5v1.5h-1.5zM492.9 383.1h1.5v1.5h-1.5zM478.9 395.9h1.5v1.5h-1.5zM469.5 398h1.5v1.5h-1.5zM490.7 403h1.5v1.5h-1.5zM490.6 392.6h1.5v1.5h-1.5zM473.3 392.3h1.5v1.5h-1.5zM481.5 398.6h1.5v1.5h-1.5zM468.8 395h1.5v1.5h-1.5zM470.4 408.7h1.5v1.5h-1.5zM470.7 412.4h1.5v1.5h-1.5zM463.8 390.4h1.5v1.5h-1.5zM480.1 393.3h1.5v1.5h-1.5zM476.6 389.1h1.5v1.5h-1.5zM470.7 409.1h1.5v1.5h-1.5zM482.2 384.3h1.5v1.5h-1.5zM492.5 393.4h1.5v1.5h-1.5zM480 406.4h1.5v1.5h-1.5zM490.6 401.1h1.5v1.5h-1.5zM481.5 390h1.5v1.5h-1.5zM498.4 390.8h1.5v1.5h-1.5zM476.9 382h1.5v1.5h-1.5zM484.7 387.9h1.5v1.5h-1.5zM476.6 403.3h1.5v1.5h-1.5zM490.5 399h1.5v1.5h-1.5zM470.5 411.6h1.5v1.5h-1.5zM469.4 386.9h1.5v1.5h-1.5zM489.2 379.7h1.5v1.5h-1.5zM481 395.1h1.5v1.5h-1.5zM458.1 401.4h1.5v1.5h-1.5zM459.5 408.7h1.5v1.5h-1.5zM494.4 383.2h1.5v1.5h-1.5zM469.8 387.4h1.5v1.5h-1.5zM496.8 387.6h1.5v1.5h-1.5zM470.9 402.9h1.5v1.5h-1.5zM477.6 402.5h1.5v1.5h-1.5zM472.2 394.7h1.5v1.5h-1.5zM473.8 407.5h1.5v1.5h-1.5zM492.5 393.9h1.5v1.5h-1.5zM493.9 383.5h1.5v1.5h-1.5zM492.8 390.3h1.5v1.5h-1.5zM464.7 390.2h1.5v1.5h-1.5zM482.1 381.2h1.5v1.5h-1.5zM476.2 395.6h1.5v1.5h-1.5zM479.2 408.8h1.5v1.5h-1.5zM473.1 402h1.5v1.5h-1.5zM481.5 403.6h1.5v1.5h-1.5zM467.1 392h1.5v1.5h-1.5zM490.1 382.9h1.5v1.5h-1.5zM457 404.2h1.5v1.5h-1.5zM485 381.2h1.5v1.5h-1.5zM465.2 398.2h1.5v1.5h-1.5zM486.7 383.5h1.5v1.5h-1.5zM478 385.2h1.5v1.5h-1.5zM490.8 389.1h1.5v1.5h-1.5zM474.2 392.9h1.5v1.5h-1.5zM487.9 405.1h1.5v1.5h-1.5zM475.2 406.8h1.5v1.5h-1.5zM471.1 408.8h1.5v1.5h-1.5zM493.3 381.4h1.5v1.5h-1.5zM465.5 405.8h1.5v1.5h-1.5zM459.1 409.4h1.5v1.5h-1.5zM491.3 384.4h1.5v1.5h-1.5zM458.4 404.1h1.5v1.5h-1.5zM486.9 401.2h1.5v1.5h-1.5zM472.4 406.9h1.5v1.5h-1.5zM498.3 387h1.5v1.5h-1.5zM479.6 405.3h1.5v1.5h-1.5zM471.5 395.8h1.5v1.5h-1.5zM476.1 393.3h1.5v1.5h-1.5zM475.9 406.1h1.5v1.5h-1.5zM491.9 394.7h1.5v1.5h-1.5zM477.7 406.5h1.5v1.5h-1.5zM487.1 386.5h1.5v1.5h-1.5zM471.6 401.1h1.5v1.5h-1.5zM483.9 385.3h1.5v1.5h-1.5zM471 386.2h1.5v1.5h-1.5zM485.1 398.3h1.5v1.5h-1.5zM461.2 400.9h1.5v1.5h-1.5zM473.5 384.2h1.5v1.5h-1.5zM463.4 396.6h1.5v1.5h-1.5zM457.4 399.5h1.5v1.5h-1.5zM470.2 402.9h1.5v1.5h-1.5zM468.4 406.3h1.5v1.5h-1.5zM464.9 390.9h1.5v1.5h-1.5zM474.8 386.6h1.5v1.5h-1.5zM480.9 388.5h1.5v1.5h-1.5zM484 394.4h1.5v1.5h-1.5zM485.9 380.1h1.5v1.5h-1.5zM480 393.1h1.5v1.5h-1.5zM498.4 386.6h1.5v1.5h-1.5zM472.6 411.3h1.5v1.5h-1.5zM456.9 402h1.5v1.5h-1.5zM463.1 400.6h1.5v1.5h-1.5zM460.5 395.1h1.5v1.5h-1.5zM477.4 389h1.5v1.5h-1.5zM479.2 399.6h1.5v1.5h-1.5zM478.3 397.6h1.5v1.5h-1.5zM489.4 401.8h1.5v1.5h-1.5zM470.7 402.1h1.5v1.5h-1.5zM468.7 390.6h1.5v1.5h-1.5zM495.2 381.2h1.5v1.5h-1.5zM459.1 399.1h1.5v1.5h-1.5zM478 384h1.5v1.5h-1.5zM469.9 395.2h1.5v1.5h-1.5zM483 401.1h1.5v1.5h-1.5zM459.1 400.6h1.5v1.5h-1.5zM468.2 388.7h1.5v1.5h-1.5zM495.5 389.6h1.5v1.5h-1.5zM479.5 388.3h1.5v1.5h-1.5zM458.8 409.7h1.5v1.5h-1.5zM481.7 402.4h1.5v1.5h-1.5zM482.5 381.2h1.5v1.5h-1.5zM492.1 398.7h1.5v1.5h-1.5zM465.6 411.5h1.5v1.5h-1.5zM488 397.7h1.5v1.5h-1.5zM498.4 384.6h1.5v1.5h-1.5zM473 387.4h1.5v1.5h-1.5zM469.7 404.1h1.5v1.5h-1.5zM467.1 398.9h1.5v1.5h-1.5zM487.1 386.8h1.5v1.5h-1.5zM472 397.7h1.5v1.5h-1.5zM495.8 381.3h1.5v1.5h-1.5zM488.3 389h1.5v1.5h-1.5zM491.2 379.7h1.5v1.5h-1.5zM494.7 383.8h1.5v1.5h-1.5zM483 392.4h1.5v1.5h-1.5zM469.8 408.7h1.5v1.5h-1.5zM490.5 394h1.5v1.5h-1.5zM463.9 403.9h1.5v1.5h-1.5zM461.5 399.4h1.5v1.5h-1.5zM498.7 390.4h1.5v1.5h-1.5zM493.9 386.3h1.5v1.5h-1.5zM483.4 382.7h1.5v1.5h-1.5zM474.9 407.4h1.5v1.5h-1.5zM484.4 382.7h1.5v1.5h-1.5zM487.8 381.9h1.5v1.5h-1.5zM465.8 398.7h1.5v1.5h-1.5zM463.9 391.6h1.5v1.5h-1.5zM474.5 391.3h1.5v1.5h-1.5zM458.8 408.4h1.5v1.5h-1.5zM481.3 395.6h1.5v1.5h-1.5zM471.5 397.6h1.5v1.5h-1.5zM473.2 388.7h1.5v1.5h-1.5zM466.4 397.5h1.5v1.5h-1.5zM485.7 393.3h1.5v1.5h-1.5zM490.4 398.9h1.5v1.5h-1.5zM464.5 409.8h1.5v1.5h-1.5zM472.8 411.9h1.5v1.5h-1.5zM469.3 386.8h1.5v1.5h-1.5zM474.1 397.9h1.5v1.5h-1.5zM487.7 379.5h1.5v1.5h-1.5zM467.6 398.9h1.5v1.5h-1.5zM483.5 402.9h1.5v1.5h-1.5zM463.9 397h1.5v1.5h-1.5zM466.2 393h1.5v1.5h-1.5zM482.4 391.3h1.5v1.5h-1.5zM469.1 391.4h1.5v1.5h-1.5zM480.8 390.9h1.5v1.5h-1.5zM475.1 409.3h1.5v1.5h-1.5zM466 389.4h1.5v1.5h-1.5zM475.7 404.1h1.5v1.5h-1.5zM463.5 395.9h1.5v1.5h-1.5zM494.5 390.9h1.5v1.5h-1.5zM491.2 381.2h1.5v1.5h-1.5zM475.7 387.9h1.5v1.5h-1.5zM477.1 394.2h1.5v1.5h-1.5zM462.1 399.5h1.5v1.5h-1.5zM470.9 404.5h1.5v1.5h-1.5zM482.8 385.9h1.5v1.5h-1.5zM490.5 401.8h1.5v1.5h-1.5zM494.6 397.4h1.5v1.5h-1.5zM489.8 401.9h1.5v1.5h-1.5zM496.4 383.8h1.5v1.5h-1.5zM482.2 403.9h1.5v1.5h-1.5zM482.8 401.8h1.5v1.5h-1.5zM483.7 382.7h1.5v1.5h-1.5zM473.3 398.2h1.5v1.5h-1.5zM492.6 395.7h1.5v1.5h-1.5zM482 395.7h1.5v1.5h-1.5zM480.6 390.3h1.5v1.5h-1.5zM466.8 388.1h1.5v1.5h-1.5zM474.2 404.6h1.5v1.5h-1.5zM484.2 399.2h1.5v1.5h-1.5zM477 400.5h1.5v1.5h-1.5zM481.4 384.6h1.5v1.5h-1.5zM463.1 392.6h1.5v1.5h-1.5zM486.1 394h1.5v1.5h-1.5zM462.4 401.1h1.5v1.5h-1.5zM484.9 391.4h1.5v1.5h-1.5zM474.9 385.4h1.5v1.5h-1.5zM474.4 405.4h1.5v1.5h-1.5zM474.6 405.9h1.5v1.5h-1.5zM472.7 386.6h1.5v1.5h-1.5zM483.8 389.5h1.5v1.5h-1.5zM484.4 388.8h1.5v1.5h-1.5zM490 385.3h1.5v1.5h-1.5zM488.2 403h1.5v1.5h-1.5zM488.5 394.9h1.5v1.5h-1.5zM485.6 379.4h1.5v1.5h-1.5zM469.5 400.3h1.5v1.5h-1.5zM492.4 397.8h1.5v1.5h-1.5zM459.7 397.9h1.5v1.5h-1.5zM475.5 397.1h1.5v1.5h-1.5zM473.2 401h1.5v1.5h-1.5zM460.8 405.7h1.5v1.5h-1.5zM484.4 391.1h1.5v1.5h-1.5zM461.3 409.2h1.5v1.5h-1.5zM469.5 412.7h1.5v1.5h-1.5zM471.6 386.6h1.5v1.5h-1.5zM470.3 390.9h1.5v1.5h-1.5zM477.9 384.2h1.5v1.5h-1.5zM480.5 399h1.5v1.5h-1.5zM498.6 391.8h1.5v1.5h-1.5zM481.9 385.6h1.5v1.5h-1.5zM481.8 382.6h1.5v1.5h-1.5zM471.6 404.9h1.5v1.5h-1.5zM475.9 407.7h1.5v1.5h-1.5zM493.1 398.9h1.5v1.5h-1.5zM492.2 385.1h1.5v1.5h-1.5zM462.3 394h1.5v1.5h-1.5zM494.1 396h1.5v1.5h-1.5zM484.6 405h1.5v1.5h-1.5zM463.5 396.4h1.5v1.5h-1.5zM495.4 394.3h1.5v1.5h-1.5zM486.5 395.9h1.5v1.5h-1.5zM464.5 395.4h1.5v1.5h-1.5zM470.6 384.7h1.5v1.5h-1.5zM477.6 384.7h1.5v1.5h-1.5zM473.4 404.5h1.5v1.5h-1.5zM485.9 395.8h1.5v1.5h-1.5zM492.8 389.1h1.5v1.5h-1.5zM482.4 401.6h1.5v1.5h-1.5zM480.3 407.4h1.5v1.5h-1.5zM465 409.5h1.5v1.5h-1.5zM461.1 410.7h1.5v1.5h-1.5zM481.9 406.2h1.5v1.5h-1.5zM475.3 383.6h1.5v1.5h-1.5zM459.6 395.5h1.5v1.5h-1.5zM473.8 408.5h1.5v1.5h-1.5zM480.6 391.2h1.5v1.5h-1.5zM459.6 404.1h1.5v1.5h-1.5zM484 395.8h1.5v1.5h-1.5zM460.3 399.7h1.5v1.5h-1.5zM463.5 409.2h1.5v1.5h-1.5zM468.5 396.3h1.5v1.5h-1.5zM493.6 387.7h1.5v1.5h-1.5zM464 403.6h1.5v1.5h-1.5zM469.5 410.3h1.5v1.5h-1.5zM468.7 408.9h1.5v1.5h-1.5zM460 406.1h1.5v1.5h-1.5zM459.2 408.7h1.5v1.5h-1.5zM479.6 386.8h1.5v1.5h-1.5zM482.4 396h1.5v1.5h-1.5zM486.4 385.1h1.5v1.5h-1.5zM484.5 391.2h1.5v1.5h-1.5zM465.9 396.4h1.5v1.5h-1.5zM472.7 410.8h1.5v1.5h-1.5zM470.1 387.1h1.5v1.5h-1.5zM484.3 392.3h1.5v1.5h-1.5zM470.5 392.3h1.5v1.5h-1.5zM464 399.1h1.5v1.5h-1.5zM466.1 394.3h1.5v1.5h-1.5zM479.7 382h1.5v1.5h-1.5zM482.1 384.3h1.5v1.5h-1.5zM478.7 384h1.5v1.5h-1.5zM483.3 398.2h1.5v1.5h-1.5zM469.2 409.8h1.5v1.5h-1.5zM490.2 402.5h1.5v1.5h-1.5zM462.7 398.1h1.5v1.5h-1.5zM459.2 410.2h1.5v1.5h-1.5zM480.6 396.3h1.5v1.5h-1.5zM480.6 386.1h1.5v1.5h-1.5zM497.3 390.1h1.5v1.5h-1.5zM493 383.3h1.5v1.5h-1.5zM486.3 390.7h1.5v1.5h-1.5zM468 404.2h1.5v1.5h-1.5zM487.5 398.4h1.5v1.5h-1.5zM481.9 389.2h1.5v1.5h-1.5zM466.1 411.5h1.5v1.5h-1.5zM474 395.7h1.5v1.5h-1.5zM472.9 397.8h1.5v1.5h-1.5zM479.5 384.3h1.5v1.5h-1.5zM471.4 386.4h1.5v1.5h-1.5zM479 389h1.5v1.5h-1.5zM469.3 392.4h1.5v1.5h-1.5zM459.4 407.3h1.5v1.5h-1.5zM472.8 394.5h1.5v1.5h-1.5zM492.7 395.3h1.5v1.5h-1.5zM478.3 388.7h1.5v1.5h-1.5zM476.6 391.7h1.5v1.5h-1.5zM496.3 387.8h1.5v1.5h-1.5zM495.4 387.4h1.5v1.5h-1.5zM486.4 380.4h1.5v1.5h-1.5zM477.3 408h1.5v1.5h-1.5zM491.3 400.9h1.5v1.5h-1.5zM471.9 411.5h1.5v1.5h-1.5zM461.4 403.4h1.5v1.5h-1.5zM463.6 394.2h1.5v1.5h-1.5zM480.3 409.3h1.5v1.5h-1.5zM467.2 402.6h1.5v1.5h-1.5zM464.1 390.8h1.5v1.5h-1.5zM481.9 407.7h1.5v1.5h-1.5zM487.9 379.6h1.5v1.5h-1.5zM474 392.3h1.5v1.5h-1.5zM492.3 383.4h1.5v1.5h-1.5zM460.2 400h1.5v1.5h-1.5zM478.2 400.7h1.5v1.5h-1.5zM494.3 398.5h1.5v1.5h-1.5zM495 383.5h1.5v1.5h-1.5zM476.6 407h1.5v1.5h-1.5zM479.2 402.8h1.5v1.5h-1.5zM474.1 390.7h1.5v1.5h-1.5zM495.6 385.3h1.5v1.5h-1.5zM466.2 409.5h1.5v1.5h-1.5zM476.5 405h1.5v1.5h-1.5zM494.1 383.3h1.5v1.5h-1.5zM478.8 404.8h1.5v1.5h-1.5zM457.4 408.2h1.5v1.5h-1.5zM491.5 390.1h1.5v1.5h-1.5zM466.7 405.9h1.5v1.5h-1.5zM496.9 391.2h1.5v1.5h-1.5zM473.8 397.9h1.5v1.5h-1.5zM479.7 390.6h1.5v1.5h-1.5zM473.3 393.1h1.5v1.5h-1.5zM494.1 396h1.5v1.5h-1.5zM480.8 381.7h1.5v1.5h-1.5zM483.7 390.4h1.5v1.5h-1.5zM477.4 399.5h1.5v1.5h-1.5zM489.6 394.8h1.5v1.5h-1.5zM489.9 401.5h1.5v1.5h-1.5zM485.7 392.2h1.5v1.5h-1.5zM489.8 386.6h1.5v1.5h-1.5zM483 408.5h1.5v1.5h-1.5zM469.6 405.3h1.5v1.5h-1.5zM470.5 398.5h1.5v1.5h-1.5zM476.6 382.5h1.5v1.5h-1.5zM483.9 380.5h1.5v1.5h-1.5zM482.8 389h1.5v1.5h-1.5zM463.8 399.3h1.5v1.5h-1.5zM490.6 395.6h1.5v1.5h-1.5zM487.8 390.9h1.5v1.5h-1.5zM479.7 406.6h1.5v1.5h-1.5zM478.4 381.2h1.5v1.5h-1.5zM481.5 407.5h1.5v1.5h-1.5zM485.9 402.2h1.5v1.5h-1.5zM467.7 387.7h1.5v1.5h-1.5zM473.6 394.1h1.5v1.5h-1.5zM466.1 411.2h1.5v1.5h-1.5zM494.4 391.2h1.5v1.5h-1.5zM476.2 399.3h1.5v1.5h-1.5zM491 397.7h1.5v1.5h-1.5zM458.1 403.9h1.5v1.5h-1.5zM484.1 387.2h1.5v1.5h-1.5zM476.7 385h1.5v1.5h-1.5zM491.5 392.4h1.5v1.5h-1.5zM490.5 398.2h1.5v1.5h-1.5zM473.9 406h1.5v1.5h-1.5zM498.7 384h1.5v1.5h-1.5zM470.3 403h1.5v1.5h-1.5zM479.2 385.9h1.5v1.5h-1.5zM458.5 406.1h1.5v1.5h-1.5zM497.2 394.9h1.5v1.5h-1.5zM489.2 383.1h1.5v1.5h-1.5zM497.6 389.6h1.5v1.5h-1.5zM485.3 388.8h1.5v1.5h-1.5zM488.2 397.5h1.5v1.5h-1.5zM490.3 403.3h1.5v1.5h-1.5zM479.3 403.8h1.5v1.5h-1.5zM484.7 397.7h1.5v1.5h-1.5zM484.7 387.7h1.5v1.5h-1.5zM465.6 394.3h1.5v1.5h-1.5zM483.1 387.4h1.5v1.5h-1.5zM469.7 411.1h1.5v1.5h-1.5zM485.8 395.1h1.5v1.5h-1.5zM482.4 387.2h1.5v1.5h-1.5zM485.7 393.7h1.5v1.5h-1.5zM463.3 411.6h1.5v1.5h-1.5zM461.5 405.7h1.5v1.5h-1.5zM494.3 391.7h1.5v1.5h-1.5zM462.1 410.7h1.5v1.5h-1.5zM471.1 400.1h1.5v1.5h-1.5zM465.2 398h1.5v1.5h-1.5zM492.1 402.2h1.5v1.5h-1.5zM464.7 397.4h1.5v1.5h-1.5zM465.4 400.6h1.5v1.5h-1.5zM479.5 387.6h1.5v1.5h-1.5zM489.3 394.8h1.5v1.5h-1.5zM487.1 385.4h1.5v1.5h-1.5zM477.2 405.1h1.5v1.5h-1.5zM476.2 410.7h1.5v1.5h-1.5zM488.8 390.8h1.5v1.5h-1.5zM475.5 395.1h1.5v1.5h-1.5zM471.3 410.3h1.5v1.5h-1.5zM467.8 412.9h1.5v1.5h-1.5zM479.3 388.2h1.5v1.5h-1.5zM477.9 409.5h1.5v1.5h-1.5zM466.8 410.4h1.5v1.5h-1.5zM459.4 408h1.5v1.5h-1.5zM464 407.6h1.5v1.5h-1.5zM498.3 389.1h1.5v1.5h-1.5zM463.7 407.1h1.5v1.5h-1.5zM462.4 394h1.5v1.5h-1.5zM479.1 400.6h1.5v1.5h-1.5zM470.7 385.6h1.5v1.5h-1.5zM470.6 402h1.5v1.5h-1.5zM469.5 389.4h1.5v1.5h-1.5zM464.7 401.7h1.5v1.5h-1.5zM487.3 381.1h1.5v1.5h-1.5zM480.1 398.5h1.5v1.5h-1.5zM491.4 394.8h1.5v1.5h-1.5zM477.5 383.2h1.5v1.5h-1.5zM496.1 396.3h1.5v1.5h-1.5zM464.9 411.4h1.5v1.5h-1.5zM472.7 389.6h1.5v1.5h-1.5zM478.3 389.9h1.5v1.5h-1.5zM456.4 402.2h1.5v1.5h-1.5zM489.9 386.5h1.5v1.5h-1.5zM463.7 402h1.5v1.5h-1.5zM463.2 391.1h1.5v1.5h-1.5zM467.3 390.2h1.5v1.5h-1.5zM479.4 394h1.5v1.5h-1.5zM485.7 406.3h1.5v1.5h-1.5zM475.4 394.6h1.5v1.5h-1.5zM475.9 399.5h1.5v1.5h-1.5zM492.7 398.5h1.5v1.5h-1.5zM465.5 388.7h1.5v1.5h-1.5zM496.2 393.8h1.5v1.5h-1.5zM473.9 399.8h1.5v1.5h-1.5zM465.8 403h1.5v1.5h-1.5zM465.7 393.2h1.5v1.5h-1.5zM492.6 386.2h1.5v1.5h-1.5zM484.5 386.9h1.5v1.5h-1.5zM483.5 401.1h1.5v1.5h-1.5zM466.9 387.8h1.5v1.5h-1.5zM468.7 397.1h1.5v1.5h-1.5zM480.8 393.2h1.5v1.5h-1.5zM482.1 386h1.5v1.5h-1.5zM480.2 391.3h1.5v1.5h-1.5zM480.5 394.2h1.5v1.5h-1.5zM474.2 401.6h1.5v1.5h-1.5zM491 399.1h1.5v1.5h-1.5zM490.5 384.6h1.5v1.5h-1.5zM460.2 409.1h1.5v1.5h-1.5zM483 384.6h1.5v1.5h-1.5zM469.6 405.8h1.5v1.5h-1.5zM477.4 406.2h1.5v1.5h-1.5zM482.1 395.4h1.5v1.5h-1.5zM489.8 386.8h1.5v1.5h-1.5zM478.1 404.2h1.5v1.5h-1.5zM499.3 390.7h1.5v1.5h-1.5zM474.5 396.4h1.5v1.5h-1.5zM476 395.4h1.5v1.5h-1.5zM477.5 400.1h1.5v1.5h-1.5zM492.6 381.9h1.5v1.5h-1.5zM475 408.6h1.5v1.5h-1.5zM490.4 383.8h1.5v1.5h-1.5zM488.3 386.8h1.5v1.5h-1.5zM492.8 386.3h1.5v1.5h-1.5zM495.9 394.1h1.5v1.5h-1.5zM479.8 392.8h1.5v1.5h-1.5zM477.2 400.6h1.5v1.5h-1.5zM470.1 409.4h1.5v1.5h-1.5zM469.3 407.7h1.5v1.5h-1.5zM473.4 403h1.5v1.5h-1.5zM469.7 412.4h1.5v1.5h-1.5zM477.5 401h1.5v1.5h-1.5zM459.4 398.6h1.5v1.5h-1.5zM481.5 402h1.5v1.5h-1.5zM479 406.6h1.5v1.5h-1.5zM480.3 392.6h1.5v1.5h-1.5zM488.5 400.4h1.5v1.5h-1.5zM468.3 404.5h1.5v1.5h-1.5zM478.6 402h1.5v1.5h-1.5zM471.1 401h1.5v1.5h-1.5zM470.6 407.6h1.5v1.5h-1.5zM480.9 397.7h1.5v1.5h-1.5zM471.2 387.3h1.5v1.5h-1.5zM470.3 395.8h1.5v1.5h-1.5zM483.8 394.3h1.5v1.5h-1.5zM491.8 390h1.5v1.5h-1.5zM472.1 386.8h1.5v1.5h-1.5zM460.7 396.6h1.5v1.5h-1.5zM480 404.6h1.5v1.5h-1.5zM471.9 399.4h1.5v1.5h-1.5zM473.5 407.9h1.5v1.5h-1.5zM473.4 405.2h1.5v1.5h-1.5zM460.3 405.2h1.5v1.5h-1.5zM495.8 394.7h1.5v1.5h-1.5zM469.1 399.5h1.5v1.5h-1.5zM498 388h1.5v1.5h-1.5zM485 382h1.5v1.5h-1.5zM495.6 385.9h1.5v1.5h-1.5zM462.8 400.6h1.5v1.5h-1.5zM462.8 412h1.5v1.5h-1.5zM472.3 409.1h1.5v1.5h-1.5zM483.6 389.2h1.5v1.5h-1.5zM477.4 401.6h1.5v1.5h-1.5zM473.3 400.6h1.5v1.5h-1.5zM462.2 407.1h1.5v1.5h-1.5zM496.1 381.2h1.5v1.5h-1.5zM461.6 393h1.5v1.5h-1.5zM469.6 403.3h1.5v1.5h-1.5zM473.4 395.6h1.5v1.5h-1.5zM495.5 381.4h1.5v1.5h-1.5zM483.4 387.2h1.5v1.5h-1.5zM486.2 389.4h1.5v1.5h-1.5zM485 406.4h1.5v1.5h-1.5zM465.6 408.2h1.5v1.5h-1.5zM477 410h1.5v1.5h-1.5zM491 381.6h1.5v1.5h-1.5zM485 385.2h1.5v1.5h-1.5zM483.3 402.3h1.5v1.5h-1.5zM466.8 408.8h1.5v1.5h-1.5zM474.2 408.9h1.5v1.5h-1.5zM496.8 387.2h1.5v1.5h-1.5zM487.7 392h1.5v1.5h-1.5zM474.9 395.5h1.5v1.5h-1.5zM486.4 390.8h1.5v1.5h-1.5zM485.6 398.1h1.5v1.5h-1.5zM485.1 401.8h1.5v1.5h-1.5zM469.2 402.8h1.5v1.5h-1.5zM488.2 390.3h1.5v1.5h-1.5zM481.3 391.1h1.5v1.5h-1.5zM466 405h1.5v1.5h-1.5zM456.8 404.2h1.5v1.5h-1.5zM470.7 412.4h1.5v1.5h-1.5zM460.5 409.5h1.5v1.5h-1.5zM490.6 393.3h1.5v1.5h-1.5zM462.4 406.2h1.5v1.5h-1.5zM479.5 399.4h1.5v1.5h-1.5zM479.9 408.8h1.5v1.5h-1.5zM476 390.7h1.5v1.5h-1.5zM496.9 396.2h1.5v1.5h-1.5zM483 390.4h1.5v1.5h-1.5zM462.3 403.4h1.5v1.5h-1.5zM477.3 388.5h1.5v1.5h-1.5zM480.9 392.7h1.5v1.5h-1.5zM484.8 399.4h1.5v1.5h-1.5zM489.9 382.2h1.5v1.5h-1.5zM482.1 398.5h1.5v1.5h-1.5zM467 389.6h1.5v1.5h-1.5zM490.6 398.1h1.5v1.5h-1.5zM468.2 389.4h1.5v1.5h-1.5zM487.7 405h1.5v1.5h-1.5zM495.7 386.5h1.5v1.5h-1.5zM468.3 408.3h1.5v1.5h-1.5zM494.4 388.3h1.5v1.5h-1.5zM485 400.2h1.5v1.5h-1.5zM464.1 410.9h1.5v1.5h-1.5zM488.6 403.9h1.5v1.5h-1.5zM481.4 405.9h1.5v1.5h-1.5zM497.7 393h1.5v1.5h-1.5zM466.6 403.7h1.5v1.5h-1.5zM484.9 403.4h1.5v1.5h-1.5zM487.9 382.8h1.5v1.5h-1.5zM476.9 382.2h1.5v1.5h-1.5zM468.8 391.6h1.5v1.5h-1.5zM490.1 383.9h1.5v1.5h-1.5zM481.9 384.3h1.5v1.5h-1.5zM481.5 390.6h1.5v1.5h-1.5zM483.9 392.1h1.5v1.5h-1.5zM497.3 389.4h1.5v1.5h-1.5zM491.9 393.6h1.5v1.5h-1.5zM459.5 405.1h1.5v1.5h-1.5zM485.3 387.1h1.5v1.5h-1.5zM471.1 402.1h1.5v1.5h-1.5zM465.8 406.1h1.5v1.5h-1.5zM467.7 403.2h1.5v1.5h-1.5zM477.5 389.8h1.5v1.5h-1.5zM479.3 382.2h1.5v1.5h-1.5zM472.1 412.3h1.5v1.5h-1.5zM496.3 381.7h1.5v1.5h-1.5zM482.7 388.6h1.5v1.5h-1.5zM495.6 392.5h1.5v1.5h-1.5zM484.2 397.4h1.5v1.5h-1.5zM484.7 382.3h1.5v1.5h-1.5zM484.6 391.9h1.5v1.5h-1.5zM489.5 382.3h1.5v1.5h-1.5zM465.2 407.3h1.5v1.5h-1.5zM467.2 399.2h1.5v1.5h-1.5zM485.4 406.3h1.5v1.5h-1.5zM477.7 400.2h1.5v1.5h-1.5zM461.1 404.7h1.5v1.5h-1.5zM492.4 381.1h1.5v1.5h-1.5zM489.5 384h1.5v1.5h-1.5zM471.6 394.7h1.5v1.5h-1.5zM474.2 411.8h1.5v1.5h-1.5zM465.5 412.2h1.5v1.5h-1.5zM477.8 393.2h1.5v1.5h-1.5zM487.7 396.1h1.5v1.5h-1.5zM472.6 394.3h1.5v1.5h-1.5zM465.7 402.8h1.5v1.5h-1.5zM468.2 403.8h1.5v1.5h-1.5zM497.7 387.4h1.5v1.5h-1.5zM484.7 389.2h1.5v1.5h-1.5zM465.2 401.9h1.5v1.5h-1.5zM480.2 393.1h1.5v1.5h-1.5zM490 401.3h1.5v1.5h-1.5zM468.6 400.4h1.5v1.5h-1.5zM477.3 406.6h1.5v1.5h-1.5zM459.3 398.5h1.5v1.5h-1.5zM460.4 406.2h1.5v1.5h-1.5zM491.1 400.6h1.5v1.5h-1.5zM482.6 386.8h1.5v1.5h-1.5zM496.5 393.1h1.5v1.5h-1.5zM475.2 408.6h1.5v1.5h-1.5zM493.2 386.9h1.5v1.5h-1.5zM489.3 379.6h1.5v1.5h-1.5zM470.1 401.3h1.5v1.5h-1.5zM477.2 411.1h1.5v1.5h-1.5zM469.3 407.8h1.5v1.5h-1.5zM464.4 393.4h1.5v1.5h-1.5zM496.8 395.3h1.5v1.5h-1.5zM473.9 405.5h1.5v1.5h-1.5zM476.5 390.9h1.5v1.5h-1.5zM496.6 390.3h1.5v1.5h-1.5zM461.4 410.6h1.5v1.5h-1.5zM495.1 388.6h1.5v1.5h-1.5zM495.9 393.2h1.5v1.5h-1.5zM473.3 407.5h1.5v1.5h-1.5zM461.9 397.2h1.5v1.5h-1.5zM485.6 399.6h1.5v1.5h-1.5zM492.5 381h1.5v1.5h-1.5zM465.7 398.9h1.5v1.5h-1.5zM488.5 379.8h1.5v1.5h-1.5zM493.8 400.2h1.5v1.5h-1.5zM496.7 391.7h1.5v1.5h-1.5zM487.8 393.8h1.5v1.5h-1.5zM464.7 409.8h1.5v1.5h-1.5zM488 404.8h1.5v1.5h-1.5zM491.1 390.3h1.5v1.5h-1.5zM456.4 404.8h1.5v1.5h-1.5zM490.5 381.6h1.5v1.5h-1.5zM470.7 406.7h1.5v1.5h-1.5zM485 394.4h1.5v1.5h-1.5zM483.1 379.7h1.5v1.5h-1.5zM466.5 411.7h1.5v1.5h-1.5zM469.3 396.2h1.5v1.5h-1.5zM481.1 394.3h1.5v1.5h-1.5zM498.8 385.6h1.5v1.5h-1.5zM481.9 392.2h1.5v1.5h-1.5zM494.9 394.4h1.5v1.5h-1.5zM461.4 396h1.5v1.5h-1.5zM474.5 397.6h1.5v1.5h-1.5zM483.5 382.6h1.5v1.5h-1.5zM473.4 390.4h1.5v1.5h-1.5zM492.8 385.9h1.5v1.5h-1.5zM491.4 398.4h1.5v1.5h-1.5zM471.5 397.8h1.5v1.5h-1.5zM484.1 381.2h1.5v1.5h-1.5zM494.5 388h1.5v1.5h-1.5zM462.9 408.4h1.5v1.5h-1.5zM470.2 402.3h1.5v1.5h-1.5zM478.2 398.6h1.5v1.5h-1.5zM495.8 381.9h1.5v1.5h-1.5zM482.3 400.5h1.5v1.5h-1.5zM480.6 388.5h1.5v1.5h-1.5zM465.2 409.9h1.5v1.5h-1.5zM474.8 400.6h1.5v1.5h-1.5zM490.4 402.6h1.5v1.5h-1.5zM478.9 406.5h1.5v1.5h-1.5zM467.7 395.1h1.5v1.5h-1.5zM477.3 397.7h1.5v1.5h-1.5zM491.6 388h1.5v1.5h-1.5zM489.8 386h1.5v1.5h-1.5zM471.1 407.1h1.5v1.5h-1.5zM484.5 399.9h1.5v1.5h-1.5zM490.9 383.8h1.5v1.5h-1.5zM473.9 405.2h1.5v1.5h-1.5zM463.7 406.4h1.5v1.5h-1.5zM491.5 383.8h1.5v1.5h-1.5zM468.1 400.1h1.5v1.5h-1.5zM470.1 401.5h1.5v1.5h-1.5zM489.3 401.8h1.5v1.5h-1.5zM476.1 395.8h1.5v1.5h-1.5zM471.1 390h1.5v1.5h-1.5zM475.7 383.5h1.5v1.5h-1.5zM491.7 387.3h1.5v1.5h-1.5zM481.1 406h1.5v1.5h-1.5zM491.6 398.8h1.5v1.5h-1.5zM462.5 405.3h1.5v1.5h-1.5zM459.2 407.6h1.5v1.5h-1.5zM483.8 396.3h1.5v1.5h-1.5zM484.3 395.4h1.5v1.5h-1.5zM481.5 400.8h1.5v1.5h-1.5zM458.8 409.5h1.5v1.5h-1.5zM473.3 396.3h1.5v1.5h-1.5zM488.7 394.1h1.5v1.5h-1.5zM498.7 386.5h1.5v1.5h-1.5zM473.9 404.9h1.5v1.5h-1.5zM474.8 403.3h1.5v1.5h-1.5zM491.1 381.1h1.5v1.5h-1.5zM495.6 389.9h1.5v1.5h-1.5zM465.6 394.5h1.5v1.5h-1.5zM474.6 407.6h1.5v1.5h-1.5zM472.4 412.2h1.5v1.5h-1.5zM489.7 391.4h1.5v1.5h-1.5zM466.2 412.3h1.5v1.5h-1.5zM491.7 389.5h1.5v1.5h-1.5zM496.7 388.4h1.5v1.5h-1.5zM489 401.9h1.5v1.5h-1.5zM483.6 386.5h1.5v1.5h-1.5zM485.1 385.9h1.5v1.5h-1.5zM494.1 387.7h1.5v1.5h-1.5zM472 403.3h1.5v1.5h-1.5zM478.2 398.6h1.5v1.5h-1.5zM489.6 393.8h1.5v1.5h-1.5zM477.8 396.3h1.5v1.5h-1.5zM482.7 402.5h1.5v1.5h-1.5zM465.9 407.6h1.5v1.5h-1.5zM465.2 400.2h1.5v1.5h-1.5zM464 410.8h1.5v1.5h-1.5zM480.6 393.5h1.5v1.5h-1.5zM478 381.4h1.5v1.5h-1.5zM490.7 396.5h1.5v1.5h-1.5zM466.3 389.4h1.5v1.5h-1.5zM491.1 400.7h1.5v1.5h-1.5zM478.4 386h1.5v1.5h-1.5zM464.3 395.7h1.5v1.5h-1.5zM488.5 404.9h1.5v1.5h-1.5zM487.7 395.9h1.5v1.5h-1.5zM490.9 402.8h1.5v1.5h-1.5zM479.3 387.6h1.5v1.5h-1.5zM470.1 401.5h1.5v1.5h-1.5zM488.8 392.5h1.5v1.5h-1.5zM488.6 390.5h1.5v1.5h-1.5zM469.9 390.6h1.5v1.5h-1.5zM476.2 410h1.5v1.5h-1.5zM463.7 399.4h1.5v1.5h-1.5zM477.6 388.3h1.5v1.5h-1.5zM469.4 408.9h1.5v1.5h-1.5zM464.4 392.5h1.5v1.5h-1.5zM475 394.1h1.5v1.5h-1.5zM467 402h1.5v1.5h-1.5zM483.8 399.2h1.5v1.5h-1.5zM481.5 387.5h1.5v1.5h-1.5zM496.1 393h1.5v1.5h-1.5zM469.7 405.4h1.5v1.5h-1.5zM490 386h1.5v1.5h-1.5zM468.9 412.6h1.5v1.5h-1.5zM465.2 399h1.5v1.5h-1.5zM469.7 399.3h1.5v1.5h-1.5zM490.1 396.3h1.5v1.5h-1.5zM457.6 408.3h1.5v1.5h-1.5zM469.4 406.3h1.5v1.5h-1.5zM481.5 393.6h1.5v1.5h-1.5zM459.4 409.6h1.5v1.5h-1.5zM478.1 400.8h1.5v1.5h-1.5zM477.4 404.1h1.5v1.5h-1.5zM465.8 398.2h1.5v1.5h-1.5zM478.2 392.3h1.5v1.5h-1.5zM458.9 397.1h1.5v1.5h-1.5zM482.1 381.3h1.5v1.5h-1.5zM467 401.8h1.5v1.5h-1.5zM494.1 383.9h1.5v1.5h-1.5zM483.2 386.8h1.5v1.5h-1.5zM481.1 386.5h1.5v1.5h-1.5zM478.8 401.3h1.5v1.5h-1.5zM464.8 394.6h1.5v1.5h-1.5zM466.8 403.2h1.5v1.5h-1.5zM478.8 393.1h1.5v1.5h-1.5zM478.1 390.5h1.5v1.5h-1.5zM470.7 390.2h1.5v1.5h-1.5zM466.4 410h1.5v1.5h-1.5zM464.6 401.7h1.5v1.5h-1.5zM474.6 409.6h1.5v1.5h-1.5zM475.1 391.9h1.5v1.5h-1.5zM486.9 390.5h1.5v1.5h-1.5zM452.6 427.2h1.5v1.5h-1.5zM461.1 425.5h1.5v1.5h-1.5zM473 423.4h1.5v1.5h-1.5zM483.6 417.2h1.5v1.5h-1.5zM456.7 406.1h1.5v1.5h-1.5zM464.3 433.5h1.5v1.5h-1.5zM450.8 407h1.5v1.5h-1.5zM472.7 415.8h1.5v1.5h-1.5zM473.4 420.2h1.5v1.5h-1.5zM464.6 414.4h1.5v1.5h-1.5zM464.9 420.2h1.5v1.5h-1.5zM462.8 394.3h1.5v1.5h-1.5zM467.5 424.4h1.5v1.5h-1.5zM474.5 397.3h1.5v1.5h-1.5zM437.6 427.7h1.5v1.5h-1.5zM450.3 423.9h1.5v1.5h-1.5zM458.1 424.8h1.5v1.5h-1.5zM422 439.1h1.5v1.5h-1.5zM468.2 435.9h1.5v1.5h-1.5zM454.1 401.8h1.5v1.5h-1.5zM472.3 406.2h1.5v1.5h-1.5zM475.8 401.8h1.5v1.5h-1.5zM474 426.5h1.5v1.5h-1.5zM456.1 406.3h1.5v1.5h-1.5zM489.7 402.5h1.5v1.5h-1.5zM464 387.7h1.5v1.5h-1.5zM491.9 406.1h1.5v1.5h-1.5zM479.3 427.3h1.5v1.5h-1.5zM446.7 419.4h1.5v1.5h-1.5zM451.6 438h1.5v1.5h-1.5zM472.7 437.2h1.5v1.5h-1.5zM463.1 423.3h1.5v1.5h-1.5zM443.7 426.9h1.5v1.5h-1.5zM463.5 427.3h1.5v1.5h-1.5zM474.9 407.5h1.5v1.5h-1.5zM461.8 401.3h1.5v1.5h-1.5zM480.2 404.9h1.5v1.5h-1.5zM454.3 410.8h1.5v1.5h-1.5zM476.2 427.3h1.5v1.5h-1.5zM460.8 417.6h1.5v1.5h-1.5zM474.3 414.2h1.5v1.5h-1.5zM460.3 431.2h1.5v1.5h-1.5zM448.9 414.2h1.5v1.5h-1.5zM473.2 436.1h1.5v1.5h-1.5zM486.1 415.8h1.5v1.5h-1.5zM458.9 426.6h1.5v1.5h-1.5zM469 411.8h1.5v1.5h-1.5zM447.4 423.8h1.5v1.5h-1.5zM462.7 457.2h1.5v1.5h-1.5zM462.2 410.5h1.5v1.5h-1.5zM462.8 407.3h1.5v1.5h-1.5zM449.4 419.9h1.5v1.5h-1.5zM478.5 413.7h1.5v1.5h-1.5zM465.7 424.2h1.5v1.5h-1.5zM448.1 445.4h1.5v1.5h-1.5zM466.5 403.8h1.5v1.5h-1.5zM452.1 456.9h1.5v1.5h-1.5zM460.6 416.8h1.5v1.5h-1.5zM446.5 431.2h1.5v1.5h-1.5zM478.5 388.8h1.5v1.5h-1.5zM479.8 429.6h1.5v1.5h-1.5zM442.1 408.4h1.5v1.5h-1.5zM439.6 444.2h1.5v1.5h-1.5zM458 413.8h1.5v1.5h-1.5zM464.7 393.1h1.5v1.5h-1.5zM473 431.3h1.5v1.5h-1.5zM471.4 420.8h1.5v1.5h-1.5zM456.7 423.2h1.5v1.5h-1.5zM476.3 420.9h1.5v1.5h-1.5zM457.7 406.9h1.5v1.5h-1.5zM461.9 432.6h1.5v1.5h-1.5zM475.3 426.4h1.5v1.5h-1.5zM451.1 429.5h1.5v1.5h-1.5zM457.9 437h1.5v1.5h-1.5zM458.8 420.7h1.5v1.5h-1.5zM480.1 411.1h1.5v1.5h-1.5zM468.1 432.3h1.5v1.5h-1.5zM476.1 425.7h1.5v1.5h-1.5zM470.4 424.5h1.5v1.5h-1.5zM507.1 409.7h1.5v1.5h-1.5zM466.3 433.1h1.5v1.5h-1.5zM471.8 436h1.5v1.5h-1.5zM464.7 408.2h1.5v1.5h-1.5zM478.4 408.6h1.5v1.5h-1.5zM457 417.6h1.5v1.5h-1.5zM464.4 411.2h1.5v1.5h-1.5zM471.3 404.8h1.5v1.5h-1.5zM461.1 404.1h1.5v1.5h-1.5zM486.5 424.9h1.5v1.5h-1.5zM437.9 404.2h1.5v1.5h-1.5zM473.8 438.6h1.5v1.5h-1.5zM434.2 425.1h1.5v1.5h-1.5zM455.4 426.2h1.5v1.5h-1.5zM495.9 382.9h1.5v1.5h-1.5zM464.4 422.4h1.5v1.5h-1.5zM469.1 416.7h1.5v1.5h-1.5zM461.8 419.5h1.5v1.5h-1.5zM494 429.1h1.5v1.5h-1.5zM461.8 442.7h1.5v1.5h-1.5zM464.2 425.6h1.5v1.5h-1.5zM464.9 425.1h1.5v1.5h-1.5zM507.1 388.1h1.5v1.5h-1.5zM466.6 422.5h1.5v1.5h-1.5zM462.7 441.9h1.5v1.5h-1.5zM488.2 440.3h1.5v1.5h-1.5zM459.2 422.6h1.5v1.5h-1.5zM452.8 406.1h1.5v1.5h-1.5zM466.1 410.3h1.5v1.5h-1.5zM474 436.6h1.5v1.5h-1.5zM457.8 413.7h1.5v1.5h-1.5zM459 426h1.5v1.5h-1.5zM477 397.1h1.5v1.5h-1.5zM462.5 417.9h1.5v1.5h-1.5zM480.1 441h1.5v1.5h-1.5zM435.8 451.2h1.5v1.5h-1.5zM468 418.8h1.5v1.5h-1.5zM497.6 396.3h1.5v1.5h-1.5zM473.5 409.8h1.5v1.5h-1.5zM462.5 407.1h1.5v1.5h-1.5zM462.9 416.6h1.5v1.5h-1.5zM480.9 438.3h1.5v1.5h-1.5zM467.9 426.2h1.5v1.5h-1.5zM473.7 431.8h1.5v1.5h-1.5zM467.3 434.7h1.5v1.5h-1.5zM450.8 440.5h1.5v1.5h-1.5zM463.8 402.3h1.5v1.5h-1.5zM479 421h1.5v1.5h-1.5zM480.9 424.9h1.5v1.5h-1.5zM435.2 420.7h1.5v1.5h-1.5zM475.9 408.9h1.5v1.5h-1.5zM468.1 434.3h1.5v1.5h-1.5zM467.7 417h1.5v1.5h-1.5zM472.5 401.2h1.5v1.5h-1.5zM448 433h1.5v1.5h-1.5zM468.2 424h1.5v1.5h-1.5zM479.6 441.9h1.5v1.5h-1.5zM457.2 426.9h1.5v1.5h-1.5zM457.3 420.6h1.5v1.5h-1.5zM471.5 419h1.5v1.5h-1.5zM469.4 405.2h1.5v1.5h-1.5zM462.8 426.1h1.5v1.5h-1.5zM450.8 431.7h1.5v1.5h-1.5zM465.9 407.6h1.5v1.5h-1.5zM438.8 411.2h1.5v1.5h-1.5zM482.7 414.5h1.5v1.5h-1.5zM456.1 437h1.5v1.5h-1.5zM449 409.9h1.5v1.5h-1.5zM472.6 436h1.5v1.5h-1.5zM447.2 443.6h1.5v1.5h-1.5zM455 415.2h1.5v1.5h-1.5zM462.6 412.6h1.5v1.5h-1.5zM478.3 444.9h1.5v1.5h-1.5zM471.7 415.1h1.5v1.5h-1.5zM492.4 421.4h1.5v1.5h-1.5zM470.1 429.5h1.5v1.5h-1.5zM460.5 424.3h1.5v1.5h-1.5zM484.9 421.1h1.5v1.5h-1.5zM470.7 396.6h1.5v1.5h-1.5zM486.5 417.4h1.5v1.5h-1.5zM460 429.7h1.5v1.5h-1.5zM469.3 416.5h1.5v1.5h-1.5zM473.5 415.5h1.5v1.5h-1.5zM472.7 418.2h1.5v1.5h-1.5zM463.9 434.5h1.5v1.5h-1.5zM436.4 431.5h1.5v1.5h-1.5zM459.1 421.3h1.5v1.5h-1.5zM471.1 425.3h1.5v1.5h-1.5zM465.6 421h1.5v1.5h-1.5zM458.2 423.5h1.5v1.5h-1.5zM460.4 440.8h1.5v1.5h-1.5zM474.5 429h1.5v1.5h-1.5zM460 413.9h1.5v1.5h-1.5zM457.2 414.7h1.5v1.5h-1.5zM452.4 444.1h1.5v1.5h-1.5zM463.7 415.9h1.5v1.5h-1.5zM450 436.6h1.5v1.5h-1.5zM462.2 422.2h1.5v1.5h-1.5zM460 414h1.5v1.5h-1.5zM454.9 409.2h1.5v1.5h-1.5zM445 410.7h1.5v1.5h-1.5zM476.6 411.9h1.5v1.5h-1.5zM465.8 426.4h1.5v1.5h-1.5zM460.8 411.2h1.5v1.5h-1.5zM474.2 415.1h1.5v1.5h-1.5zM447.8 413.2h1.5v1.5h-1.5zM453.3 441.3h1.5v1.5h-1.5zM477.5 417.8h1.5v1.5h-1.5zM475.9 420h1.5v1.5h-1.5zM469.4 418.3h1.5v1.5h-1.5zM467.1 415.6h1.5v1.5h-1.5zM448.6 430.3h1.5v1.5h-1.5zM480.9 443.6h1.5v1.5h-1.5zM482.4 409.9h1.5v1.5h-1.5zM464.2 417.5h1.5v1.5h-1.5zM463.1 414.2h1.5v1.5h-1.5zM435.7 410.3h1.5v1.5h-1.5zM475.9 396.7h1.5v1.5h-1.5zM483.4 411.8h1.5v1.5h-1.5zM459.2 423.2h1.5v1.5h-1.5zM461.9 406.4h1.5v1.5h-1.5zM453 413.6h1.5v1.5h-1.5zM464 434.1h1.5v1.5h-1.5zM450.8 442.3h1.5v1.5h-1.5zM455.2 430.6h1.5v1.5h-1.5zM464.1 411.3h1.5v1.5h-1.5zM476.5 421.2h1.5v1.5h-1.5zM476.6 417.5h1.5v1.5h-1.5zM474.4 399.7h1.5v1.5h-1.5zM464.6 455h1.5v1.5h-1.5zM473.7 405.1h1.5v1.5h-1.5zM479.3 423.2h1.5v1.5h-1.5zM451.5 433.2h1.5v1.5h-1.5zM466.8 409.8h1.5v1.5h-1.5zM444.2 425.7h1.5v1.5h-1.5zM476.1 391.9h1.5v1.5h-1.5zM474.8 410.6h1.5v1.5h-1.5zM457.1 400.4h1.5v1.5h-1.5zM484.3 394.5h1.5v1.5h-1.5zM469.9 419.5h1.5v1.5h-1.5zM473.2 421.5h1.5v1.5h-1.5zM465.3 431h1.5v1.5h-1.5zM455.7 428.2h1.5v1.5h-1.5zM484.4 420.5h1.5v1.5h-1.5zM456.4 419.2h1.5v1.5h-1.5zM475.1 409.5h1.5v1.5h-1.5zM472.7 410.7h1.5v1.5h-1.5zM440.2 414.6h1.5v1.5h-1.5zM454.8 423.9h1.5v1.5h-1.5zM474.3 395.1h1.5v1.5h-1.5zM459.8 423.1h1.5v1.5h-1.5zM455.8 431.4h1.5v1.5h-1.5zM462.9 412.8h1.5v1.5h-1.5zM464.5 388.9h1.5v1.5h-1.5zM475.6 406.7h1.5v1.5h-1.5zM467.3 421.6h1.5v1.5h-1.5zM460.2 437.9h1.5v1.5h-1.5zM442.2 406.3h1.5v1.5h-1.5zM478 413.4h1.5v1.5h-1.5zM460.7 388.8h1.5v1.5h-1.5zM488.7 408.1h1.5v1.5h-1.5zM472.3 418.3h1.5v1.5h-1.5zM466.7 423.5h1.5v1.5h-1.5zM451.2 413.1h1.5v1.5h-1.5zM452.5 432.9h1.5v1.5h-1.5zM474.2 391.4h1.5v1.5h-1.5zM468.1 426.6h1.5v1.5h-1.5zM480.9 419.5h1.5v1.5h-1.5zM458.3 444h1.5v1.5h-1.5zM492.1 419.3h1.5v1.5h-1.5zM455.8 422.7h1.5v1.5h-1.5zM465.8 423.7h1.5v1.5h-1.5zM459.9 437.7h1.5v1.5h-1.5zM462.9 428.5h1.5v1.5h-1.5zM462.2 410.8h1.5v1.5h-1.5zM470.3 427.2h1.5v1.5h-1.5zM472.6 419.5h1.5v1.5h-1.5zM475.9 400h1.5v1.5h-1.5zM475.1 442.6h1.5v1.5h-1.5zM436.9 428.3h1.5v1.5h-1.5zM487.3 417.2h1.5v1.5h-1.5zM474.3 407.2h1.5v1.5h-1.5zM437.4 412.9h1.5v1.5h-1.5zM459.5 423.7h1.5v1.5h-1.5zM475 443.8h1.5v1.5h-1.5zM442.5 438h1.5v1.5h-1.5zM481.8 405.1h1.5v1.5h-1.5zM473.6 438.8h1.5v1.5h-1.5zM464.7 404.9h1.5v1.5h-1.5zM470 421.6h1.5v1.5h-1.5zM475.1 405.6h1.5v1.5h-1.5zM465.8 412.8h1.5v1.5h-1.5zM467.8 420.9h1.5v1.5h-1.5zM463.1 417.1h1.5v1.5h-1.5zM465.6 406h1.5v1.5h-1.5zM479.5 406h1.5v1.5h-1.5zM448.1 426.7h1.5v1.5h-1.5zM447 427.6h1.5v1.5h-1.5zM487.2 418.1h1.5v1.5h-1.5zM454.2 413.2h1.5v1.5h-1.5zM466.9 409.2h1.5v1.5h-1.5zM450.8 432.5h1.5v1.5h-1.5zM478 414.1h1.5v1.5h-1.5zM471.4 416.6h1.5v1.5h-1.5zM451.7 437.2h1.5v1.5h-1.5zM467.7 398.4h1.5v1.5h-1.5zM464 412.7h1.5v1.5h-1.5zM461.4 424.5h1.5v1.5h-1.5zM456.2 412h1.5v1.5h-1.5zM455.7 425.3h1.5v1.5h-1.5zM474.7 432.6h1.5v1.5h-1.5zM485.4 403.8h1.5v1.5h-1.5zM429.6 434.3h1.5v1.5h-1.5zM454.8 436h1.5v1.5h-1.5zM472.4 401h1.5v1.5h-1.5zM448.2 443h1.5v1.5h-1.5zM459.6 430.5h1.5v1.5h-1.5zM450.2 443.1h1.5v1.5h-1.5zM472.4 442.2h1.5v1.5h-1.5zM473.7 426.4h1.5v1.5h-1.5zM455.9 433.6h1.5v1.5h-1.5zM474.8 427.1h1.5v1.5h-1.5zM474.7 434.2h1.5v1.5h-1.5zM466.8 406.2h1.5v1.5h-1.5zM485.4 426.4h1.5v1.5h-1.5zM462.1 411.1h1.5v1.5h-1.5zM463.9 412.3h1.5v1.5h-1.5zM478.5 414.2h1.5v1.5h-1.5zM459.5 397.6h1.5v1.5h-1.5zM446.4 417.3h1.5v1.5h-1.5zM469.3 409.6h1.5v1.5h-1.5zM473.9 410.7h1.5v1.5h-1.5zM464 443h1.5v1.5h-1.5zM467.4 433.7h1.5v1.5h-1.5zM452.9 420h1.5v1.5h-1.5zM464.3 426.3h1.5v1.5h-1.5zM471.7 430.9h1.5v1.5h-1.5zM466.9 426.8h1.5v1.5h-1.5zM465.9 423.4h1.5v1.5h-1.5zM467.6 421h1.5v1.5h-1.5zM479 414.4h1.5v1.5h-1.5zM457 407.6h1.5v1.5h-1.5zM454.8 447.7h1.5v1.5h-1.5zM461.1 413.3h1.5v1.5h-1.5zM479.6 422.9h1.5v1.5h-1.5zM474.7 419.5h1.5v1.5h-1.5zM486.8 402.2h1.5v1.5h-1.5zM471.9 403.9h1.5v1.5h-1.5zM472.9 404.5h1.5v1.5h-1.5zM478 405.3h1.5v1.5h-1.5zM481.1 397.4h1.5v1.5h-1.5zM473.9 423.3h1.5v1.5h-1.5zM443.6 406h1.5v1.5h-1.5zM470.8 431.4h1.5v1.5h-1.5zM478.1 410.3h1.5v1.5h-1.5zM449.8 438h1.5v1.5h-1.5zM466.2 419.7h1.5v1.5h-1.5zM474.1 417h1.5v1.5h-1.5zM450.1 426.1h1.5v1.5h-1.5zM461.6 423.8h1.5v1.5h-1.5zM465.2 440.7h1.5v1.5h-1.5zM471.9 428.3h1.5v1.5h-1.5zM457.5 425.8h1.5v1.5h-1.5zM477.8 431.7h1.5v1.5h-1.5zM479.3 425.9h1.5v1.5h-1.5zM474.5 442.1h1.5v1.5h-1.5zM464.6 418.9h1.5v1.5h-1.5zM460.2 414.9h1.5v1.5h-1.5zM459.2 419.4h1.5v1.5h-1.5zM472 411.6h1.5v1.5h-1.5zM457.7 452h1.5v1.5h-1.5zM453.7 435.5h1.5v1.5h-1.5zM445.8 414h1.5v1.5h-1.5zM454.1 408.6h1.5v1.5h-1.5zM477.4 406.9h1.5v1.5h-1.5zM465.3 404.9h1.5v1.5h-1.5zM473.3 414.4h1.5v1.5h-1.5zM466.7 412.6h1.5v1.5h-1.5zM482.6 434.3h1.5v1.5h-1.5zM453.6 414.7h1.5v1.5h-1.5zM469.2 418.1h1.5v1.5h-1.5zM495.2 404.2h1.5v1.5h-1.5zM475.8 426.5h1.5v1.5h-1.5zM454.1 429.7h1.5v1.5h-1.5zM463.2 415.2h1.5v1.5h-1.5zM460.1 405.9h1.5v1.5h-1.5zM490 408h1.5v1.5h-1.5zM491.4 414.8h1.5v1.5h-1.5zM463.8 433.4h1.5v1.5h-1.5zM476.1 422.6h1.5v1.5h-1.5zM477.1 432h1.5v1.5h-1.5zM475.6 430.2h1.5v1.5h-1.5zM466.8 402.4h1.5v1.5h-1.5zM477.5 424.3h1.5v1.5h-1.5zM483.9 426h1.5v1.5h-1.5zM470 423.7h1.5v1.5h-1.5zM479.6 426h1.5v1.5h-1.5zM457 426.5h1.5v1.5h-1.5zM461 398.3h1.5v1.5h-1.5zM460.6 403h1.5v1.5h-1.5zM452.8 417.5h1.5v1.5h-1.5zM460.5 411.7h1.5v1.5h-1.5zM470.8 409h1.5v1.5h-1.5zM470.1 422.7h1.5v1.5h-1.5zM476.1 417.1h1.5v1.5h-1.5zM450 434.7h1.5v1.5h-1.5zM465 424.2h1.5v1.5h-1.5zM456.9 417.1h1.5v1.5h-1.5zM475.4 393.1h1.5v1.5h-1.5zM461.3 415.2h1.5v1.5h-1.5zM465.4 437.1h1.5v1.5h-1.5zM491.5 422.5h1.5v1.5h-1.5zM462.7 421.7h1.5v1.5h-1.5zM442.3 441.2h1.5v1.5h-1.5zM455.2 432.5h1.5v1.5h-1.5zM476.4 421.2h1.5v1.5h-1.5zM441.4 421.1h1.5v1.5h-1.5zM466.1 426h1.5v1.5h-1.5zM460.6 437.9h1.5v1.5h-1.5zM470 416.1h1.5v1.5h-1.5zM491.5 429.6h1.5v1.5h-1.5zM439 417h1.5v1.5h-1.5zM477.5 423.7h1.5v1.5h-1.5zM458.2 417.2h1.5v1.5h-1.5zM469.8 406.7h1.5v1.5h-1.5zM486.5 422.3h1.5v1.5h-1.5zM473.1 424.6h1.5v1.5h-1.5zM453 408.8h1.5v1.5h-1.5zM466.6 431h1.5v1.5h-1.5zM471.6 409.5h1.5v1.5h-1.5zM482.4 438h1.5v1.5h-1.5zM466.8 380.3h1.5v1.5h-1.5zM465.6 416.5h1.5v1.5h-1.5zM457.4 414.9h1.5v1.5h-1.5zM467.6 424.8h1.5v1.5h-1.5zM454.4 429.5h1.5v1.5h-1.5zM488.6 407.6h1.5v1.5h-1.5zM463.6 416.2h1.5v1.5h-1.5zM463 424.9h1.5v1.5h-1.5zM461.2 440.5h1.5v1.5h-1.5zM466.7 416.8h1.5v1.5h-1.5zM465.1 437.2h1.5v1.5h-1.5zM470.6 396.1h1.5v1.5h-1.5zM463.6 420.5h1.5v1.5h-1.5zM467 421.8h1.5v1.5h-1.5zM470.8 429h1.5v1.5h-1.5zM492.6 404.9h1.5v1.5h-1.5zM444.4 418.2h1.5v1.5h-1.5zM475.2 416.1h1.5v1.5h-1.5zM449.2 442.6h1.5v1.5h-1.5zM444.1 431.2h1.5v1.5h-1.5zM485 431.5h1.5v1.5h-1.5zM472 423.6h1.5v1.5h-1.5zM474.5 398.6h1.5v1.5h-1.5zM472.7 412.6h1.5v1.5h-1.5zM472.9 419.7h1.5v1.5h-1.5zM469 413.9h1.5v1.5h-1.5zM459.1 423.9h1.5v1.5h-1.5zM465.9 436.8h1.5v1.5h-1.5zM442.7 411h1.5v1.5h-1.5zM464.5 414.1h1.5v1.5h-1.5zM459.1 414.8h1.5v1.5h-1.5zM472.6 412.7h1.5v1.5h-1.5zM487.4 409.5h1.5v1.5h-1.5zM472 419.5h1.5v1.5h-1.5zM491.4 403h1.5v1.5h-1.5zM472.3 420.4h1.5v1.5h-1.5zM472.1 420.3h1.5v1.5h-1.5zM487.8 419h1.5v1.5h-1.5zM446.4 429.3h1.5v1.5h-1.5zM455.1 407h1.5v1.5h-1.5zM481.8 424.8h1.5v1.5h-1.5zM472.9 411.6h1.5v1.5h-1.5zM474 419.4h1.5v1.5h-1.5zM470.4 421.9h1.5v1.5h-1.5zM467.8 425h1.5v1.5h-1.5zM475.9 432.4h1.5v1.5h-1.5zM455 421.1h1.5v1.5h-1.5zM461.8 442.4h1.5v1.5h-1.5zM464.7 419.7h1.5v1.5h-1.5zM470.6 417.8h1.5v1.5h-1.5zM464.2 431.7h1.5v1.5h-1.5zM456.1 427.1h1.5v1.5h-1.5zM460.7 396.2h1.5v1.5h-1.5zM465.5 428.2h1.5v1.5h-1.5zM461 397.4h1.5v1.5h-1.5zM473.5 415.5h1.5v1.5h-1.5zM466.3 410.1h1.5v1.5h-1.5zM452.6 437.2h1.5v1.5h-1.5zM455.8 407.4h1.5v1.5h-1.5zM454.2 435.1h1.5v1.5h-1.5zM468.7 419.1h1.5v1.5h-1.5zM466.4 412.2h1.5v1.5h-1.5zM466.6 418.4h1.5v1.5h-1.5zM476.8 406h1.5v1.5h-1.5zM451.9 453.8h1.5v1.5h-1.5zM466.3 415.8h1.5v1.5h-1.5zM449.5 424.4h1.5v1.5h-1.5zM462.9 429.8h1.5v1.5h-1.5zM490.7 407.2h1.5v1.5h-1.5zM452.6 401h1.5v1.5h-1.5zM441 458.2h1.5v1.5h-1.5zM467.8 453.5h1.5v1.5h-1.5zM442.9 436.5h1.5v1.5h-1.5zM444.2 446.8h1.5v1.5h-1.5zM441.9 431.8h1.5v1.5h-1.5zM438 437.9h1.5v1.5h-1.5zM439.5 452.6h1.5v1.5h-1.5zM449.3 442.2h1.5v1.5h-1.5zM452.5 444.5h1.5v1.5h-1.5zM447.8 439.2h1.5v1.5h-1.5zM439.1 439.9h1.5v1.5h-1.5zM436.1 439.4h1.5v1.5h-1.5zM425.6 425.7h1.5v1.5h-1.5zM452.7 441.8h1.5v1.5h-1.5zM437.9 448h1.5v1.5h-1.5zM437.3 450.7h1.5v1.5h-1.5zM435 437h1.5v1.5h-1.5zM456 442.9h1.5v1.5h-1.5zM452.6 430.4h1.5v1.5h-1.5zM458.3 420h1.5v1.5h-1.5zM463.6 430.6h1.5v1.5h-1.5zM463.6 434.4h1.5v1.5h-1.5zM449.1 426.3h1.5v1.5h-1.5zM444.7 443.4h1.5v1.5h-1.5zM436.4 425.5h1.5v1.5h-1.5zM445.5 442.2h1.5v1.5h-1.5zM466.1 434.9h1.5v1.5h-1.5zM451.6 442.8h1.5v1.5h-1.5zM442.9 443.6h1.5v1.5h-1.5zM443.1 443h1.5v1.5h-1.5zM461 446.7h1.5v1.5h-1.5zM451.7 431.8h1.5v1.5h-1.5zM422.5 433h1.5v1.5h-1.5zM458.4 435.2h1.5v1.5h-1.5zM442.5 451.6h1.5v1.5h-1.5zM451 431.5h1.5v1.5h-1.5zM437.6 420.6h1.5v1.5h-1.5zM450.9 440.6h1.5v1.5h-1.5zM440.7 421.6h1.5v1.5h-1.5zM456.1 438.4h1.5v1.5h-1.5zM448.6 445.9h1.5v1.5h-1.5zM444.8 436.9h1.5v1.5h-1.5zM462.9 436h1.5v1.5h-1.5zM462.6 431.1h1.5v1.5h-1.5zM457.4 449h1.5v1.5h-1.5zM437.8 436.9h1.5v1.5h-1.5zM453.2 442.7h1.5v1.5h-1.5zM467.6 464.1h1.5v1.5h-1.5zM435.7 448.6h1.5v1.5h-1.5zM435.2 430.9h1.5v1.5h-1.5zM442.6 443.3h1.5v1.5h-1.5zM448.7 415.6h1.5v1.5h-1.5zM444.1 432.9h1.5v1.5h-1.5zM446.7 406.8h1.5v1.5h-1.5zM452.6 441.3h1.5v1.5h-1.5zM442.9 437.5h1.5v1.5h-1.5zM446.8 431.1h1.5v1.5h-1.5zM462.9 430.2h1.5v1.5h-1.5zM446.5 446.9h1.5v1.5h-1.5zM453.8 426.3h1.5v1.5h-1.5zM436.6 432.5h1.5v1.5h-1.5zM435.7 431.8h1.5v1.5h-1.5zM465.8 443.5h1.5v1.5h-1.5zM451.5 437.8h1.5v1.5h-1.5zM450.8 424.6h1.5v1.5h-1.5zM453.2 441.9h1.5v1.5h-1.5zM450.1 443.8h1.5v1.5h-1.5zM459.4 445.6h1.5v1.5h-1.5zM456 464.6h1.5v1.5h-1.5zM459.9 448.7h1.5v1.5h-1.5zM448.1 419.1h1.5v1.5h-1.5zM452.7 433.2h1.5v1.5h-1.5zM435.2 443h1.5v1.5h-1.5zM445.6 432.5h1.5v1.5h-1.5zM459.3 438h1.5v1.5h-1.5zM463.8 440.6h1.5v1.5h-1.5zM435.7 447.5h1.5v1.5h-1.5zM440 442.6h1.5v1.5h-1.5zM424.7 438.8h1.5v1.5h-1.5zM447.9 420.2h1.5v1.5h-1.5zM460.6 442.5h1.5v1.5h-1.5zM451.2 455.7h1.5v1.5h-1.5zM440.6 428h1.5v1.5h-1.5zM450.8 421.7h1.5v1.5h-1.5zM454.6 444.2h1.5v1.5h-1.5zM461.3 427.7h1.5v1.5h-1.5zM445.7 440.1h1.5v1.5h-1.5zM443.1 446.5h1.5v1.5h-1.5zM436.4 443.3h1.5v1.5h-1.5zM440.3 439.9h1.5v1.5h-1.5zM440.6 452.9h1.5v1.5h-1.5zM462.9 423.9h1.5v1.5h-1.5zM438.8 447.7h1.5v1.5h-1.5zM447.5 426.7h1.5v1.5h-1.5zM449.9 434h1.5v1.5h-1.5zM451.4 439.7h1.5v1.5h-1.5zM427.2 440.3h1.5v1.5h-1.5zM443.7 434.1h1.5v1.5h-1.5zM430.9 445.7h1.5v1.5h-1.5zM442 424.7h1.5v1.5h-1.5zM442.7 445.1h1.5v1.5h-1.5zM434.9 426.5h1.5v1.5h-1.5zM443.6 456.3h1.5v1.5h-1.5zM444.9 445.8h1.5v1.5h-1.5zM460.2 449.5h1.5v1.5h-1.5zM434.1 434h1.5v1.5h-1.5zM449.2 438.3h1.5v1.5h-1.5zM434.3 439.8h1.5v1.5h-1.5zM451.8 424.5h1.5v1.5h-1.5zM461.7 420.7h1.5v1.5h-1.5zM450.7 442.6h1.5v1.5h-1.5zM444.8 436.4h1.5v1.5h-1.5zM425.9 438.9h1.5v1.5h-1.5zM451.2 448.1h1.5v1.5h-1.5zM455.5 443.8h1.5v1.5h-1.5zM444.8 441.8h1.5v1.5h-1.5zM450.3 436.2h1.5v1.5h-1.5zM444.2 441.1h1.5v1.5h-1.5zM425.5 442.5h1.5v1.5h-1.5zM436.7 442.1h1.5v1.5h-1.5zM434.5 436.4h1.5v1.5h-1.5zM452.3 440.9h1.5v1.5h-1.5zM443.7 442.3h1.5v1.5h-1.5zM436.5 444.5h1.5v1.5h-1.5zM459.2 445.5h1.5v1.5h-1.5zM450.3 450.6h1.5v1.5h-1.5zM437.2 443.7h1.5v1.5h-1.5zM453 447.2h1.5v1.5h-1.5zM440.7 443.5h1.5v1.5h-1.5zM438.6 455.8h1.5v1.5h-1.5zM457.7 426h1.5v1.5h-1.5zM456.9 425.6h1.5v1.5h-1.5zM442.5 428.6h1.5v1.5h-1.5zM461.1 446h1.5v1.5h-1.5zM448.7 435.3h1.5v1.5h-1.5zM436.4 432.9h1.5v1.5h-1.5zM446.2 422.8h1.5v1.5h-1.5zM437.7 432.8h1.5v1.5h-1.5zM454.7 429.3h1.5v1.5h-1.5zM455 445.8h1.5v1.5h-1.5zM433.9 439.3h1.5v1.5h-1.5zM439.6 439.3h1.5v1.5h-1.5zM455.9 446.7h1.5v1.5h-1.5zM461.7 440.2h1.5v1.5h-1.5zM440.8 438.3h1.5v1.5h-1.5zM460.9 430.9h1.5v1.5h-1.5zM447.6 451.1h1.5v1.5h-1.5zM453.1 438.2h1.5v1.5h-1.5zM435 426.8h1.5v1.5h-1.5zM462.8 441.4h1.5v1.5h-1.5zM430.4 413.5h1.5v1.5h-1.5zM445 408.5h1.5v1.5h-1.5zM405.7 402.9h1.5v1.5h-1.5zM428.7 408.1h1.5v1.5h-1.5zM451 415.7h1.5v1.5h-1.5zM373.1 438.1h1.5v1.5h-1.5zM419.3 435.8h1.5v1.5h-1.5zM438.7 421.3h1.5v1.5h-1.5zM436.8 418.4h1.5v1.5h-1.5zM377.1 445.5h1.5v1.5h-1.5zM381.4 432.1h1.5v1.5h-1.5zM459.5 409.5h1.5v1.5h-1.5zM408.2 439.4h1.5v1.5h-1.5zM413.2 430.2h1.5v1.5h-1.5zM377.6 434.4h1.5v1.5h-1.5zM416.9 436.3h1.5v1.5h-1.5zM460.9 399.6h1.5v1.5h-1.5zM338.2 463.6h1.5v1.5h-1.5zM345.5 461.5h1.5v1.5h-1.5zM470.3 407.6h1.5v1.5h-1.5zM436.9 419h1.5v1.5h-1.5zM383.7 443.7h1.5v1.5h-1.5zM390.4 421.1h1.5v1.5h-1.5zM406.8 409.4h1.5v1.5h-1.5zM443.1 413.5h1.5v1.5h-1.5zM431.4 409.9h1.5v1.5h-1.5zM428.3 431.9h1.5v1.5h-1.5zM410 429.9h1.5v1.5h-1.5zM409 433.3h1.5v1.5h-1.5zM408.9 415.1h1.5v1.5h-1.5zM435.7 423h1.5v1.5h-1.5zM410.5 438.2h1.5v1.5h-1.5zM434.8 424.6h1.5v1.5h-1.5zM394.3 437.9h1.5v1.5h-1.5zM433.4 417.2h1.5v1.5h-1.5zM386.6 445.1h1.5v1.5h-1.5zM410.5 441h1.5v1.5h-1.5zM432.6 444.1h1.5v1.5h-1.5zM361.4 425h1.5v1.5h-1.5zM416.6 416.8h1.5v1.5h-1.5zM415.7 420.7h1.5v1.5h-1.5zM467.8 387.5h1.5v1.5h-1.5zM414.4 422.6h1.5v1.5h-1.5zM418.3 413.1h1.5v1.5h-1.5zM417.4 414.5h1.5v1.5h-1.5zM411.7 425.7h1.5v1.5h-1.5zM452.4 417.3h1.5v1.5h-1.5zM383.4 426.3h1.5v1.5h-1.5zM444.8 413.7h1.5v1.5h-1.5zM438.8 423.8h1.5v1.5h-1.5zM377.3 449.2h1.5v1.5h-1.5zM409.4 411.6h1.5v1.5h-1.5zM446.1 416.8h1.5v1.5h-1.5zM469.2 407.2h1.5v1.5h-1.5zM409.7 429.5h1.5v1.5h-1.5zM383 453.2h1.5v1.5h-1.5zM442.2 404.6h1.5v1.5h-1.5zM479.7 397.3h1.5v1.5h-1.5zM413.2 439.4h1.5v1.5h-1.5zM461.4 428.3h1.5v1.5h-1.5zM366.2 434.3h1.5v1.5h-1.5zM385.5 447.8h1.5v1.5h-1.5zM381 440h1.5v1.5h-1.5zM441.5 429.4h1.5v1.5h-1.5zM447.6 397.6h1.5v1.5h-1.5zM387.1 435.4h1.5v1.5h-1.5zM412.2 438.7h1.5v1.5h-1.5zM464.7 394.1h1.5v1.5h-1.5zM436.3 390.5h1.5v1.5h-1.5zM457.4 418.3h1.5v1.5h-1.5zM402.9 427h1.5v1.5h-1.5zM404.3 451.5h1.5v1.5h-1.5zM428.6 441.1h1.5v1.5h-1.5zM423.2 438.2h1.5v1.5h-1.5zM444.3 398.4h1.5v1.5h-1.5zM390.7 444.6h1.5v1.5h-1.5zM437.1 411.7h1.5v1.5h-1.5zM405.4 430.3h1.5v1.5h-1.5zM444.2 429.3h1.5v1.5h-1.5zM415.5 391.2h1.5v1.5h-1.5zM407.7 457.5h1.5v1.5h-1.5zM379.1 466.2h1.5v1.5h-1.5zM409.8 418.6h1.5v1.5h-1.5zM421.1 410.2h1.5v1.5h-1.5zM429.7 421.6h1.5v1.5h-1.5zM426.6 431.4h1.5v1.5h-1.5zM391.3 423.3h1.5v1.5h-1.5zM445.9 427.5h1.5v1.5h-1.5zM464.4 424.8h1.5v1.5h-1.5zM433.1 425.2h1.5v1.5h-1.5zM404.5 442.1h1.5v1.5h-1.5zM385.1 431.7h1.5v1.5h-1.5zM403.9 429.4h1.5v1.5h-1.5zM431 437.1h1.5v1.5h-1.5zM446.7 397.1h1.5v1.5h-1.5zM458.2 416.3h1.5v1.5h-1.5zM436.4 402.3h1.5v1.5h-1.5zM443 425.6h1.5v1.5h-1.5zM401.5 424.6h1.5v1.5h-1.5zM451.9 431.1h1.5v1.5h-1.5zM420 443.2h1.5v1.5h-1.5zM413.1 428h1.5v1.5h-1.5zM412.4 437.7h1.5v1.5h-1.5zM463.6 406.4h1.5v1.5h-1.5zM423.5 433h1.5v1.5h-1.5zM443.5 416.7h1.5v1.5h-1.5zM403.8 445.6h1.5v1.5h-1.5zM416 439.1h1.5v1.5h-1.5zM421.2 443.4h1.5v1.5h-1.5zM442.8 403.5h1.5v1.5h-1.5zM370.6 443.7h1.5v1.5h-1.5zM410.7 422.8h1.5v1.5h-1.5zM429.1 418.3h1.5v1.5h-1.5zM348.8 451.5h1.5v1.5h-1.5zM423.7 429.9h1.5v1.5h-1.5zM464.7 417.3h1.5v1.5h-1.5zM426.9 405.7h1.5v1.5h-1.5zM380.7 424.7h1.5v1.5h-1.5zM455.4 406.9h1.5v1.5h-1.5zM383.1 430.8h1.5v1.5h-1.5zM420.9 334.4h1.5v1.5h-1.5zM417.2 312.1h1.5v1.5h-1.5zM388.5 319h1.5v1.5h-1.5zM422.1 332.4h1.5v1.5h-1.5zM383.3 326.8h1.5v1.5h-1.5zM382.7 320.6h1.5v1.5h-1.5zM382 328.5h1.5v1.5h-1.5zM415.4 312.5h1.5v1.5h-1.5zM404 322h1.5v1.5h-1.5zM384.7 329.1h1.5v1.5h-1.5zM392.8 315.3h1.5v1.5h-1.5zM396.7 332.3h1.5v1.5h-1.5zM391.1 329.8h1.5v1.5h-1.5zM419.8 320.1h1.5v1.5h-1.5zM395.1 334.9h1.5v1.5h-1.5zM391.6 313.2h1.5v1.5h-1.5zM383.2 317.9h1.5v1.5h-1.5zM384 323.4h1.5v1.5h-1.5zM417.5 327.1h1.5v1.5h-1.5zM418.4 333.2h1.5v1.5h-1.5zM381.5 331.7h1.5v1.5h-1.5zM387.8 331.9h1.5v1.5h-1.5zM400 331.7h1.5v1.5h-1.5zM389.4 315.5h1.5v1.5h-1.5zM401.3 332.5h1.5v1.5h-1.5zM383.3 319.3h1.5v1.5h-1.5zM382 325.2h1.5v1.5h-1.5zM409.8 332.4h1.5v1.5h-1.5zM395.2 314.8h1.5v1.5h-1.5zM386.8 323.6h1.5v1.5h-1.5zM506.9 480.5h1.5v1.5h-1.5zM409 534.8h1.5v1.5h-1.5zM441.7 538.1h1.5v1.5h-1.5zM496.3 502.5h1.5v1.5h-1.5zM372.6 469.5h1.5v1.5h-1.5zM382.8 497h1.5v1.5h-1.5zM426.8 452.8h1.5v1.5h-1.5zM352.5 488h1.5v1.5h-1.5zM357.2 481h1.5v1.5h-1.5zM479.9 493.8h1.5v1.5h-1.5zM451.8 468.5h1.5v1.5h-1.5zM344.5 480.6h1.5v1.5h-1.5zM409.2 473h1.5v1.5h-1.5zM501.3 442h1.5v1.5h-1.5zM489.2 477.4h1.5v1.5h-1.5zM330.5 505.8h1.5v1.5h-1.5zM374 503.9h1.5v1.5h-1.5zM412 499.3h1.5v1.5h-1.5zM410.9 476.9h1.5v1.5h-1.5zM511.9 519.9h1.5v1.5h-1.5zM469.6 440.9h1.5v1.5h-1.5zM346.7 524.1h1.5v1.5h-1.5zM474.3 474.9h1.5v1.5h-1.5zM406.3 492.7h1.5v1.5h-1.5zM346.1 455.6h1.5v1.5h-1.5zM518 451.9h1.5v1.5h-1.5zM330.6 478.2h1.5v1.5h-1.5zM500.7 504.5h1.5v1.5h-1.5zM384.7 462.2h1.5v1.5h-1.5zM378.7 453.3h1.5v1.5h-1.5zM421.1 455.1h1.5v1.5h-1.5zM345.1 501h1.5v1.5h-1.5zM350.2 529.1h1.5v1.5h-1.5zM498.6 534.5h1.5v1.5h-1.5zM438.3 493h1.5v1.5h-1.5zM487.8 533.3h1.5v1.5h-1.5zM394.1 487.1h1.5v1.5h-1.5zM353.1 508.1h1.5v1.5h-1.5zM460.3 494.1h1.5v1.5h-1.5zM459.8 534.2h1.5v1.5h-1.5zM350.7 441.1h1.5v1.5h-1.5zM355.4 501.6h1.5v1.5h-1.5zM437.6 531.6h1.5v1.5h-1.5zM421.9 442.6h1.5v1.5h-1.5zM400.7 502.2h1.5v1.5h-1.5zM356.7 493.6h1.5v1.5h-1.5zM357.5 455.7h1.5v1.5h-1.5zM414.8 508.2h1.5v1.5h-1.5zM491.4 497h1.5v1.5h-1.5zM372.2 461.4h1.5v1.5h-1.5zM416 499.4h1.5v1.5h-1.5zM438.2 496.5h1.5v1.5h-1.5zM413.1 536.9h1.5v1.5h-1.5zM376.5 455.3h1.5v1.5h-1.5zM462.1 474.7h1.5v1.5h-1.5zM462.8 446.4h1.5v1.5h-1.5zM392 528.7h1.5v1.5h-1.5zM398.1 535.1h1.5v1.5h-1.5zM402.2 492.1h1.5v1.5h-1.5zM412.6 454.5h1.5v1.5h-1.5zM423.6 474.4h1.5v1.5h-1.5zM396.2 471.3h1.5v1.5h-1.5zM370.4 470.2h1.5v1.5h-1.5zM333.4 533.2h1.5v1.5h-1.5zM444.4 500.9h1.5v1.5h-1.5zM379.9 444.5h1.5v1.5h-1.5zM421.7 456.8h1.5v1.5h-1.5zM492.9 504.8h1.5v1.5h-1.5zM439 524.8h1.5v1.5h-1.5zM460.6 467.5h1.5v1.5h-1.5zM476.4 456.9h1.5v1.5h-1.5zM348.3 531.5h1.5v1.5h-1.5zM470.8 505.6h1.5v1.5h-1.5zM493.7 539.4h1.5v1.5h-1.5zM476.4 497.4h1.5v1.5h-1.5zM418.7 513.3h1.5v1.5h-1.5zM422.7 464.6h1.5v1.5h-1.5zM462.2 534.7h1.5v1.5h-1.5zM382 452.3h1.5v1.5h-1.5zM368.1 476.7h1.5v1.5h-1.5zM459.6 506.4h1.5v1.5h-1.5zM505.5 451.4h1.5v1.5h-1.5zM514.3 481.9h1.5v1.5h-1.5zM405.7 536.7h1.5v1.5h-1.5zM475.9 523.1h1.5v1.5h-1.5zM331.5 419.2h1.5v1.5h-1.5zM327.7 418.7h1.5v1.5h-1.5zM339.4 419h1.5v1.5h-1.5zM339.5 412.6h1.5v1.5h-1.5zM337.7 410.9h1.5v1.5h-1.5zM329.9 410.4h1.5v1.5h-1.5zM332.7 410.6h1.5v1.5h-1.5zM335.1 419.2h1.5v1.5h-1.5zM306.7 410h1.5v1.5h-1.5zM332 410.5h1.5v1.5h-1.5zM300 470h1.5v1.5h-1.5zM310 476h1.5v1.5h-1.5zM280 495h1.5v1.5h-1.5zM379.2 408.7h1.5v1.5h-1.5zM397.9 384.3h1.5v1.5h-1.5zM337.6 409.5h1.5v1.5h-1.5zM423.6 383.7h1.5v1.5h-1.5zM417.2 397.2h1.5v1.5h-1.5zM338.3 401.3h1.5v1.5h-1.5zM355.6 393.4h1.5v1.5h-1.5zM408.9 410.5h1.5v1.5h-1.5zM406.6 400.7h1.5v1.5h-1.5zM361.7 408.4h1.5v1.5h-1.5zM375.3 384.7h1.5v1.5h-1.5zM390.9 381.2h1.5v1.5h-1.5zM398.7 414.1h1.5v1.5h-1.5zM338.6 417.5h1.5v1.5h-1.5zM343.1 383.1h1.5v1.5h-1.5zM338.7 404h1.5v1.5h-1.5zM403.1 387.2h1.5v1.5h-1.5zM411 384.4h1.5v1.5h-1.5zM385.5 411.3h1.5v1.5h-1.5zM369.9 394.7h1.5v1.5h-1.5zM397.3 404.7h1.5v1.5h-1.5zM331.1 402.7h1.5v1.5h-1.5zM392.4 410.1h1.5v1.5h-1.5zM364.5 404.1h1.5v1.5h-1.5zM419.1 402.5h1.5v1.5h-1.5zM428.3 403.5h1.5v1.5h-1.5zM409.2 410.2h1.5v1.5h-1.5zM390.8 416h1.5v1.5h-1.5zM333.9 417.6h1.5v1.5h-1.5zM425.6 398.1h1.5v1.5h-1.5zM387.8 387.8h1.5v1.5h-1.5zM364.1 400.8h1.5v1.5h-1.5zM408.8 380.2h1.5v1.5h-1.5zM353.6 413.5h1.5v1.5h-1.5zM341.6 397.9h1.5v1.5h-1.5zM415.4 416.2h1.5v1.5h-1.5zM409.3 418.9h1.5v1.5h-1.5zM342 382.5h1.5v1.5h-1.5zM362.4 405.1h1.5v1.5h-1.5zM406.1 396.4h1.5v1.5h-1.5zM595.8 394.1h1.5v1.5h-1.5zM623.5 398.6h1.5v1.5h-1.5z" fill="#e653e0"/>
<ellipse cx="399.9" cy="440.5" rx="65.5" ry="30.5" transform="rotate(-27 399.9 440.5)" fill="none" stroke="#ec1c24" stroke-width="2.6"/>
<ellipse cx="483.8" cy="382.3" rx="43.6" ry="22.2" transform="rotate(-26.1 483.8 382.3)" fill="none" stroke="#f39a1e" stroke-width="2.6"/>
<ellipse cx="516.3" cy="389.0" rx="50.8" ry="23.5" transform="rotate(-29 516.3 389.0)" fill="none" stroke="#1a2ee6" stroke-width="2.6"/>
<ellipse cx="477.9" cy="396.2" rx="26.6" ry="15.3" transform="rotate(-30.8 477.9 396.2)" fill="none" stroke="#e61ee6" stroke-width="2.6"/>
<line x1="378.1" y1="387.1" x2="387.5" y2="404.9" stroke="#000" stroke-width="2.6"/><path d="M390.5 410.7L383.6 405.8L390.4 402.3z" fill="#000"/>
<line x1="471.6" y1="349.6" x2="471.6" y2="372.5" stroke="#000" stroke-width="2.6"/><path d="M471.6 379L467.8 371.5L475.4 371.5z" fill="#000"/>
<line x1="534.4" y1="324.2" x2="518.8" y2="349.1" stroke="#000" stroke-width="2.6"/><path d="M515.4 354.6L516.2 346.2L522.6 350.3z" fill="#000"/>
<line x1="571.3" y1="417.4" x2="552.4" y2="398.9" stroke="#000" stroke-width="2.6"/><path d="M547.8 394.3L555.8 396.8L550.5 402.3z" fill="#000"/>
<rect x="429" y="500.5" width="293" height="16.5" fill="#fff"/>
<rect x="308.5" y="516.6" width="413.5" height="27" fill="#fff"/>
<text x="435.4" y="512.9" font-size="10.3" font-weight="bold" fill="#111" stroke="#111" stroke-width="0.3">Variable density due to variable rock strength for sands</text>
<text x="317.3" y="535.2" font-size="10.3" font-weight="bold" fill="#111" stroke="#111" stroke-width="0.3">Linear sonic-density relation due to consistent competence for sands and shale</text>
<text x="261.5" y="329.6" font-size="14.6" font-weight="bold" fill="#a03814" stroke="#a03814" stroke-width="0.15">RHOB-DT</text>
<text x="336.5" y="377.6" font-size="17.6" fill="#9a1520" stroke="#9a1520" stroke-width="0.3">Sand</text>
<text x="436.5" y="346.6" font-size="17.5" fill="#9a1520" stroke="#9a1520" stroke-width="0.3">Sand-2</text>
<text x="542.1" y="333.9" font-size="17.7" fill="#9a1520" stroke="#9a1520" stroke-width="0.3">Sand-3</text>
<text x="585.4" y="427.1" font-size="17.7" fill="#9a1520" stroke="#9a1520" stroke-width="0.3">Shale</text>
<text x="241.2" y="313.9" font-size="8.5" font-weight="bold" fill="#111" stroke="#111" stroke-width="0.3" text-anchor="end">2.58</text>
<text x="241.2" y="354.4" font-size="8.5" font-weight="bold" fill="#111" stroke="#111" stroke-width="0.3" text-anchor="end">2.34</text>
<text x="241.2" y="404.7" font-size="8.5" font-weight="bold" fill="#111" stroke="#111" stroke-width="0.3" text-anchor="end">2.10</text>
<text x="241.2" y="453.7" font-size="8.5" font-weight="bold" fill="#111" stroke="#111" stroke-width="0.3" text-anchor="end">1.87</text>
<text x="241.2" y="503.9" font-size="8.5" font-weight="bold" fill="#111" stroke="#111" stroke-width="0.3" text-anchor="end">1.63</text>
<text x="241.2" y="544" font-size="8.5" font-weight="bold" fill="#111" stroke="#111" stroke-width="0.3" text-anchor="end">1.39</text>
<text x="257.1" y="557.9" font-size="8.5" font-weight="bold" fill="#111" stroke="#111" stroke-width="0.3" text-anchor="middle">240</text>
<text x="346.9" y="557.9" font-size="8.5" font-weight="bold" fill="#111" stroke="#111" stroke-width="0.3" text-anchor="middle">200</text>
<text x="440.2" y="557.9" font-size="8.5" font-weight="bold" fill="#111" stroke="#111" stroke-width="0.3" text-anchor="middle">160</text>
<text x="532.9" y="557.9" font-size="8.5" font-weight="bold" fill="#111" stroke="#111" stroke-width="0.3" text-anchor="middle">100</text>
<text x="628.3" y="557.9" font-size="8.5" font-weight="bold" fill="#111" stroke="#111" stroke-width="0.3" text-anchor="middle">80</text>
<text x="712.7" y="557.9" font-size="8.5" font-weight="bold" fill="#111" stroke="#111" stroke-width="0.3" text-anchor="middle">40</text>
<text x="460.5" y="555.8" font-size="9.6" fill="#111" stroke="#111" stroke-width="0.5">DT (µs/ft)</text>
<text x="217.8" y="413.8" font-size="10.4" font-weight="bold" fill="#111" stroke="#111" stroke-width="0.3" text-anchor="middle" transform="rotate(-90 217.8 413.8)">RHOB (g/cc)</text>
<rect x="726.4" y="309.9" width="2.1" height="36.3" fill="#f01818"/>
<rect x="726.4" y="346.2" width="2.1" height="38.6" fill="#e81ee8"/>
<rect x="726.4" y="384.8" width="2.1" height="64.3" fill="#f39a3a"/>
<rect x="726.4" y="449.1" width="2.1" height="95.1" fill="#2424e8"/>
<text x="739.8" y="310.2" font-size="8.5" font-weight="bold" fill="#111" stroke="#111" stroke-width="0.3" text-anchor="middle" transform="rotate(-90 739.8 310.2)">2408</text>
<text x="739.8" y="345.8" font-size="8.5" font-weight="bold" fill="#111" stroke="#111" stroke-width="0.3" text-anchor="middle" transform="rotate(-90 739.8 345.8)">4500</text>
<text x="739.8" y="389" font-size="8.5" font-weight="bold" fill="#111" stroke="#111" stroke-width="0.3" text-anchor="middle" transform="rotate(-90 739.8 389)">6600</text>
<text x="739.8" y="456.5" font-size="8.5" font-weight="bold" fill="#111" stroke="#111" stroke-width="0.3" text-anchor="middle" transform="rotate(-90 739.8 456.5)">10400</text>
<text x="739.8" y="528.3" font-size="8.5" font-weight="bold" fill="#111" stroke="#111" stroke-width="0.3" text-anchor="middle" transform="rotate(-90 739.8 528.3)">15319</text>
<rect x="2" y="2" width="741" height="559" fill="none" stroke="#1c1c1c" stroke-width="2"/>
<rect x="205" y="2" width="2" height="559" fill="#111"/>
<rect x="2" y="296" width="741" height="2" fill="#111"/>
</svg></body></html>
